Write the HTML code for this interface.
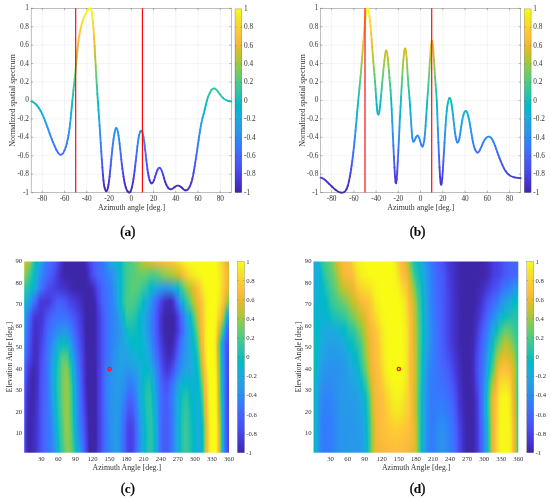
<!DOCTYPE html>
<html><head><meta charset="utf-8"><title>Figure</title>
<style>html,body{margin:0;padding:0;background:#fff}svg{display:block}text{font-family:'Liberation Serif', serif}.cap{font-weight:bold;font-size:13.5px;fill:#000;letter-spacing:-0.5px}.par{font-weight:normal;font-size:13.9px;stroke:#000;stroke-width:0.3px}</style></head><body>
<svg width="550" height="499" viewBox="0 0 550 499">
<rect width="550" height="499" fill="#fff"/>
<path d="M42.32 8.3V192.6M64.57 8.3V192.6M86.81 8.3V192.6M109.06 8.3V192.6M131.3 8.3V192.6M153.54 8.3V192.6M175.79 8.3V192.6M198.03 8.3V192.6M220.28 8.3V192.6M31.2 174.17H231.4M31.2 155.74H231.4M31.2 137.31H231.4M31.2 118.88H231.4M31.2 100.45H231.4M31.2 82.02H231.4M31.2 63.59H231.4M31.2 45.16H231.4M31.2 26.73H231.4" stroke="#262626" stroke-opacity="0.085" stroke-width="0.6" fill="none"/>
<rect x="31.2" y="8.3" width="200.2" height="184.3" fill="none" stroke="#262626" stroke-width="0.6" stroke-opacity="0.5"/>
<path d="M42.32 192.6v-2.0 M42.32 8.3v2.0M64.57 192.6v-2.0 M64.57 8.3v2.0M86.81 192.6v-2.0 M86.81 8.3v2.0M109.06 192.6v-2.0 M109.06 8.3v2.0M131.3 192.6v-2.0 M131.3 8.3v2.0M153.54 192.6v-2.0 M153.54 8.3v2.0M175.79 192.6v-2.0 M175.79 8.3v2.0M198.03 192.6v-2.0 M198.03 8.3v2.0M220.28 192.6v-2.0 M220.28 8.3v2.0M31.2 192.6h2.0 M231.4 192.6h-2.0M31.2 174.17h2.0 M231.4 174.17h-2.0M31.2 155.74h2.0 M231.4 155.74h-2.0M31.2 137.31h2.0 M231.4 137.31h-2.0M31.2 118.88h2.0 M231.4 118.88h-2.0M31.2 100.45h2.0 M231.4 100.45h-2.0M31.2 82.02h2.0 M231.4 82.02h-2.0M31.2 63.59h2.0 M231.4 63.59h-2.0M31.2 45.16h2.0 M231.4 45.16h-2.0M31.2 26.73h2.0 M231.4 26.73h-2.0M31.2 8.3h2.0 M231.4 8.3h-2.0" stroke="#262626" stroke-width="0.6" stroke-opacity="0.5" fill="none"/>
<g fill="none" stroke-width="1.85" stroke-linecap="round" stroke-linejoin="round">
<polyline points="31.2,101.37 31.76,101.55 32.31,101.76 32.87,102.03 33.42,102.34 33.98,102.7 34.54,103.1 35.09,103.56 35.65,104.06 36.2,104.62" stroke="#09bcbe"/>
<polyline points="36.2,104.62 36.76,105.22 37.32,105.88 37.87,106.59 38.43,107.35 38.99,108.17" stroke="#01b9c7"/>
<polyline points="38.99,108.17 39.54,109.05 40.1,109.98 40.65,110.96" stroke="#05b6ce"/>
<polyline points="40.65,110.96 41.21,112.01 41.77,113.11 42.32,114.27" stroke="#0eb2d4"/>
<polyline points="42.32,114.27 42.88,115.49 43.43,116.77 43.99,118.1" stroke="#17aedb"/>
<polyline points="43.99,118.1 44.55,119.47 45.1,120.89" stroke="#1ca9df"/>
<polyline points="45.1,120.89 45.66,122.34 46.22,123.82" stroke="#20a5e2"/>
<polyline points="46.22,123.82 46.77,125.33 47.33,126.87" stroke="#23a0e5"/>
<polyline points="47.33,126.87 47.88,128.42 48.44,129.98" stroke="#259be8"/>
<polyline points="48.44,129.98 49,131.55 49.55,133.12" stroke="#2896ec"/>
<polyline points="49.55,133.12 50.11,134.67 50.66,136.21" stroke="#2b90ef"/>
<polyline points="50.66,136.21 51.22,137.72 51.78,139.2" stroke="#2d8bf4"/>
<polyline points="51.78,139.2 52.33,140.65 52.89,142.05" stroke="#2e86f8"/>
<polyline points="52.89,142.05 53.44,143.41 54,144.73 54.56,145.99" stroke="#307ffb"/>
<polyline points="54.56,145.99 55.11,147.22 55.67,148.39 56.23,149.51" stroke="#3677fe"/>
<polyline points="56.23,149.51 56.78,150.58 57.34,151.57 57.89,152.46" stroke="#3d70ff"/>
<polyline points="57.89,152.46 58.45,153.24 59.01,153.89 59.56,154.38 60.12,154.7 60.67,154.82 61.23,154.73 61.79,154.43 62.34,153.94 62.9,153.25 63.45,152.39 64.01,151.36 64.57,150.17" stroke="#416cfe"/>
<polyline points="64.57,150.17 65.12,148.8 65.68,147.24" stroke="#3875fe"/>
<polyline points="65.68,147.24 66.23,145.45 66.79,143.41" stroke="#327cfc"/>
<polyline points="66.79,143.41 67.35,141.09 67.9,138.46" stroke="#2e85f8"/>
<polyline points="67.9,138.46 68.46,135.47" stroke="#2d8cf3"/>
<polyline points="68.46,135.47 69.02,132.04" stroke="#2b92ee"/>
<polyline points="69.02,132.04 69.57,128.07" stroke="#2698ea"/>
<polyline points="69.57,128.07 70.13,123.49" stroke="#249fe5"/>
<polyline points="70.13,123.49 70.68,118.26" stroke="#1ea7e1"/>
<polyline points="70.68,118.26 71.24,112.59" stroke="#16afd9"/>
<polyline points="71.24,112.59 71.8,106.72" stroke="#05b6ce"/>
<polyline points="71.8,106.72 72.35,100.91" stroke="#05bbc1"/>
<polyline points="72.35,100.91 72.91,95.3" stroke="#1cc0b3"/>
<polyline points="72.91,95.3 73.46,89.92" stroke="#2dc4a6"/>
<polyline points="73.46,89.92 74.02,84.78" stroke="#37c897"/>
<polyline points="74.02,84.78 74.58,79.84" stroke="#47cb87"/>
<polyline points="74.58,79.84 75.13,74.82" stroke="#5ccc76"/>
<polyline points="75.13,74.82 75.69,69.37" stroke="#75cc62"/>
<polyline points="75.69,69.37 76.25,63.24" stroke="#92ca4c"/>
<polyline points="76.25,63.24 76.8,56.75" stroke="#b0c636"/>
<polyline points="76.8,56.75 77.36,50.5" stroke="#cbc029"/>
<polyline points="77.36,50.5 77.91,45.05" stroke="#e1bc2b"/>
<polyline points="77.91,45.05 78.47,40.54" stroke="#f1ba37"/>
<polyline points="78.47,40.54 79.03,36.81" stroke="#fcbc3d"/>
<polyline points="79.03,36.81 79.58,33.67" stroke="#fec239"/>
<polyline points="79.58,33.67 80.14,30.93 80.69,28.44" stroke="#fdcb33"/>
<polyline points="80.69,28.44 81.25,26.13 81.81,24.01" stroke="#fad52d"/>
<polyline points="81.81,24.01 82.36,22.08 82.92,20.32" stroke="#f6de29"/>
<polyline points="82.92,20.32 83.47,18.75 84.03,17.34" stroke="#f5e526"/>
<polyline points="84.03,17.34 84.59,16.07 85.14,14.93 85.7,13.88" stroke="#f5ec22"/>
<polyline points="85.7,13.88 86.26,12.9 86.81,11.97 87.37,11.07" stroke="#f6f21d"/>
<polyline points="87.37,11.07 87.92,10.19 88.48,9.39 89.04,8.74 89.59,8.3" stroke="#f8f817"/>
<polyline points="89.59,8.3 90.15,8.3 90.7,8.59 91.26,9.86 91.82,12.27" stroke="#f8f917"/>
<polyline points="91.82,12.27 92.37,16.1" stroke="#f6ef20"/>
<polyline points="92.37,16.1 92.93,21.52" stroke="#f5e526"/>
<polyline points="92.93,21.52 93.48,28.4" stroke="#f9d82c"/>
<polyline points="93.48,28.4 94.04,36.58" stroke="#fec835"/>
<polyline points="94.04,36.58 94.6,45.89" stroke="#f6ba3b"/>
<polyline points="94.6,45.89 95.15,55.96" stroke="#d6be28"/>
<polyline points="95.15,55.96 95.71,66.24" stroke="#abc739"/>
<polyline points="95.71,66.24 96.27,76.21" stroke="#79cc5e"/>
<polyline points="96.27,76.21 96.82,85.45" stroke="#4dcb82"/>
<polyline points="96.82,85.45 97.38,94" stroke="#32c69e"/>
<polyline points="97.38,94 97.93,102.02" stroke="#1cc0b3"/>
<polyline points="97.93,102.02 98.49,109.74" stroke="#01b9c6"/>
<polyline points="98.49,109.74 99.05,117.51" stroke="#12b1d6"/>
<polyline points="99.05,117.51 99.6,125.7" stroke="#1fa6e2"/>
<polyline points="99.6,125.7 100.16,134.27" stroke="#2698ea"/>
<polyline points="100.16,134.27 100.71,142.96" stroke="#2d89f5"/>
<polyline points="100.71,142.96 101.27,151.47" stroke="#3579fd"/>
<polyline points="101.27,151.47 101.83,159.64" stroke="#4367fd"/>
<polyline points="101.83,159.64 102.38,167.39" stroke="#4758f8"/>
<polyline points="102.38,167.39 102.94,174.49" stroke="#4849ed"/>
<polyline points="102.94,174.49 103.49,180.5" stroke="#463ddf"/>
<polyline points="103.49,180.5 104.05,184.95" stroke="#4434cf"/>
<polyline points="104.05,184.95 104.61,187.81" stroke="#422fc1"/>
<polyline points="104.61,187.81 105.16,189.57 105.72,190.72" stroke="#402bb6"/>
<polyline points="105.72,190.72 106.28,191.22 106.83,190.86 107.39,189.64 107.94,187.59" stroke="#402ab3"/>
<polyline points="107.94,187.59 108.5,184.72" stroke="#422fc2"/>
<polyline points="108.5,184.72 109.06,180.98" stroke="#4434ce"/>
<polyline points="109.06,180.98 109.61,176.36" stroke="#463bdc"/>
<polyline points="109.61,176.36 110.17,171.02" stroke="#4744e8"/>
<polyline points="110.17,171.02 110.72,165.27" stroke="#484ff2"/>
<polyline points="110.72,165.27 111.28,159.43" stroke="#475af9"/>
<polyline points="111.28,159.43 111.84,153.78" stroke="#4465fd"/>
<polyline points="111.84,153.78 112.39,148.48" stroke="#3d70ff"/>
<polyline points="112.39,148.48 112.95,143.63" stroke="#337bfc"/>
<polyline points="112.95,143.63 113.5,139.36" stroke="#2e84f8"/>
<polyline points="113.5,139.36 114.06,135.73" stroke="#2d8bf4"/>
<polyline points="114.06,135.73 114.62,132.73" stroke="#2b91ef"/>
<polyline points="114.62,132.73 115.17,130.34 115.73,128.6" stroke="#2798ea"/>
<polyline points="115.73,128.6 116.29,127.82 116.84,128.34 117.4,129.97 117.95,132.39" stroke="#2699e9"/>
<polyline points="117.95,132.39 118.51,135.48" stroke="#2b92ee"/>
<polyline points="118.51,135.48 119.07,139.27" stroke="#2d8cf3"/>
<polyline points="119.07,139.27 119.62,143.8" stroke="#2e84f9"/>
<polyline points="119.62,143.8 120.18,148.88" stroke="#337afd"/>
<polyline points="120.18,148.88 120.73,154.2" stroke="#3e6fff"/>
<polyline points="120.73,154.2 121.29,159.43" stroke="#4465fd"/>
<polyline points="121.29,159.43 121.85,164.28" stroke="#475bf9"/>
<polyline points="121.85,164.28 122.4,168.73" stroke="#4852f4"/>
<polyline points="122.4,168.73 122.96,172.81" stroke="#484aed"/>
<polyline points="122.96,172.81 123.51,176.54" stroke="#4742e6"/>
<polyline points="123.51,176.54 124.07,179.91" stroke="#463bdd"/>
<polyline points="124.07,179.91 124.63,182.87" stroke="#4536d4"/>
<polyline points="124.63,182.87 125.18,185.35 125.74,187.3" stroke="#4331c6"/>
<polyline points="125.74,187.3 126.3,188.81 126.85,189.98 127.41,190.94" stroke="#402bb6"/>
<polyline points="127.41,190.94 127.96,191.74 128.52,192.33 129.08,192.6 129.63,192.48 130.19,191.94 130.74,190.96 131.3,189.5 131.86,187.56" stroke="#3f28ae"/>
<polyline points="131.86,187.56 132.41,185.12 132.97,182.2" stroke="#4331c6"/>
<polyline points="132.97,182.2 133.52,178.79" stroke="#4537d7"/>
<polyline points="133.52,178.79 134.08,174.92" stroke="#463ee1"/>
<polyline points="134.08,174.92 134.64,170.61" stroke="#4746ea"/>
<polyline points="134.64,170.61 135.19,165.94" stroke="#484ef1"/>
<polyline points="135.19,165.94 135.75,161.04" stroke="#4758f8"/>
<polyline points="135.75,161.04 136.31,156.06" stroke="#4561fc"/>
<polyline points="136.31,156.06 136.86,151.13" stroke="#416bfe"/>
<polyline points="136.86,151.13 137.42,146.4" stroke="#3875fe"/>
<polyline points="137.42,146.4 137.97,142.06" stroke="#307ffb"/>
<polyline points="137.97,142.06 138.53,138.29" stroke="#2e86f7"/>
<polyline points="138.53,138.29 139.09,135.29" stroke="#2d8df2"/>
<polyline points="139.09,135.29 139.64,133.14 140.2,131.72" stroke="#2a93ee"/>
<polyline points="140.2,131.72 140.75,130.95 141.31,130.72 141.87,131.11 142.42,132.25 142.98,134.27 143.53,137.24" stroke="#2994ed"/>
<polyline points="143.53,137.24 144.09,141.02" stroke="#2d88f6"/>
<polyline points="144.09,141.02 144.65,145.39" stroke="#2f81fa"/>
<polyline points="144.65,145.39 145.2,150.15" stroke="#3677fe"/>
<polyline points="145.2,150.15 145.76,155.1" stroke="#406dfe"/>
<polyline points="145.76,155.1 146.31,160.03" stroke="#4563fd"/>
<polyline points="146.31,160.03 146.87,164.75" stroke="#475af9"/>
<polyline points="146.87,164.75 147.43,169.08" stroke="#4851f3"/>
<polyline points="147.43,169.08 147.98,172.82" stroke="#4849ed"/>
<polyline points="147.98,172.82 148.54,175.9" stroke="#4743e7"/>
<polyline points="148.54,175.9 149.1,178.37 149.65,180.29" stroke="#463bdd"/>
<polyline points="149.65,180.29 150.21,181.74 150.76,182.74 151.32,183.28" stroke="#4435d1"/>
<polyline points="151.32,183.28 151.88,183.37 152.43,183.02 152.99,182.28 153.54,181.21 154.1,179.85" stroke="#4435d1"/>
<polyline points="154.1,179.85 154.66,178.26 155.21,176.53" stroke="#463bdd"/>
<polyline points="155.21,176.53 155.77,174.74 156.33,173" stroke="#4742e6"/>
<polyline points="156.33,173 156.88,171.41 157.44,170.05" stroke="#4848ec"/>
<polyline points="157.44,170.05 157.99,168.96 158.55,168.19 159.11,167.75 159.66,167.69 160.22,168.02 160.77,168.72 161.33,169.76 161.89,171.08 162.44,172.66 163,174.43" stroke="#484cef"/>
<polyline points="163,174.43 163.55,176.32 164.11,178.24" stroke="#473fe2"/>
<polyline points="164.11,178.24 164.67,180.11 165.22,181.86" stroke="#4538d8"/>
<polyline points="165.22,181.86 165.78,183.41 166.34,184.74" stroke="#4433cd"/>
<polyline points="166.34,184.74 166.89,185.88 167.45,186.83 168,187.6" stroke="#422fc1"/>
<polyline points="168,187.6 168.56,188.22 169.12,188.69 169.67,189.02 170.23,189.21 170.78,189.26 171.34,189.19 171.9,189 172.45,188.7 173.01,188.33 173.56,187.92 174.12,187.48 174.68,187.04" stroke="#412cb9"/>
<polyline points="174.68,187.04 175.23,186.64 175.79,186.28 176.34,185.98 176.9,185.76 177.46,185.62 178.01,185.57 178.57,185.64 179.13,185.81 179.68,186.07 180.24,186.42 180.79,186.83 181.35,187.28" stroke="#422fc2"/>
<polyline points="181.35,187.28 181.91,187.77 182.46,188.28 183.02,188.78 183.57,189.26 184.13,189.69 184.69,190.05 185.24,190.3" stroke="#402bb7"/>
<polyline points="185.24,190.3 185.8,190.42 186.36,190.39 186.91,190.18 187.47,189.8 188.02,189.26 188.58,188.54 189.14,187.67 189.69,186.64" stroke="#402bb6"/>
<polyline points="189.69,186.64 190.25,185.44 190.8,184.04 191.36,182.4" stroke="#4331c8"/>
<polyline points="191.36,182.4 191.92,180.47 192.47,178.22" stroke="#4538d7"/>
<polyline points="192.47,178.22 193.03,175.64 193.58,172.74" stroke="#4740e4"/>
<polyline points="193.58,172.74 194.14,169.59" stroke="#4849ed"/>
<polyline points="194.14,169.59 194.7,166.23" stroke="#484ff2"/>
<polyline points="194.7,166.23 195.25,162.71" stroke="#4756f6"/>
<polyline points="195.25,162.71 195.81,159.08" stroke="#475dfa"/>
<polyline points="195.81,159.08 196.36,155.38" stroke="#4564fd"/>
<polyline points="196.36,155.38 196.92,151.62" stroke="#416bfe"/>
<polyline points="196.92,151.62 197.48,147.83" stroke="#3a73fe"/>
<polyline points="197.48,147.83 198.03,144.03" stroke="#327bfc"/>
<polyline points="198.03,144.03 198.59,140.24" stroke="#2e83f9"/>
<polyline points="198.59,140.24 199.15,136.5" stroke="#2d8af5"/>
<polyline points="199.15,136.5 199.7,132.86" stroke="#2b90ef"/>
<polyline points="199.7,132.86 200.26,129.39" stroke="#2797eb"/>
<polyline points="200.26,129.39 200.81,126.15" stroke="#259ce7"/>
<polyline points="200.81,126.15 201.37,123.21" stroke="#22a1e4"/>
<polyline points="201.37,123.21 201.93,120.6 202.48,118.25" stroke="#1ea7e1"/>
<polyline points="202.48,118.25 203.04,116.08 203.59,113.99" stroke="#17aeda"/>
<polyline points="203.59,113.99 204.15,111.89 204.71,109.69" stroke="#0cb3d3"/>
<polyline points="204.71,109.69 205.26,107.37 205.82,105.02" stroke="#01b8c9"/>
<polyline points="205.82,105.02 206.38,102.72 206.93,100.55" stroke="#08bcbf"/>
<polyline points="206.93,100.55 207.49,98.61 208.04,96.94" stroke="#1abfb5"/>
<polyline points="208.04,96.94 208.6,95.52 209.16,94.25 209.71,93.08" stroke="#27c2ac"/>
<polyline points="209.71,93.08 210.27,91.97 210.82,90.96 211.38,90.09" stroke="#2fc5a3"/>
<polyline points="211.38,90.09 211.94,89.39 212.49,88.9 213.05,88.59 213.6,88.46 214.16,88.47 214.72,88.62 215.27,88.88 215.83,89.26 216.39,89.74 216.94,90.31 217.5,90.97 218.05,91.69" stroke="#33c69d"/>
<polyline points="218.05,91.69 218.61,92.45 219.17,93.23 219.72,94 220.28,94.75" stroke="#2cc4a7"/>
<polyline points="220.28,94.75 220.83,95.47 221.39,96.15 221.95,96.79 222.5,97.39 223.06,97.94" stroke="#23c1af"/>
<polyline points="223.06,97.94 223.61,98.44 224.17,98.88 224.73,99.28 225.28,99.63 225.84,99.94 226.4,100.21 226.95,100.45 227.51,100.66 228.06,100.84" stroke="#16bfb7"/>
<polyline points="228.06,100.84 228.62,100.99 229.18,101.13 229.73,101.25 230.29,101.36 230.84,101.46 231.4,101.56" stroke="#0ebebb"/>
</g>
<path d="M75.69 8.3V192.6" stroke="#ff0000" stroke-width="1.15"/>
<path d="M142.42 8.3V192.6" stroke="#ff0000" stroke-width="1.15"/>
<text x="42.32" y="200.8" font-size="7.3" text-anchor="middle" fill="#333333">-80</text>
<text x="64.57" y="200.8" font-size="7.3" text-anchor="middle" fill="#333333">-60</text>
<text x="86.81" y="200.8" font-size="7.3" text-anchor="middle" fill="#333333">-40</text>
<text x="109.06" y="200.8" font-size="7.3" text-anchor="middle" fill="#333333">-20</text>
<text x="131.3" y="200.8" font-size="7.3" text-anchor="middle" fill="#333333">0</text>
<text x="153.54" y="200.8" font-size="7.3" text-anchor="middle" fill="#333333">20</text>
<text x="175.79" y="200.8" font-size="7.3" text-anchor="middle" fill="#333333">40</text>
<text x="198.03" y="200.8" font-size="7.3" text-anchor="middle" fill="#333333">60</text>
<text x="220.28" y="200.8" font-size="7.3" text-anchor="middle" fill="#333333">80</text>
<text x="29" y="194.61" font-size="7.3" text-anchor="end" fill="#333333">-1</text>
<text x="29" y="176.18" font-size="7.3" text-anchor="end" fill="#333333">-0.8</text>
<text x="29" y="157.75" font-size="7.3" text-anchor="end" fill="#333333">-0.6</text>
<text x="29" y="139.32" font-size="7.3" text-anchor="end" fill="#333333">-0.4</text>
<text x="29" y="120.89" font-size="7.3" text-anchor="end" fill="#333333">-0.2</text>
<text x="29" y="102.46" font-size="7.3" text-anchor="end" fill="#333333">0</text>
<text x="29" y="84.03" font-size="7.3" text-anchor="end" fill="#333333">0.2</text>
<text x="29" y="65.6" font-size="7.3" text-anchor="end" fill="#333333">0.4</text>
<text x="29" y="47.17" font-size="7.3" text-anchor="end" fill="#333333">0.6</text>
<text x="29" y="28.74" font-size="7.3" text-anchor="end" fill="#333333">0.8</text>
<text x="29" y="10.31" font-size="7.3" text-anchor="end" fill="#333333">1</text>
<text x="98" y="209.7" font-size="7.8" textLength="67" lengthAdjust="spacingAndGlyphs" fill="#333333">Azimuth angle [deg.]</text>
<text transform="translate(15.3 146.8) rotate(-90)" font-size="7.8" textLength="92.5" lengthAdjust="spacingAndGlyphs" fill="#333333">Normalized spatial spectrum</text>
<linearGradient id="cb0" x1="0" y1="0" x2="0" y2="1"><stop offset="0" stop-color="#f9fb15"/><stop offset="0.03" stop-color="#f6ef20"/><stop offset="0.06" stop-color="#f5e327"/><stop offset="0.09" stop-color="#f9d62d"/><stop offset="0.12" stop-color="#feca33"/><stop offset="0.16" stop-color="#febe3c"/><stop offset="0.19" stop-color="#f1ba37"/><stop offset="0.22" stop-color="#debc2a"/><stop offset="0.25" stop-color="#c8c129"/><stop offset="0.28" stop-color="#afc637"/><stop offset="0.31" stop-color="#94ca4a"/><stop offset="0.34" stop-color="#77cc60"/><stop offset="0.38" stop-color="#5ccc76"/><stop offset="0.41" stop-color="#44ca8a"/><stop offset="0.44" stop-color="#34c79c"/><stop offset="0.47" stop-color="#28c2ab"/><stop offset="0.5" stop-color="#12beb9"/><stop offset="0.53" stop-color="#01b9c6"/><stop offset="0.56" stop-color="#0cb3d3"/><stop offset="0.59" stop-color="#1aacdd"/><stop offset="0.62" stop-color="#21a3e3"/><stop offset="0.66" stop-color="#269ae9"/><stop offset="0.69" stop-color="#2c90f0"/><stop offset="0.72" stop-color="#2e85f8"/><stop offset="0.75" stop-color="#347afd"/><stop offset="0.78" stop-color="#3f6efe"/><stop offset="0.81" stop-color="#4562fc"/><stop offset="0.84" stop-color="#4757f7"/><stop offset="0.88" stop-color="#484cef"/><stop offset="0.91" stop-color="#4741e5"/><stop offset="0.94" stop-color="#4536d5"/><stop offset="0.97" stop-color="#422ebf"/><stop offset="1" stop-color="#3e26a8"/></linearGradient>
<rect x="235" y="8.9" width="6.8" height="183.7" fill="url(#cb0)"/>
<rect x="235" y="8.9" width="6.8" height="183.7" fill="none" stroke="#262626" stroke-width="0.4" stroke-opacity="0.55"/>
<text x="244" y="11.01" font-size="7.3" fill="#333333">1</text>
<path d="M241.8 27.27h-1.2M235 27.27h1.2" stroke="#262626" stroke-width="0.4" stroke-opacity="0.7"/>
<text x="244" y="29.38" font-size="7.3" fill="#333333">0.8</text>
<path d="M241.8 45.64h-1.2M235 45.64h1.2" stroke="#262626" stroke-width="0.4" stroke-opacity="0.7"/>
<text x="244" y="47.75" font-size="7.3" fill="#333333">0.6</text>
<path d="M241.8 64.01h-1.2M235 64.01h1.2" stroke="#262626" stroke-width="0.4" stroke-opacity="0.7"/>
<text x="244" y="66.12" font-size="7.3" fill="#333333">0.4</text>
<path d="M241.8 82.38h-1.2M235 82.38h1.2" stroke="#262626" stroke-width="0.4" stroke-opacity="0.7"/>
<text x="244" y="84.49" font-size="7.3" fill="#333333">0.2</text>
<path d="M241.8 100.75h-1.2M235 100.75h1.2" stroke="#262626" stroke-width="0.4" stroke-opacity="0.7"/>
<text x="244" y="102.86" font-size="7.3" fill="#333333">0</text>
<path d="M241.8 119.12h-1.2M235 119.12h1.2" stroke="#262626" stroke-width="0.4" stroke-opacity="0.7"/>
<text x="244" y="121.23" font-size="7.3" fill="#333333">-0.2</text>
<path d="M241.8 137.49h-1.2M235 137.49h1.2" stroke="#262626" stroke-width="0.4" stroke-opacity="0.7"/>
<text x="244" y="139.6" font-size="7.3" fill="#333333">-0.4</text>
<path d="M241.8 155.86h-1.2M235 155.86h1.2" stroke="#262626" stroke-width="0.4" stroke-opacity="0.7"/>
<text x="244" y="157.97" font-size="7.3" fill="#333333">-0.6</text>
<path d="M241.8 174.23h-1.2M235 174.23h1.2" stroke="#262626" stroke-width="0.4" stroke-opacity="0.7"/>
<text x="244" y="176.34" font-size="7.3" fill="#333333">-0.8</text>
<text x="244" y="194.71" font-size="7.3" fill="#333333">-1</text>
<path d="M331.62 8.3V192.6M353.87 8.3V192.6M376.11 8.3V192.6M398.36 8.3V192.6M420.6 8.3V192.6M442.84 8.3V192.6M465.09 8.3V192.6M487.33 8.3V192.6M509.58 8.3V192.6M320.5 174.17H520.7M320.5 155.74H520.7M320.5 137.31H520.7M320.5 118.88H520.7M320.5 100.45H520.7M320.5 82.02H520.7M320.5 63.59H520.7M320.5 45.16H520.7M320.5 26.73H520.7" stroke="#262626" stroke-opacity="0.085" stroke-width="0.6" fill="none"/>
<rect x="320.5" y="8.3" width="200.2" height="184.3" fill="none" stroke="#262626" stroke-width="0.6" stroke-opacity="0.5"/>
<path d="M331.62 192.6v-2.0 M331.62 8.3v2.0M353.87 192.6v-2.0 M353.87 8.3v2.0M376.11 192.6v-2.0 M376.11 8.3v2.0M398.36 192.6v-2.0 M398.36 8.3v2.0M420.6 192.6v-2.0 M420.6 8.3v2.0M442.84 192.6v-2.0 M442.84 8.3v2.0M465.09 192.6v-2.0 M465.09 8.3v2.0M487.33 192.6v-2.0 M487.33 8.3v2.0M509.58 192.6v-2.0 M509.58 8.3v2.0M320.5 192.6h2.0 M520.7 192.6h-2.0M320.5 174.17h2.0 M520.7 174.17h-2.0M320.5 155.74h2.0 M520.7 155.74h-2.0M320.5 137.31h2.0 M520.7 137.31h-2.0M320.5 118.88h2.0 M520.7 118.88h-2.0M320.5 100.45h2.0 M520.7 100.45h-2.0M320.5 82.02h2.0 M520.7 82.02h-2.0M320.5 63.59h2.0 M520.7 63.59h-2.0M320.5 45.16h2.0 M520.7 45.16h-2.0M320.5 26.73h2.0 M520.7 26.73h-2.0M320.5 8.3h2.0 M520.7 8.3h-2.0" stroke="#262626" stroke-width="0.6" stroke-opacity="0.5" fill="none"/>
<g fill="none" stroke-width="1.85" stroke-linecap="round" stroke-linejoin="round">
<polyline points="320.5,177.58 321.06,177.68 321.61,177.85 322.17,178.08 322.72,178.37 323.28,178.7 323.84,179.08 324.39,179.49 324.95,179.94 325.5,180.42" stroke="#463adc"/>
<polyline points="325.5,180.42 326.06,180.92 326.62,181.44 327.17,181.97 327.73,182.51 328.29,183.05 328.84,183.59" stroke="#4435d1"/>
<polyline points="328.84,183.59 329.4,184.13 329.95,184.67 330.51,185.2 331.07,185.74 331.62,186.27 332.18,186.79" stroke="#4331c5"/>
<polyline points="332.18,186.79 332.73,187.32 333.29,187.84 333.85,188.34 334.4,188.84 334.96,189.31 335.51,189.77" stroke="#412cba"/>
<polyline points="335.51,189.77 336.07,190.2 336.63,190.61 337.18,190.99 337.74,191.33 338.3,191.64 338.85,191.92 339.41,192.15 339.96,192.35 340.52,192.5 341.08,192.6" stroke="#3f28ad"/>
<polyline points="341.08,192.6 341.63,192.6 342.19,192.6 342.74,192.6 343.3,192.47 343.86,192.24 344.41,191.9 344.97,191.41 345.52,190.76 346.08,189.9 346.64,188.82" stroke="#3e28ac"/>
<polyline points="346.64,188.82 347.19,187.48 347.75,185.84" stroke="#412dbd"/>
<polyline points="347.75,185.84 348.31,183.89 348.86,181.59" stroke="#4433cb"/>
<polyline points="348.86,181.59 349.42,178.97 349.97,176.03" stroke="#463adb"/>
<polyline points="349.97,176.03 350.53,172.78" stroke="#4743e7"/>
<polyline points="350.53,172.78 351.09,169.25" stroke="#4849ed"/>
<polyline points="351.09,169.25 351.64,165.43" stroke="#4850f3"/>
<polyline points="351.64,165.43 352.2,161.34" stroke="#4758f8"/>
<polyline points="352.2,161.34 352.75,156.96" stroke="#4660fb"/>
<polyline points="352.75,156.96 353.31,152.3" stroke="#4269fe"/>
<polyline points="353.31,152.3 353.87,147.36" stroke="#3b73fe"/>
<polyline points="353.87,147.36 354.42,142.12" stroke="#317efb"/>
<polyline points="354.42,142.12 354.98,136.58" stroke="#2d88f6"/>
<polyline points="354.98,136.58 355.54,130.71" stroke="#2a92ee"/>
<polyline points="355.54,130.71 356.09,124.58" stroke="#259ce7"/>
<polyline points="356.09,124.58 356.65,118.3" stroke="#1fa6e2"/>
<polyline points="356.65,118.3 357.2,111.98" stroke="#15afd9"/>
<polyline points="357.2,111.98 357.76,105.74" stroke="#03b7cc"/>
<polyline points="357.76,105.74 358.32,99.73" stroke="#08bcbe"/>
<polyline points="358.32,99.73 358.87,93.98" stroke="#21c1b0"/>
<polyline points="358.87,93.98 359.43,88.32" stroke="#30c5a2"/>
<polyline points="359.43,88.32 359.98,82.56" stroke="#3cc991"/>
<polyline points="359.98,82.56 360.54,76.49" stroke="#52cc7e"/>
<polyline points="360.54,76.49 361.1,70.06" stroke="#6fcd66"/>
<polyline points="361.1,70.06 361.65,63.3" stroke="#90ca4d"/>
<polyline points="361.65,63.3 362.21,56.22" stroke="#b1c635"/>
<polyline points="362.21,56.22 362.76,48.9" stroke="#d0c028"/>
<polyline points="362.76,48.9 363.32,41.56" stroke="#eabb30"/>
<polyline points="363.32,41.56 363.88,34.46" stroke="#fdbd3d"/>
<polyline points="363.88,34.46 364.43,27.85" stroke="#fdca33"/>
<polyline points="364.43,27.85 364.99,21.95" stroke="#f9d82c"/>
<polyline points="364.99,21.95 365.55,16.93" stroke="#f5e427"/>
<polyline points="365.55,16.93 366.1,12.93" stroke="#f5ed21"/>
<polyline points="366.1,12.93 366.66,10.1" stroke="#f7f41c"/>
<polyline points="366.66,10.1 367.21,8.56 367.77,8.41 368.33,9.67 368.88,12.2 369.44,15.9" stroke="#f7f61a"/>
<polyline points="369.44,15.9 369.99,20.64" stroke="#f5e625"/>
<polyline points="369.99,20.64 370.55,26.29" stroke="#f7db2a"/>
<polyline points="370.55,26.29 371.11,32.73" stroke="#fdce31"/>
<polyline points="371.11,32.73 371.66,39.81" stroke="#fec03b"/>
<polyline points="371.66,39.81 372.22,47.23" stroke="#efba35"/>
<polyline points="372.22,47.23 372.77,54.62" stroke="#d6be28"/>
<polyline points="372.77,54.62 373.33,61.63" stroke="#b8c431"/>
<polyline points="373.33,61.63 373.89,68.12" stroke="#99c946"/>
<polyline points="373.89,68.12 374.44,74.52" stroke="#78cc5f"/>
<polyline points="374.44,74.52 375,81.3" stroke="#59cc78"/>
<polyline points="375,81.3 375.56,88.91" stroke="#3dc990"/>
<polyline points="375.56,88.91 376.11,97.01" stroke="#2cc4a7"/>
<polyline points="376.11,97.01 376.67,104.65" stroke="#10beba"/>
<polyline points="376.67,104.65 377.22,110.59" stroke="#01b8ca"/>
<polyline points="377.22,110.59 377.78,113.8" stroke="#0db3d3"/>
<polyline points="377.78,113.8 378.34,114.66 378.89,113.69 379.45,110.92" stroke="#10b2d5"/>
<polyline points="379.45,110.92 380,106.55" stroke="#03b7cc"/>
<polyline points="380,106.55 380.56,101.16" stroke="#05bbc1"/>
<polyline points="380.56,101.16 381.12,95.23" stroke="#1cc0b4"/>
<polyline points="381.12,95.23 381.67,89" stroke="#2ec4a4"/>
<polyline points="381.67,89 382.23,82.68" stroke="#3bc993"/>
<polyline points="382.23,82.68 382.78,76.49" stroke="#52cc7e"/>
<polyline points="382.78,76.49 383.34,70.62" stroke="#6dcd67"/>
<polyline points="383.34,70.62 383.9,65.14" stroke="#8acb52"/>
<polyline points="383.9,65.14 384.45,60.12" stroke="#a3c83e"/>
<polyline points="384.45,60.12 385.01,55.62" stroke="#b9c430"/>
<polyline points="385.01,55.62 385.56,52.11" stroke="#cac129"/>
<polyline points="385.56,52.11 386.12,50.32 386.68,50.87 387.23,53.67 387.79,58.25" stroke="#cec028"/>
<polyline points="387.79,58.25 388.35,64.13" stroke="#aac73a"/>
<polyline points="388.35,64.13 388.9,70.76" stroke="#8ccb50"/>
<polyline points="388.9,70.76 389.46,77.55" stroke="#6acd69"/>
<polyline points="389.46,77.55 390.01,83.97" stroke="#4dcc82"/>
<polyline points="390.01,83.97 390.57,90.54" stroke="#37c897"/>
<polyline points="390.57,90.54 391.13,98.56" stroke="#28c3ab"/>
<polyline points="391.13,98.56 391.68,109.09" stroke="#05bbc1"/>
<polyline points="391.68,109.09 392.24,121.28" stroke="#15afd9"/>
<polyline points="392.24,121.28 392.79,133.63" stroke="#259de7"/>
<polyline points="392.79,133.63 393.35,145.53" stroke="#2d88f6"/>
<polyline points="393.35,145.53 393.91,156.72" stroke="#3d70ff"/>
<polyline points="393.91,156.72 394.46,167.24" stroke="#475bf9"/>
<polyline points="394.46,167.24 395.02,176.37" stroke="#4848ec"/>
<polyline points="395.02,176.37 395.57,182.31" stroke="#4639da"/>
<polyline points="395.57,182.31 396.13,183.33 396.69,179.24" stroke="#4536d3"/>
<polyline points="396.69,179.24 397.24,171.16" stroke="#4741e5"/>
<polyline points="397.24,171.16 397.8,161.01" stroke="#4853f4"/>
<polyline points="397.8,161.01 398.36,150.28" stroke="#4367fd"/>
<polyline points="398.36,150.28 398.91,139.15" stroke="#317efb"/>
<polyline points="398.91,139.15 399.47,127.75" stroke="#2a93ee"/>
<polyline points="399.47,127.75 400.02,116.75" stroke="#20a5e2"/>
<polyline points="400.02,116.75 400.58,106.49" stroke="#0bb4d2"/>
<polyline points="400.58,106.49 401.14,96.39" stroke="#0dbdbb"/>
<polyline points="401.14,96.39 401.69,86.24" stroke="#2fc5a2"/>
<polyline points="401.69,86.24 402.25,76.49" stroke="#4acb84"/>
<polyline points="402.25,76.49 402.8,67.63" stroke="#75cc61"/>
<polyline points="402.8,67.63 403.36,60.02" stroke="#9ec942"/>
<polyline points="403.36,60.02 403.92,54.04" stroke="#bdc32e"/>
<polyline points="403.92,54.04 404.47,50.03" stroke="#d2bf27"/>
<polyline points="404.47,50.03 405.03,48.29 405.59,49.13 406.14,52.7 406.7,59.13" stroke="#d2bf27"/>
<polyline points="406.7,59.13 407.25,67.74" stroke="#a0c941"/>
<polyline points="407.25,67.74 407.81,76.81" stroke="#74cd62"/>
<polyline points="407.81,76.81 408.37,84.68" stroke="#4dcc82"/>
<polyline points="408.37,84.68 408.92,91.26" stroke="#36c799"/>
<polyline points="408.92,91.26 409.48,97.67" stroke="#28c3aa"/>
<polyline points="409.48,97.67 410.03,105.02" stroke="#0ebdbb"/>
<polyline points="410.03,105.02 410.59,113.48" stroke="#04b6cd"/>
<polyline points="410.59,113.48 411.15,122.53" stroke="#1aabdd"/>
<polyline points="411.15,122.53 411.7,131.06" stroke="#249ee6"/>
<polyline points="411.7,131.06 412.26,137.31" stroke="#2b91ef"/>
<polyline points="412.26,137.31 412.81,140.6" stroke="#2d89f5"/>
<polyline points="412.81,140.6 413.37,141.74 413.93,141.53 414.48,140.56 415.04,139.34 415.6,138.15 416.15,137.05" stroke="#2e87f7"/>
<polyline points="416.15,137.05 416.71,136.13 417.26,135.54 417.82,135.52 418.38,136.15 418.93,137.33 419.49,138.9 420.04,140.7" stroke="#2d8cf3"/>
<polyline points="420.04,140.7 420.6,142.62 421.16,144.5" stroke="#2f82fa"/>
<polyline points="421.16,144.5 421.71,146.06 422.27,146.82 422.82,146.35 423.38,144.65 423.94,142.1 424.49,138.51" stroke="#307ffb"/>
<polyline points="424.49,138.51 425.05,132.96" stroke="#2c8ff1"/>
<polyline points="425.05,132.96 425.61,125.4" stroke="#269ae9"/>
<polyline points="425.61,125.4 426.16,116.9" stroke="#1ea7e1"/>
<polyline points="426.16,116.9 426.72,108.51" stroke="#0eb2d4"/>
<polyline points="426.72,108.51 427.27,100.45" stroke="#03bbc3"/>
<polyline points="427.27,100.45 427.83,92.56" stroke="#22c1b0"/>
<polyline points="427.83,92.56 428.39,84.64" stroke="#35c79b"/>
<polyline points="428.39,84.64 428.94,76.49" stroke="#4ecc81"/>
<polyline points="428.94,76.49 429.5,68.02" stroke="#74cd62"/>
<polyline points="429.5,68.02 430.05,59.53" stroke="#9ec942"/>
<polyline points="430.05,59.53 430.61,51.47" stroke="#c4c22b"/>
<polyline points="430.61,51.47 431.17,44.78" stroke="#e0bc2a"/>
<polyline points="431.17,44.78 431.72,40.81" stroke="#f1ba37"/>
<polyline points="431.72,40.81 432.28,40.8 432.83,44.67" stroke="#f3ba39"/>
<polyline points="432.83,44.67 433.39,51.34" stroke="#e1bc2b"/>
<polyline points="433.39,51.34 433.95,59.68" stroke="#c4c22b"/>
<polyline points="433.95,59.68 434.5,68.62" stroke="#9cc944"/>
<polyline points="434.5,68.62 435.06,77.12" stroke="#71cd65"/>
<polyline points="435.06,77.12 435.62,84.31" stroke="#4dcc82"/>
<polyline points="435.62,84.31 436.17,91.24" stroke="#36c898"/>
<polyline points="436.17,91.24 436.73,100.45" stroke="#24c2ae"/>
<polyline points="436.73,100.45 437.28,113.56" stroke="#01b8c8"/>
<polyline points="437.28,113.56 437.84,128.24" stroke="#1ea7e1"/>
<polyline points="437.84,128.24 438.4,142.17" stroke="#2c8ff0"/>
<polyline points="438.4,142.17 438.95,155.19" stroke="#3875fe"/>
<polyline points="438.95,155.19 439.51,167.14" stroke="#475cfa"/>
<polyline points="439.51,167.14 440.06,176.75" stroke="#4747eb"/>
<polyline points="440.06,176.75 440.62,182.83" stroke="#4539d9"/>
<polyline points="440.62,182.83 441.18,184.93 441.73,183.11 442.29,177.98" stroke="#4435d1"/>
<polyline points="442.29,177.98 442.84,170.31" stroke="#4743e7"/>
<polyline points="442.84,170.31 443.4,161.27" stroke="#4853f5"/>
<polyline points="443.4,161.27 443.96,151.88" stroke="#4465fd"/>
<polyline points="443.96,151.88 444.51,142.52" stroke="#3579fd"/>
<polyline points="444.51,142.52 445.07,133.4" stroke="#2d8bf4"/>
<polyline points="445.07,133.4 445.62,124.8" stroke="#269ae9"/>
<polyline points="445.62,124.8 446.18,117.17" stroke="#1ea7e1"/>
<polyline points="446.18,117.17 446.74,110.98" stroke="#13b1d7"/>
<polyline points="446.74,110.98 447.29,106.33" stroke="#03b7cc"/>
<polyline points="447.29,106.33 447.85,102.93" stroke="#02bbc3"/>
<polyline points="447.85,102.93 448.41,100.45 448.96,98.65" stroke="#11beba"/>
<polyline points="448.96,98.65 449.52,97.74 450.07,97.99 450.63,99.45 451.19,101.95" stroke="#18bfb6"/>
<polyline points="451.19,101.95 451.74,105.35" stroke="#05bbc1"/>
<polyline points="451.74,105.35 452.3,109.44" stroke="#01b8c9"/>
<polyline points="452.3,109.44 452.85,114.02" stroke="#0bb3d2"/>
<polyline points="452.85,114.02 453.41,118.88" stroke="#18addb"/>
<polyline points="453.41,118.88 453.97,123.81" stroke="#1fa6e1"/>
<polyline points="453.97,123.81 454.52,128.57" stroke="#249fe6"/>
<polyline points="454.52,128.57 455.08,132.9" stroke="#2797eb"/>
<polyline points="455.08,132.9 455.63,136.55" stroke="#2b90f0"/>
<polyline points="455.63,136.55 456.19,139.37" stroke="#2d8af4"/>
<polyline points="456.19,139.37 456.75,141.32 457.3,142.38" stroke="#2e85f8"/>
<polyline points="457.3,142.38 457.86,142.53 458.42,141.78 458.97,140.15 459.53,137.67" stroke="#2e85f8"/>
<polyline points="459.53,137.67 460.08,134.42" stroke="#2c8ef1"/>
<polyline points="460.08,134.42 460.64,130.71" stroke="#2994ed"/>
<polyline points="460.64,130.71 461.2,126.87" stroke="#269ae8"/>
<polyline points="461.2,126.87 461.75,123.21" stroke="#23a0e5"/>
<polyline points="461.75,123.21 462.31,120.01" stroke="#1fa6e2"/>
<polyline points="462.31,120.01 462.86,117.3 463.42,115.08" stroke="#1aacdd"/>
<polyline points="463.42,115.08 463.98,113.32 464.53,112.02" stroke="#11b1d6"/>
<polyline points="464.53,112.02 465.09,111.18 465.64,110.82 466.2,111 466.76,111.72 467.31,112.95 467.87,114.65 468.43,116.78" stroke="#0eb2d4"/>
<polyline points="468.43,116.78 468.98,119.3 469.54,122.13" stroke="#1ca9df"/>
<polyline points="469.54,122.13 470.09,125.22" stroke="#21a3e4"/>
<polyline points="470.09,125.22 470.65,128.51" stroke="#249ee6"/>
<polyline points="470.65,128.51 471.21,131.92" stroke="#2798ea"/>
<polyline points="471.21,131.92 471.76,135.32" stroke="#2a92ee"/>
<polyline points="471.76,135.32 472.32,138.58" stroke="#2d8cf3"/>
<polyline points="472.32,138.58 472.87,141.59" stroke="#2e87f7"/>
<polyline points="472.87,141.59 473.43,144.22 473.99,146.38" stroke="#307ffb"/>
<polyline points="473.99,146.38 474.54,148.1 475.1,149.47" stroke="#3777fe"/>
<polyline points="475.1,149.47 475.66,150.57 476.21,151.47 476.77,152.17 477.32,152.57" stroke="#3d70ff"/>
<polyline points="477.32,152.57 477.88,152.58 478.44,152.23 478.99,151.56 479.55,150.66 480.1,149.58" stroke="#3e6fff"/>
<polyline points="480.1,149.58 480.66,148.37 481.22,147.09 481.77,145.77" stroke="#3678fe"/>
<polyline points="481.77,145.77 482.33,144.47 482.88,143.24 483.44,142.09" stroke="#307ffb"/>
<polyline points="483.44,142.09 484,141.04 484.55,140.08 485.11,139.24" stroke="#2e86f8"/>
<polyline points="485.11,139.24 485.66,138.51 486.22,137.9 486.78,137.42 487.33,137.05 487.89,136.8 488.45,136.66 489,136.65 489.56,136.75 490.11,137 490.67,137.4 491.23,137.96 491.78,138.7" stroke="#2d8bf3"/>
<polyline points="491.78,138.7 492.34,139.6 492.89,140.66 493.45,141.84" stroke="#2e86f7"/>
<polyline points="493.45,141.84 494.01,143.13 494.56,144.5 495.12,145.94" stroke="#307ffb"/>
<polyline points="495.12,145.94 495.68,147.43 496.23,148.96" stroke="#3678fd"/>
<polyline points="496.23,148.96 496.79,150.51 497.34,152.07" stroke="#3c72ff"/>
<polyline points="497.34,152.07 497.9,153.64 498.46,155.19" stroke="#416bfe"/>
<polyline points="498.46,155.19 499.01,156.71 499.57,158.2" stroke="#4465fd"/>
<polyline points="499.57,158.2 500.12,159.65 500.68,161.06" stroke="#465ffb"/>
<polyline points="500.68,161.06 501.24,162.42 501.79,163.73 502.35,164.99" stroke="#4758f8"/>
<polyline points="502.35,164.99 502.9,166.18 503.46,167.31 504.02,168.37" stroke="#4851f4"/>
<polyline points="504.02,168.37 504.57,169.37 505.13,170.3 505.69,171.15" stroke="#484bef"/>
<polyline points="505.69,171.15 506.24,171.94 506.8,172.65 507.35,173.3 507.91,173.87 508.47,174.39" stroke="#4745ea"/>
<polyline points="508.47,174.39 509.02,174.85 509.58,175.26 510.13,175.63 510.69,175.96 511.25,176.25 511.8,176.51 512.36,176.74 512.91,176.94 513.47,177.12 514.03,177.27" stroke="#473fe3"/>
<polyline points="514.03,177.27 514.58,177.4 515.14,177.52 515.7,177.62 516.25,177.7 516.81,177.78 517.36,177.85 517.92,177.91 518.48,177.97 519.03,178.03 519.59,178.09 520.14,178.15 520.7,178.22" stroke="#463cdf"/>
</g>
<path d="M364.99 8.3V192.6" stroke="#ff0000" stroke-width="1.15"/>
<path d="M431.72 8.3V192.6" stroke="#ff0000" stroke-width="1.15"/>
<text x="331.62" y="200.8" font-size="7.3" text-anchor="middle" fill="#333333">-80</text>
<text x="353.87" y="200.8" font-size="7.3" text-anchor="middle" fill="#333333">-60</text>
<text x="376.11" y="200.8" font-size="7.3" text-anchor="middle" fill="#333333">-40</text>
<text x="398.36" y="200.8" font-size="7.3" text-anchor="middle" fill="#333333">-20</text>
<text x="420.6" y="200.8" font-size="7.3" text-anchor="middle" fill="#333333">0</text>
<text x="442.84" y="200.8" font-size="7.3" text-anchor="middle" fill="#333333">20</text>
<text x="465.09" y="200.8" font-size="7.3" text-anchor="middle" fill="#333333">40</text>
<text x="487.33" y="200.8" font-size="7.3" text-anchor="middle" fill="#333333">60</text>
<text x="509.58" y="200.8" font-size="7.3" text-anchor="middle" fill="#333333">80</text>
<text x="318.3" y="194.61" font-size="7.3" text-anchor="end" fill="#333333">-1</text>
<text x="318.3" y="176.18" font-size="7.3" text-anchor="end" fill="#333333">-0.8</text>
<text x="318.3" y="157.75" font-size="7.3" text-anchor="end" fill="#333333">-0.6</text>
<text x="318.3" y="139.32" font-size="7.3" text-anchor="end" fill="#333333">-0.4</text>
<text x="318.3" y="120.89" font-size="7.3" text-anchor="end" fill="#333333">-0.2</text>
<text x="318.3" y="102.46" font-size="7.3" text-anchor="end" fill="#333333">0</text>
<text x="318.3" y="84.03" font-size="7.3" text-anchor="end" fill="#333333">0.2</text>
<text x="318.3" y="65.6" font-size="7.3" text-anchor="end" fill="#333333">0.4</text>
<text x="318.3" y="47.17" font-size="7.3" text-anchor="end" fill="#333333">0.6</text>
<text x="318.3" y="28.74" font-size="7.3" text-anchor="end" fill="#333333">0.8</text>
<text x="318.3" y="10.31" font-size="7.3" text-anchor="end" fill="#333333">1</text>
<text x="387.3" y="209.7" font-size="7.8" textLength="67" lengthAdjust="spacingAndGlyphs" fill="#333333">Azimuth angle [deg.]</text>
<text transform="translate(304.6 146.8) rotate(-90)" font-size="7.8" textLength="92.5" lengthAdjust="spacingAndGlyphs" fill="#333333">Normalized spatial spectrum</text>
<linearGradient id="cb1" x1="0" y1="0" x2="0" y2="1"><stop offset="0" stop-color="#f9fb15"/><stop offset="0.03" stop-color="#f6ef20"/><stop offset="0.06" stop-color="#f5e327"/><stop offset="0.09" stop-color="#f9d62d"/><stop offset="0.12" stop-color="#feca33"/><stop offset="0.16" stop-color="#febe3c"/><stop offset="0.19" stop-color="#f1ba37"/><stop offset="0.22" stop-color="#debc2a"/><stop offset="0.25" stop-color="#c8c129"/><stop offset="0.28" stop-color="#afc637"/><stop offset="0.31" stop-color="#94ca4a"/><stop offset="0.34" stop-color="#77cc60"/><stop offset="0.38" stop-color="#5ccc76"/><stop offset="0.41" stop-color="#44ca8a"/><stop offset="0.44" stop-color="#34c79c"/><stop offset="0.47" stop-color="#28c2ab"/><stop offset="0.5" stop-color="#12beb9"/><stop offset="0.53" stop-color="#01b9c6"/><stop offset="0.56" stop-color="#0cb3d3"/><stop offset="0.59" stop-color="#1aacdd"/><stop offset="0.62" stop-color="#21a3e3"/><stop offset="0.66" stop-color="#269ae9"/><stop offset="0.69" stop-color="#2c90f0"/><stop offset="0.72" stop-color="#2e85f8"/><stop offset="0.75" stop-color="#347afd"/><stop offset="0.78" stop-color="#3f6efe"/><stop offset="0.81" stop-color="#4562fc"/><stop offset="0.84" stop-color="#4757f7"/><stop offset="0.88" stop-color="#484cef"/><stop offset="0.91" stop-color="#4741e5"/><stop offset="0.94" stop-color="#4536d5"/><stop offset="0.97" stop-color="#422ebf"/><stop offset="1" stop-color="#3e26a8"/></linearGradient>
<rect x="524.3" y="8.9" width="6.8" height="183.7" fill="url(#cb1)"/>
<rect x="524.3" y="8.9" width="6.8" height="183.7" fill="none" stroke="#262626" stroke-width="0.4" stroke-opacity="0.55"/>
<text x="533.3" y="11.01" font-size="7.3" fill="#333333">1</text>
<path d="M531.1 27.27h-1.2M524.3 27.27h1.2" stroke="#262626" stroke-width="0.4" stroke-opacity="0.7"/>
<text x="533.3" y="29.38" font-size="7.3" fill="#333333">0.8</text>
<path d="M531.1 45.64h-1.2M524.3 45.64h1.2" stroke="#262626" stroke-width="0.4" stroke-opacity="0.7"/>
<text x="533.3" y="47.75" font-size="7.3" fill="#333333">0.6</text>
<path d="M531.1 64.01h-1.2M524.3 64.01h1.2" stroke="#262626" stroke-width="0.4" stroke-opacity="0.7"/>
<text x="533.3" y="66.12" font-size="7.3" fill="#333333">0.4</text>
<path d="M531.1 82.38h-1.2M524.3 82.38h1.2" stroke="#262626" stroke-width="0.4" stroke-opacity="0.7"/>
<text x="533.3" y="84.49" font-size="7.3" fill="#333333">0.2</text>
<path d="M531.1 100.75h-1.2M524.3 100.75h1.2" stroke="#262626" stroke-width="0.4" stroke-opacity="0.7"/>
<text x="533.3" y="102.86" font-size="7.3" fill="#333333">0</text>
<path d="M531.1 119.12h-1.2M524.3 119.12h1.2" stroke="#262626" stroke-width="0.4" stroke-opacity="0.7"/>
<text x="533.3" y="121.23" font-size="7.3" fill="#333333">-0.2</text>
<path d="M531.1 137.49h-1.2M524.3 137.49h1.2" stroke="#262626" stroke-width="0.4" stroke-opacity="0.7"/>
<text x="533.3" y="139.6" font-size="7.3" fill="#333333">-0.4</text>
<path d="M531.1 155.86h-1.2M524.3 155.86h1.2" stroke="#262626" stroke-width="0.4" stroke-opacity="0.7"/>
<text x="533.3" y="157.97" font-size="7.3" fill="#333333">-0.6</text>
<path d="M531.1 174.23h-1.2M524.3 174.23h1.2" stroke="#262626" stroke-width="0.4" stroke-opacity="0.7"/>
<text x="533.3" y="176.34" font-size="7.3" fill="#333333">-0.8</text>
<text x="533.3" y="194.71" font-size="7.3" fill="#333333">-1</text>
<defs>
<linearGradient id="h2_0" x1="0" y1="0" x2="0" y2="1"><stop offset="0" stop-color="#d5be28"/><stop offset="0.07" stop-color="#93ca4a"/><stop offset="0.14" stop-color="#2fc5a3"/><stop offset="0.21" stop-color="#05b6cd"/><stop offset="0.29" stop-color="#22a2e4"/><stop offset="0.36" stop-color="#2994ed"/><stop offset="0.43" stop-color="#2e87f7"/><stop offset="0.5" stop-color="#3579fd"/><stop offset="0.57" stop-color="#4466fd"/><stop offset="0.64" stop-color="#475bf9"/><stop offset="0.71" stop-color="#4853f5"/><stop offset="0.79" stop-color="#484ef1"/><stop offset="0.86" stop-color="#484aee"/><stop offset="0.93" stop-color="#484aee"/><stop offset="1" stop-color="#484aee"/></linearGradient>
<linearGradient id="h2_1" x1="0" y1="0" x2="0" y2="1"><stop offset="0" stop-color="#cfc028"/><stop offset="0.07" stop-color="#8acb52"/><stop offset="0.14" stop-color="#2ec4a4"/><stop offset="0.21" stop-color="#09b4d1"/><stop offset="0.29" stop-color="#259be7"/><stop offset="0.36" stop-color="#2d8df2"/><stop offset="0.43" stop-color="#3080fa"/><stop offset="0.5" stop-color="#3c72ff"/><stop offset="0.57" stop-color="#465efb"/><stop offset="0.64" stop-color="#4852f4"/><stop offset="0.71" stop-color="#484bee"/><stop offset="0.79" stop-color="#4745e9"/><stop offset="0.86" stop-color="#4741e5"/><stop offset="0.93" stop-color="#4741e5"/><stop offset="1" stop-color="#4741e5"/></linearGradient>
<linearGradient id="h2_2" x1="0" y1="0" x2="0" y2="1"><stop offset="0" stop-color="#c2c22c"/><stop offset="0.07" stop-color="#75cc62"/><stop offset="0.14" stop-color="#2ac3a8"/><stop offset="0.21" stop-color="#15afd9"/><stop offset="0.29" stop-color="#2c8ef2"/><stop offset="0.36" stop-color="#307ffb"/><stop offset="0.43" stop-color="#3c72ff"/><stop offset="0.5" stop-color="#4465fd"/><stop offset="0.57" stop-color="#4850f2"/><stop offset="0.64" stop-color="#4743e7"/><stop offset="0.71" stop-color="#463bdd"/><stop offset="0.79" stop-color="#4536d4"/><stop offset="0.86" stop-color="#4434ce"/><stop offset="0.93" stop-color="#4433cc"/><stop offset="1" stop-color="#4433cc"/></linearGradient>
<linearGradient id="h2_3" x1="0" y1="0" x2="0" y2="1"><stop offset="0" stop-color="#b4c533"/><stop offset="0.07" stop-color="#60cd72"/><stop offset="0.14" stop-color="#25c2ad"/><stop offset="0.21" stop-color="#1ca9df"/><stop offset="0.29" stop-color="#3080fa"/><stop offset="0.36" stop-color="#3d70ff"/><stop offset="0.43" stop-color="#4465fd"/><stop offset="0.5" stop-color="#4759f8"/><stop offset="0.57" stop-color="#4744e8"/><stop offset="0.64" stop-color="#4538d7"/><stop offset="0.71" stop-color="#4332c9"/><stop offset="0.79" stop-color="#422ebe"/><stop offset="0.86" stop-color="#402bb8"/><stop offset="0.93" stop-color="#402bb7"/><stop offset="1" stop-color="#402bb7"/></linearGradient>
<linearGradient id="h2_4" x1="0" y1="0" x2="0" y2="1"><stop offset="0" stop-color="#a7c73c"/><stop offset="0.07" stop-color="#4bcb83"/><stop offset="0.14" stop-color="#1dc0b3"/><stop offset="0.21" stop-color="#22a2e4"/><stop offset="0.29" stop-color="#3c72ff"/><stop offset="0.36" stop-color="#4563fd"/><stop offset="0.43" stop-color="#4759f8"/><stop offset="0.5" stop-color="#484ff2"/><stop offset="0.57" stop-color="#463bdd"/><stop offset="0.64" stop-color="#4332c9"/><stop offset="0.71" stop-color="#412dbd"/><stop offset="0.79" stop-color="#402ab4"/><stop offset="0.86" stop-color="#3f28af"/><stop offset="0.93" stop-color="#3f28ae"/><stop offset="1" stop-color="#3f28ae"/></linearGradient>
<linearGradient id="h2_5" x1="0" y1="0" x2="0" y2="1"><stop offset="0" stop-color="#a0c841"/><stop offset="0.07" stop-color="#42ca8b"/><stop offset="0.14" stop-color="#18bfb6"/><stop offset="0.21" stop-color="#249fe6"/><stop offset="0.29" stop-color="#416bfe"/><stop offset="0.36" stop-color="#465dfa"/><stop offset="0.43" stop-color="#4854f5"/><stop offset="0.5" stop-color="#484aee"/><stop offset="0.57" stop-color="#4538d7"/><stop offset="0.64" stop-color="#4230c3"/><stop offset="0.71" stop-color="#412cba"/><stop offset="0.79" stop-color="#402ab3"/><stop offset="0.86" stop-color="#3f28af"/><stop offset="0.93" stop-color="#3f28ae"/><stop offset="1" stop-color="#3f28ae"/></linearGradient>
<linearGradient id="h2_6" x1="0" y1="0" x2="0" y2="1"><stop offset="0" stop-color="#86cb55"/><stop offset="0.07" stop-color="#35c79a"/><stop offset="0.14" stop-color="#0bbdbc"/><stop offset="0.21" stop-color="#2797eb"/><stop offset="0.29" stop-color="#465ffb"/><stop offset="0.36" stop-color="#4852f4"/><stop offset="0.43" stop-color="#484aee"/><stop offset="0.5" stop-color="#4742e6"/><stop offset="0.57" stop-color="#4332c9"/><stop offset="0.64" stop-color="#412cb9"/><stop offset="0.71" stop-color="#402ab5"/><stop offset="0.79" stop-color="#3f29b2"/><stop offset="0.86" stop-color="#3f29b1"/><stop offset="0.93" stop-color="#3f29b1"/><stop offset="1" stop-color="#3f29b1"/></linearGradient>
<linearGradient id="h2_7" x1="0" y1="0" x2="0" y2="1"><stop offset="0" stop-color="#5acc77"/><stop offset="0.07" stop-color="#2bc3a8"/><stop offset="0.14" stop-color="#02bbc3"/><stop offset="0.21" stop-color="#2d8df2"/><stop offset="0.29" stop-color="#4852f4"/><stop offset="0.36" stop-color="#4747eb"/><stop offset="0.43" stop-color="#4741e5"/><stop offset="0.5" stop-color="#463bdd"/><stop offset="0.57" stop-color="#412ebe"/><stop offset="0.64" stop-color="#3f29b2"/><stop offset="0.71" stop-color="#4029b2"/><stop offset="0.79" stop-color="#402ab3"/><stop offset="0.86" stop-color="#402ab4"/><stop offset="0.93" stop-color="#402ab4"/><stop offset="1" stop-color="#402ab4"/></linearGradient>
<linearGradient id="h2_8" x1="0" y1="0" x2="0" y2="1"><stop offset="0" stop-color="#3bc992"/><stop offset="0.07" stop-color="#1ac0b4"/><stop offset="0.14" stop-color="#01b8ca"/><stop offset="0.21" stop-color="#2f83f9"/><stop offset="0.29" stop-color="#4745ea"/><stop offset="0.36" stop-color="#463cde"/><stop offset="0.43" stop-color="#4538d8"/><stop offset="0.5" stop-color="#4435d2"/><stop offset="0.57" stop-color="#402bb8"/><stop offset="0.64" stop-color="#3f28ae"/><stop offset="0.71" stop-color="#3f29b1"/><stop offset="0.79" stop-color="#402ab5"/><stop offset="0.86" stop-color="#412cb9"/><stop offset="0.93" stop-color="#412cb9"/><stop offset="1" stop-color="#412cb9"/></linearGradient>
<linearGradient id="h2_9" x1="0" y1="0" x2="0" y2="1"><stop offset="0" stop-color="#33c79d"/><stop offset="0.07" stop-color="#0fbebb"/><stop offset="0.14" stop-color="#05b6cd"/><stop offset="0.21" stop-color="#317dfc"/><stop offset="0.29" stop-color="#4740e4"/><stop offset="0.36" stop-color="#4538d7"/><stop offset="0.43" stop-color="#4435d1"/><stop offset="0.5" stop-color="#4433cc"/><stop offset="0.57" stop-color="#402bb7"/><stop offset="0.64" stop-color="#3f28af"/><stop offset="0.71" stop-color="#4029b2"/><stop offset="0.79" stop-color="#402bb7"/><stop offset="0.86" stop-color="#412dbb"/><stop offset="0.93" stop-color="#412dbc"/><stop offset="1" stop-color="#412dbc"/></linearGradient>
<linearGradient id="h2_10" x1="0" y1="0" x2="0" y2="1"><stop offset="0" stop-color="#24c1ae"/><stop offset="0.07" stop-color="#01b9c7"/><stop offset="0.14" stop-color="#13b0d7"/><stop offset="0.21" stop-color="#3d71ff"/><stop offset="0.29" stop-color="#4538d8"/><stop offset="0.36" stop-color="#4332c9"/><stop offset="0.43" stop-color="#4331c6"/><stop offset="0.5" stop-color="#4230c4"/><stop offset="0.57" stop-color="#402bb8"/><stop offset="0.64" stop-color="#402ab3"/><stop offset="0.71" stop-color="#402bb7"/><stop offset="0.79" stop-color="#412dbd"/><stop offset="0.86" stop-color="#422fc1"/><stop offset="0.93" stop-color="#422fc2"/><stop offset="1" stop-color="#422fc2"/></linearGradient>
<linearGradient id="h2_11" x1="0" y1="0" x2="0" y2="1"><stop offset="0" stop-color="#0abdbd"/><stop offset="0.07" stop-color="#0db3d3"/><stop offset="0.14" stop-color="#1ea8e0"/><stop offset="0.21" stop-color="#4466fd"/><stop offset="0.29" stop-color="#4536d3"/><stop offset="0.36" stop-color="#4230c4"/><stop offset="0.43" stop-color="#422fc2"/><stop offset="0.5" stop-color="#422fc1"/><stop offset="0.57" stop-color="#412dbc"/><stop offset="0.64" stop-color="#412cba"/><stop offset="0.71" stop-color="#422ebe"/><stop offset="0.79" stop-color="#4330c4"/><stop offset="0.86" stop-color="#4332c9"/><stop offset="0.93" stop-color="#4332ca"/><stop offset="1" stop-color="#4332ca"/></linearGradient>
<linearGradient id="h2_12" x1="0" y1="0" x2="0" y2="1"><stop offset="0" stop-color="#02b7cb"/><stop offset="0.07" stop-color="#1aabdd"/><stop offset="0.14" stop-color="#249de7"/><stop offset="0.21" stop-color="#475af9"/><stop offset="0.29" stop-color="#4536d3"/><stop offset="0.36" stop-color="#4331c6"/><stop offset="0.43" stop-color="#4330c5"/><stop offset="0.5" stop-color="#4331c6"/><stop offset="0.57" stop-color="#4230c3"/><stop offset="0.64" stop-color="#422fc2"/><stop offset="0.71" stop-color="#4331c8"/><stop offset="0.79" stop-color="#4434cf"/><stop offset="0.86" stop-color="#4537d5"/><stop offset="0.93" stop-color="#4537d6"/><stop offset="1" stop-color="#4537d6"/></linearGradient>
<linearGradient id="h2_13" x1="0" y1="0" x2="0" y2="1"><stop offset="0" stop-color="#08b4d1"/><stop offset="0.07" stop-color="#1ea8e1"/><stop offset="0.14" stop-color="#2798ea"/><stop offset="0.21" stop-color="#4854f6"/><stop offset="0.29" stop-color="#4536d4"/><stop offset="0.36" stop-color="#4332c9"/><stop offset="0.43" stop-color="#4331c8"/><stop offset="0.5" stop-color="#4332ca"/><stop offset="0.57" stop-color="#4332c8"/><stop offset="0.64" stop-color="#4331c8"/><stop offset="0.71" stop-color="#4434ce"/><stop offset="0.79" stop-color="#4537d5"/><stop offset="0.86" stop-color="#463adb"/><stop offset="0.93" stop-color="#463adc"/><stop offset="1" stop-color="#463adc"/></linearGradient>
<linearGradient id="h2_14" x1="0" y1="0" x2="0" y2="1"><stop offset="0" stop-color="#18aedb"/><stop offset="0.07" stop-color="#249fe5"/><stop offset="0.14" stop-color="#2d8df2"/><stop offset="0.21" stop-color="#4849ec"/><stop offset="0.29" stop-color="#4536d4"/><stop offset="0.36" stop-color="#4434cf"/><stop offset="0.43" stop-color="#4435d1"/><stop offset="0.5" stop-color="#4537d6"/><stop offset="0.57" stop-color="#4538d8"/><stop offset="0.64" stop-color="#4639da"/><stop offset="0.71" stop-color="#463cde"/><stop offset="0.79" stop-color="#473fe2"/><stop offset="0.86" stop-color="#4741e5"/><stop offset="0.93" stop-color="#4742e6"/><stop offset="1" stop-color="#4742e6"/></linearGradient>
<linearGradient id="h2_15" x1="0" y1="0" x2="0" y2="1"><stop offset="0" stop-color="#1fa6e2"/><stop offset="0.07" stop-color="#2797eb"/><stop offset="0.14" stop-color="#2e83f9"/><stop offset="0.21" stop-color="#473fe2"/><stop offset="0.29" stop-color="#4536d5"/><stop offset="0.36" stop-color="#4537d6"/><stop offset="0.43" stop-color="#463adb"/><stop offset="0.5" stop-color="#473fe2"/><stop offset="0.57" stop-color="#4742e6"/><stop offset="0.64" stop-color="#4744e9"/><stop offset="0.71" stop-color="#4746eb"/><stop offset="0.79" stop-color="#4848ec"/><stop offset="0.86" stop-color="#4849ed"/><stop offset="0.93" stop-color="#4849ed"/><stop offset="1" stop-color="#4849ed"/></linearGradient>
<linearGradient id="h2_16" x1="0" y1="0" x2="0" y2="1"><stop offset="0" stop-color="#249ee6"/><stop offset="0.07" stop-color="#2c8ef1"/><stop offset="0.14" stop-color="#347afd"/><stop offset="0.21" stop-color="#4539d9"/><stop offset="0.29" stop-color="#4536d5"/><stop offset="0.36" stop-color="#463adb"/><stop offset="0.43" stop-color="#4740e4"/><stop offset="0.5" stop-color="#4747eb"/><stop offset="0.57" stop-color="#484df0"/><stop offset="0.64" stop-color="#484ff2"/><stop offset="0.71" stop-color="#4850f2"/><stop offset="0.79" stop-color="#4850f3"/><stop offset="0.86" stop-color="#4851f3"/><stop offset="0.93" stop-color="#4851f3"/><stop offset="1" stop-color="#4851f3"/></linearGradient>
<linearGradient id="h2_17" x1="0" y1="0" x2="0" y2="1"><stop offset="0" stop-color="#269ae9"/><stop offset="0.07" stop-color="#2d8af4"/><stop offset="0.14" stop-color="#3975fe"/><stop offset="0.21" stop-color="#4538d8"/><stop offset="0.29" stop-color="#4537d5"/><stop offset="0.36" stop-color="#463cde"/><stop offset="0.43" stop-color="#4743e7"/><stop offset="0.5" stop-color="#484bee"/><stop offset="0.57" stop-color="#4851f3"/><stop offset="0.64" stop-color="#4853f5"/><stop offset="0.71" stop-color="#4854f5"/><stop offset="0.79" stop-color="#4855f6"/><stop offset="0.86" stop-color="#4755f6"/><stop offset="0.93" stop-color="#4755f6"/><stop offset="1" stop-color="#4755f6"/></linearGradient>
<linearGradient id="h2_18" x1="0" y1="0" x2="0" y2="1"><stop offset="0" stop-color="#2b92ef"/><stop offset="0.07" stop-color="#2e83f9"/><stop offset="0.14" stop-color="#406dfe"/><stop offset="0.21" stop-color="#4538d7"/><stop offset="0.29" stop-color="#4539d9"/><stop offset="0.36" stop-color="#4741e5"/><stop offset="0.43" stop-color="#484aee"/><stop offset="0.5" stop-color="#4852f4"/><stop offset="0.57" stop-color="#4757f8"/><stop offset="0.64" stop-color="#475af9"/><stop offset="0.71" stop-color="#475bf9"/><stop offset="0.79" stop-color="#475cfa"/><stop offset="0.86" stop-color="#475dfa"/><stop offset="0.93" stop-color="#475dfa"/><stop offset="1" stop-color="#475dfa"/></linearGradient>
<linearGradient id="h2_19" x1="0" y1="0" x2="0" y2="1"><stop offset="0" stop-color="#2d8af5"/><stop offset="0.07" stop-color="#327cfc"/><stop offset="0.14" stop-color="#4465fd"/><stop offset="0.21" stop-color="#4538d7"/><stop offset="0.29" stop-color="#473ee2"/><stop offset="0.36" stop-color="#4849ed"/><stop offset="0.43" stop-color="#4852f4"/><stop offset="0.5" stop-color="#4759f8"/><stop offset="0.57" stop-color="#465dfa"/><stop offset="0.64" stop-color="#465ffb"/><stop offset="0.71" stop-color="#4561fc"/><stop offset="0.79" stop-color="#4563fc"/><stop offset="0.86" stop-color="#4564fd"/><stop offset="0.93" stop-color="#4564fd"/><stop offset="1" stop-color="#4564fd"/></linearGradient>
<linearGradient id="h2_20" x1="0" y1="0" x2="0" y2="1"><stop offset="0" stop-color="#2e83f9"/><stop offset="0.07" stop-color="#3876fe"/><stop offset="0.14" stop-color="#465efb"/><stop offset="0.21" stop-color="#4537d6"/><stop offset="0.29" stop-color="#4746ea"/><stop offset="0.36" stop-color="#4852f4"/><stop offset="0.43" stop-color="#475bf9"/><stop offset="0.5" stop-color="#4660fc"/><stop offset="0.57" stop-color="#4563fc"/><stop offset="0.64" stop-color="#4465fd"/><stop offset="0.71" stop-color="#4466fd"/><stop offset="0.79" stop-color="#4368fe"/><stop offset="0.86" stop-color="#4269fe"/><stop offset="0.93" stop-color="#4269fe"/><stop offset="1" stop-color="#4269fe"/></linearGradient>
<linearGradient id="h2_21" x1="0" y1="0" x2="0" y2="1"><stop offset="0" stop-color="#2f80fa"/><stop offset="0.07" stop-color="#3a73fe"/><stop offset="0.14" stop-color="#475af9"/><stop offset="0.21" stop-color="#4537d6"/><stop offset="0.29" stop-color="#484aee"/><stop offset="0.36" stop-color="#4756f7"/><stop offset="0.43" stop-color="#465ffb"/><stop offset="0.5" stop-color="#4464fd"/><stop offset="0.57" stop-color="#4466fd"/><stop offset="0.64" stop-color="#4367fd"/><stop offset="0.71" stop-color="#4369fe"/><stop offset="0.79" stop-color="#426afe"/><stop offset="0.86" stop-color="#416bfe"/><stop offset="0.93" stop-color="#416bfe"/><stop offset="1" stop-color="#416bfe"/></linearGradient>
<linearGradient id="h2_22" x1="0" y1="0" x2="0" y2="1"><stop offset="0" stop-color="#337bfc"/><stop offset="0.07" stop-color="#3f6efe"/><stop offset="0.14" stop-color="#4854f6"/><stop offset="0.21" stop-color="#4537d6"/><stop offset="0.29" stop-color="#4852f4"/><stop offset="0.36" stop-color="#465efb"/><stop offset="0.43" stop-color="#4368fe"/><stop offset="0.5" stop-color="#406cfe"/><stop offset="0.57" stop-color="#406cfe"/><stop offset="0.64" stop-color="#406dfe"/><stop offset="0.71" stop-color="#406dfe"/><stop offset="0.79" stop-color="#3f6efe"/><stop offset="0.86" stop-color="#3f6eff"/><stop offset="0.93" stop-color="#3f6eff"/><stop offset="1" stop-color="#3f6fff"/></linearGradient>
<linearGradient id="h2_23" x1="0" y1="0" x2="0" y2="1"><stop offset="0" stop-color="#3876fe"/><stop offset="0.07" stop-color="#4269fe"/><stop offset="0.14" stop-color="#484ff2"/><stop offset="0.21" stop-color="#4537d6"/><stop offset="0.29" stop-color="#4757f7"/><stop offset="0.36" stop-color="#4465fd"/><stop offset="0.43" stop-color="#3e6fff"/><stop offset="0.5" stop-color="#3975fe"/><stop offset="0.57" stop-color="#3975fe"/><stop offset="0.64" stop-color="#3975fe"/><stop offset="0.71" stop-color="#3a74fe"/><stop offset="0.79" stop-color="#3b73fe"/><stop offset="0.86" stop-color="#3c72ff"/><stop offset="0.93" stop-color="#3c72ff"/><stop offset="1" stop-color="#3c72ff"/></linearGradient>
<linearGradient id="h2_24" x1="0" y1="0" x2="0" y2="1"><stop offset="0" stop-color="#3c71ff"/><stop offset="0.07" stop-color="#4564fd"/><stop offset="0.14" stop-color="#484bee"/><stop offset="0.21" stop-color="#4639da"/><stop offset="0.29" stop-color="#475bfa"/><stop offset="0.36" stop-color="#426afe"/><stop offset="0.43" stop-color="#3777fe"/><stop offset="0.5" stop-color="#317efb"/><stop offset="0.57" stop-color="#307ffb"/><stop offset="0.64" stop-color="#307ffb"/><stop offset="0.71" stop-color="#317dfc"/><stop offset="0.79" stop-color="#3579fd"/><stop offset="0.86" stop-color="#3876fe"/><stop offset="0.93" stop-color="#3875fe"/><stop offset="1" stop-color="#3875fe"/></linearGradient>
<linearGradient id="h2_25" x1="0" y1="0" x2="0" y2="1"><stop offset="0" stop-color="#3e6fff"/><stop offset="0.07" stop-color="#4562fc"/><stop offset="0.14" stop-color="#4849ed"/><stop offset="0.21" stop-color="#463bdd"/><stop offset="0.29" stop-color="#465dfb"/><stop offset="0.36" stop-color="#406dfe"/><stop offset="0.43" stop-color="#337afd"/><stop offset="0.5" stop-color="#2e83f9"/><stop offset="0.57" stop-color="#2e85f8"/><stop offset="0.64" stop-color="#2e85f8"/><stop offset="0.71" stop-color="#2f82fa"/><stop offset="0.79" stop-color="#317dfc"/><stop offset="0.86" stop-color="#3578fd"/><stop offset="0.93" stop-color="#3677fe"/><stop offset="1" stop-color="#3678fe"/></linearGradient>
<linearGradient id="h2_26" x1="0" y1="0" x2="0" y2="1"><stop offset="0" stop-color="#416bfe"/><stop offset="0.07" stop-color="#465efb"/><stop offset="0.14" stop-color="#4747eb"/><stop offset="0.21" stop-color="#473fe3"/><stop offset="0.29" stop-color="#4562fc"/><stop offset="0.36" stop-color="#3c71ff"/><stop offset="0.43" stop-color="#2f81fa"/><stop offset="0.5" stop-color="#2d8cf3"/><stop offset="0.57" stop-color="#2c90f0"/><stop offset="0.64" stop-color="#2b90ef"/><stop offset="0.71" stop-color="#2d8cf3"/><stop offset="0.79" stop-color="#2e85f8"/><stop offset="0.86" stop-color="#307ffb"/><stop offset="0.93" stop-color="#317dfc"/><stop offset="1" stop-color="#317dfc"/></linearGradient>
<linearGradient id="h2_27" x1="0" y1="0" x2="0" y2="1"><stop offset="0" stop-color="#4367fd"/><stop offset="0.07" stop-color="#475af9"/><stop offset="0.14" stop-color="#4746ea"/><stop offset="0.21" stop-color="#4744e8"/><stop offset="0.29" stop-color="#4465fd"/><stop offset="0.36" stop-color="#3876fe"/><stop offset="0.43" stop-color="#2d87f6"/><stop offset="0.5" stop-color="#2895ec"/><stop offset="0.57" stop-color="#269ae8"/><stop offset="0.64" stop-color="#259be8"/><stop offset="0.71" stop-color="#2796eb"/><stop offset="0.79" stop-color="#2c8ef1"/><stop offset="0.86" stop-color="#2e87f7"/><stop offset="0.93" stop-color="#2e84f9"/><stop offset="1" stop-color="#2f82f9"/></linearGradient>
<linearGradient id="h2_28" x1="0" y1="0" x2="0" y2="1"><stop offset="0" stop-color="#4563fc"/><stop offset="0.07" stop-color="#4756f6"/><stop offset="0.14" stop-color="#4744e8"/><stop offset="0.21" stop-color="#4848ec"/><stop offset="0.29" stop-color="#4368fe"/><stop offset="0.36" stop-color="#337bfd"/><stop offset="0.43" stop-color="#2c8ef1"/><stop offset="0.5" stop-color="#249ee6"/><stop offset="0.57" stop-color="#20a4e3"/><stop offset="0.64" stop-color="#1fa6e2"/><stop offset="0.71" stop-color="#23a1e4"/><stop offset="0.79" stop-color="#2699e9"/><stop offset="0.86" stop-color="#2b91ef"/><stop offset="0.93" stop-color="#2d8cf3"/><stop offset="1" stop-color="#2d89f6"/></linearGradient>
<linearGradient id="h2_29" x1="0" y1="0" x2="0" y2="1"><stop offset="0" stop-color="#465ffb"/><stop offset="0.07" stop-color="#4851f3"/><stop offset="0.14" stop-color="#4740e4"/><stop offset="0.21" stop-color="#484cf0"/><stop offset="0.29" stop-color="#416bfe"/><stop offset="0.36" stop-color="#307ffb"/><stop offset="0.43" stop-color="#2995ec"/><stop offset="0.5" stop-color="#1ea6e1"/><stop offset="0.57" stop-color="#17aeda"/><stop offset="0.64" stop-color="#15afd9"/><stop offset="0.71" stop-color="#1babde"/><stop offset="0.79" stop-color="#21a3e3"/><stop offset="0.86" stop-color="#259be8"/><stop offset="0.93" stop-color="#2995ec"/><stop offset="1" stop-color="#2c90f0"/></linearGradient>
<linearGradient id="h2_30" x1="0" y1="0" x2="0" y2="1"><stop offset="0" stop-color="#465dfa"/><stop offset="0.07" stop-color="#484ef1"/><stop offset="0.14" stop-color="#473fe3"/><stop offset="0.21" stop-color="#484ff2"/><stop offset="0.29" stop-color="#406cfe"/><stop offset="0.36" stop-color="#2f81fa"/><stop offset="0.43" stop-color="#2798ea"/><stop offset="0.5" stop-color="#1babde"/><stop offset="0.57" stop-color="#0eb2d4"/><stop offset="0.64" stop-color="#0bb4d2"/><stop offset="0.71" stop-color="#14b0d8"/><stop offset="0.79" stop-color="#1da8e0"/><stop offset="0.86" stop-color="#23a0e5"/><stop offset="0.93" stop-color="#2699e9"/><stop offset="1" stop-color="#2993ed"/></linearGradient>
<linearGradient id="h2_31" x1="0" y1="0" x2="0" y2="1"><stop offset="0" stop-color="#4759f8"/><stop offset="0.07" stop-color="#4747eb"/><stop offset="0.14" stop-color="#463de0"/><stop offset="0.21" stop-color="#4755f6"/><stop offset="0.29" stop-color="#3f6fff"/><stop offset="0.36" stop-color="#2e85f8"/><stop offset="0.43" stop-color="#249fe6"/><stop offset="0.5" stop-color="#0eb3d4"/><stop offset="0.57" stop-color="#01b9c7"/><stop offset="0.64" stop-color="#02bac4"/><stop offset="0.71" stop-color="#01b7ca"/><stop offset="0.79" stop-color="#0eb2d4"/><stop offset="0.86" stop-color="#1aabdd"/><stop offset="0.93" stop-color="#20a4e3"/><stop offset="1" stop-color="#259ce7"/></linearGradient>
<linearGradient id="h2_32" x1="0" y1="0" x2="0" y2="1"><stop offset="0" stop-color="#4852f4"/><stop offset="0.07" stop-color="#473fe2"/><stop offset="0.14" stop-color="#463cde"/><stop offset="0.21" stop-color="#475bf9"/><stop offset="0.29" stop-color="#3d71ff"/><stop offset="0.36" stop-color="#2d89f6"/><stop offset="0.43" stop-color="#1fa5e2"/><stop offset="0.5" stop-color="#01b9c7"/><stop offset="0.57" stop-color="#10beba"/><stop offset="0.64" stop-color="#16bfb7"/><stop offset="0.71" stop-color="#0dbdbc"/><stop offset="0.79" stop-color="#02bac4"/><stop offset="0.86" stop-color="#05b6ce"/><stop offset="0.93" stop-color="#14b0d8"/><stop offset="1" stop-color="#1fa6e1"/></linearGradient>
<linearGradient id="h2_33" x1="0" y1="0" x2="0" y2="1"><stop offset="0" stop-color="#4849ed"/><stop offset="0.07" stop-color="#4639d9"/><stop offset="0.14" stop-color="#463adc"/><stop offset="0.21" stop-color="#465efb"/><stop offset="0.29" stop-color="#3c72ff"/><stop offset="0.36" stop-color="#2d8cf3"/><stop offset="0.43" stop-color="#1babde"/><stop offset="0.5" stop-color="#0ebebb"/><stop offset="0.57" stop-color="#26c2ad"/><stop offset="0.64" stop-color="#29c3aa"/><stop offset="0.71" stop-color="#25c2ad"/><stop offset="0.79" stop-color="#1bc0b4"/><stop offset="0.86" stop-color="#0cbdbc"/><stop offset="0.93" stop-color="#01b9c6"/><stop offset="1" stop-color="#0eb2d4"/></linearGradient>
<linearGradient id="h2_34" x1="0" y1="0" x2="0" y2="1"><stop offset="0" stop-color="#4744e8"/><stop offset="0.07" stop-color="#4537d5"/><stop offset="0.14" stop-color="#4639da"/><stop offset="0.21" stop-color="#465ffb"/><stop offset="0.29" stop-color="#3c72ff"/><stop offset="0.36" stop-color="#2d8df2"/><stop offset="0.43" stop-color="#18aedb"/><stop offset="0.5" stop-color="#1ac0b5"/><stop offset="0.57" stop-color="#2cc4a6"/><stop offset="0.64" stop-color="#2fc5a3"/><stop offset="0.71" stop-color="#2cc4a7"/><stop offset="0.79" stop-color="#26c2ad"/><stop offset="0.86" stop-color="#1bc0b4"/><stop offset="0.93" stop-color="#0abdbd"/><stop offset="1" stop-color="#02b7cb"/></linearGradient>
<linearGradient id="h2_35" x1="0" y1="0" x2="0" y2="1"><stop offset="0" stop-color="#463cde"/><stop offset="0.07" stop-color="#4433cc"/><stop offset="0.14" stop-color="#4537d6"/><stop offset="0.21" stop-color="#465efb"/><stop offset="0.29" stop-color="#3c72ff"/><stop offset="0.36" stop-color="#2c8ff0"/><stop offset="0.43" stop-color="#0eb3d4"/><stop offset="0.5" stop-color="#2cc4a7"/><stop offset="0.57" stop-color="#36c898"/><stop offset="0.64" stop-color="#39c895"/><stop offset="0.71" stop-color="#36c899"/><stop offset="0.79" stop-color="#32c69f"/><stop offset="0.86" stop-color="#2cc4a6"/><stop offset="0.93" stop-color="#24c1ae"/><stop offset="1" stop-color="#12beb9"/></linearGradient>
<linearGradient id="h2_36" x1="0" y1="0" x2="0" y2="1"><stop offset="0" stop-color="#4536d3"/><stop offset="0.07" stop-color="#422fc2"/><stop offset="0.14" stop-color="#4536d4"/><stop offset="0.21" stop-color="#465dfb"/><stop offset="0.29" stop-color="#3c72ff"/><stop offset="0.36" stop-color="#2b92ee"/><stop offset="0.43" stop-color="#02b7cb"/><stop offset="0.5" stop-color="#38c896"/><stop offset="0.57" stop-color="#47cb87"/><stop offset="0.64" stop-color="#4acb84"/><stop offset="0.71" stop-color="#46cb88"/><stop offset="0.79" stop-color="#3eca90"/><stop offset="0.86" stop-color="#36c898"/><stop offset="0.93" stop-color="#31c6a0"/><stop offset="1" stop-color="#28c3aa"/></linearGradient>
<linearGradient id="h2_37" x1="0" y1="0" x2="0" y2="1"><stop offset="0" stop-color="#4331c7"/><stop offset="0.07" stop-color="#402bb8"/><stop offset="0.14" stop-color="#4535d2"/><stop offset="0.21" stop-color="#475cfa"/><stop offset="0.29" stop-color="#3b72ff"/><stop offset="0.36" stop-color="#2994ed"/><stop offset="0.43" stop-color="#02bac4"/><stop offset="0.5" stop-color="#47cb87"/><stop offset="0.57" stop-color="#5ecd74"/><stop offset="0.64" stop-color="#62cd70"/><stop offset="0.71" stop-color="#5ccc76"/><stop offset="0.79" stop-color="#51cc7f"/><stop offset="0.86" stop-color="#45cb89"/><stop offset="0.93" stop-color="#3cc992"/><stop offset="1" stop-color="#34c79c"/></linearGradient>
<linearGradient id="h2_38" x1="0" y1="0" x2="0" y2="1"><stop offset="0" stop-color="#422fc2"/><stop offset="0.07" stop-color="#402ab3"/><stop offset="0.14" stop-color="#4435d1"/><stop offset="0.21" stop-color="#475bf9"/><stop offset="0.29" stop-color="#3b72ff"/><stop offset="0.36" stop-color="#2895ec"/><stop offset="0.43" stop-color="#04bbc1"/><stop offset="0.5" stop-color="#4ecc81"/><stop offset="0.57" stop-color="#69cd6b"/><stop offset="0.64" stop-color="#6ecd67"/><stop offset="0.71" stop-color="#67cd6c"/><stop offset="0.79" stop-color="#5ccc76"/><stop offset="0.86" stop-color="#4fcc81"/><stop offset="0.93" stop-color="#43ca8a"/><stop offset="1" stop-color="#39c994"/></linearGradient>
<linearGradient id="h2_39" x1="0" y1="0" x2="0" y2="1"><stop offset="0" stop-color="#402bb7"/><stop offset="0.07" stop-color="#3e27ab"/><stop offset="0.14" stop-color="#4434ce"/><stop offset="0.21" stop-color="#4759f8"/><stop offset="0.29" stop-color="#3b72ff"/><stop offset="0.36" stop-color="#2797eb"/><stop offset="0.43" stop-color="#06bcc0"/><stop offset="0.5" stop-color="#52cc7e"/><stop offset="0.57" stop-color="#79cc5e"/><stop offset="0.64" stop-color="#82cc58"/><stop offset="0.71" stop-color="#7ccc5c"/><stop offset="0.79" stop-color="#72cd64"/><stop offset="0.86" stop-color="#65cd6e"/><stop offset="0.93" stop-color="#59cc79"/><stop offset="1" stop-color="#48cb86"/></linearGradient>
<linearGradient id="h2_40" x1="0" y1="0" x2="0" y2="1"><stop offset="0" stop-color="#3f28ae"/><stop offset="0.07" stop-color="#3e26a8"/><stop offset="0.14" stop-color="#4433cb"/><stop offset="0.21" stop-color="#4757f7"/><stop offset="0.29" stop-color="#3b72ff"/><stop offset="0.36" stop-color="#2797eb"/><stop offset="0.43" stop-color="#05bbc1"/><stop offset="0.5" stop-color="#51cc7f"/><stop offset="0.57" stop-color="#81cc59"/><stop offset="0.64" stop-color="#8ccb50"/><stop offset="0.71" stop-color="#8acb52"/><stop offset="0.79" stop-color="#85cb56"/><stop offset="0.86" stop-color="#7dcc5b"/><stop offset="0.93" stop-color="#72cd64"/><stop offset="1" stop-color="#5acc77"/></linearGradient>
<linearGradient id="h2_41" x1="0" y1="0" x2="0" y2="1"><stop offset="0" stop-color="#3e26a8"/><stop offset="0.07" stop-color="#3e26a8"/><stop offset="0.14" stop-color="#4331c7"/><stop offset="0.21" stop-color="#4854f5"/><stop offset="0.29" stop-color="#3d71ff"/><stop offset="0.36" stop-color="#2995ec"/><stop offset="0.43" stop-color="#01b9c6"/><stop offset="0.5" stop-color="#4ccb83"/><stop offset="0.57" stop-color="#85cb55"/><stop offset="0.64" stop-color="#93ca4b"/><stop offset="0.71" stop-color="#93ca4b"/><stop offset="0.79" stop-color="#91ca4c"/><stop offset="0.86" stop-color="#8fcb4e"/><stop offset="0.93" stop-color="#89cb53"/><stop offset="1" stop-color="#6ecd66"/></linearGradient>
<linearGradient id="h2_42" x1="0" y1="0" x2="0" y2="1"><stop offset="0" stop-color="#3e26a8"/><stop offset="0.07" stop-color="#3e26a8"/><stop offset="0.14" stop-color="#4330c5"/><stop offset="0.21" stop-color="#4852f4"/><stop offset="0.29" stop-color="#3e6fff"/><stop offset="0.36" stop-color="#2a93ee"/><stop offset="0.43" stop-color="#01b8c9"/><stop offset="0.5" stop-color="#49cb85"/><stop offset="0.57" stop-color="#86cb55"/><stop offset="0.64" stop-color="#95ca49"/><stop offset="0.71" stop-color="#95ca49"/><stop offset="0.79" stop-color="#95ca49"/><stop offset="0.86" stop-color="#94ca4a"/><stop offset="0.93" stop-color="#90ca4d"/><stop offset="1" stop-color="#78cc5f"/></linearGradient>
<linearGradient id="h2_43" x1="0" y1="0" x2="0" y2="1"><stop offset="0" stop-color="#3e26a8"/><stop offset="0.07" stop-color="#3e26a8"/><stop offset="0.14" stop-color="#422fc0"/><stop offset="0.21" stop-color="#484df0"/><stop offset="0.29" stop-color="#406cfe"/><stop offset="0.36" stop-color="#2c8ef1"/><stop offset="0.43" stop-color="#08b5d0"/><stop offset="0.5" stop-color="#3eca8f"/><stop offset="0.57" stop-color="#80cc59"/><stop offset="0.64" stop-color="#93ca4b"/><stop offset="0.71" stop-color="#93ca4a"/><stop offset="0.79" stop-color="#94ca4a"/><stop offset="0.86" stop-color="#94ca4a"/><stop offset="0.93" stop-color="#92ca4b"/><stop offset="1" stop-color="#87cb54"/></linearGradient>
<linearGradient id="h2_44" x1="0" y1="0" x2="0" y2="1"><stop offset="0" stop-color="#3e26a8"/><stop offset="0.07" stop-color="#3e26a8"/><stop offset="0.14" stop-color="#412dbc"/><stop offset="0.21" stop-color="#4848ec"/><stop offset="0.29" stop-color="#4369fe"/><stop offset="0.36" stop-color="#2d89f5"/><stop offset="0.43" stop-color="#18aedb"/><stop offset="0.5" stop-color="#2ec4a4"/><stop offset="0.57" stop-color="#63cd6f"/><stop offset="0.64" stop-color="#7dcc5c"/><stop offset="0.71" stop-color="#81cc58"/><stop offset="0.79" stop-color="#83cc57"/><stop offset="0.86" stop-color="#86cb55"/><stop offset="0.93" stop-color="#89cb52"/><stop offset="1" stop-color="#8dcb4f"/></linearGradient>
<linearGradient id="h2_45" x1="0" y1="0" x2="0" y2="1"><stop offset="0" stop-color="#3e26a8"/><stop offset="0.07" stop-color="#3e26a8"/><stop offset="0.14" stop-color="#402bb8"/><stop offset="0.21" stop-color="#4745e9"/><stop offset="0.29" stop-color="#4465fd"/><stop offset="0.36" stop-color="#2e84f8"/><stop offset="0.43" stop-color="#1fa5e2"/><stop offset="0.5" stop-color="#10beba"/><stop offset="0.57" stop-color="#40ca8d"/><stop offset="0.64" stop-color="#5bcc76"/><stop offset="0.71" stop-color="#63cd70"/><stop offset="0.79" stop-color="#68cd6b"/><stop offset="0.86" stop-color="#6dcd67"/><stop offset="0.93" stop-color="#77cc60"/><stop offset="1" stop-color="#85cb55"/></linearGradient>
<linearGradient id="h2_46" x1="0" y1="0" x2="0" y2="1"><stop offset="0" stop-color="#3e26a8"/><stop offset="0.07" stop-color="#3e26a8"/><stop offset="0.14" stop-color="#402bb6"/><stop offset="0.21" stop-color="#4743e7"/><stop offset="0.29" stop-color="#4563fd"/><stop offset="0.36" stop-color="#2f82fa"/><stop offset="0.43" stop-color="#22a1e4"/><stop offset="0.5" stop-color="#02bbc3"/><stop offset="0.57" stop-color="#35c79a"/><stop offset="0.64" stop-color="#4acb84"/><stop offset="0.71" stop-color="#54cc7c"/><stop offset="0.79" stop-color="#5bcc77"/><stop offset="0.86" stop-color="#61cd71"/><stop offset="0.93" stop-color="#6ccd68"/><stop offset="1" stop-color="#7ccc5c"/></linearGradient>
<linearGradient id="h2_47" x1="0" y1="0" x2="0" y2="1"><stop offset="0" stop-color="#3e26a8"/><stop offset="0.07" stop-color="#3e26a8"/><stop offset="0.14" stop-color="#3f29b2"/><stop offset="0.21" stop-color="#4741e4"/><stop offset="0.29" stop-color="#465ffb"/><stop offset="0.36" stop-color="#337bfc"/><stop offset="0.43" stop-color="#2798ea"/><stop offset="0.5" stop-color="#0fb2d4"/><stop offset="0.57" stop-color="#1fc1b1"/><stop offset="0.64" stop-color="#33c69d"/><stop offset="0.71" stop-color="#3ac994"/><stop offset="0.79" stop-color="#41ca8d"/><stop offset="0.86" stop-color="#49cb85"/><stop offset="0.93" stop-color="#56cc7b"/><stop offset="1" stop-color="#66cd6d"/></linearGradient>
<linearGradient id="h2_48" x1="0" y1="0" x2="0" y2="1"><stop offset="0" stop-color="#3e26a8"/><stop offset="0.07" stop-color="#3e26a8"/><stop offset="0.14" stop-color="#3f28af"/><stop offset="0.21" stop-color="#473ee1"/><stop offset="0.29" stop-color="#475bfa"/><stop offset="0.36" stop-color="#3b73fe"/><stop offset="0.43" stop-color="#2d8df2"/><stop offset="0.5" stop-color="#1ea7e1"/><stop offset="0.57" stop-color="#02b7cb"/><stop offset="0.64" stop-color="#12beb9"/><stop offset="0.71" stop-color="#24c1ae"/><stop offset="0.79" stop-color="#2cc4a6"/><stop offset="0.86" stop-color="#33c69e"/><stop offset="0.93" stop-color="#3cc991"/><stop offset="1" stop-color="#4fcc80"/></linearGradient>
<linearGradient id="h2_49" x1="0" y1="0" x2="0" y2="1"><stop offset="0" stop-color="#3e26a8"/><stop offset="0.07" stop-color="#3e26a8"/><stop offset="0.14" stop-color="#3e27ac"/><stop offset="0.21" stop-color="#463cde"/><stop offset="0.29" stop-color="#4757f7"/><stop offset="0.36" stop-color="#416bfe"/><stop offset="0.43" stop-color="#2f82f9"/><stop offset="0.5" stop-color="#269ae9"/><stop offset="0.57" stop-color="#1caadf"/><stop offset="0.64" stop-color="#0bb3d2"/><stop offset="0.71" stop-color="#01b9c8"/><stop offset="0.79" stop-color="#08bcbf"/><stop offset="0.86" stop-color="#1abfb5"/><stop offset="0.93" stop-color="#2ac3a9"/><stop offset="1" stop-color="#36c799"/></linearGradient>
<linearGradient id="h2_50" x1="0" y1="0" x2="0" y2="1"><stop offset="0" stop-color="#3e26a8"/><stop offset="0.07" stop-color="#3e26a8"/><stop offset="0.14" stop-color="#3e27aa"/><stop offset="0.21" stop-color="#463bdc"/><stop offset="0.29" stop-color="#4755f6"/><stop offset="0.36" stop-color="#4367fd"/><stop offset="0.43" stop-color="#317dfc"/><stop offset="0.5" stop-color="#2a93ed"/><stop offset="0.57" stop-color="#21a3e4"/><stop offset="0.64" stop-color="#19addc"/><stop offset="0.71" stop-color="#0bb3d2"/><stop offset="0.79" stop-color="#01b8c9"/><stop offset="0.86" stop-color="#07bcc0"/><stop offset="0.93" stop-color="#1cc0b4"/><stop offset="1" stop-color="#2dc4a5"/></linearGradient>
<linearGradient id="h2_51" x1="0" y1="0" x2="0" y2="1"><stop offset="0" stop-color="#3e26a8"/><stop offset="0.07" stop-color="#3e26a8"/><stop offset="0.14" stop-color="#3e26a8"/><stop offset="0.21" stop-color="#4538d8"/><stop offset="0.29" stop-color="#4850f3"/><stop offset="0.36" stop-color="#465ffb"/><stop offset="0.43" stop-color="#3c72ff"/><stop offset="0.5" stop-color="#2e87f7"/><stop offset="0.57" stop-color="#2896ec"/><stop offset="0.64" stop-color="#23a0e5"/><stop offset="0.71" stop-color="#1fa6e2"/><stop offset="0.79" stop-color="#1babde"/><stop offset="0.86" stop-color="#14b0d8"/><stop offset="0.93" stop-color="#04b6cc"/><stop offset="1" stop-color="#12beb9"/></linearGradient>
<linearGradient id="h2_52" x1="0" y1="0" x2="0" y2="1"><stop offset="0" stop-color="#3e26a8"/><stop offset="0.07" stop-color="#3e26a8"/><stop offset="0.14" stop-color="#3e26a8"/><stop offset="0.21" stop-color="#4536d4"/><stop offset="0.29" stop-color="#484cef"/><stop offset="0.36" stop-color="#4758f8"/><stop offset="0.43" stop-color="#4368fe"/><stop offset="0.5" stop-color="#327bfc"/><stop offset="0.57" stop-color="#2d89f5"/><stop offset="0.64" stop-color="#2b92ee"/><stop offset="0.71" stop-color="#2797eb"/><stop offset="0.79" stop-color="#269ae8"/><stop offset="0.86" stop-color="#249fe6"/><stop offset="0.93" stop-color="#1da8e0"/><stop offset="1" stop-color="#01b8c9"/></linearGradient>
<linearGradient id="h2_53" x1="0" y1="0" x2="0" y2="1"><stop offset="0" stop-color="#3e26a8"/><stop offset="0.07" stop-color="#3e26a8"/><stop offset="0.14" stop-color="#3e26a8"/><stop offset="0.21" stop-color="#4434cf"/><stop offset="0.29" stop-color="#4746ea"/><stop offset="0.36" stop-color="#4851f3"/><stop offset="0.43" stop-color="#465efb"/><stop offset="0.5" stop-color="#3e6fff"/><stop offset="0.57" stop-color="#327cfc"/><stop offset="0.64" stop-color="#2e85f8"/><stop offset="0.71" stop-color="#2d89f5"/><stop offset="0.79" stop-color="#2d8df3"/><stop offset="0.86" stop-color="#2b91ef"/><stop offset="0.93" stop-color="#259be8"/><stop offset="1" stop-color="#13b0d7"/></linearGradient>
<linearGradient id="h2_54" x1="0" y1="0" x2="0" y2="1"><stop offset="0" stop-color="#3e26a8"/><stop offset="0.07" stop-color="#3e26a8"/><stop offset="0.14" stop-color="#3e26a8"/><stop offset="0.21" stop-color="#4433cc"/><stop offset="0.29" stop-color="#4744e8"/><stop offset="0.36" stop-color="#484df0"/><stop offset="0.43" stop-color="#475af9"/><stop offset="0.5" stop-color="#4269fe"/><stop offset="0.57" stop-color="#3875fe"/><stop offset="0.64" stop-color="#317efb"/><stop offset="0.71" stop-color="#2e83f9"/><stop offset="0.79" stop-color="#2e86f7"/><stop offset="0.86" stop-color="#2d8bf3"/><stop offset="0.93" stop-color="#2896ec"/><stop offset="1" stop-color="#1aacdd"/></linearGradient>
<linearGradient id="h2_55" x1="0" y1="0" x2="0" y2="1"><stop offset="0" stop-color="#3e26a8"/><stop offset="0.07" stop-color="#3e26a8"/><stop offset="0.14" stop-color="#3e26a8"/><stop offset="0.21" stop-color="#4331c6"/><stop offset="0.29" stop-color="#473ee1"/><stop offset="0.36" stop-color="#4746ea"/><stop offset="0.43" stop-color="#4851f3"/><stop offset="0.5" stop-color="#465efb"/><stop offset="0.57" stop-color="#4368fe"/><stop offset="0.64" stop-color="#3e70ff"/><stop offset="0.71" stop-color="#3875fe"/><stop offset="0.79" stop-color="#337afd"/><stop offset="0.86" stop-color="#2f81fa"/><stop offset="0.93" stop-color="#2d8cf3"/><stop offset="1" stop-color="#22a1e4"/></linearGradient>
<linearGradient id="h2_56" x1="0" y1="0" x2="0" y2="1"><stop offset="0" stop-color="#3e26a8"/><stop offset="0.07" stop-color="#3e26a8"/><stop offset="0.14" stop-color="#3e26a8"/><stop offset="0.21" stop-color="#422fc1"/><stop offset="0.29" stop-color="#4639da"/><stop offset="0.36" stop-color="#4740e3"/><stop offset="0.43" stop-color="#4849ed"/><stop offset="0.5" stop-color="#4854f5"/><stop offset="0.57" stop-color="#475bf9"/><stop offset="0.64" stop-color="#4562fc"/><stop offset="0.71" stop-color="#4368fe"/><stop offset="0.79" stop-color="#3f6eff"/><stop offset="0.86" stop-color="#3876fe"/><stop offset="0.93" stop-color="#2f82fa"/><stop offset="1" stop-color="#2895ec"/></linearGradient>
<linearGradient id="h2_57" x1="0" y1="0" x2="0" y2="1"><stop offset="0" stop-color="#3e26a8"/><stop offset="0.07" stop-color="#3e26a8"/><stop offset="0.14" stop-color="#3e26a8"/><stop offset="0.21" stop-color="#412dbb"/><stop offset="0.29" stop-color="#4435d1"/><stop offset="0.36" stop-color="#463ada"/><stop offset="0.43" stop-color="#4741e5"/><stop offset="0.5" stop-color="#484aed"/><stop offset="0.57" stop-color="#484ff2"/><stop offset="0.64" stop-color="#4854f6"/><stop offset="0.71" stop-color="#475bf9"/><stop offset="0.79" stop-color="#4563fc"/><stop offset="0.86" stop-color="#416cfe"/><stop offset="0.93" stop-color="#3777fe"/><stop offset="1" stop-color="#2e87f7"/></linearGradient>
<linearGradient id="h2_58" x1="0" y1="0" x2="0" y2="1"><stop offset="0" stop-color="#3e26a8"/><stop offset="0.07" stop-color="#3e26a8"/><stop offset="0.14" stop-color="#3e26a8"/><stop offset="0.21" stop-color="#402bb8"/><stop offset="0.29" stop-color="#4433cc"/><stop offset="0.36" stop-color="#4537d5"/><stop offset="0.43" stop-color="#463de0"/><stop offset="0.5" stop-color="#4745e9"/><stop offset="0.57" stop-color="#4849ed"/><stop offset="0.64" stop-color="#484ef1"/><stop offset="0.71" stop-color="#4854f6"/><stop offset="0.79" stop-color="#475dfa"/><stop offset="0.86" stop-color="#4366fd"/><stop offset="0.93" stop-color="#3c71ff"/><stop offset="1" stop-color="#307ffb"/></linearGradient>
<linearGradient id="h2_59" x1="0" y1="0" x2="0" y2="1"><stop offset="0" stop-color="#3e26a8"/><stop offset="0.07" stop-color="#3e26a8"/><stop offset="0.14" stop-color="#3e26a8"/><stop offset="0.21" stop-color="#3f29b1"/><stop offset="0.29" stop-color="#422fc0"/><stop offset="0.36" stop-color="#4332c9"/><stop offset="0.43" stop-color="#4537d5"/><stop offset="0.5" stop-color="#463cde"/><stop offset="0.57" stop-color="#463ee1"/><stop offset="0.64" stop-color="#4741e5"/><stop offset="0.71" stop-color="#4848ec"/><stop offset="0.79" stop-color="#4851f3"/><stop offset="0.86" stop-color="#475bf9"/><stop offset="0.93" stop-color="#4465fd"/><stop offset="1" stop-color="#3f6eff"/></linearGradient>
<linearGradient id="h2_60" x1="0" y1="0" x2="0" y2="1"><stop offset="0" stop-color="#3f28ae"/><stop offset="0.07" stop-color="#3e26a8"/><stop offset="0.14" stop-color="#3e26a8"/><stop offset="0.21" stop-color="#3e27aa"/><stop offset="0.29" stop-color="#402bb6"/><stop offset="0.36" stop-color="#412dbc"/><stop offset="0.43" stop-color="#4330c5"/><stop offset="0.5" stop-color="#4434cf"/><stop offset="0.57" stop-color="#4536d2"/><stop offset="0.64" stop-color="#4538d7"/><stop offset="0.71" stop-color="#463de0"/><stop offset="0.79" stop-color="#4746ea"/><stop offset="0.86" stop-color="#4850f2"/><stop offset="0.93" stop-color="#4758f8"/><stop offset="1" stop-color="#465ffb"/></linearGradient>
<linearGradient id="h2_61" x1="0" y1="0" x2="0" y2="1"><stop offset="0" stop-color="#412dbb"/><stop offset="0.07" stop-color="#3e26a8"/><stop offset="0.14" stop-color="#3e26a8"/><stop offset="0.21" stop-color="#3e26a8"/><stop offset="0.29" stop-color="#3e27ac"/><stop offset="0.36" stop-color="#3f28ae"/><stop offset="0.43" stop-color="#402ab5"/><stop offset="0.5" stop-color="#422ebf"/><stop offset="0.57" stop-color="#422fc1"/><stop offset="0.64" stop-color="#4331c6"/><stop offset="0.71" stop-color="#4435d1"/><stop offset="0.79" stop-color="#463cde"/><stop offset="0.86" stop-color="#4744e8"/><stop offset="0.93" stop-color="#484bef"/><stop offset="1" stop-color="#4851f3"/></linearGradient>
<linearGradient id="h2_62" x1="0" y1="0" x2="0" y2="1"><stop offset="0" stop-color="#4332c9"/><stop offset="0.07" stop-color="#3f29b0"/><stop offset="0.14" stop-color="#3e26a8"/><stop offset="0.21" stop-color="#3e26a8"/><stop offset="0.29" stop-color="#3e26a8"/><stop offset="0.36" stop-color="#3e26a8"/><stop offset="0.43" stop-color="#3e26a8"/><stop offset="0.5" stop-color="#3f29b0"/><stop offset="0.57" stop-color="#3f29b1"/><stop offset="0.64" stop-color="#402ab4"/><stop offset="0.71" stop-color="#412ebe"/><stop offset="0.79" stop-color="#4433cc"/><stop offset="0.86" stop-color="#4539d9"/><stop offset="0.93" stop-color="#473ee1"/><stop offset="1" stop-color="#4743e7"/></linearGradient>
<linearGradient id="h2_63" x1="0" y1="0" x2="0" y2="1"><stop offset="0" stop-color="#4435d1"/><stop offset="0.07" stop-color="#402bb6"/><stop offset="0.14" stop-color="#3e26a8"/><stop offset="0.21" stop-color="#3e26a8"/><stop offset="0.29" stop-color="#3e26a8"/><stop offset="0.36" stop-color="#3e26a8"/><stop offset="0.43" stop-color="#3e26a8"/><stop offset="0.5" stop-color="#3e27a9"/><stop offset="0.57" stop-color="#3e27aa"/><stop offset="0.64" stop-color="#3e27ab"/><stop offset="0.71" stop-color="#402ab4"/><stop offset="0.79" stop-color="#422fc1"/><stop offset="0.86" stop-color="#4434ce"/><stop offset="0.93" stop-color="#4538d8"/><stop offset="1" stop-color="#463cdf"/></linearGradient>
<linearGradient id="h2_64" x1="0" y1="0" x2="0" y2="1"><stop offset="0" stop-color="#463cde"/><stop offset="0.07" stop-color="#4330c5"/><stop offset="0.14" stop-color="#3e26a8"/><stop offset="0.21" stop-color="#3e26a8"/><stop offset="0.29" stop-color="#3e26a8"/><stop offset="0.36" stop-color="#3e26a8"/><stop offset="0.43" stop-color="#3e26a8"/><stop offset="0.5" stop-color="#3e26a8"/><stop offset="0.57" stop-color="#3e26a8"/><stop offset="0.64" stop-color="#3e26a8"/><stop offset="0.71" stop-color="#3e26a8"/><stop offset="0.79" stop-color="#3e27a9"/><stop offset="0.86" stop-color="#3f29b2"/><stop offset="0.93" stop-color="#412cbb"/><stop offset="1" stop-color="#4331c6"/></linearGradient>
<linearGradient id="h2_65" x1="0" y1="0" x2="0" y2="1"><stop offset="0" stop-color="#4743e7"/><stop offset="0.07" stop-color="#4537d5"/><stop offset="0.14" stop-color="#3e26a8"/><stop offset="0.21" stop-color="#3e26a8"/><stop offset="0.29" stop-color="#3e26a8"/><stop offset="0.36" stop-color="#3e26a8"/><stop offset="0.43" stop-color="#3e26a8"/><stop offset="0.5" stop-color="#3e26a8"/><stop offset="0.57" stop-color="#3e26a8"/><stop offset="0.64" stop-color="#3e26a8"/><stop offset="0.71" stop-color="#3e26a8"/><stop offset="0.79" stop-color="#3e26a8"/><stop offset="0.86" stop-color="#3e26a8"/><stop offset="0.93" stop-color="#3e26a8"/><stop offset="1" stop-color="#3e26a9"/></linearGradient>
<linearGradient id="h2_66" x1="0" y1="0" x2="0" y2="1"><stop offset="0" stop-color="#484aed"/><stop offset="0.07" stop-color="#473fe2"/><stop offset="0.14" stop-color="#3f28ad"/><stop offset="0.21" stop-color="#3e26a8"/><stop offset="0.29" stop-color="#3e26a8"/><stop offset="0.36" stop-color="#3e26a8"/><stop offset="0.43" stop-color="#3e26a8"/><stop offset="0.5" stop-color="#3e26a8"/><stop offset="0.57" stop-color="#3e26a8"/><stop offset="0.64" stop-color="#3e26a8"/><stop offset="0.71" stop-color="#3e26a8"/><stop offset="0.79" stop-color="#3e26a8"/><stop offset="0.86" stop-color="#3e26a8"/><stop offset="0.93" stop-color="#3e26a8"/><stop offset="1" stop-color="#3e26a8"/></linearGradient>
<linearGradient id="h2_67" x1="0" y1="0" x2="0" y2="1"><stop offset="0" stop-color="#484df0"/><stop offset="0.07" stop-color="#4744e8"/><stop offset="0.14" stop-color="#3f29b0"/><stop offset="0.21" stop-color="#3e26a8"/><stop offset="0.29" stop-color="#3e26a8"/><stop offset="0.36" stop-color="#3e26a8"/><stop offset="0.43" stop-color="#3e26a8"/><stop offset="0.5" stop-color="#3e26a8"/><stop offset="0.57" stop-color="#3e26a8"/><stop offset="0.64" stop-color="#3e26a8"/><stop offset="0.71" stop-color="#3e26a8"/><stop offset="0.79" stop-color="#3e26a8"/><stop offset="0.86" stop-color="#3e26a8"/><stop offset="0.93" stop-color="#3e26a8"/><stop offset="1" stop-color="#3e26a8"/></linearGradient>
<linearGradient id="h2_68" x1="0" y1="0" x2="0" y2="1"><stop offset="0" stop-color="#4853f5"/><stop offset="0.07" stop-color="#484cf0"/><stop offset="0.14" stop-color="#402bb7"/><stop offset="0.21" stop-color="#3e26a8"/><stop offset="0.29" stop-color="#3e26a8"/><stop offset="0.36" stop-color="#3e26a8"/><stop offset="0.43" stop-color="#3e26a8"/><stop offset="0.5" stop-color="#3e26a8"/><stop offset="0.57" stop-color="#3e26a8"/><stop offset="0.64" stop-color="#3e26a8"/><stop offset="0.71" stop-color="#3e26a8"/><stop offset="0.79" stop-color="#3e26a8"/><stop offset="0.86" stop-color="#3e26a8"/><stop offset="0.93" stop-color="#3e26a8"/><stop offset="1" stop-color="#3e26a8"/></linearGradient>
<linearGradient id="h2_69" x1="0" y1="0" x2="0" y2="1"><stop offset="0" stop-color="#4758f8"/><stop offset="0.07" stop-color="#4853f5"/><stop offset="0.14" stop-color="#422fc1"/><stop offset="0.21" stop-color="#3e26a8"/><stop offset="0.29" stop-color="#3e26a8"/><stop offset="0.36" stop-color="#3e26a8"/><stop offset="0.43" stop-color="#3e26a8"/><stop offset="0.5" stop-color="#3e26a8"/><stop offset="0.57" stop-color="#3e26a8"/><stop offset="0.64" stop-color="#3e26a8"/><stop offset="0.71" stop-color="#3e26a8"/><stop offset="0.79" stop-color="#3e26a8"/><stop offset="0.86" stop-color="#3e26a8"/><stop offset="0.93" stop-color="#3e26a8"/><stop offset="1" stop-color="#3e26a8"/></linearGradient>
<linearGradient id="h2_70" x1="0" y1="0" x2="0" y2="1"><stop offset="0" stop-color="#475dfa"/><stop offset="0.07" stop-color="#4758f8"/><stop offset="0.14" stop-color="#4434d0"/><stop offset="0.21" stop-color="#3f29b1"/><stop offset="0.29" stop-color="#3e26a8"/><stop offset="0.36" stop-color="#3e26a8"/><stop offset="0.43" stop-color="#3e26a8"/><stop offset="0.5" stop-color="#3e26a8"/><stop offset="0.57" stop-color="#3e26a8"/><stop offset="0.64" stop-color="#3e26a8"/><stop offset="0.71" stop-color="#3e26a8"/><stop offset="0.79" stop-color="#3e26a8"/><stop offset="0.86" stop-color="#3e26a8"/><stop offset="0.93" stop-color="#3e26a8"/><stop offset="1" stop-color="#3e26a8"/></linearGradient>
<linearGradient id="h2_71" x1="0" y1="0" x2="0" y2="1"><stop offset="0" stop-color="#465ffb"/><stop offset="0.07" stop-color="#475bf9"/><stop offset="0.14" stop-color="#4538d8"/><stop offset="0.21" stop-color="#412cbb"/><stop offset="0.29" stop-color="#3f29b0"/><stop offset="0.36" stop-color="#3f29b0"/><stop offset="0.43" stop-color="#3f29b0"/><stop offset="0.5" stop-color="#3f28af"/><stop offset="0.57" stop-color="#3e27aa"/><stop offset="0.64" stop-color="#3e26a8"/><stop offset="0.71" stop-color="#3e26a8"/><stop offset="0.79" stop-color="#3e26a8"/><stop offset="0.86" stop-color="#3e26a8"/><stop offset="0.93" stop-color="#3e26a8"/><stop offset="1" stop-color="#3e26a8"/></linearGradient>
<linearGradient id="h2_72" x1="0" y1="0" x2="0" y2="1"><stop offset="0" stop-color="#4563fc"/><stop offset="0.07" stop-color="#465ffb"/><stop offset="0.14" stop-color="#4741e4"/><stop offset="0.21" stop-color="#4434cf"/><stop offset="0.29" stop-color="#422ebf"/><stop offset="0.36" stop-color="#422ebf"/><stop offset="0.43" stop-color="#422ebf"/><stop offset="0.5" stop-color="#422ebf"/><stop offset="0.57" stop-color="#412dbc"/><stop offset="0.64" stop-color="#412cb9"/><stop offset="0.71" stop-color="#402bb8"/><stop offset="0.79" stop-color="#402bb7"/><stop offset="0.86" stop-color="#402bb6"/><stop offset="0.93" stop-color="#402bb6"/><stop offset="1" stop-color="#402bb6"/></linearGradient>
<linearGradient id="h2_73" x1="0" y1="0" x2="0" y2="1"><stop offset="0" stop-color="#4367fd"/><stop offset="0.07" stop-color="#4564fd"/><stop offset="0.14" stop-color="#4849ed"/><stop offset="0.21" stop-color="#463de0"/><stop offset="0.29" stop-color="#4434ce"/><stop offset="0.36" stop-color="#4434ce"/><stop offset="0.43" stop-color="#4434ce"/><stop offset="0.5" stop-color="#4434ce"/><stop offset="0.57" stop-color="#4433cd"/><stop offset="0.64" stop-color="#4433cd"/><stop offset="0.71" stop-color="#4433cc"/><stop offset="0.79" stop-color="#4433cc"/><stop offset="0.86" stop-color="#4433cc"/><stop offset="0.93" stop-color="#4433cc"/><stop offset="1" stop-color="#4433cc"/></linearGradient>
<linearGradient id="h2_74" x1="0" y1="0" x2="0" y2="1"><stop offset="0" stop-color="#416bfe"/><stop offset="0.07" stop-color="#4368fd"/><stop offset="0.14" stop-color="#4850f2"/><stop offset="0.21" stop-color="#4745e9"/><stop offset="0.29" stop-color="#463ada"/><stop offset="0.36" stop-color="#463ada"/><stop offset="0.43" stop-color="#463ada"/><stop offset="0.5" stop-color="#463ada"/><stop offset="0.57" stop-color="#463adb"/><stop offset="0.64" stop-color="#463adb"/><stop offset="0.71" stop-color="#463adb"/><stop offset="0.79" stop-color="#463adb"/><stop offset="0.86" stop-color="#463adb"/><stop offset="0.93" stop-color="#463adb"/><stop offset="1" stop-color="#463adb"/></linearGradient>
<linearGradient id="h2_75" x1="0" y1="0" x2="0" y2="1"><stop offset="0" stop-color="#406cfe"/><stop offset="0.07" stop-color="#4269fe"/><stop offset="0.14" stop-color="#4853f5"/><stop offset="0.21" stop-color="#4849ed"/><stop offset="0.29" stop-color="#463de0"/><stop offset="0.36" stop-color="#463de0"/><stop offset="0.43" stop-color="#463de0"/><stop offset="0.5" stop-color="#463de0"/><stop offset="0.57" stop-color="#463de0"/><stop offset="0.64" stop-color="#463ee0"/><stop offset="0.71" stop-color="#463ee1"/><stop offset="0.79" stop-color="#463ee1"/><stop offset="0.86" stop-color="#463ee1"/><stop offset="0.93" stop-color="#463ee1"/><stop offset="1" stop-color="#463ee1"/></linearGradient>
<linearGradient id="h2_76" x1="0" y1="0" x2="0" y2="1"><stop offset="0" stop-color="#3e70ff"/><stop offset="0.07" stop-color="#406cfe"/><stop offset="0.14" stop-color="#4759f8"/><stop offset="0.21" stop-color="#4852f4"/><stop offset="0.29" stop-color="#4745e9"/><stop offset="0.36" stop-color="#4745e9"/><stop offset="0.43" stop-color="#4745e9"/><stop offset="0.5" stop-color="#4745e9"/><stop offset="0.57" stop-color="#4745e9"/><stop offset="0.64" stop-color="#4746ea"/><stop offset="0.71" stop-color="#4746ea"/><stop offset="0.79" stop-color="#4746ea"/><stop offset="0.86" stop-color="#4746ea"/><stop offset="0.93" stop-color="#4746ea"/><stop offset="1" stop-color="#4746ea"/></linearGradient>
<linearGradient id="h2_77" x1="0" y1="0" x2="0" y2="1"><stop offset="0" stop-color="#3a73fe"/><stop offset="0.07" stop-color="#3e6fff"/><stop offset="0.14" stop-color="#465ffb"/><stop offset="0.21" stop-color="#475af9"/><stop offset="0.29" stop-color="#484df1"/><stop offset="0.36" stop-color="#484df1"/><stop offset="0.43" stop-color="#484df1"/><stop offset="0.5" stop-color="#484df1"/><stop offset="0.57" stop-color="#484ef1"/><stop offset="0.64" stop-color="#484ef1"/><stop offset="0.71" stop-color="#484ef1"/><stop offset="0.79" stop-color="#484ff1"/><stop offset="0.86" stop-color="#484ff2"/><stop offset="0.93" stop-color="#484ff2"/><stop offset="1" stop-color="#484ff2"/></linearGradient>
<linearGradient id="h2_78" x1="0" y1="0" x2="0" y2="1"><stop offset="0" stop-color="#3777fe"/><stop offset="0.07" stop-color="#3c72ff"/><stop offset="0.14" stop-color="#4465fd"/><stop offset="0.21" stop-color="#4561fc"/><stop offset="0.29" stop-color="#4756f6"/><stop offset="0.36" stop-color="#4756f6"/><stop offset="0.43" stop-color="#4756f6"/><stop offset="0.5" stop-color="#4756f6"/><stop offset="0.57" stop-color="#4758f8"/><stop offset="0.64" stop-color="#4759f8"/><stop offset="0.71" stop-color="#4758f8"/><stop offset="0.79" stop-color="#4758f8"/><stop offset="0.86" stop-color="#4758f8"/><stop offset="0.93" stop-color="#4758f8"/><stop offset="1" stop-color="#4758f8"/></linearGradient>
<linearGradient id="h2_79" x1="0" y1="0" x2="0" y2="1"><stop offset="0" stop-color="#3479fd"/><stop offset="0.07" stop-color="#3a73fe"/><stop offset="0.14" stop-color="#4367fd"/><stop offset="0.21" stop-color="#4465fd"/><stop offset="0.29" stop-color="#4759f8"/><stop offset="0.36" stop-color="#4759f8"/><stop offset="0.43" stop-color="#4759f8"/><stop offset="0.5" stop-color="#475af9"/><stop offset="0.57" stop-color="#465dfb"/><stop offset="0.64" stop-color="#465ffb"/><stop offset="0.71" stop-color="#465efb"/><stop offset="0.79" stop-color="#465efb"/><stop offset="0.86" stop-color="#465dfa"/><stop offset="0.93" stop-color="#465dfa"/><stop offset="1" stop-color="#465dfa"/></linearGradient>
<linearGradient id="h2_80" x1="0" y1="0" x2="0" y2="1"><stop offset="0" stop-color="#317efb"/><stop offset="0.07" stop-color="#3777fe"/><stop offset="0.14" stop-color="#416bfe"/><stop offset="0.21" stop-color="#426afe"/><stop offset="0.29" stop-color="#4660fc"/><stop offset="0.36" stop-color="#4660fc"/><stop offset="0.43" stop-color="#4660fc"/><stop offset="0.5" stop-color="#4661fc"/><stop offset="0.57" stop-color="#426afe"/><stop offset="0.64" stop-color="#406dfe"/><stop offset="0.71" stop-color="#416cfe"/><stop offset="0.79" stop-color="#426afe"/><stop offset="0.86" stop-color="#4368fe"/><stop offset="0.93" stop-color="#4368fd"/><stop offset="1" stop-color="#4368fe"/></linearGradient>
<linearGradient id="h2_81" x1="0" y1="0" x2="0" y2="1"><stop offset="0" stop-color="#2e84f9"/><stop offset="0.07" stop-color="#337bfc"/><stop offset="0.14" stop-color="#3f6eff"/><stop offset="0.21" stop-color="#3f6dfe"/><stop offset="0.29" stop-color="#4367fd"/><stop offset="0.36" stop-color="#4367fd"/><stop offset="0.43" stop-color="#4367fd"/><stop offset="0.5" stop-color="#4367fd"/><stop offset="0.57" stop-color="#3975fe"/><stop offset="0.64" stop-color="#337afd"/><stop offset="0.71" stop-color="#3678fd"/><stop offset="0.79" stop-color="#3975fe"/><stop offset="0.86" stop-color="#3c72ff"/><stop offset="0.93" stop-color="#3c71ff"/><stop offset="1" stop-color="#3b72fe"/></linearGradient>
<linearGradient id="h2_82" x1="0" y1="0" x2="0" y2="1"><stop offset="0" stop-color="#2d8cf3"/><stop offset="0.07" stop-color="#3080fb"/><stop offset="0.14" stop-color="#3c71ff"/><stop offset="0.21" stop-color="#3d71ff"/><stop offset="0.29" stop-color="#406dfe"/><stop offset="0.36" stop-color="#406dfe"/><stop offset="0.43" stop-color="#406cfe"/><stop offset="0.5" stop-color="#406dfe"/><stop offset="0.57" stop-color="#317dfc"/><stop offset="0.64" stop-color="#2e83f9"/><stop offset="0.71" stop-color="#2f81fa"/><stop offset="0.79" stop-color="#317dfc"/><stop offset="0.86" stop-color="#337bfd"/><stop offset="0.93" stop-color="#347afd"/><stop offset="1" stop-color="#347afd"/></linearGradient>
<linearGradient id="h2_83" x1="0" y1="0" x2="0" y2="1"><stop offset="0" stop-color="#2c90f0"/><stop offset="0.07" stop-color="#2f82fa"/><stop offset="0.14" stop-color="#3b73fe"/><stop offset="0.21" stop-color="#3b72fe"/><stop offset="0.29" stop-color="#3e70ff"/><stop offset="0.36" stop-color="#3e70ff"/><stop offset="0.43" stop-color="#3e6fff"/><stop offset="0.5" stop-color="#3e70ff"/><stop offset="0.57" stop-color="#3080fb"/><stop offset="0.64" stop-color="#2e86f8"/><stop offset="0.71" stop-color="#2e84f9"/><stop offset="0.79" stop-color="#2f81fa"/><stop offset="0.86" stop-color="#307efb"/><stop offset="0.93" stop-color="#317dfc"/><stop offset="1" stop-color="#317dfc"/></linearGradient>
<linearGradient id="h2_84" x1="0" y1="0" x2="0" y2="1"><stop offset="0" stop-color="#2798ea"/><stop offset="0.07" stop-color="#2e86f7"/><stop offset="0.14" stop-color="#3876fe"/><stop offset="0.21" stop-color="#3876fe"/><stop offset="0.29" stop-color="#3975fe"/><stop offset="0.36" stop-color="#3975fe"/><stop offset="0.43" stop-color="#3975fe"/><stop offset="0.5" stop-color="#3875fe"/><stop offset="0.57" stop-color="#2e84f8"/><stop offset="0.64" stop-color="#2d8af5"/><stop offset="0.71" stop-color="#2d89f5"/><stop offset="0.79" stop-color="#2e87f7"/><stop offset="0.86" stop-color="#2e85f8"/><stop offset="0.93" stop-color="#2e83f9"/><stop offset="1" stop-color="#2f81fa"/></linearGradient>
<linearGradient id="h2_85" x1="0" y1="0" x2="0" y2="1"><stop offset="0" stop-color="#239fe5"/><stop offset="0.07" stop-color="#2d89f5"/><stop offset="0.14" stop-color="#347afd"/><stop offset="0.21" stop-color="#347afd"/><stop offset="0.29" stop-color="#347afd"/><stop offset="0.36" stop-color="#347afd"/><stop offset="0.43" stop-color="#347afd"/><stop offset="0.5" stop-color="#337bfc"/><stop offset="0.57" stop-color="#2d88f6"/><stop offset="0.64" stop-color="#2d8df2"/><stop offset="0.71" stop-color="#2d8df2"/><stop offset="0.79" stop-color="#2d8cf3"/><stop offset="0.86" stop-color="#2d8bf4"/><stop offset="0.93" stop-color="#2d88f6"/><stop offset="1" stop-color="#2e84f8"/></linearGradient>
<linearGradient id="h2_86" x1="0" y1="0" x2="0" y2="1"><stop offset="0" stop-color="#1fa6e2"/><stop offset="0.07" stop-color="#2d8cf3"/><stop offset="0.14" stop-color="#307ffb"/><stop offset="0.21" stop-color="#307ffb"/><stop offset="0.29" stop-color="#317efb"/><stop offset="0.36" stop-color="#317efb"/><stop offset="0.43" stop-color="#307ffb"/><stop offset="0.5" stop-color="#2f81fa"/><stop offset="0.57" stop-color="#2d8cf3"/><stop offset="0.64" stop-color="#2b90f0"/><stop offset="0.71" stop-color="#2c90f0"/><stop offset="0.79" stop-color="#2c90f0"/><stop offset="0.86" stop-color="#2c8ff1"/><stop offset="0.93" stop-color="#2d8df2"/><stop offset="1" stop-color="#2e87f7"/></linearGradient>
<linearGradient id="h2_87" x1="0" y1="0" x2="0" y2="1"><stop offset="0" stop-color="#1da8e0"/><stop offset="0.07" stop-color="#2c8ef1"/><stop offset="0.14" stop-color="#2f82fa"/><stop offset="0.21" stop-color="#2f81fa"/><stop offset="0.29" stop-color="#3080fb"/><stop offset="0.36" stop-color="#3080fa"/><stop offset="0.43" stop-color="#2f81fa"/><stop offset="0.5" stop-color="#2e84f9"/><stop offset="0.57" stop-color="#2c8ef1"/><stop offset="0.64" stop-color="#2b92ef"/><stop offset="0.71" stop-color="#2b91ef"/><stop offset="0.79" stop-color="#2b91ef"/><stop offset="0.86" stop-color="#2b91ef"/><stop offset="0.93" stop-color="#2c8ff0"/><stop offset="1" stop-color="#2d88f6"/></linearGradient>
<linearGradient id="h2_88" x1="0" y1="0" x2="0" y2="1"><stop offset="0" stop-color="#1aabdd"/><stop offset="0.07" stop-color="#2a93ee"/><stop offset="0.14" stop-color="#2d88f6"/><stop offset="0.21" stop-color="#2e86f7"/><stop offset="0.29" stop-color="#2e83f9"/><stop offset="0.36" stop-color="#2e83f9"/><stop offset="0.43" stop-color="#2e85f8"/><stop offset="0.5" stop-color="#2d89f5"/><stop offset="0.57" stop-color="#2b91ef"/><stop offset="0.64" stop-color="#2994ed"/><stop offset="0.71" stop-color="#2994ed"/><stop offset="0.79" stop-color="#2994ed"/><stop offset="0.86" stop-color="#2994ed"/><stop offset="0.93" stop-color="#2a93ee"/><stop offset="1" stop-color="#2d8cf3"/></linearGradient>
<linearGradient id="h2_89" x1="0" y1="0" x2="0" y2="1"><stop offset="0" stop-color="#18aedb"/><stop offset="0.07" stop-color="#2797ea"/><stop offset="0.14" stop-color="#2c8ff1"/><stop offset="0.21" stop-color="#2d8cf3"/><stop offset="0.29" stop-color="#2e86f7"/><stop offset="0.36" stop-color="#2e86f7"/><stop offset="0.43" stop-color="#2d89f6"/><stop offset="0.5" stop-color="#2c8ef1"/><stop offset="0.57" stop-color="#2994ed"/><stop offset="0.64" stop-color="#2896eb"/><stop offset="0.71" stop-color="#2796eb"/><stop offset="0.79" stop-color="#2797eb"/><stop offset="0.86" stop-color="#2797eb"/><stop offset="0.93" stop-color="#2896ec"/><stop offset="1" stop-color="#2b90f0"/></linearGradient>
<linearGradient id="h2_90" x1="0" y1="0" x2="0" y2="1"><stop offset="0" stop-color="#15afd9"/><stop offset="0.07" stop-color="#259ce7"/><stop offset="0.14" stop-color="#2896eb"/><stop offset="0.21" stop-color="#2b92ef"/><stop offset="0.29" stop-color="#2d8af5"/><stop offset="0.36" stop-color="#2d8af5"/><stop offset="0.43" stop-color="#2d8cf3"/><stop offset="0.5" stop-color="#2a93ee"/><stop offset="0.57" stop-color="#2797eb"/><stop offset="0.64" stop-color="#2798ea"/><stop offset="0.71" stop-color="#2699e9"/><stop offset="0.79" stop-color="#2699e9"/><stop offset="0.86" stop-color="#2699e9"/><stop offset="0.93" stop-color="#2699e9"/><stop offset="1" stop-color="#2896ec"/></linearGradient>
<linearGradient id="h2_91" x1="0" y1="0" x2="0" y2="1"><stop offset="0" stop-color="#14b0d8"/><stop offset="0.07" stop-color="#249fe6"/><stop offset="0.14" stop-color="#2699e9"/><stop offset="0.21" stop-color="#2995ec"/><stop offset="0.29" stop-color="#2d8cf3"/><stop offset="0.36" stop-color="#2d8cf3"/><stop offset="0.43" stop-color="#2c8ef1"/><stop offset="0.5" stop-color="#2995ec"/><stop offset="0.57" stop-color="#2798ea"/><stop offset="0.64" stop-color="#2699e9"/><stop offset="0.71" stop-color="#269ae9"/><stop offset="0.79" stop-color="#269ae9"/><stop offset="0.86" stop-color="#269ae8"/><stop offset="0.93" stop-color="#269ae9"/><stop offset="1" stop-color="#2798ea"/></linearGradient>
<linearGradient id="h2_92" x1="0" y1="0" x2="0" y2="1"><stop offset="0" stop-color="#10b2d5"/><stop offset="0.07" stop-color="#20a4e3"/><stop offset="0.14" stop-color="#22a1e4"/><stop offset="0.21" stop-color="#259ce7"/><stop offset="0.29" stop-color="#2b90ef"/><stop offset="0.36" stop-color="#2c8ff1"/><stop offset="0.43" stop-color="#2b92ee"/><stop offset="0.5" stop-color="#2698ea"/><stop offset="0.57" stop-color="#269ae8"/><stop offset="0.64" stop-color="#259be8"/><stop offset="0.71" stop-color="#259be8"/><stop offset="0.79" stop-color="#259be8"/><stop offset="0.86" stop-color="#259be7"/><stop offset="0.93" stop-color="#259be7"/><stop offset="1" stop-color="#259be8"/></linearGradient>
<linearGradient id="h2_93" x1="0" y1="0" x2="0" y2="1"><stop offset="0" stop-color="#0ab4d2"/><stop offset="0.07" stop-color="#1caadf"/><stop offset="0.14" stop-color="#1ca9df"/><stop offset="0.21" stop-color="#20a5e2"/><stop offset="0.29" stop-color="#2896eb"/><stop offset="0.36" stop-color="#2a92ee"/><stop offset="0.43" stop-color="#2895ec"/><stop offset="0.5" stop-color="#259ce7"/><stop offset="0.57" stop-color="#259ce7"/><stop offset="0.64" stop-color="#259be7"/><stop offset="0.71" stop-color="#259be8"/><stop offset="0.79" stop-color="#259be8"/><stop offset="0.86" stop-color="#259be8"/><stop offset="0.93" stop-color="#259be8"/><stop offset="1" stop-color="#259be8"/></linearGradient>
<linearGradient id="h2_94" x1="0" y1="0" x2="0" y2="1"><stop offset="0" stop-color="#04b6cd"/><stop offset="0.07" stop-color="#14b0d8"/><stop offset="0.14" stop-color="#13b0d7"/><stop offset="0.21" stop-color="#18aedb"/><stop offset="0.29" stop-color="#259ce7"/><stop offset="0.36" stop-color="#2896eb"/><stop offset="0.43" stop-color="#2699e9"/><stop offset="0.5" stop-color="#239fe5"/><stop offset="0.57" stop-color="#249de7"/><stop offset="0.64" stop-color="#259be8"/><stop offset="0.71" stop-color="#2699e9"/><stop offset="0.79" stop-color="#2797ea"/><stop offset="0.86" stop-color="#2796eb"/><stop offset="0.93" stop-color="#2896eb"/><stop offset="1" stop-color="#2896eb"/></linearGradient>
<linearGradient id="h2_95" x1="0" y1="0" x2="0" y2="1"><stop offset="0" stop-color="#01b9c7"/><stop offset="0.07" stop-color="#06b5cf"/><stop offset="0.14" stop-color="#05b6ce"/><stop offset="0.21" stop-color="#07b5cf"/><stop offset="0.29" stop-color="#22a2e4"/><stop offset="0.36" stop-color="#269ae9"/><stop offset="0.43" stop-color="#259ce7"/><stop offset="0.5" stop-color="#22a2e4"/><stop offset="0.57" stop-color="#249ee6"/><stop offset="0.64" stop-color="#269ae9"/><stop offset="0.71" stop-color="#2896ec"/><stop offset="0.79" stop-color="#2b91ef"/><stop offset="0.86" stop-color="#2c8ef1"/><stop offset="0.93" stop-color="#2c8ef1"/><stop offset="1" stop-color="#2c8ef1"/></linearGradient>
<linearGradient id="h2_96" x1="0" y1="0" x2="0" y2="1"><stop offset="0" stop-color="#02bac4"/><stop offset="0.07" stop-color="#01b8c9"/><stop offset="0.14" stop-color="#01b8c9"/><stop offset="0.21" stop-color="#01b8ca"/><stop offset="0.29" stop-color="#1fa6e2"/><stop offset="0.36" stop-color="#259be7"/><stop offset="0.43" stop-color="#259de7"/><stop offset="0.5" stop-color="#21a2e4"/><stop offset="0.57" stop-color="#249ee6"/><stop offset="0.64" stop-color="#2699e9"/><stop offset="0.71" stop-color="#2a93ed"/><stop offset="0.79" stop-color="#2c8ef2"/><stop offset="0.86" stop-color="#2d8af5"/><stop offset="0.93" stop-color="#2d89f5"/><stop offset="1" stop-color="#2d89f5"/></linearGradient>
<linearGradient id="h2_97" x1="0" y1="0" x2="0" y2="1"><stop offset="0" stop-color="#0abdbd"/><stop offset="0.07" stop-color="#08bcbf"/><stop offset="0.14" stop-color="#08bcbf"/><stop offset="0.21" stop-color="#09bcbe"/><stop offset="0.29" stop-color="#19acdc"/><stop offset="0.36" stop-color="#23a0e5"/><stop offset="0.43" stop-color="#249fe5"/><stop offset="0.5" stop-color="#21a3e4"/><stop offset="0.57" stop-color="#249ee6"/><stop offset="0.64" stop-color="#2797eb"/><stop offset="0.71" stop-color="#2c8ff0"/><stop offset="0.79" stop-color="#2e86f7"/><stop offset="0.86" stop-color="#2f80fa"/><stop offset="0.93" stop-color="#307ffb"/><stop offset="1" stop-color="#307ffb"/></linearGradient>
<linearGradient id="h2_98" x1="0" y1="0" x2="0" y2="1"><stop offset="0" stop-color="#1abfb5"/><stop offset="0.07" stop-color="#1bc0b4"/><stop offset="0.14" stop-color="#19bfb5"/><stop offset="0.21" stop-color="#1dc0b3"/><stop offset="0.29" stop-color="#0cb3d2"/><stop offset="0.36" stop-color="#20a4e3"/><stop offset="0.43" stop-color="#22a2e4"/><stop offset="0.5" stop-color="#21a3e4"/><stop offset="0.57" stop-color="#259de7"/><stop offset="0.64" stop-color="#2895ec"/><stop offset="0.71" stop-color="#2d8bf4"/><stop offset="0.79" stop-color="#307ffb"/><stop offset="0.86" stop-color="#3777fe"/><stop offset="0.93" stop-color="#3875fe"/><stop offset="1" stop-color="#3875fe"/></linearGradient>
<linearGradient id="h2_99" x1="0" y1="0" x2="0" y2="1"><stop offset="0" stop-color="#27c2ac"/><stop offset="0.07" stop-color="#28c3aa"/><stop offset="0.14" stop-color="#27c2ac"/><stop offset="0.21" stop-color="#2cc4a7"/><stop offset="0.29" stop-color="#01bac6"/><stop offset="0.36" stop-color="#1baade"/><stop offset="0.43" stop-color="#20a4e3"/><stop offset="0.5" stop-color="#22a2e4"/><stop offset="0.57" stop-color="#259be8"/><stop offset="0.64" stop-color="#2b92ee"/><stop offset="0.71" stop-color="#2e86f8"/><stop offset="0.79" stop-color="#3677fe"/><stop offset="0.86" stop-color="#406dfe"/><stop offset="0.93" stop-color="#416bfe"/><stop offset="1" stop-color="#416bfe"/></linearGradient>
<linearGradient id="h2_100" x1="0" y1="0" x2="0" y2="1"><stop offset="0" stop-color="#2cc4a7"/><stop offset="0.07" stop-color="#2dc4a5"/><stop offset="0.14" stop-color="#2cc4a7"/><stop offset="0.21" stop-color="#30c5a1"/><stop offset="0.29" stop-color="#09bcbe"/><stop offset="0.36" stop-color="#18aedb"/><stop offset="0.43" stop-color="#1fa6e2"/><stop offset="0.5" stop-color="#22a2e4"/><stop offset="0.57" stop-color="#269ae9"/><stop offset="0.64" stop-color="#2b90f0"/><stop offset="0.71" stop-color="#2e83f9"/><stop offset="0.79" stop-color="#3a73fe"/><stop offset="0.86" stop-color="#4368fe"/><stop offset="0.93" stop-color="#4466fd"/><stop offset="1" stop-color="#4466fd"/></linearGradient>
<linearGradient id="h2_101" x1="0" y1="0" x2="0" y2="1"><stop offset="0" stop-color="#35c79b"/><stop offset="0.07" stop-color="#34c79b"/><stop offset="0.14" stop-color="#33c79d"/><stop offset="0.21" stop-color="#3ac994"/><stop offset="0.29" stop-color="#25c2ad"/><stop offset="0.36" stop-color="#0bb4d2"/><stop offset="0.43" stop-color="#1da8e0"/><stop offset="0.5" stop-color="#23a1e4"/><stop offset="0.57" stop-color="#2798ea"/><stop offset="0.64" stop-color="#2d8cf3"/><stop offset="0.71" stop-color="#327cfc"/><stop offset="0.79" stop-color="#426afe"/><stop offset="0.86" stop-color="#465dfa"/><stop offset="0.93" stop-color="#475bf9"/><stop offset="1" stop-color="#475bf9"/></linearGradient>
<linearGradient id="h2_102" x1="0" y1="0" x2="0" y2="1"><stop offset="0" stop-color="#41ca8c"/><stop offset="0.07" stop-color="#3cc991"/><stop offset="0.14" stop-color="#3bc992"/><stop offset="0.21" stop-color="#47cb87"/><stop offset="0.29" stop-color="#36c799"/><stop offset="0.36" stop-color="#01b9c7"/><stop offset="0.43" stop-color="#1babde"/><stop offset="0.5" stop-color="#23a0e5"/><stop offset="0.57" stop-color="#2995ec"/><stop offset="0.64" stop-color="#2d88f6"/><stop offset="0.71" stop-color="#3974fe"/><stop offset="0.79" stop-color="#4660fb"/><stop offset="0.86" stop-color="#4852f4"/><stop offset="0.93" stop-color="#484ff2"/><stop offset="1" stop-color="#484ff2"/></linearGradient>
<linearGradient id="h2_103" x1="0" y1="0" x2="0" y2="1"><stop offset="0" stop-color="#43ca8b"/><stop offset="0.07" stop-color="#41ca8c"/><stop offset="0.14" stop-color="#42ca8b"/><stop offset="0.21" stop-color="#48cb86"/><stop offset="0.29" stop-color="#35c79b"/><stop offset="0.36" stop-color="#10beba"/><stop offset="0.43" stop-color="#15afd9"/><stop offset="0.5" stop-color="#20a5e3"/><stop offset="0.57" stop-color="#2798ea"/><stop offset="0.64" stop-color="#2f80fa"/><stop offset="0.71" stop-color="#426afe"/><stop offset="0.79" stop-color="#4757f7"/><stop offset="0.86" stop-color="#484aee"/><stop offset="0.93" stop-color="#4747eb"/><stop offset="1" stop-color="#4747eb"/></linearGradient>
<linearGradient id="h2_104" x1="0" y1="0" x2="0" y2="1"><stop offset="0" stop-color="#44cb89"/><stop offset="0.07" stop-color="#44cb8a"/><stop offset="0.14" stop-color="#46cb87"/><stop offset="0.21" stop-color="#48cb86"/><stop offset="0.29" stop-color="#34c79b"/><stop offset="0.36" stop-color="#11beb9"/><stop offset="0.43" stop-color="#12b1d6"/><stop offset="0.5" stop-color="#1fa6e2"/><stop offset="0.57" stop-color="#2797ea"/><stop offset="0.64" stop-color="#307ffb"/><stop offset="0.71" stop-color="#4368fe"/><stop offset="0.79" stop-color="#4755f6"/><stop offset="0.86" stop-color="#4747eb"/><stop offset="0.93" stop-color="#4744e8"/><stop offset="1" stop-color="#4744e8"/></linearGradient>
<linearGradient id="h2_105" x1="0" y1="0" x2="0" y2="1"><stop offset="0" stop-color="#48cb86"/><stop offset="0.07" stop-color="#49cb85"/><stop offset="0.14" stop-color="#4ecc81"/><stop offset="0.21" stop-color="#49cb85"/><stop offset="0.29" stop-color="#33c69d"/><stop offset="0.36" stop-color="#13beb9"/><stop offset="0.43" stop-color="#0ab4d1"/><stop offset="0.5" stop-color="#1da8e0"/><stop offset="0.57" stop-color="#2798ea"/><stop offset="0.64" stop-color="#317efb"/><stop offset="0.71" stop-color="#4466fd"/><stop offset="0.79" stop-color="#4852f4"/><stop offset="0.86" stop-color="#4743e7"/><stop offset="0.93" stop-color="#4741e4"/><stop offset="1" stop-color="#4741e4"/></linearGradient>
<linearGradient id="h2_106" x1="0" y1="0" x2="0" y2="1"><stop offset="0" stop-color="#4dcb82"/><stop offset="0.07" stop-color="#4ecc81"/><stop offset="0.14" stop-color="#55cc7b"/><stop offset="0.21" stop-color="#4acb84"/><stop offset="0.29" stop-color="#32c69f"/><stop offset="0.36" stop-color="#13beb8"/><stop offset="0.43" stop-color="#05b6cd"/><stop offset="0.5" stop-color="#1caadf"/><stop offset="0.57" stop-color="#2798ea"/><stop offset="0.64" stop-color="#317efb"/><stop offset="0.71" stop-color="#4466fd"/><stop offset="0.79" stop-color="#4851f3"/><stop offset="0.86" stop-color="#4742e6"/><stop offset="0.93" stop-color="#473fe3"/><stop offset="1" stop-color="#473fe3"/></linearGradient>
<linearGradient id="h2_107" x1="0" y1="0" x2="0" y2="1"><stop offset="0" stop-color="#52cc7e"/><stop offset="0.07" stop-color="#52cc7e"/><stop offset="0.14" stop-color="#59cc78"/><stop offset="0.21" stop-color="#4acb84"/><stop offset="0.29" stop-color="#30c5a1"/><stop offset="0.36" stop-color="#12beb9"/><stop offset="0.43" stop-color="#01b8ca"/><stop offset="0.5" stop-color="#1aacdd"/><stop offset="0.57" stop-color="#2699e9"/><stop offset="0.64" stop-color="#3080fb"/><stop offset="0.71" stop-color="#4368fe"/><stop offset="0.79" stop-color="#4854f5"/><stop offset="0.86" stop-color="#4745e9"/><stop offset="0.93" stop-color="#4742e6"/><stop offset="1" stop-color="#4742e6"/></linearGradient>
<linearGradient id="h2_108" x1="0" y1="0" x2="0" y2="1"><stop offset="0" stop-color="#56cc7b"/><stop offset="0.07" stop-color="#54cc7c"/><stop offset="0.14" stop-color="#5acc78"/><stop offset="0.21" stop-color="#4bcb84"/><stop offset="0.29" stop-color="#2fc5a2"/><stop offset="0.36" stop-color="#12beb9"/><stop offset="0.43" stop-color="#01b8c9"/><stop offset="0.5" stop-color="#19addc"/><stop offset="0.57" stop-color="#269ae9"/><stop offset="0.64" stop-color="#2f82fa"/><stop offset="0.71" stop-color="#416bfe"/><stop offset="0.79" stop-color="#4756f7"/><stop offset="0.86" stop-color="#4747eb"/><stop offset="0.93" stop-color="#4744e8"/><stop offset="1" stop-color="#4744e8"/></linearGradient>
<linearGradient id="h2_109" x1="0" y1="0" x2="0" y2="1"><stop offset="0" stop-color="#5dcc75"/><stop offset="0.07" stop-color="#57cc7a"/><stop offset="0.14" stop-color="#59cc78"/><stop offset="0.21" stop-color="#49cb86"/><stop offset="0.29" stop-color="#2dc4a5"/><stop offset="0.36" stop-color="#10beba"/><stop offset="0.43" stop-color="#01b9c6"/><stop offset="0.5" stop-color="#17aeda"/><stop offset="0.57" stop-color="#259ce7"/><stop offset="0.64" stop-color="#2e86f7"/><stop offset="0.71" stop-color="#3c72ff"/><stop offset="0.79" stop-color="#465dfb"/><stop offset="0.86" stop-color="#484ef1"/><stop offset="0.93" stop-color="#484bef"/><stop offset="1" stop-color="#484bef"/></linearGradient>
<linearGradient id="h2_110" x1="0" y1="0" x2="0" y2="1"><stop offset="0" stop-color="#64cd6f"/><stop offset="0.07" stop-color="#5acc77"/><stop offset="0.14" stop-color="#59cc79"/><stop offset="0.21" stop-color="#44ca8a"/><stop offset="0.29" stop-color="#28c3aa"/><stop offset="0.36" stop-color="#0cbdbc"/><stop offset="0.43" stop-color="#02bac5"/><stop offset="0.5" stop-color="#14b0d8"/><stop offset="0.57" stop-color="#249de6"/><stop offset="0.64" stop-color="#2d8bf4"/><stop offset="0.71" stop-color="#3479fd"/><stop offset="0.79" stop-color="#4466fd"/><stop offset="0.86" stop-color="#4757f7"/><stop offset="0.93" stop-color="#4854f5"/><stop offset="1" stop-color="#4854f5"/></linearGradient>
<linearGradient id="h2_111" x1="0" y1="0" x2="0" y2="1"><stop offset="0" stop-color="#6dcd68"/><stop offset="0.07" stop-color="#5dcc75"/><stop offset="0.14" stop-color="#57cc7a"/><stop offset="0.21" stop-color="#3dc990"/><stop offset="0.29" stop-color="#21c1b1"/><stop offset="0.36" stop-color="#09bcbe"/><stop offset="0.43" stop-color="#02bac3"/><stop offset="0.5" stop-color="#12b1d6"/><stop offset="0.57" stop-color="#23a0e5"/><stop offset="0.64" stop-color="#2b91ef"/><stop offset="0.71" stop-color="#2e83f9"/><stop offset="0.79" stop-color="#3b72ff"/><stop offset="0.86" stop-color="#4465fd"/><stop offset="0.93" stop-color="#4562fc"/><stop offset="1" stop-color="#4562fc"/></linearGradient>
<linearGradient id="h2_112" x1="0" y1="0" x2="0" y2="1"><stop offset="0" stop-color="#71cd64"/><stop offset="0.07" stop-color="#5ecd74"/><stop offset="0.14" stop-color="#55cc7b"/><stop offset="0.21" stop-color="#3ac994"/><stop offset="0.29" stop-color="#1bc0b4"/><stop offset="0.36" stop-color="#07bcc0"/><stop offset="0.43" stop-color="#02bbc3"/><stop offset="0.5" stop-color="#11b2d5"/><stop offset="0.57" stop-color="#22a1e4"/><stop offset="0.64" stop-color="#2994ed"/><stop offset="0.71" stop-color="#2d88f6"/><stop offset="0.79" stop-color="#3579fd"/><stop offset="0.86" stop-color="#406dfe"/><stop offset="0.93" stop-color="#416bfe"/><stop offset="1" stop-color="#416bfe"/></linearGradient>
<linearGradient id="h2_113" x1="0" y1="0" x2="0" y2="1"><stop offset="0" stop-color="#7dcc5c"/><stop offset="0.07" stop-color="#60cd72"/><stop offset="0.14" stop-color="#52cc7e"/><stop offset="0.21" stop-color="#35c79b"/><stop offset="0.29" stop-color="#0fbebb"/><stop offset="0.36" stop-color="#03bbc2"/><stop offset="0.43" stop-color="#02bac3"/><stop offset="0.5" stop-color="#0db3d4"/><stop offset="0.57" stop-color="#20a4e3"/><stop offset="0.64" stop-color="#269be8"/><stop offset="0.71" stop-color="#2b91ef"/><stop offset="0.79" stop-color="#2e86f7"/><stop offset="0.86" stop-color="#327cfc"/><stop offset="0.93" stop-color="#347afd"/><stop offset="1" stop-color="#347afd"/></linearGradient>
<linearGradient id="h2_114" x1="0" y1="0" x2="0" y2="1"><stop offset="0" stop-color="#8ccb50"/><stop offset="0.07" stop-color="#63cd70"/><stop offset="0.14" stop-color="#4fcc81"/><stop offset="0.21" stop-color="#30c5a2"/><stop offset="0.29" stop-color="#05bbc1"/><stop offset="0.36" stop-color="#01b9c6"/><stop offset="0.43" stop-color="#02bac4"/><stop offset="0.5" stop-color="#0bb3d2"/><stop offset="0.57" stop-color="#1ea7e1"/><stop offset="0.64" stop-color="#22a1e4"/><stop offset="0.71" stop-color="#269ae8"/><stop offset="0.79" stop-color="#2b91ef"/><stop offset="0.86" stop-color="#2d88f6"/><stop offset="0.93" stop-color="#2e86f7"/><stop offset="1" stop-color="#2e86f7"/></linearGradient>
<linearGradient id="h2_115" x1="0" y1="0" x2="0" y2="1"><stop offset="0" stop-color="#9bc944"/><stop offset="0.07" stop-color="#64cd6e"/><stop offset="0.14" stop-color="#49cb86"/><stop offset="0.21" stop-color="#29c3aa"/><stop offset="0.29" stop-color="#01b9c7"/><stop offset="0.36" stop-color="#02b7ca"/><stop offset="0.43" stop-color="#01b9c6"/><stop offset="0.5" stop-color="#09b4d1"/><stop offset="0.57" stop-color="#1aacdd"/><stop offset="0.64" stop-color="#1da8e0"/><stop offset="0.71" stop-color="#21a3e3"/><stop offset="0.79" stop-color="#259be8"/><stop offset="0.86" stop-color="#2a93ee"/><stop offset="0.93" stop-color="#2b91ef"/><stop offset="1" stop-color="#2b91ef"/></linearGradient>
<linearGradient id="h2_116" x1="0" y1="0" x2="0" y2="1"><stop offset="0" stop-color="#a3c83f"/><stop offset="0.07" stop-color="#65cd6e"/><stop offset="0.14" stop-color="#45cb89"/><stop offset="0.21" stop-color="#24c1ae"/><stop offset="0.29" stop-color="#01b7ca"/><stop offset="0.36" stop-color="#04b6cd"/><stop offset="0.43" stop-color="#01b9c8"/><stop offset="0.5" stop-color="#08b4d0"/><stop offset="0.57" stop-color="#17aeda"/><stop offset="0.64" stop-color="#1aabdd"/><stop offset="0.71" stop-color="#1ea8e1"/><stop offset="0.79" stop-color="#23a0e5"/><stop offset="0.86" stop-color="#2798ea"/><stop offset="0.93" stop-color="#2797eb"/><stop offset="1" stop-color="#2797eb"/></linearGradient>
<linearGradient id="h2_117" x1="0" y1="0" x2="0" y2="1"><stop offset="0" stop-color="#afc636"/><stop offset="0.07" stop-color="#65cd6e"/><stop offset="0.14" stop-color="#3eca8f"/><stop offset="0.21" stop-color="#14beb8"/><stop offset="0.29" stop-color="#09b4d1"/><stop offset="0.36" stop-color="#0bb3d2"/><stop offset="0.43" stop-color="#02b7cb"/><stop offset="0.5" stop-color="#07b5cf"/><stop offset="0.57" stop-color="#0fb2d4"/><stop offset="0.64" stop-color="#11b1d6"/><stop offset="0.71" stop-color="#14b0d8"/><stop offset="0.79" stop-color="#1caadf"/><stop offset="0.86" stop-color="#22a2e4"/><stop offset="0.93" stop-color="#23a1e5"/><stop offset="1" stop-color="#23a1e5"/></linearGradient>
<linearGradient id="h2_118" x1="0" y1="0" x2="0" y2="1"><stop offset="0" stop-color="#b9c431"/><stop offset="0.07" stop-color="#65cd6e"/><stop offset="0.14" stop-color="#38c896"/><stop offset="0.21" stop-color="#04bbc2"/><stop offset="0.29" stop-color="#13b0d7"/><stop offset="0.36" stop-color="#13b0d7"/><stop offset="0.43" stop-color="#06b5cf"/><stop offset="0.5" stop-color="#06b5cf"/><stop offset="0.57" stop-color="#06b5cf"/><stop offset="0.64" stop-color="#03b7cc"/><stop offset="0.71" stop-color="#02b7cb"/><stop offset="0.79" stop-color="#0db3d3"/><stop offset="0.86" stop-color="#19acdc"/><stop offset="0.93" stop-color="#1babde"/><stop offset="1" stop-color="#1babde"/></linearGradient>
<linearGradient id="h2_119" x1="0" y1="0" x2="0" y2="1"><stop offset="0" stop-color="#c0c32d"/><stop offset="0.07" stop-color="#64cd6f"/><stop offset="0.14" stop-color="#33c79d"/><stop offset="0.21" stop-color="#01b7ca"/><stop offset="0.29" stop-color="#1aacdd"/><stop offset="0.36" stop-color="#1aacdd"/><stop offset="0.43" stop-color="#0eb2d4"/><stop offset="0.5" stop-color="#07b5d0"/><stop offset="0.57" stop-color="#02b7cb"/><stop offset="0.64" stop-color="#05bbc1"/><stop offset="0.71" stop-color="#09bcbe"/><stop offset="0.79" stop-color="#01b9c7"/><stop offset="0.86" stop-color="#09b4d1"/><stop offset="0.93" stop-color="#0db3d3"/><stop offset="1" stop-color="#0db3d3"/></linearGradient>
<linearGradient id="h2_120" x1="0" y1="0" x2="0" y2="1"><stop offset="0" stop-color="#c3c22b"/><stop offset="0.07" stop-color="#63cd70"/><stop offset="0.14" stop-color="#31c6a0"/><stop offset="0.21" stop-color="#05b6ce"/><stop offset="0.29" stop-color="#1caadf"/><stop offset="0.36" stop-color="#1caadf"/><stop offset="0.43" stop-color="#13b1d7"/><stop offset="0.5" stop-color="#09b4d1"/><stop offset="0.57" stop-color="#01b8ca"/><stop offset="0.64" stop-color="#0abdbd"/><stop offset="0.71" stop-color="#12beb9"/><stop offset="0.79" stop-color="#04bbc1"/><stop offset="0.86" stop-color="#03b7cc"/><stop offset="0.93" stop-color="#05b6ce"/><stop offset="1" stop-color="#05b6ce"/></linearGradient>
<linearGradient id="h2_121" x1="0" y1="0" x2="0" y2="1"><stop offset="0" stop-color="#c9c129"/><stop offset="0.07" stop-color="#60cd72"/><stop offset="0.14" stop-color="#2dc4a6"/><stop offset="0.21" stop-color="#10b2d5"/><stop offset="0.29" stop-color="#20a4e3"/><stop offset="0.36" stop-color="#20a4e3"/><stop offset="0.43" stop-color="#19acdc"/><stop offset="0.5" stop-color="#0fb2d5"/><stop offset="0.57" stop-color="#01b8ca"/><stop offset="0.64" stop-color="#13beb8"/><stop offset="0.71" stop-color="#1ec0b2"/><stop offset="0.79" stop-color="#11beb9"/><stop offset="0.86" stop-color="#04bbc2"/><stop offset="0.93" stop-color="#02bac3"/><stop offset="1" stop-color="#02bac3"/></linearGradient>
<linearGradient id="h2_122" x1="0" y1="0" x2="0" y2="1"><stop offset="0" stop-color="#cec028"/><stop offset="0.07" stop-color="#5dcc75"/><stop offset="0.14" stop-color="#26c2ad"/><stop offset="0.21" stop-color="#19addc"/><stop offset="0.29" stop-color="#249ee6"/><stop offset="0.36" stop-color="#249fe6"/><stop offset="0.43" stop-color="#1ea8e1"/><stop offset="0.5" stop-color="#15afd9"/><stop offset="0.57" stop-color="#02b7cb"/><stop offset="0.64" stop-color="#19bfb5"/><stop offset="0.71" stop-color="#25c2ad"/><stop offset="0.79" stop-color="#1ec0b2"/><stop offset="0.86" stop-color="#13beb8"/><stop offset="0.93" stop-color="#11beba"/><stop offset="1" stop-color="#11beba"/></linearGradient>
<linearGradient id="h2_123" x1="0" y1="0" x2="0" y2="1"><stop offset="0" stop-color="#d3bf27"/><stop offset="0.07" stop-color="#59cc78"/><stop offset="0.14" stop-color="#1cc0b3"/><stop offset="0.21" stop-color="#1da8e0"/><stop offset="0.29" stop-color="#2798ea"/><stop offset="0.36" stop-color="#2798ea"/><stop offset="0.43" stop-color="#22a2e4"/><stop offset="0.5" stop-color="#1aacdd"/><stop offset="0.57" stop-color="#04b6cd"/><stop offset="0.64" stop-color="#1dc0b3"/><stop offset="0.71" stop-color="#29c3aa"/><stop offset="0.79" stop-color="#25c2ad"/><stop offset="0.86" stop-color="#1fc0b1"/><stop offset="0.93" stop-color="#1ec0b2"/><stop offset="1" stop-color="#1ec0b2"/></linearGradient>
<linearGradient id="h2_124" x1="0" y1="0" x2="0" y2="1"><stop offset="0" stop-color="#d5be28"/><stop offset="0.07" stop-color="#58cc79"/><stop offset="0.14" stop-color="#17bfb7"/><stop offset="0.21" stop-color="#20a5e2"/><stop offset="0.29" stop-color="#2895ec"/><stop offset="0.36" stop-color="#2895ec"/><stop offset="0.43" stop-color="#249fe6"/><stop offset="0.5" stop-color="#1caadf"/><stop offset="0.57" stop-color="#05b6ce"/><stop offset="0.64" stop-color="#1ec0b2"/><stop offset="0.71" stop-color="#2bc3a8"/><stop offset="0.79" stop-color="#27c2ab"/><stop offset="0.86" stop-color="#23c1af"/><stop offset="0.93" stop-color="#22c1b0"/><stop offset="1" stop-color="#22c1b0"/></linearGradient>
<linearGradient id="h2_125" x1="0" y1="0" x2="0" y2="1"><stop offset="0" stop-color="#dabd28"/><stop offset="0.07" stop-color="#54cc7c"/><stop offset="0.14" stop-color="#0abdbd"/><stop offset="0.21" stop-color="#249fe6"/><stop offset="0.29" stop-color="#2c8ef1"/><stop offset="0.36" stop-color="#2c8ef1"/><stop offset="0.43" stop-color="#2798ea"/><stop offset="0.5" stop-color="#20a4e3"/><stop offset="0.57" stop-color="#0bb3d2"/><stop offset="0.64" stop-color="#1dc0b3"/><stop offset="0.71" stop-color="#2cc4a7"/><stop offset="0.79" stop-color="#2ac3a8"/><stop offset="0.86" stop-color="#28c3aa"/><stop offset="0.93" stop-color="#28c3ab"/><stop offset="1" stop-color="#28c3ab"/></linearGradient>
<linearGradient id="h2_126" x1="0" y1="0" x2="0" y2="1"><stop offset="0" stop-color="#dfbc2a"/><stop offset="0.07" stop-color="#51cc7f"/><stop offset="0.14" stop-color="#02bac3"/><stop offset="0.21" stop-color="#2798ea"/><stop offset="0.29" stop-color="#2e87f7"/><stop offset="0.36" stop-color="#2e87f7"/><stop offset="0.43" stop-color="#2b91ef"/><stop offset="0.5" stop-color="#249ee6"/><stop offset="0.57" stop-color="#16afda"/><stop offset="0.64" stop-color="#11beba"/><stop offset="0.71" stop-color="#28c2ab"/><stop offset="0.79" stop-color="#2ac3a9"/><stop offset="0.86" stop-color="#2bc3a8"/><stop offset="0.93" stop-color="#2bc3a7"/><stop offset="1" stop-color="#2bc3a7"/></linearGradient>
<linearGradient id="h2_127" x1="0" y1="0" x2="0" y2="1"><stop offset="0" stop-color="#e4bb2c"/><stop offset="0.07" stop-color="#4ecc81"/><stop offset="0.14" stop-color="#01b8ca"/><stop offset="0.21" stop-color="#2c90f0"/><stop offset="0.29" stop-color="#307ffb"/><stop offset="0.36" stop-color="#307ffb"/><stop offset="0.43" stop-color="#2d89f5"/><stop offset="0.5" stop-color="#2896eb"/><stop offset="0.57" stop-color="#1da8e0"/><stop offset="0.64" stop-color="#01b9c6"/><stop offset="0.71" stop-color="#1ac0b5"/><stop offset="0.79" stop-color="#25c2ad"/><stop offset="0.86" stop-color="#2ac3a9"/><stop offset="0.93" stop-color="#2ac3a8"/><stop offset="1" stop-color="#2ac3a8"/></linearGradient>
<linearGradient id="h2_128" x1="0" y1="0" x2="0" y2="1"><stop offset="0" stop-color="#e9bb30"/><stop offset="0.07" stop-color="#4bcb83"/><stop offset="0.14" stop-color="#08b4d1"/><stop offset="0.21" stop-color="#2e87f7"/><stop offset="0.29" stop-color="#3776fe"/><stop offset="0.36" stop-color="#3776fe"/><stop offset="0.43" stop-color="#2f80fa"/><stop offset="0.5" stop-color="#2c8ef1"/><stop offset="0.57" stop-color="#23a0e5"/><stop offset="0.64" stop-color="#0cb3d3"/><stop offset="0.71" stop-color="#03bbc2"/><stop offset="0.79" stop-color="#13beb9"/><stop offset="0.86" stop-color="#1dc0b3"/><stop offset="0.93" stop-color="#1fc0b1"/><stop offset="1" stop-color="#1fc0b1"/></linearGradient>
<linearGradient id="h2_129" x1="0" y1="0" x2="0" y2="1"><stop offset="0" stop-color="#ebba31"/><stop offset="0.07" stop-color="#4bcb84"/><stop offset="0.14" stop-color="#0eb3d4"/><stop offset="0.21" stop-color="#2f82f9"/><stop offset="0.29" stop-color="#3c72ff"/><stop offset="0.36" stop-color="#3c72ff"/><stop offset="0.43" stop-color="#327cfc"/><stop offset="0.5" stop-color="#2d8af4"/><stop offset="0.57" stop-color="#259de7"/><stop offset="0.64" stop-color="#14b0d8"/><stop offset="0.71" stop-color="#01b8c9"/><stop offset="0.79" stop-color="#07bcbf"/><stop offset="0.86" stop-color="#11beb9"/><stop offset="0.93" stop-color="#14beb8"/><stop offset="1" stop-color="#14beb8"/></linearGradient>
<linearGradient id="h2_130" x1="0" y1="0" x2="0" y2="1"><stop offset="0" stop-color="#eeba35"/><stop offset="0.07" stop-color="#4ccb82"/><stop offset="0.14" stop-color="#15afd9"/><stop offset="0.21" stop-color="#3579fd"/><stop offset="0.29" stop-color="#4269fe"/><stop offset="0.36" stop-color="#4269fe"/><stop offset="0.43" stop-color="#3c72ff"/><stop offset="0.5" stop-color="#2f81fa"/><stop offset="0.57" stop-color="#2995ec"/><stop offset="0.64" stop-color="#1ea7e1"/><stop offset="0.71" stop-color="#11b1d6"/><stop offset="0.79" stop-color="#05b6ce"/><stop offset="0.86" stop-color="#01b8c8"/><stop offset="0.93" stop-color="#01b9c7"/><stop offset="1" stop-color="#01b9c7"/></linearGradient>
<linearGradient id="h2_131" x1="0" y1="0" x2="0" y2="1"><stop offset="0" stop-color="#f1ba37"/><stop offset="0.07" stop-color="#51cc7f"/><stop offset="0.14" stop-color="#1aacdd"/><stop offset="0.21" stop-color="#3e6fff"/><stop offset="0.29" stop-color="#4660fb"/><stop offset="0.36" stop-color="#4660fb"/><stop offset="0.43" stop-color="#4369fe"/><stop offset="0.5" stop-color="#3578fd"/><stop offset="0.57" stop-color="#2d8bf3"/><stop offset="0.64" stop-color="#259ce7"/><stop offset="0.71" stop-color="#1ea7e1"/><stop offset="0.79" stop-color="#19addc"/><stop offset="0.86" stop-color="#12b1d7"/><stop offset="0.93" stop-color="#11b1d6"/><stop offset="1" stop-color="#11b1d6"/></linearGradient>
<linearGradient id="h2_132" x1="0" y1="0" x2="0" y2="1"><stop offset="0" stop-color="#f3ba39"/><stop offset="0.07" stop-color="#57cc7a"/><stop offset="0.14" stop-color="#1da8e0"/><stop offset="0.21" stop-color="#4466fd"/><stop offset="0.29" stop-color="#4756f6"/><stop offset="0.36" stop-color="#4756f7"/><stop offset="0.43" stop-color="#465ffb"/><stop offset="0.5" stop-color="#3e6fff"/><stop offset="0.57" stop-color="#2f82fa"/><stop offset="0.64" stop-color="#2b90ef"/><stop offset="0.71" stop-color="#2699e9"/><stop offset="0.79" stop-color="#249fe5"/><stop offset="0.86" stop-color="#21a3e3"/><stop offset="0.93" stop-color="#21a3e3"/><stop offset="1" stop-color="#21a3e3"/></linearGradient>
<linearGradient id="h2_133" x1="0" y1="0" x2="0" y2="1"><stop offset="0" stop-color="#f4ba39"/><stop offset="0.07" stop-color="#5acc78"/><stop offset="0.14" stop-color="#1fa6e2"/><stop offset="0.21" stop-color="#4561fc"/><stop offset="0.29" stop-color="#4851f3"/><stop offset="0.36" stop-color="#4851f3"/><stop offset="0.43" stop-color="#475af9"/><stop offset="0.5" stop-color="#426afe"/><stop offset="0.57" stop-color="#317dfc"/><stop offset="0.64" stop-color="#2d8bf4"/><stop offset="0.71" stop-color="#2a93ee"/><stop offset="0.79" stop-color="#2797ea"/><stop offset="0.86" stop-color="#269ae8"/><stop offset="0.93" stop-color="#259be8"/><stop offset="1" stop-color="#259be8"/></linearGradient>
<linearGradient id="h2_134" x1="0" y1="0" x2="0" y2="1"><stop offset="0" stop-color="#f5ba3b"/><stop offset="0.07" stop-color="#5fcd73"/><stop offset="0.14" stop-color="#21a2e4"/><stop offset="0.21" stop-color="#4758f8"/><stop offset="0.29" stop-color="#4747eb"/><stop offset="0.36" stop-color="#4747eb"/><stop offset="0.43" stop-color="#4851f3"/><stop offset="0.5" stop-color="#4661fc"/><stop offset="0.57" stop-color="#3b72fe"/><stop offset="0.64" stop-color="#2f81fa"/><stop offset="0.71" stop-color="#2e87f7"/><stop offset="0.79" stop-color="#2d89f5"/><stop offset="0.86" stop-color="#2d8af5"/><stop offset="0.93" stop-color="#2d8af4"/><stop offset="1" stop-color="#2d8af4"/></linearGradient>
<linearGradient id="h2_135" x1="0" y1="0" x2="0" y2="1"><stop offset="0" stop-color="#f7ba3c"/><stop offset="0.07" stop-color="#67cd6d"/><stop offset="0.14" stop-color="#249fe5"/><stop offset="0.21" stop-color="#4850f2"/><stop offset="0.29" stop-color="#463de0"/><stop offset="0.36" stop-color="#463ee1"/><stop offset="0.43" stop-color="#4848ec"/><stop offset="0.5" stop-color="#4757f7"/><stop offset="0.57" stop-color="#4368fd"/><stop offset="0.64" stop-color="#3776fe"/><stop offset="0.71" stop-color="#327cfc"/><stop offset="0.79" stop-color="#317dfc"/><stop offset="0.86" stop-color="#317dfc"/><stop offset="0.93" stop-color="#317dfc"/><stop offset="1" stop-color="#317dfc"/></linearGradient>
<linearGradient id="h2_136" x1="0" y1="0" x2="0" y2="1"><stop offset="0" stop-color="#f8ba3d"/><stop offset="0.07" stop-color="#6fcd66"/><stop offset="0.14" stop-color="#259de7"/><stop offset="0.21" stop-color="#4848ec"/><stop offset="0.29" stop-color="#4536d5"/><stop offset="0.36" stop-color="#4537d5"/><stop offset="0.43" stop-color="#4740e4"/><stop offset="0.5" stop-color="#484df1"/><stop offset="0.57" stop-color="#475cfa"/><stop offset="0.64" stop-color="#406cfe"/><stop offset="0.71" stop-color="#3c71ff"/><stop offset="0.79" stop-color="#3d71ff"/><stop offset="0.86" stop-color="#3e70ff"/><stop offset="0.93" stop-color="#3e70ff"/><stop offset="1" stop-color="#3e70ff"/></linearGradient>
<linearGradient id="h2_137" x1="0" y1="0" x2="0" y2="1"><stop offset="0" stop-color="#f9ba3d"/><stop offset="0.07" stop-color="#74cc62"/><stop offset="0.14" stop-color="#259ce7"/><stop offset="0.21" stop-color="#4745e9"/><stop offset="0.29" stop-color="#4434ce"/><stop offset="0.36" stop-color="#4434cf"/><stop offset="0.43" stop-color="#463ddf"/><stop offset="0.5" stop-color="#4849ed"/><stop offset="0.57" stop-color="#4757f7"/><stop offset="0.64" stop-color="#4367fd"/><stop offset="0.71" stop-color="#406dfe"/><stop offset="0.79" stop-color="#416cfe"/><stop offset="0.86" stop-color="#426afe"/><stop offset="0.93" stop-color="#426afe"/><stop offset="1" stop-color="#426afe"/></linearGradient>
<linearGradient id="h2_138" x1="0" y1="0" x2="0" y2="1"><stop offset="0" stop-color="#fabb3d"/><stop offset="0.07" stop-color="#7dcc5b"/><stop offset="0.14" stop-color="#269ae8"/><stop offset="0.21" stop-color="#463de0"/><stop offset="0.29" stop-color="#422fc1"/><stop offset="0.36" stop-color="#422fc2"/><stop offset="0.43" stop-color="#4536d5"/><stop offset="0.5" stop-color="#4740e4"/><stop offset="0.57" stop-color="#484ef1"/><stop offset="0.64" stop-color="#4660fc"/><stop offset="0.71" stop-color="#4367fd"/><stop offset="0.79" stop-color="#4464fd"/><stop offset="0.86" stop-color="#4561fc"/><stop offset="0.93" stop-color="#4660fc"/><stop offset="1" stop-color="#4660fc"/></linearGradient>
<linearGradient id="h2_139" x1="0" y1="0" x2="0" y2="1"><stop offset="0" stop-color="#fbbc3d"/><stop offset="0.07" stop-color="#84cc56"/><stop offset="0.14" stop-color="#2798ea"/><stop offset="0.21" stop-color="#4537d5"/><stop offset="0.29" stop-color="#402bb6"/><stop offset="0.36" stop-color="#402bb7"/><stop offset="0.43" stop-color="#4332c8"/><stop offset="0.5" stop-color="#4639da"/><stop offset="0.57" stop-color="#4747eb"/><stop offset="0.64" stop-color="#475bf9"/><stop offset="0.71" stop-color="#4562fc"/><stop offset="0.79" stop-color="#4660fc"/><stop offset="0.86" stop-color="#465dfb"/><stop offset="0.93" stop-color="#465dfa"/><stop offset="1" stop-color="#465dfa"/></linearGradient>
<linearGradient id="h2_140" x1="0" y1="0" x2="0" y2="1"><stop offset="0" stop-color="#fcbc3d"/><stop offset="0.07" stop-color="#89cb52"/><stop offset="0.14" stop-color="#2797eb"/><stop offset="0.21" stop-color="#4332ca"/><stop offset="0.29" stop-color="#3e27ac"/><stop offset="0.36" stop-color="#3f28ad"/><stop offset="0.43" stop-color="#412dbd"/><stop offset="0.5" stop-color="#4434cf"/><stop offset="0.57" stop-color="#4741e5"/><stop offset="0.64" stop-color="#4757f7"/><stop offset="0.71" stop-color="#465ffb"/><stop offset="0.79" stop-color="#465efb"/><stop offset="0.86" stop-color="#465dfa"/><stop offset="0.93" stop-color="#465dfa"/><stop offset="1" stop-color="#465dfa"/></linearGradient>
<linearGradient id="h2_141" x1="0" y1="0" x2="0" y2="1"><stop offset="0" stop-color="#fcbd3d"/><stop offset="0.07" stop-color="#8bcb51"/><stop offset="0.14" stop-color="#2896eb"/><stop offset="0.21" stop-color="#4330c5"/><stop offset="0.29" stop-color="#3e26a8"/><stop offset="0.36" stop-color="#3e27a9"/><stop offset="0.43" stop-color="#412cb9"/><stop offset="0.5" stop-color="#4332ca"/><stop offset="0.57" stop-color="#473ee1"/><stop offset="0.64" stop-color="#4755f6"/><stop offset="0.71" stop-color="#465efb"/><stop offset="0.79" stop-color="#465dfb"/><stop offset="0.86" stop-color="#465dfa"/><stop offset="0.93" stop-color="#465dfa"/><stop offset="1" stop-color="#465dfa"/></linearGradient>
<linearGradient id="h2_142" x1="0" y1="0" x2="0" y2="1"><stop offset="0" stop-color="#fdbd3d"/><stop offset="0.07" stop-color="#8fcb4e"/><stop offset="0.14" stop-color="#2895ec"/><stop offset="0.21" stop-color="#422ebf"/><stop offset="0.29" stop-color="#3e26a8"/><stop offset="0.36" stop-color="#3e26a8"/><stop offset="0.43" stop-color="#3f29b2"/><stop offset="0.5" stop-color="#422fc2"/><stop offset="0.57" stop-color="#463adb"/><stop offset="0.64" stop-color="#4853f5"/><stop offset="0.71" stop-color="#465dfa"/><stop offset="0.79" stop-color="#465dfa"/><stop offset="0.86" stop-color="#465dfa"/><stop offset="0.93" stop-color="#465dfa"/><stop offset="1" stop-color="#465dfa"/></linearGradient>
<linearGradient id="h2_143" x1="0" y1="0" x2="0" y2="1"><stop offset="0" stop-color="#febe3c"/><stop offset="0.07" stop-color="#93ca4b"/><stop offset="0.14" stop-color="#2896ec"/><stop offset="0.21" stop-color="#412dbc"/><stop offset="0.29" stop-color="#3e26a8"/><stop offset="0.36" stop-color="#3e26a8"/><stop offset="0.43" stop-color="#3f28ad"/><stop offset="0.5" stop-color="#412dbd"/><stop offset="0.57" stop-color="#4639d9"/><stop offset="0.64" stop-color="#4755f6"/><stop offset="0.71" stop-color="#465ffb"/><stop offset="0.79" stop-color="#465efb"/><stop offset="0.86" stop-color="#465dfa"/><stop offset="0.93" stop-color="#465dfa"/><stop offset="1" stop-color="#465dfa"/></linearGradient>
<linearGradient id="h2_144" x1="0" y1="0" x2="0" y2="1"><stop offset="0" stop-color="#fec03b"/><stop offset="0.07" stop-color="#98c947"/><stop offset="0.14" stop-color="#2798ea"/><stop offset="0.21" stop-color="#412cba"/><stop offset="0.29" stop-color="#3e26a8"/><stop offset="0.36" stop-color="#3e26a8"/><stop offset="0.43" stop-color="#3e26a8"/><stop offset="0.5" stop-color="#412dbc"/><stop offset="0.57" stop-color="#463bde"/><stop offset="0.64" stop-color="#475af9"/><stop offset="0.71" stop-color="#4465fd"/><stop offset="0.79" stop-color="#4563fd"/><stop offset="0.86" stop-color="#4661fc"/><stop offset="0.93" stop-color="#4660fc"/><stop offset="1" stop-color="#4660fc"/></linearGradient>
<linearGradient id="h2_145" x1="0" y1="0" x2="0" y2="1"><stop offset="0" stop-color="#fec03a"/><stop offset="0.07" stop-color="#9bc944"/><stop offset="0.14" stop-color="#2699e9"/><stop offset="0.21" stop-color="#412cb9"/><stop offset="0.29" stop-color="#3e26a8"/><stop offset="0.36" stop-color="#3e26a8"/><stop offset="0.43" stop-color="#3e26a8"/><stop offset="0.5" stop-color="#412dbd"/><stop offset="0.57" stop-color="#463ee1"/><stop offset="0.64" stop-color="#465dfa"/><stop offset="0.71" stop-color="#4269fe"/><stop offset="0.79" stop-color="#4367fd"/><stop offset="0.86" stop-color="#4464fd"/><stop offset="0.93" stop-color="#4564fd"/><stop offset="1" stop-color="#4564fd"/></linearGradient>
<linearGradient id="h2_146" x1="0" y1="0" x2="0" y2="1"><stop offset="0" stop-color="#fec239"/><stop offset="0.07" stop-color="#a2c83f"/><stop offset="0.14" stop-color="#259ce7"/><stop offset="0.21" stop-color="#402bb8"/><stop offset="0.29" stop-color="#3e26a8"/><stop offset="0.36" stop-color="#3e26a8"/><stop offset="0.43" stop-color="#3e26a8"/><stop offset="0.5" stop-color="#422fc0"/><stop offset="0.57" stop-color="#4743e7"/><stop offset="0.64" stop-color="#4465fd"/><stop offset="0.71" stop-color="#3d70ff"/><stop offset="0.79" stop-color="#3f6eff"/><stop offset="0.86" stop-color="#406cfe"/><stop offset="0.93" stop-color="#406cfe"/><stop offset="1" stop-color="#406cfe"/></linearGradient>
<linearGradient id="h2_147" x1="0" y1="0" x2="0" y2="1"><stop offset="0" stop-color="#fec438"/><stop offset="0.07" stop-color="#a8c73b"/><stop offset="0.14" stop-color="#23a0e5"/><stop offset="0.21" stop-color="#422ebe"/><stop offset="0.29" stop-color="#3e26a8"/><stop offset="0.36" stop-color="#3e26a8"/><stop offset="0.43" stop-color="#3e27aa"/><stop offset="0.5" stop-color="#4331c8"/><stop offset="0.57" stop-color="#484aee"/><stop offset="0.64" stop-color="#406cfe"/><stop offset="0.71" stop-color="#3578fd"/><stop offset="0.79" stop-color="#3777fe"/><stop offset="0.86" stop-color="#3975fe"/><stop offset="0.93" stop-color="#3975fe"/><stop offset="1" stop-color="#3975fe"/></linearGradient>
<linearGradient id="h2_148" x1="0" y1="0" x2="0" y2="1"><stop offset="0" stop-color="#fec636"/><stop offset="0.07" stop-color="#aec637"/><stop offset="0.14" stop-color="#20a4e3"/><stop offset="0.21" stop-color="#4434cf"/><stop offset="0.29" stop-color="#3e26a8"/><stop offset="0.36" stop-color="#3e26a8"/><stop offset="0.43" stop-color="#402ab5"/><stop offset="0.5" stop-color="#4536d3"/><stop offset="0.57" stop-color="#4851f3"/><stop offset="0.64" stop-color="#3975fe"/><stop offset="0.71" stop-color="#2f82fa"/><stop offset="0.79" stop-color="#2f81fa"/><stop offset="0.86" stop-color="#307ffb"/><stop offset="0.93" stop-color="#307ffb"/><stop offset="1" stop-color="#307ffb"/></linearGradient>
<linearGradient id="h2_149" x1="0" y1="0" x2="0" y2="1"><stop offset="0" stop-color="#fec735"/><stop offset="0.07" stop-color="#b1c635"/><stop offset="0.14" stop-color="#1ea7e1"/><stop offset="0.21" stop-color="#4539d9"/><stop offset="0.29" stop-color="#3e27ab"/><stop offset="0.36" stop-color="#3e27a9"/><stop offset="0.43" stop-color="#412dbb"/><stop offset="0.5" stop-color="#4639da"/><stop offset="0.57" stop-color="#4755f6"/><stop offset="0.64" stop-color="#347afd"/><stop offset="0.71" stop-color="#2e86f7"/><stop offset="0.79" stop-color="#2e85f8"/><stop offset="0.86" stop-color="#2e84f8"/><stop offset="0.93" stop-color="#2e84f8"/><stop offset="1" stop-color="#2e84f8"/></linearGradient>
<linearGradient id="h2_150" x1="0" y1="0" x2="0" y2="1"><stop offset="0" stop-color="#feca33"/><stop offset="0.07" stop-color="#b8c431"/><stop offset="0.14" stop-color="#1babde"/><stop offset="0.21" stop-color="#4745e9"/><stop offset="0.29" stop-color="#402ab5"/><stop offset="0.36" stop-color="#402ab3"/><stop offset="0.43" stop-color="#4332c9"/><stop offset="0.5" stop-color="#4742e7"/><stop offset="0.57" stop-color="#4660fb"/><stop offset="0.64" stop-color="#2e84f8"/><stop offset="0.71" stop-color="#2c8ff0"/><stop offset="0.79" stop-color="#2c8ff0"/><stop offset="0.86" stop-color="#2c8ff1"/><stop offset="0.93" stop-color="#2c8ff1"/><stop offset="1" stop-color="#2c8ff1"/></linearGradient>
<linearGradient id="h2_151" x1="0" y1="0" x2="0" y2="1"><stop offset="0" stop-color="#fdce31"/><stop offset="0.07" stop-color="#bfc32d"/><stop offset="0.14" stop-color="#15afd9"/><stop offset="0.21" stop-color="#4852f4"/><stop offset="0.29" stop-color="#422fc2"/><stop offset="0.36" stop-color="#422ebf"/><stop offset="0.43" stop-color="#4538d8"/><stop offset="0.5" stop-color="#484df0"/><stop offset="0.57" stop-color="#416bfe"/><stop offset="0.64" stop-color="#2d8df2"/><stop offset="0.71" stop-color="#2798ea"/><stop offset="0.79" stop-color="#2699e9"/><stop offset="0.86" stop-color="#2699e9"/><stop offset="0.93" stop-color="#2699e9"/><stop offset="1" stop-color="#2699e9"/></linearGradient>
<linearGradient id="h2_152" x1="0" y1="0" x2="0" y2="1"><stop offset="0" stop-color="#fbd32e"/><stop offset="0.07" stop-color="#c7c12a"/><stop offset="0.14" stop-color="#0ab4d1"/><stop offset="0.21" stop-color="#4465fd"/><stop offset="0.29" stop-color="#4536d3"/><stop offset="0.36" stop-color="#4434ce"/><stop offset="0.43" stop-color="#4743e7"/><stop offset="0.5" stop-color="#4758f8"/><stop offset="0.57" stop-color="#3975fe"/><stop offset="0.64" stop-color="#2896ec"/><stop offset="0.71" stop-color="#22a1e4"/><stop offset="0.79" stop-color="#21a3e3"/><stop offset="0.86" stop-color="#20a4e3"/><stop offset="0.93" stop-color="#20a4e3"/><stop offset="1" stop-color="#20a4e3"/></linearGradient>
<linearGradient id="h2_153" x1="0" y1="0" x2="0" y2="1"><stop offset="0" stop-color="#fad52d"/><stop offset="0.07" stop-color="#cbc129"/><stop offset="0.14" stop-color="#04b6cd"/><stop offset="0.21" stop-color="#3e6fff"/><stop offset="0.29" stop-color="#463adb"/><stop offset="0.36" stop-color="#4537d6"/><stop offset="0.43" stop-color="#4849ed"/><stop offset="0.5" stop-color="#465efb"/><stop offset="0.57" stop-color="#3579fd"/><stop offset="0.64" stop-color="#269ae9"/><stop offset="0.71" stop-color="#1fa6e2"/><stop offset="0.79" stop-color="#1da8e0"/><stop offset="0.86" stop-color="#1ca9df"/><stop offset="0.93" stop-color="#1caadf"/><stop offset="1" stop-color="#1caadf"/></linearGradient>
<linearGradient id="h2_154" x1="0" y1="0" x2="0" y2="1"><stop offset="0" stop-color="#f7db2b"/><stop offset="0.07" stop-color="#d2bf27"/><stop offset="0.14" stop-color="#04bbc2"/><stop offset="0.21" stop-color="#2e83f9"/><stop offset="0.29" stop-color="#4744e8"/><stop offset="0.36" stop-color="#4740e3"/><stop offset="0.43" stop-color="#4756f7"/><stop offset="0.5" stop-color="#4269fe"/><stop offset="0.57" stop-color="#2f81fa"/><stop offset="0.64" stop-color="#23a1e4"/><stop offset="0.71" stop-color="#17aedb"/><stop offset="0.79" stop-color="#12b1d7"/><stop offset="0.86" stop-color="#0fb2d4"/><stop offset="0.93" stop-color="#0eb2d4"/><stop offset="1" stop-color="#0eb2d4"/></linearGradient>
<linearGradient id="h2_155" x1="0" y1="0" x2="0" y2="1"><stop offset="0" stop-color="#f6e028"/><stop offset="0.07" stop-color="#dbbd28"/><stop offset="0.14" stop-color="#1bc0b4"/><stop offset="0.21" stop-color="#2a93ee"/><stop offset="0.29" stop-color="#4850f2"/><stop offset="0.36" stop-color="#484aee"/><stop offset="0.43" stop-color="#4563fc"/><stop offset="0.5" stop-color="#3b73fe"/><stop offset="0.57" stop-color="#2d88f6"/><stop offset="0.64" stop-color="#1da8e0"/><stop offset="0.71" stop-color="#08b4d1"/><stop offset="0.79" stop-color="#03b7cc"/><stop offset="0.86" stop-color="#01b8c9"/><stop offset="0.93" stop-color="#01b8c8"/><stop offset="1" stop-color="#01b8c8"/></linearGradient>
<linearGradient id="h2_156" x1="0" y1="0" x2="0" y2="1"><stop offset="0" stop-color="#f5e626"/><stop offset="0.07" stop-color="#e4bb2c"/><stop offset="0.14" stop-color="#2ec4a4"/><stop offset="0.21" stop-color="#23a0e5"/><stop offset="0.29" stop-color="#475dfa"/><stop offset="0.36" stop-color="#4756f7"/><stop offset="0.43" stop-color="#3e6fff"/><stop offset="0.5" stop-color="#327cfc"/><stop offset="0.57" stop-color="#2c8ef1"/><stop offset="0.64" stop-color="#16afd9"/><stop offset="0.71" stop-color="#01bac5"/><stop offset="0.79" stop-color="#06bcc0"/><stop offset="0.86" stop-color="#0abdbd"/><stop offset="0.93" stop-color="#0abdbd"/><stop offset="1" stop-color="#0abdbd"/></linearGradient>
<linearGradient id="h2_157" x1="0" y1="0" x2="0" y2="1"><stop offset="0" stop-color="#f5ea24"/><stop offset="0.07" stop-color="#edba33"/><stop offset="0.14" stop-color="#3bc992"/><stop offset="0.21" stop-color="#1aacdd"/><stop offset="0.29" stop-color="#426afe"/><stop offset="0.36" stop-color="#4563fd"/><stop offset="0.43" stop-color="#337bfd"/><stop offset="0.5" stop-color="#2e85f8"/><stop offset="0.57" stop-color="#2994ed"/><stop offset="0.64" stop-color="#0ab4d2"/><stop offset="0.71" stop-color="#0ebebb"/><stop offset="0.79" stop-color="#18bfb6"/><stop offset="0.86" stop-color="#1dc0b3"/><stop offset="0.93" stop-color="#1dc0b3"/><stop offset="1" stop-color="#1dc0b3"/></linearGradient>
<linearGradient id="h2_158" x1="0" y1="0" x2="0" y2="1"><stop offset="0" stop-color="#f5ec22"/><stop offset="0.07" stop-color="#f2ba38"/><stop offset="0.14" stop-color="#45cb89"/><stop offset="0.21" stop-color="#12b1d6"/><stop offset="0.29" stop-color="#3d71ff"/><stop offset="0.36" stop-color="#4269fe"/><stop offset="0.43" stop-color="#3080fb"/><stop offset="0.5" stop-color="#2d89f5"/><stop offset="0.57" stop-color="#2797ea"/><stop offset="0.64" stop-color="#06b5cf"/><stop offset="0.71" stop-color="#15bfb7"/><stop offset="0.79" stop-color="#1fc0b2"/><stop offset="0.86" stop-color="#24c1ae"/><stop offset="0.93" stop-color="#24c2ae"/><stop offset="1" stop-color="#24c2ae"/></linearGradient>
<linearGradient id="h2_159" x1="0" y1="0" x2="0" y2="1"><stop offset="0" stop-color="#f6ef20"/><stop offset="0.07" stop-color="#fbbc3d"/><stop offset="0.14" stop-color="#5acc77"/><stop offset="0.21" stop-color="#01b8c8"/><stop offset="0.29" stop-color="#307ffb"/><stop offset="0.36" stop-color="#3776fe"/><stop offset="0.43" stop-color="#2d88f6"/><stop offset="0.5" stop-color="#2b90ef"/><stop offset="0.57" stop-color="#259de7"/><stop offset="0.64" stop-color="#01b7ca"/><stop offset="0.71" stop-color="#1ec0b2"/><stop offset="0.79" stop-color="#29c3aa"/><stop offset="0.86" stop-color="#2ec4a5"/><stop offset="0.93" stop-color="#2ec5a4"/><stop offset="1" stop-color="#2ec5a4"/></linearGradient>
<linearGradient id="h2_160" x1="0" y1="0" x2="0" y2="1"><stop offset="0" stop-color="#f6f21e"/><stop offset="0.07" stop-color="#fec13a"/><stop offset="0.14" stop-color="#6ecd67"/><stop offset="0.21" stop-color="#0fbebb"/><stop offset="0.29" stop-color="#2d8df2"/><stop offset="0.36" stop-color="#2e84f9"/><stop offset="0.43" stop-color="#2c8ff1"/><stop offset="0.5" stop-color="#2896ec"/><stop offset="0.57" stop-color="#22a1e4"/><stop offset="0.64" stop-color="#01b9c7"/><stop offset="0.71" stop-color="#25c2ad"/><stop offset="0.79" stop-color="#2fc5a2"/><stop offset="0.86" stop-color="#34c79b"/><stop offset="0.93" stop-color="#35c79a"/><stop offset="1" stop-color="#35c79a"/></linearGradient>
<linearGradient id="h2_161" x1="0" y1="0" x2="0" y2="1"><stop offset="0" stop-color="#f7f41c"/><stop offset="0.07" stop-color="#fec834"/><stop offset="0.14" stop-color="#81cc59"/><stop offset="0.21" stop-color="#25c2ae"/><stop offset="0.29" stop-color="#2699e9"/><stop offset="0.36" stop-color="#2c8ff0"/><stop offset="0.43" stop-color="#2994ed"/><stop offset="0.5" stop-color="#2699e9"/><stop offset="0.57" stop-color="#20a4e3"/><stop offset="0.64" stop-color="#02bac4"/><stop offset="0.71" stop-color="#28c2ab"/><stop offset="0.79" stop-color="#32c69f"/><stop offset="0.86" stop-color="#38c897"/><stop offset="0.93" stop-color="#39c895"/><stop offset="1" stop-color="#39c895"/></linearGradient>
<linearGradient id="h2_162" x1="0" y1="0" x2="0" y2="1"><stop offset="0" stop-color="#f7f51b"/><stop offset="0.07" stop-color="#fdcc32"/><stop offset="0.14" stop-color="#8acb52"/><stop offset="0.21" stop-color="#2cc4a7"/><stop offset="0.29" stop-color="#249ee6"/><stop offset="0.36" stop-color="#2994ed"/><stop offset="0.43" stop-color="#2797eb"/><stop offset="0.5" stop-color="#269ae8"/><stop offset="0.57" stop-color="#20a5e2"/><stop offset="0.64" stop-color="#02bac4"/><stop offset="0.71" stop-color="#28c2ab"/><stop offset="0.79" stop-color="#31c69f"/><stop offset="0.86" stop-color="#37c898"/><stop offset="0.93" stop-color="#38c896"/><stop offset="1" stop-color="#38c896"/></linearGradient>
<linearGradient id="h2_163" x1="0" y1="0" x2="0" y2="1"><stop offset="0" stop-color="#f8f719"/><stop offset="0.07" stop-color="#fad42e"/><stop offset="0.14" stop-color="#9bc945"/><stop offset="0.21" stop-color="#37c898"/><stop offset="0.29" stop-color="#1ea7e1"/><stop offset="0.36" stop-color="#259ce7"/><stop offset="0.43" stop-color="#259ce7"/><stop offset="0.5" stop-color="#249de6"/><stop offset="0.57" stop-color="#1fa6e2"/><stop offset="0.64" stop-color="#01bac5"/><stop offset="0.71" stop-color="#23c1af"/><stop offset="0.79" stop-color="#2dc4a6"/><stop offset="0.86" stop-color="#31c6a0"/><stop offset="0.93" stop-color="#32c69f"/><stop offset="1" stop-color="#32c69f"/></linearGradient>
<linearGradient id="h2_164" x1="0" y1="0" x2="0" y2="1"><stop offset="0" stop-color="#f8f817"/><stop offset="0.07" stop-color="#f8da2b"/><stop offset="0.14" stop-color="#aac739"/><stop offset="0.21" stop-color="#4acb85"/><stop offset="0.29" stop-color="#15afd9"/><stop offset="0.36" stop-color="#21a3e3"/><stop offset="0.43" stop-color="#22a2e4"/><stop offset="0.5" stop-color="#22a2e4"/><stop offset="0.57" stop-color="#1fa5e2"/><stop offset="0.64" stop-color="#02b7cb"/><stop offset="0.71" stop-color="#16bfb7"/><stop offset="0.79" stop-color="#23c1af"/><stop offset="0.86" stop-color="#28c3ab"/><stop offset="0.93" stop-color="#29c3aa"/><stop offset="1" stop-color="#29c3aa"/></linearGradient>
<linearGradient id="h2_165" x1="0" y1="0" x2="0" y2="1"><stop offset="0" stop-color="#f9fa16"/><stop offset="0.07" stop-color="#f6df29"/><stop offset="0.14" stop-color="#b9c431"/><stop offset="0.21" stop-color="#64cd6f"/><stop offset="0.29" stop-color="#05b6ce"/><stop offset="0.36" stop-color="#1aabdd"/><stop offset="0.43" stop-color="#1caadf"/><stop offset="0.5" stop-color="#1fa6e1"/><stop offset="0.57" stop-color="#1ea7e1"/><stop offset="0.64" stop-color="#06b5cf"/><stop offset="0.71" stop-color="#08bcbf"/><stop offset="0.79" stop-color="#16bfb7"/><stop offset="0.86" stop-color="#1ec0b2"/><stop offset="0.93" stop-color="#1fc1b1"/><stop offset="1" stop-color="#1fc1b1"/></linearGradient>
<linearGradient id="h2_166" x1="0" y1="0" x2="0" y2="1"><stop offset="0" stop-color="#f9fa15"/><stop offset="0.07" stop-color="#f6e128"/><stop offset="0.14" stop-color="#c0c32d"/><stop offset="0.21" stop-color="#72cd64"/><stop offset="0.29" stop-color="#01b9c7"/><stop offset="0.36" stop-color="#15afd9"/><stop offset="0.43" stop-color="#17aeda"/><stop offset="0.5" stop-color="#1da9e0"/><stop offset="0.57" stop-color="#1da9e0"/><stop offset="0.64" stop-color="#07b5d0"/><stop offset="0.71" stop-color="#04bbc2"/><stop offset="0.79" stop-color="#0fbeba"/><stop offset="0.86" stop-color="#19bfb5"/><stop offset="0.93" stop-color="#1ac0b5"/><stop offset="1" stop-color="#1ac0b5"/></linearGradient>
<linearGradient id="h2_167" x1="0" y1="0" x2="0" y2="1"><stop offset="0" stop-color="#f9fb15"/><stop offset="0.07" stop-color="#f5e526"/><stop offset="0.14" stop-color="#cdc028"/><stop offset="0.21" stop-color="#8ecb4f"/><stop offset="0.29" stop-color="#17bfb6"/><stop offset="0.36" stop-color="#04b6cd"/><stop offset="0.43" stop-color="#08b4d0"/><stop offset="0.5" stop-color="#17aedb"/><stop offset="0.57" stop-color="#1aacdd"/><stop offset="0.64" stop-color="#0ab4d2"/><stop offset="0.71" stop-color="#01b9c7"/><stop offset="0.79" stop-color="#06bcc0"/><stop offset="0.86" stop-color="#0dbdbc"/><stop offset="0.93" stop-color="#0fbebb"/><stop offset="1" stop-color="#0fbebb"/></linearGradient>
<linearGradient id="h2_168" x1="0" y1="0" x2="0" y2="1"><stop offset="0" stop-color="#f9fb15"/><stop offset="0.07" stop-color="#f5e924"/><stop offset="0.14" stop-color="#d9be28"/><stop offset="0.21" stop-color="#a8c73b"/><stop offset="0.29" stop-color="#30c5a1"/><stop offset="0.36" stop-color="#07bcc0"/><stop offset="0.43" stop-color="#01b8c8"/><stop offset="0.5" stop-color="#11b2d5"/><stop offset="0.57" stop-color="#15afd9"/><stop offset="0.64" stop-color="#0db3d3"/><stop offset="0.71" stop-color="#04b6cd"/><stop offset="0.79" stop-color="#01b9c7"/><stop offset="0.86" stop-color="#04bbc2"/><stop offset="0.93" stop-color="#06bcc0"/><stop offset="1" stop-color="#06bcc0"/></linearGradient>
<linearGradient id="h2_169" x1="0" y1="0" x2="0" y2="1"><stop offset="0" stop-color="#f9fb15"/><stop offset="0.07" stop-color="#f5eb23"/><stop offset="0.14" stop-color="#e3bc2c"/><stop offset="0.21" stop-color="#bec32e"/><stop offset="0.29" stop-color="#46cb88"/><stop offset="0.36" stop-color="#1fc0b2"/><stop offset="0.43" stop-color="#04bbc2"/><stop offset="0.5" stop-color="#09b4d1"/><stop offset="0.57" stop-color="#0fb2d5"/><stop offset="0.64" stop-color="#0cb3d3"/><stop offset="0.71" stop-color="#08b4d1"/><stop offset="0.79" stop-color="#03b7cc"/><stop offset="0.86" stop-color="#01b9c7"/><stop offset="0.93" stop-color="#01b9c6"/><stop offset="1" stop-color="#01b9c6"/></linearGradient>
<linearGradient id="h2_170" x1="0" y1="0" x2="0" y2="1"><stop offset="0" stop-color="#f9fb15"/><stop offset="0.07" stop-color="#f5ed22"/><stop offset="0.14" stop-color="#e8bb2f"/><stop offset="0.21" stop-color="#c7c12a"/><stop offset="0.29" stop-color="#58cc79"/><stop offset="0.36" stop-color="#29c3aa"/><stop offset="0.43" stop-color="#08bcbe"/><stop offset="0.5" stop-color="#06b5cf"/><stop offset="0.57" stop-color="#0cb3d3"/><stop offset="0.64" stop-color="#0bb3d2"/><stop offset="0.71" stop-color="#0ab4d1"/><stop offset="0.79" stop-color="#05b6ce"/><stop offset="0.86" stop-color="#01b8ca"/><stop offset="0.93" stop-color="#01b8c9"/><stop offset="1" stop-color="#01b8c9"/></linearGradient>
<linearGradient id="h2_171" x1="0" y1="0" x2="0" y2="1"><stop offset="0" stop-color="#f9fb15"/><stop offset="0.07" stop-color="#f6f020"/><stop offset="0.14" stop-color="#f2ba38"/><stop offset="0.21" stop-color="#d6be28"/><stop offset="0.29" stop-color="#81cc58"/><stop offset="0.36" stop-color="#3ac994"/><stop offset="0.43" stop-color="#1bc0b4"/><stop offset="0.5" stop-color="#01b8c8"/><stop offset="0.57" stop-color="#06b5cf"/><stop offset="0.64" stop-color="#08b4d1"/><stop offset="0.71" stop-color="#09b4d1"/><stop offset="0.79" stop-color="#08b4d1"/><stop offset="0.86" stop-color="#07b5d0"/><stop offset="0.93" stop-color="#07b5d0"/><stop offset="1" stop-color="#07b5d0"/></linearGradient>
<linearGradient id="h2_172" x1="0" y1="0" x2="0" y2="1"><stop offset="0" stop-color="#f9fb15"/><stop offset="0.07" stop-color="#f6f21e"/><stop offset="0.14" stop-color="#fabc3d"/><stop offset="0.21" stop-color="#e3bc2c"/><stop offset="0.29" stop-color="#a8c73b"/><stop offset="0.36" stop-color="#5ccc76"/><stop offset="0.43" stop-color="#2ec5a3"/><stop offset="0.5" stop-color="#0abdbd"/><stop offset="0.57" stop-color="#01b8c8"/><stop offset="0.64" stop-color="#04b6cd"/><stop offset="0.71" stop-color="#08b5d0"/><stop offset="0.79" stop-color="#0fb2d4"/><stop offset="0.86" stop-color="#13b0d8"/><stop offset="0.93" stop-color="#14b0d8"/><stop offset="1" stop-color="#14b0d8"/></linearGradient>
<linearGradient id="h2_173" x1="0" y1="0" x2="0" y2="1"><stop offset="0" stop-color="#f9fb15"/><stop offset="0.07" stop-color="#f7f41c"/><stop offset="0.14" stop-color="#fec13a"/><stop offset="0.21" stop-color="#ecba33"/><stop offset="0.29" stop-color="#c8c129"/><stop offset="0.36" stop-color="#8ecb4f"/><stop offset="0.43" stop-color="#47cb87"/><stop offset="0.5" stop-color="#28c2ab"/><stop offset="0.57" stop-color="#0abdbd"/><stop offset="0.64" stop-color="#01b9c6"/><stop offset="0.71" stop-color="#05b6ce"/><stop offset="0.79" stop-color="#13b0d7"/><stop offset="0.86" stop-color="#1aacdd"/><stop offset="0.93" stop-color="#1babde"/><stop offset="1" stop-color="#1babde"/></linearGradient>
<linearGradient id="h2_174" x1="0" y1="0" x2="0" y2="1"><stop offset="0" stop-color="#f9fb15"/><stop offset="0.07" stop-color="#f7f51b"/><stop offset="0.14" stop-color="#fec437"/><stop offset="0.21" stop-color="#f0ba36"/><stop offset="0.29" stop-color="#d6be28"/><stop offset="0.36" stop-color="#a9c73a"/><stop offset="0.43" stop-color="#64cd6f"/><stop offset="0.5" stop-color="#33c69e"/><stop offset="0.57" stop-color="#19bfb6"/><stop offset="0.64" stop-color="#04bbc2"/><stop offset="0.71" stop-color="#03b7cc"/><stop offset="0.79" stop-color="#12b1d7"/><stop offset="0.86" stop-color="#1aabdd"/><stop offset="0.93" stop-color="#1caadf"/><stop offset="1" stop-color="#1caadf"/></linearGradient>
<linearGradient id="h2_175" x1="0" y1="0" x2="0" y2="1"><stop offset="0" stop-color="#f9fb15"/><stop offset="0.07" stop-color="#f8f61a"/><stop offset="0.14" stop-color="#fdcd32"/><stop offset="0.21" stop-color="#f8ba3d"/><stop offset="0.29" stop-color="#eaba31"/><stop offset="0.36" stop-color="#d3bf27"/><stop offset="0.43" stop-color="#a4c83e"/><stop offset="0.5" stop-color="#5fcd73"/><stop offset="0.57" stop-color="#34c79c"/><stop offset="0.64" stop-color="#1cc0b3"/><stop offset="0.71" stop-color="#02bac4"/><stop offset="0.79" stop-color="#0ab4d2"/><stop offset="0.86" stop-color="#17aeda"/><stop offset="0.93" stop-color="#19addc"/><stop offset="1" stop-color="#19addc"/></linearGradient>
<linearGradient id="h2_176" x1="0" y1="0" x2="0" y2="1"><stop offset="0" stop-color="#f9fb15"/><stop offset="0.07" stop-color="#f8f818"/><stop offset="0.14" stop-color="#f9d72d"/><stop offset="0.21" stop-color="#febe3c"/><stop offset="0.29" stop-color="#f7ba3c"/><stop offset="0.36" stop-color="#ebba31"/><stop offset="0.43" stop-color="#d6be28"/><stop offset="0.5" stop-color="#a6c83d"/><stop offset="0.57" stop-color="#61cd72"/><stop offset="0.64" stop-color="#32c69f"/><stop offset="0.71" stop-color="#15bfb7"/><stop offset="0.79" stop-color="#01b9c7"/><stop offset="0.86" stop-color="#0ab4d2"/><stop offset="0.93" stop-color="#0db3d3"/><stop offset="1" stop-color="#0db3d3"/></linearGradient>
<linearGradient id="h2_177" x1="0" y1="0" x2="0" y2="1"><stop offset="0" stop-color="#f9fb15"/><stop offset="0.07" stop-color="#f8f917"/><stop offset="0.14" stop-color="#f6e128"/><stop offset="0.21" stop-color="#fec636"/><stop offset="0.29" stop-color="#febe3c"/><stop offset="0.36" stop-color="#fabb3d"/><stop offset="0.43" stop-color="#f3ba39"/><stop offset="0.5" stop-color="#ddbd29"/><stop offset="0.57" stop-color="#a9c73b"/><stop offset="0.64" stop-color="#59cc78"/><stop offset="0.71" stop-color="#32c69f"/><stop offset="0.79" stop-color="#18bfb6"/><stop offset="0.86" stop-color="#02bac4"/><stop offset="0.93" stop-color="#01b9c7"/><stop offset="1" stop-color="#01b9c7"/></linearGradient>
<linearGradient id="h2_178" x1="0" y1="0" x2="0" y2="1"><stop offset="0" stop-color="#f9fb15"/><stop offset="0.07" stop-color="#f9f916"/><stop offset="0.14" stop-color="#f5e526"/><stop offset="0.21" stop-color="#feca33"/><stop offset="0.29" stop-color="#fec339"/><stop offset="0.36" stop-color="#febe3c"/><stop offset="0.43" stop-color="#fabb3d"/><stop offset="0.5" stop-color="#edba33"/><stop offset="0.57" stop-color="#ccc028"/><stop offset="0.64" stop-color="#80cc59"/><stop offset="0.71" stop-color="#44cb89"/><stop offset="0.79" stop-color="#2bc3a8"/><stop offset="0.86" stop-color="#10beba"/><stop offset="0.93" stop-color="#0abdbd"/><stop offset="1" stop-color="#0abdbd"/></linearGradient>
<linearGradient id="h2_179" x1="0" y1="0" x2="0" y2="1"><stop offset="0" stop-color="#f9fb15"/><stop offset="0.07" stop-color="#f9fa15"/><stop offset="0.14" stop-color="#f5ed22"/><stop offset="0.21" stop-color="#f9d62d"/><stop offset="0.29" stop-color="#fccf30"/><stop offset="0.36" stop-color="#fec934"/><stop offset="0.43" stop-color="#fec339"/><stop offset="0.5" stop-color="#fcbd3d"/><stop offset="0.57" stop-color="#efba35"/><stop offset="0.64" stop-color="#cec028"/><stop offset="0.71" stop-color="#a0c841"/><stop offset="0.79" stop-color="#5dcc75"/><stop offset="0.86" stop-color="#34c79b"/><stop offset="0.93" stop-color="#2fc5a2"/><stop offset="1" stop-color="#2fc5a2"/></linearGradient>
<linearGradient id="h2_180" x1="0" y1="0" x2="0" y2="1"><stop offset="0" stop-color="#f9fb15"/><stop offset="0.07" stop-color="#f9fb15"/><stop offset="0.14" stop-color="#f7f41c"/><stop offset="0.21" stop-color="#f5e427"/><stop offset="0.29" stop-color="#f6de29"/><stop offset="0.36" stop-color="#f7db2a"/><stop offset="0.43" stop-color="#f8d92b"/><stop offset="0.5" stop-color="#fdcb32"/><stop offset="0.57" stop-color="#fdbd3d"/><stop offset="0.64" stop-color="#f6ba3c"/><stop offset="0.71" stop-color="#e8bb2f"/><stop offset="0.79" stop-color="#b8c431"/><stop offset="0.86" stop-color="#7ccc5c"/><stop offset="0.93" stop-color="#6fcd66"/><stop offset="1" stop-color="#6fcd66"/></linearGradient>
<linearGradient id="h2_181" x1="0" y1="0" x2="0" y2="1"><stop offset="0" stop-color="#f9fb15"/><stop offset="0.07" stop-color="#f9fb15"/><stop offset="0.14" stop-color="#f8f719"/><stop offset="0.21" stop-color="#f5ec22"/><stop offset="0.29" stop-color="#f5ec22"/><stop offset="0.36" stop-color="#f5ec22"/><stop offset="0.43" stop-color="#f5ec23"/><stop offset="0.5" stop-color="#f5e327"/><stop offset="0.57" stop-color="#fbd12f"/><stop offset="0.64" stop-color="#fec239"/><stop offset="0.71" stop-color="#f7ba3c"/><stop offset="0.79" stop-color="#e6bb2d"/><stop offset="0.86" stop-color="#d9be28"/><stop offset="0.93" stop-color="#d6be28"/><stop offset="1" stop-color="#d6be28"/></linearGradient>
<linearGradient id="h2_182" x1="0" y1="0" x2="0" y2="1"><stop offset="0" stop-color="#f9fb15"/><stop offset="0.07" stop-color="#f9fb15"/><stop offset="0.14" stop-color="#f8f818"/><stop offset="0.21" stop-color="#f6f01f"/><stop offset="0.29" stop-color="#f6f01f"/><stop offset="0.36" stop-color="#f6f11f"/><stop offset="0.43" stop-color="#f6f11e"/><stop offset="0.5" stop-color="#f5eb23"/><stop offset="0.57" stop-color="#f7dc2a"/><stop offset="0.64" stop-color="#fec934"/><stop offset="0.71" stop-color="#febd3c"/><stop offset="0.79" stop-color="#f5ba3a"/><stop offset="0.86" stop-color="#edba33"/><stop offset="0.93" stop-color="#ecba32"/><stop offset="1" stop-color="#ecba32"/></linearGradient>
<linearGradient id="h2_183" x1="0" y1="0" x2="0" y2="1"><stop offset="0" stop-color="#f9fb15"/><stop offset="0.07" stop-color="#f9fb15"/><stop offset="0.14" stop-color="#f9fa16"/><stop offset="0.21" stop-color="#f7f61a"/><stop offset="0.29" stop-color="#f8f719"/><stop offset="0.36" stop-color="#f8f817"/><stop offset="0.43" stop-color="#f9f916"/><stop offset="0.5" stop-color="#f8f61a"/><stop offset="0.57" stop-color="#f5ed22"/><stop offset="0.64" stop-color="#f6e029"/><stop offset="0.71" stop-color="#fbd32e"/><stop offset="0.79" stop-color="#fec735"/><stop offset="0.86" stop-color="#febf3c"/><stop offset="0.93" stop-color="#fdbd3d"/><stop offset="1" stop-color="#fdbd3d"/></linearGradient>
<linearGradient id="h2_184" x1="0" y1="0" x2="0" y2="1"><stop offset="0" stop-color="#f9fb15"/><stop offset="0.07" stop-color="#f9fb15"/><stop offset="0.14" stop-color="#f9fa15"/><stop offset="0.21" stop-color="#f8f817"/><stop offset="0.29" stop-color="#f9f916"/><stop offset="0.36" stop-color="#f9fa15"/><stop offset="0.43" stop-color="#f9fb15"/><stop offset="0.5" stop-color="#f9fa15"/><stop offset="0.57" stop-color="#f8f818"/><stop offset="0.64" stop-color="#f6f11f"/><stop offset="0.71" stop-color="#f5e924"/><stop offset="0.79" stop-color="#f6de29"/><stop offset="0.86" stop-color="#fad42e"/><stop offset="0.93" stop-color="#fbd22f"/><stop offset="1" stop-color="#fbd22f"/></linearGradient>
<linearGradient id="h2_185" x1="0" y1="0" x2="0" y2="1"><stop offset="0" stop-color="#f9fb15"/><stop offset="0.07" stop-color="#f9fb15"/><stop offset="0.14" stop-color="#f9fb15"/><stop offset="0.21" stop-color="#f9fa15"/><stop offset="0.29" stop-color="#f9fb15"/><stop offset="0.36" stop-color="#f9fb15"/><stop offset="0.43" stop-color="#f9fb15"/><stop offset="0.5" stop-color="#f9fb15"/><stop offset="0.57" stop-color="#f9fb15"/><stop offset="0.64" stop-color="#f8f817"/><stop offset="0.71" stop-color="#f7f61a"/><stop offset="0.79" stop-color="#f6f11f"/><stop offset="0.86" stop-color="#f5ec22"/><stop offset="0.93" stop-color="#f5eb23"/><stop offset="1" stop-color="#f5eb23"/></linearGradient>
<linearGradient id="h2_186" x1="0" y1="0" x2="0" y2="1"><stop offset="0" stop-color="#f9fb15"/><stop offset="0.07" stop-color="#f9fb15"/><stop offset="0.14" stop-color="#f9fb15"/><stop offset="0.21" stop-color="#f9fb15"/><stop offset="0.29" stop-color="#f9fb15"/><stop offset="0.36" stop-color="#f9fb15"/><stop offset="0.43" stop-color="#f9fb15"/><stop offset="0.5" stop-color="#f9fb15"/><stop offset="0.57" stop-color="#f9fb15"/><stop offset="0.64" stop-color="#f9fa15"/><stop offset="0.71" stop-color="#f9fa16"/><stop offset="0.79" stop-color="#f8f719"/><stop offset="0.86" stop-color="#f7f41c"/><stop offset="0.93" stop-color="#f7f31d"/><stop offset="1" stop-color="#f7f31d"/></linearGradient>
<linearGradient id="h2_187" x1="0" y1="0" x2="0" y2="1"><stop offset="0" stop-color="#f9fb15"/><stop offset="0.07" stop-color="#f9fb15"/><stop offset="0.14" stop-color="#f9fb15"/><stop offset="0.21" stop-color="#f9fb15"/><stop offset="0.29" stop-color="#f9fb15"/><stop offset="0.36" stop-color="#f9fb15"/><stop offset="0.43" stop-color="#f9fb15"/><stop offset="0.5" stop-color="#f9fb15"/><stop offset="0.57" stop-color="#f9fb15"/><stop offset="0.64" stop-color="#f9fb15"/><stop offset="0.71" stop-color="#f9fb15"/><stop offset="0.79" stop-color="#f9fb15"/><stop offset="0.86" stop-color="#f9fb15"/><stop offset="0.93" stop-color="#f9fb15"/><stop offset="1" stop-color="#f9fb15"/></linearGradient>
<linearGradient id="h2_188" x1="0" y1="0" x2="0" y2="1"><stop offset="0" stop-color="#f9fb15"/><stop offset="0.07" stop-color="#f9fb15"/><stop offset="0.14" stop-color="#f9fb15"/><stop offset="0.21" stop-color="#f9fb15"/><stop offset="0.29" stop-color="#f9fb15"/><stop offset="0.36" stop-color="#f9fb15"/><stop offset="0.43" stop-color="#f9fb15"/><stop offset="0.5" stop-color="#f9fb15"/><stop offset="0.57" stop-color="#f9fb15"/><stop offset="0.64" stop-color="#f9fb15"/><stop offset="0.71" stop-color="#f9fb15"/><stop offset="0.79" stop-color="#f9fb15"/><stop offset="0.86" stop-color="#f9fb15"/><stop offset="0.93" stop-color="#f9fb15"/><stop offset="1" stop-color="#f9fb15"/></linearGradient>
<linearGradient id="h2_189" x1="0" y1="0" x2="0" y2="1"><stop offset="0" stop-color="#f9fb15"/><stop offset="0.07" stop-color="#f9fb15"/><stop offset="0.14" stop-color="#f9fb15"/><stop offset="0.21" stop-color="#f9fb15"/><stop offset="0.29" stop-color="#f9fb15"/><stop offset="0.36" stop-color="#f9fb15"/><stop offset="0.43" stop-color="#f9fa15"/><stop offset="0.5" stop-color="#f9fb15"/><stop offset="0.57" stop-color="#f9fb15"/><stop offset="0.64" stop-color="#f9fb15"/><stop offset="0.71" stop-color="#f9fb15"/><stop offset="0.79" stop-color="#f9fb15"/><stop offset="0.86" stop-color="#f9fb15"/><stop offset="0.93" stop-color="#f9fb15"/><stop offset="1" stop-color="#f9fb15"/></linearGradient>
<linearGradient id="h2_190" x1="0" y1="0" x2="0" y2="1"><stop offset="0" stop-color="#f9fb15"/><stop offset="0.07" stop-color="#f9fb15"/><stop offset="0.14" stop-color="#f9fb15"/><stop offset="0.21" stop-color="#f9fb15"/><stop offset="0.29" stop-color="#f9f916"/><stop offset="0.36" stop-color="#f7f61a"/><stop offset="0.43" stop-color="#f6f21e"/><stop offset="0.5" stop-color="#f7f41c"/><stop offset="0.57" stop-color="#f8f818"/><stop offset="0.64" stop-color="#f9fa16"/><stop offset="0.71" stop-color="#f9fa15"/><stop offset="0.79" stop-color="#f9fb15"/><stop offset="0.86" stop-color="#f9fb15"/><stop offset="0.93" stop-color="#f9fb15"/><stop offset="1" stop-color="#f9fb15"/></linearGradient>
<linearGradient id="h2_191" x1="0" y1="0" x2="0" y2="1"><stop offset="0" stop-color="#f9fa15"/><stop offset="0.07" stop-color="#f9fb15"/><stop offset="0.14" stop-color="#f9fb15"/><stop offset="0.21" stop-color="#f9fa15"/><stop offset="0.29" stop-color="#f8f718"/><stop offset="0.36" stop-color="#f6f11f"/><stop offset="0.43" stop-color="#f5e924"/><stop offset="0.5" stop-color="#f5ed22"/><stop offset="0.57" stop-color="#f7f31d"/><stop offset="0.64" stop-color="#f7f51b"/><stop offset="0.71" stop-color="#f8f718"/><stop offset="0.79" stop-color="#f9f916"/><stop offset="0.86" stop-color="#f9fb15"/><stop offset="0.93" stop-color="#f9fb15"/><stop offset="1" stop-color="#f9fb15"/></linearGradient>
<linearGradient id="h2_192" x1="0" y1="0" x2="0" y2="1"><stop offset="0" stop-color="#f7f61a"/><stop offset="0.07" stop-color="#f9f916"/><stop offset="0.14" stop-color="#f9fa15"/><stop offset="0.21" stop-color="#f8f719"/><stop offset="0.29" stop-color="#f6f01f"/><stop offset="0.36" stop-color="#f6df29"/><stop offset="0.43" stop-color="#fec636"/><stop offset="0.5" stop-color="#fdcd31"/><stop offset="0.57" stop-color="#f7dc2a"/><stop offset="0.64" stop-color="#f5e526"/><stop offset="0.71" stop-color="#f5ea24"/><stop offset="0.79" stop-color="#f5ed21"/><stop offset="0.86" stop-color="#f6f020"/><stop offset="0.93" stop-color="#f6f01f"/><stop offset="1" stop-color="#f6f01f"/></linearGradient>
<linearGradient id="h2_193" x1="0" y1="0" x2="0" y2="1"><stop offset="0" stop-color="#f6ef20"/><stop offset="0.07" stop-color="#f7f61a"/><stop offset="0.14" stop-color="#f8f818"/><stop offset="0.21" stop-color="#f6f31d"/><stop offset="0.29" stop-color="#f5e427"/><stop offset="0.36" stop-color="#fec736"/><stop offset="0.43" stop-color="#debd29"/><stop offset="0.5" stop-color="#e7bb2e"/><stop offset="0.57" stop-color="#f9bb3d"/><stop offset="0.64" stop-color="#fec03b"/><stop offset="0.71" stop-color="#fec636"/><stop offset="0.79" stop-color="#fdcd32"/><stop offset="0.86" stop-color="#fbd22f"/><stop offset="0.93" stop-color="#fbd32e"/><stop offset="1" stop-color="#fbd32e"/></linearGradient>
<linearGradient id="h2_194" x1="0" y1="0" x2="0" y2="1"><stop offset="0" stop-color="#f5e825"/><stop offset="0.07" stop-color="#f6f11e"/><stop offset="0.14" stop-color="#f6f21e"/><stop offset="0.21" stop-color="#f5ec22"/><stop offset="0.29" stop-color="#fbd32e"/><stop offset="0.36" stop-color="#e6bb2d"/><stop offset="0.43" stop-color="#91ca4c"/><stop offset="0.5" stop-color="#a1c840"/><stop offset="0.57" stop-color="#bbc430"/><stop offset="0.64" stop-color="#c2c22c"/><stop offset="0.71" stop-color="#ccc028"/><stop offset="0.79" stop-color="#e1bc2b"/><stop offset="0.86" stop-color="#f2ba38"/><stop offset="0.93" stop-color="#f5ba3b"/><stop offset="1" stop-color="#f5ba3b"/></linearGradient>
<linearGradient id="h2_195" x1="0" y1="0" x2="0" y2="1"><stop offset="0" stop-color="#f5e526"/><stop offset="0.07" stop-color="#f5ee21"/><stop offset="0.14" stop-color="#f6ef20"/><stop offset="0.21" stop-color="#f5e825"/><stop offset="0.29" stop-color="#fdcc32"/><stop offset="0.36" stop-color="#d1bf27"/><stop offset="0.43" stop-color="#64cd6f"/><stop offset="0.5" stop-color="#73cd63"/><stop offset="0.57" stop-color="#8fcb4e"/><stop offset="0.64" stop-color="#97ca48"/><stop offset="0.71" stop-color="#a2c83f"/><stop offset="0.79" stop-color="#bec32e"/><stop offset="0.86" stop-color="#d7be28"/><stop offset="0.93" stop-color="#dcbd29"/><stop offset="1" stop-color="#dcbd29"/></linearGradient>
<linearGradient id="h2_196" x1="0" y1="0" x2="0" y2="1"><stop offset="0" stop-color="#f7dd2a"/><stop offset="0.07" stop-color="#f5e825"/><stop offset="0.14" stop-color="#f5e725"/><stop offset="0.21" stop-color="#f6df29"/><stop offset="0.29" stop-color="#fec03b"/><stop offset="0.36" stop-color="#a2c840"/><stop offset="0.43" stop-color="#2bc3a8"/><stop offset="0.5" stop-color="#30c5a1"/><stop offset="0.57" stop-color="#3cc991"/><stop offset="0.64" stop-color="#42ca8b"/><stop offset="0.71" stop-color="#4bcb83"/><stop offset="0.79" stop-color="#64cd6f"/><stop offset="0.86" stop-color="#7fcc5a"/><stop offset="0.93" stop-color="#85cb55"/><stop offset="1" stop-color="#85cb55"/></linearGradient>
<linearGradient id="h2_197" x1="0" y1="0" x2="0" y2="1"><stop offset="0" stop-color="#fad42e"/><stop offset="0.07" stop-color="#f6e128"/><stop offset="0.14" stop-color="#f7dc2a"/><stop offset="0.21" stop-color="#fbd22f"/><stop offset="0.29" stop-color="#efba35"/><stop offset="0.36" stop-color="#66cd6d"/><stop offset="0.43" stop-color="#0cb3d3"/><stop offset="0.5" stop-color="#06b6ce"/><stop offset="0.57" stop-color="#05bbc1"/><stop offset="0.64" stop-color="#0bbdbd"/><stop offset="0.71" stop-color="#15bfb7"/><stop offset="0.79" stop-color="#25c2ad"/><stop offset="0.86" stop-color="#2ec4a4"/><stop offset="0.93" stop-color="#2fc5a2"/><stop offset="1" stop-color="#2fc5a2"/></linearGradient>
<linearGradient id="h2_198" x1="0" y1="0" x2="0" y2="1"><stop offset="0" stop-color="#fdcb33"/><stop offset="0.07" stop-color="#f9d72c"/><stop offset="0.14" stop-color="#fcd030"/><stop offset="0.21" stop-color="#fec636"/><stop offset="0.29" stop-color="#cdc028"/><stop offset="0.36" stop-color="#33c79c"/><stop offset="0.43" stop-color="#259be8"/><stop offset="0.5" stop-color="#259ce7"/><stop offset="0.57" stop-color="#20a4e3"/><stop offset="0.64" stop-color="#1ea7e1"/><stop offset="0.71" stop-color="#1caadf"/><stop offset="0.79" stop-color="#18aedb"/><stop offset="0.86" stop-color="#13b1d7"/><stop offset="0.93" stop-color="#12b1d6"/><stop offset="1" stop-color="#12b1d6"/></linearGradient>
<linearGradient id="h2_199" x1="0" y1="0" x2="0" y2="1"><stop offset="0" stop-color="#fec636"/><stop offset="0.07" stop-color="#fcd12f"/><stop offset="0.14" stop-color="#fdcb33"/><stop offset="0.21" stop-color="#fec13a"/><stop offset="0.29" stop-color="#b2c535"/><stop offset="0.36" stop-color="#1fc0b1"/><stop offset="0.43" stop-color="#2c90f0"/><stop offset="0.5" stop-color="#2b90f0"/><stop offset="0.57" stop-color="#2797ea"/><stop offset="0.64" stop-color="#269ae9"/><stop offset="0.71" stop-color="#259ce7"/><stop offset="0.79" stop-color="#249fe5"/><stop offset="0.86" stop-color="#22a2e4"/><stop offset="0.93" stop-color="#22a2e4"/><stop offset="1" stop-color="#22a2e4"/></linearGradient>
<linearGradient id="h2_200" x1="0" y1="0" x2="0" y2="1"><stop offset="0" stop-color="#fdbd3d"/><stop offset="0.07" stop-color="#fec437"/><stop offset="0.14" stop-color="#fec338"/><stop offset="0.21" stop-color="#f4ba3a"/><stop offset="0.29" stop-color="#67cd6c"/><stop offset="0.36" stop-color="#15afd9"/><stop offset="0.43" stop-color="#3479fd"/><stop offset="0.5" stop-color="#337bfc"/><stop offset="0.57" stop-color="#2f81fa"/><stop offset="0.64" stop-color="#2f82f9"/><stop offset="0.71" stop-color="#2e83f9"/><stop offset="0.79" stop-color="#2f82f9"/><stop offset="0.86" stop-color="#2f81fa"/><stop offset="0.93" stop-color="#2f81fa"/><stop offset="1" stop-color="#2f81fa"/></linearGradient>
<linearGradient id="h2_201" x1="0" y1="0" x2="0" y2="1"><stop offset="0" stop-color="#f2ba38"/><stop offset="0.07" stop-color="#febe3c"/><stop offset="0.14" stop-color="#fbbc3d"/><stop offset="0.21" stop-color="#dfbc2a"/><stop offset="0.29" stop-color="#2ac3a9"/><stop offset="0.36" stop-color="#2b92ef"/><stop offset="0.43" stop-color="#4564fd"/><stop offset="0.5" stop-color="#4564fd"/><stop offset="0.57" stop-color="#4367fd"/><stop offset="0.64" stop-color="#4369fe"/><stop offset="0.71" stop-color="#4269fe"/><stop offset="0.79" stop-color="#4269fe"/><stop offset="0.86" stop-color="#4369fe"/><stop offset="0.93" stop-color="#4369fe"/><stop offset="1" stop-color="#4369fe"/></linearGradient>
<linearGradient id="h2_202" x1="0" y1="0" x2="0" y2="1"><stop offset="0" stop-color="#e2bc2b"/><stop offset="0.07" stop-color="#f9bb3d"/><stop offset="0.14" stop-color="#efba35"/><stop offset="0.21" stop-color="#c0c32d"/><stop offset="0.29" stop-color="#11b1d6"/><stop offset="0.36" stop-color="#3875fe"/><stop offset="0.43" stop-color="#4757f7"/><stop offset="0.5" stop-color="#4854f5"/><stop offset="0.57" stop-color="#4854f5"/><stop offset="0.64" stop-color="#4853f5"/><stop offset="0.71" stop-color="#4853f5"/><stop offset="0.79" stop-color="#4755f6"/><stop offset="0.86" stop-color="#4757f7"/><stop offset="0.93" stop-color="#4757f7"/><stop offset="1" stop-color="#4757f7"/></linearGradient>
<linearGradient id="h2_203" x1="0" y1="0" x2="0" y2="1"><stop offset="0" stop-color="#d8be28"/><stop offset="0.07" stop-color="#f4ba3a"/><stop offset="0.14" stop-color="#e8bb2e"/><stop offset="0.21" stop-color="#acc738"/><stop offset="0.29" stop-color="#1ea7e1"/><stop offset="0.36" stop-color="#416bfe"/><stop offset="0.43" stop-color="#4853f4"/><stop offset="0.5" stop-color="#484ef1"/><stop offset="0.57" stop-color="#484df0"/><stop offset="0.64" stop-color="#484cf0"/><stop offset="0.71" stop-color="#484cf0"/><stop offset="0.79" stop-color="#484ef1"/><stop offset="0.86" stop-color="#484ff2"/><stop offset="0.93" stop-color="#4850f2"/><stop offset="1" stop-color="#4850f2"/></linearGradient>
<linearGradient id="h2_204" x1="0" y1="0" x2="0" y2="1"><stop offset="0" stop-color="#c2c22c"/><stop offset="0.07" stop-color="#e2bc2b"/><stop offset="0.14" stop-color="#d8be28"/><stop offset="0.21" stop-color="#78cc5f"/><stop offset="0.29" stop-color="#2797eb"/><stop offset="0.36" stop-color="#4660fb"/><stop offset="0.43" stop-color="#484df0"/><stop offset="0.5" stop-color="#4746eb"/><stop offset="0.57" stop-color="#4744e8"/><stop offset="0.64" stop-color="#4742e6"/><stop offset="0.71" stop-color="#4742e6"/><stop offset="0.79" stop-color="#4743e7"/><stop offset="0.86" stop-color="#4743e8"/><stop offset="0.93" stop-color="#4744e8"/><stop offset="1" stop-color="#4744e8"/></linearGradient>
</defs>
<g>
<rect x="24" y="261.5" width="1" height="191.2" fill="url(#h2_0)" fill-opacity="0.8"/>
<rect x="25" y="261.5" width="1" height="191.2" fill="url(#h2_1)"/>
<rect x="26" y="261.5" width="1" height="191.2" fill="url(#h2_2)"/>
<rect x="27" y="261.5" width="1" height="191.2" fill="url(#h2_3)"/>
<rect x="28" y="261.5" width="1" height="191.2" fill="url(#h2_4)"/>
<rect x="29" y="261.5" width="1" height="191.2" fill="url(#h2_5)"/>
<rect x="30" y="261.5" width="1" height="191.2" fill="url(#h2_6)"/>
<rect x="31" y="261.5" width="1" height="191.2" fill="url(#h2_7)"/>
<rect x="32" y="261.5" width="1" height="191.2" fill="url(#h2_8)"/>
<rect x="33" y="261.5" width="1" height="191.2" fill="url(#h2_9)"/>
<rect x="34" y="261.5" width="1" height="191.2" fill="url(#h2_10)"/>
<rect x="35" y="261.5" width="1" height="191.2" fill="url(#h2_11)"/>
<rect x="36" y="261.5" width="1" height="191.2" fill="url(#h2_12)"/>
<rect x="37" y="261.5" width="1" height="191.2" fill="url(#h2_13)"/>
<rect x="38" y="261.5" width="1" height="191.2" fill="url(#h2_14)"/>
<rect x="39" y="261.5" width="1" height="191.2" fill="url(#h2_15)"/>
<rect x="40" y="261.5" width="1" height="191.2" fill="url(#h2_16)"/>
<rect x="41" y="261.5" width="1" height="191.2" fill="url(#h2_17)"/>
<rect x="42" y="261.5" width="1" height="191.2" fill="url(#h2_18)"/>
<rect x="43" y="261.5" width="1" height="191.2" fill="url(#h2_19)"/>
<rect x="44" y="261.5" width="1" height="191.2" fill="url(#h2_20)"/>
<rect x="45" y="261.5" width="1" height="191.2" fill="url(#h2_21)"/>
<rect x="46" y="261.5" width="1" height="191.2" fill="url(#h2_22)"/>
<rect x="47" y="261.5" width="1" height="191.2" fill="url(#h2_23)"/>
<rect x="48" y="261.5" width="1" height="191.2" fill="url(#h2_24)"/>
<rect x="49" y="261.5" width="1" height="191.2" fill="url(#h2_25)"/>
<rect x="50" y="261.5" width="1" height="191.2" fill="url(#h2_26)"/>
<rect x="51" y="261.5" width="1" height="191.2" fill="url(#h2_27)"/>
<rect x="52" y="261.5" width="1" height="191.2" fill="url(#h2_28)"/>
<rect x="53" y="261.5" width="1" height="191.2" fill="url(#h2_29)"/>
<rect x="54" y="261.5" width="1" height="191.2" fill="url(#h2_30)"/>
<rect x="55" y="261.5" width="1" height="191.2" fill="url(#h2_31)"/>
<rect x="56" y="261.5" width="1" height="191.2" fill="url(#h2_32)"/>
<rect x="57" y="261.5" width="1" height="191.2" fill="url(#h2_33)"/>
<rect x="58" y="261.5" width="1" height="191.2" fill="url(#h2_34)"/>
<rect x="59" y="261.5" width="1" height="191.2" fill="url(#h2_35)"/>
<rect x="60" y="261.5" width="1" height="191.2" fill="url(#h2_36)"/>
<rect x="61" y="261.5" width="1" height="191.2" fill="url(#h2_37)"/>
<rect x="62" y="261.5" width="1" height="191.2" fill="url(#h2_38)"/>
<rect x="63" y="261.5" width="1" height="191.2" fill="url(#h2_39)"/>
<rect x="64" y="261.5" width="1" height="191.2" fill="url(#h2_40)"/>
<rect x="65" y="261.5" width="1" height="191.2" fill="url(#h2_41)"/>
<rect x="66" y="261.5" width="1" height="191.2" fill="url(#h2_42)"/>
<rect x="67" y="261.5" width="1" height="191.2" fill="url(#h2_43)"/>
<rect x="68" y="261.5" width="1" height="191.2" fill="url(#h2_44)"/>
<rect x="69" y="261.5" width="1" height="191.2" fill="url(#h2_45)"/>
<rect x="70" y="261.5" width="1" height="191.2" fill="url(#h2_46)"/>
<rect x="71" y="261.5" width="1" height="191.2" fill="url(#h2_47)"/>
<rect x="72" y="261.5" width="1" height="191.2" fill="url(#h2_48)"/>
<rect x="73" y="261.5" width="1" height="191.2" fill="url(#h2_49)"/>
<rect x="74" y="261.5" width="1" height="191.2" fill="url(#h2_50)"/>
<rect x="75" y="261.5" width="1" height="191.2" fill="url(#h2_51)"/>
<rect x="76" y="261.5" width="1" height="191.2" fill="url(#h2_52)"/>
<rect x="77" y="261.5" width="1" height="191.2" fill="url(#h2_53)"/>
<rect x="78" y="261.5" width="1" height="191.2" fill="url(#h2_54)"/>
<rect x="79" y="261.5" width="1" height="191.2" fill="url(#h2_55)"/>
<rect x="80" y="261.5" width="1" height="191.2" fill="url(#h2_56)"/>
<rect x="81" y="261.5" width="1" height="191.2" fill="url(#h2_57)"/>
<rect x="82" y="261.5" width="1" height="191.2" fill="url(#h2_58)"/>
<rect x="83" y="261.5" width="1" height="191.2" fill="url(#h2_59)"/>
<rect x="84" y="261.5" width="1" height="191.2" fill="url(#h2_60)"/>
<rect x="85" y="261.5" width="1" height="191.2" fill="url(#h2_61)"/>
<rect x="86" y="261.5" width="1" height="191.2" fill="url(#h2_62)"/>
<rect x="87" y="261.5" width="1" height="191.2" fill="url(#h2_63)"/>
<rect x="88" y="261.5" width="1" height="191.2" fill="url(#h2_64)"/>
<rect x="89" y="261.5" width="1" height="191.2" fill="url(#h2_65)"/>
<rect x="90" y="261.5" width="1" height="191.2" fill="url(#h2_66)"/>
<rect x="91" y="261.5" width="1" height="191.2" fill="url(#h2_67)"/>
<rect x="92" y="261.5" width="1" height="191.2" fill="url(#h2_68)"/>
<rect x="93" y="261.5" width="1" height="191.2" fill="url(#h2_69)"/>
<rect x="94" y="261.5" width="1" height="191.2" fill="url(#h2_70)"/>
<rect x="95" y="261.5" width="1" height="191.2" fill="url(#h2_71)"/>
<rect x="96" y="261.5" width="1" height="191.2" fill="url(#h2_72)"/>
<rect x="97" y="261.5" width="1" height="191.2" fill="url(#h2_73)"/>
<rect x="98" y="261.5" width="1" height="191.2" fill="url(#h2_74)"/>
<rect x="99" y="261.5" width="1" height="191.2" fill="url(#h2_75)"/>
<rect x="100" y="261.5" width="1" height="191.2" fill="url(#h2_76)"/>
<rect x="101" y="261.5" width="1" height="191.2" fill="url(#h2_77)"/>
<rect x="102" y="261.5" width="1" height="191.2" fill="url(#h2_78)"/>
<rect x="103" y="261.5" width="1" height="191.2" fill="url(#h2_79)"/>
<rect x="104" y="261.5" width="1" height="191.2" fill="url(#h2_80)"/>
<rect x="105" y="261.5" width="1" height="191.2" fill="url(#h2_81)"/>
<rect x="106" y="261.5" width="1" height="191.2" fill="url(#h2_82)"/>
<rect x="107" y="261.5" width="1" height="191.2" fill="url(#h2_83)"/>
<rect x="108" y="261.5" width="1" height="191.2" fill="url(#h2_84)"/>
<rect x="109" y="261.5" width="1" height="191.2" fill="url(#h2_85)"/>
<rect x="110" y="261.5" width="1" height="191.2" fill="url(#h2_86)"/>
<rect x="111" y="261.5" width="1" height="191.2" fill="url(#h2_87)"/>
<rect x="112" y="261.5" width="1" height="191.2" fill="url(#h2_88)"/>
<rect x="113" y="261.5" width="1" height="191.2" fill="url(#h2_89)"/>
<rect x="114" y="261.5" width="1" height="191.2" fill="url(#h2_90)"/>
<rect x="115" y="261.5" width="1" height="191.2" fill="url(#h2_91)"/>
<rect x="116" y="261.5" width="1" height="191.2" fill="url(#h2_92)"/>
<rect x="117" y="261.5" width="1" height="191.2" fill="url(#h2_93)"/>
<rect x="118" y="261.5" width="1" height="191.2" fill="url(#h2_94)"/>
<rect x="119" y="261.5" width="1" height="191.2" fill="url(#h2_95)"/>
<rect x="120" y="261.5" width="1" height="191.2" fill="url(#h2_96)"/>
<rect x="121" y="261.5" width="1" height="191.2" fill="url(#h2_97)"/>
<rect x="122" y="261.5" width="1" height="191.2" fill="url(#h2_98)"/>
<rect x="123" y="261.5" width="1" height="191.2" fill="url(#h2_99)"/>
<rect x="124" y="261.5" width="1" height="191.2" fill="url(#h2_100)"/>
<rect x="125" y="261.5" width="1" height="191.2" fill="url(#h2_101)"/>
<rect x="126" y="261.5" width="1" height="191.2" fill="url(#h2_102)"/>
<rect x="127" y="261.5" width="1" height="191.2" fill="url(#h2_103)"/>
<rect x="128" y="261.5" width="1" height="191.2" fill="url(#h2_104)"/>
<rect x="129" y="261.5" width="1" height="191.2" fill="url(#h2_105)"/>
<rect x="130" y="261.5" width="1" height="191.2" fill="url(#h2_106)"/>
<rect x="131" y="261.5" width="1" height="191.2" fill="url(#h2_107)"/>
<rect x="132" y="261.5" width="1" height="191.2" fill="url(#h2_108)"/>
<rect x="133" y="261.5" width="1" height="191.2" fill="url(#h2_109)"/>
<rect x="134" y="261.5" width="1" height="191.2" fill="url(#h2_110)"/>
<rect x="135" y="261.5" width="1" height="191.2" fill="url(#h2_111)"/>
<rect x="136" y="261.5" width="1" height="191.2" fill="url(#h2_112)"/>
<rect x="137" y="261.5" width="1" height="191.2" fill="url(#h2_113)"/>
<rect x="138" y="261.5" width="1" height="191.2" fill="url(#h2_114)"/>
<rect x="139" y="261.5" width="1" height="191.2" fill="url(#h2_115)"/>
<rect x="140" y="261.5" width="1" height="191.2" fill="url(#h2_116)"/>
<rect x="141" y="261.5" width="1" height="191.2" fill="url(#h2_117)"/>
<rect x="142" y="261.5" width="1" height="191.2" fill="url(#h2_118)"/>
<rect x="143" y="261.5" width="1" height="191.2" fill="url(#h2_119)"/>
<rect x="144" y="261.5" width="1" height="191.2" fill="url(#h2_120)"/>
<rect x="145" y="261.5" width="1" height="191.2" fill="url(#h2_121)"/>
<rect x="146" y="261.5" width="1" height="191.2" fill="url(#h2_122)"/>
<rect x="147" y="261.5" width="1" height="191.2" fill="url(#h2_123)"/>
<rect x="148" y="261.5" width="1" height="191.2" fill="url(#h2_124)"/>
<rect x="149" y="261.5" width="1" height="191.2" fill="url(#h2_125)"/>
<rect x="150" y="261.5" width="1" height="191.2" fill="url(#h2_126)"/>
<rect x="151" y="261.5" width="1" height="191.2" fill="url(#h2_127)"/>
<rect x="152" y="261.5" width="1" height="191.2" fill="url(#h2_128)"/>
<rect x="153" y="261.5" width="1" height="191.2" fill="url(#h2_129)"/>
<rect x="154" y="261.5" width="1" height="191.2" fill="url(#h2_130)"/>
<rect x="155" y="261.5" width="1" height="191.2" fill="url(#h2_131)"/>
<rect x="156" y="261.5" width="1" height="191.2" fill="url(#h2_132)"/>
<rect x="157" y="261.5" width="1" height="191.2" fill="url(#h2_133)"/>
<rect x="158" y="261.5" width="1" height="191.2" fill="url(#h2_134)"/>
<rect x="159" y="261.5" width="1" height="191.2" fill="url(#h2_135)"/>
<rect x="160" y="261.5" width="1" height="191.2" fill="url(#h2_136)"/>
<rect x="161" y="261.5" width="1" height="191.2" fill="url(#h2_137)"/>
<rect x="162" y="261.5" width="1" height="191.2" fill="url(#h2_138)"/>
<rect x="163" y="261.5" width="1" height="191.2" fill="url(#h2_139)"/>
<rect x="164" y="261.5" width="1" height="191.2" fill="url(#h2_140)"/>
<rect x="165" y="261.5" width="1" height="191.2" fill="url(#h2_141)"/>
<rect x="166" y="261.5" width="1" height="191.2" fill="url(#h2_142)"/>
<rect x="167" y="261.5" width="1" height="191.2" fill="url(#h2_143)"/>
<rect x="168" y="261.5" width="1" height="191.2" fill="url(#h2_144)"/>
<rect x="169" y="261.5" width="1" height="191.2" fill="url(#h2_145)"/>
<rect x="170" y="261.5" width="1" height="191.2" fill="url(#h2_146)"/>
<rect x="171" y="261.5" width="1" height="191.2" fill="url(#h2_147)"/>
<rect x="172" y="261.5" width="1" height="191.2" fill="url(#h2_148)"/>
<rect x="173" y="261.5" width="1" height="191.2" fill="url(#h2_149)"/>
<rect x="174" y="261.5" width="1" height="191.2" fill="url(#h2_150)"/>
<rect x="175" y="261.5" width="1" height="191.2" fill="url(#h2_151)"/>
<rect x="176" y="261.5" width="1" height="191.2" fill="url(#h2_152)"/>
<rect x="177" y="261.5" width="1" height="191.2" fill="url(#h2_153)"/>
<rect x="178" y="261.5" width="1" height="191.2" fill="url(#h2_154)"/>
<rect x="179" y="261.5" width="1" height="191.2" fill="url(#h2_155)"/>
<rect x="180" y="261.5" width="1" height="191.2" fill="url(#h2_156)"/>
<rect x="181" y="261.5" width="1" height="191.2" fill="url(#h2_157)"/>
<rect x="182" y="261.5" width="1" height="191.2" fill="url(#h2_158)"/>
<rect x="183" y="261.5" width="1" height="191.2" fill="url(#h2_159)"/>
<rect x="184" y="261.5" width="1" height="191.2" fill="url(#h2_160)"/>
<rect x="185" y="261.5" width="1" height="191.2" fill="url(#h2_161)"/>
<rect x="186" y="261.5" width="1" height="191.2" fill="url(#h2_162)"/>
<rect x="187" y="261.5" width="1" height="191.2" fill="url(#h2_163)"/>
<rect x="188" y="261.5" width="1" height="191.2" fill="url(#h2_164)"/>
<rect x="189" y="261.5" width="1" height="191.2" fill="url(#h2_165)"/>
<rect x="190" y="261.5" width="1" height="191.2" fill="url(#h2_166)"/>
<rect x="191" y="261.5" width="1" height="191.2" fill="url(#h2_167)"/>
<rect x="192" y="261.5" width="1" height="191.2" fill="url(#h2_168)"/>
<rect x="193" y="261.5" width="1" height="191.2" fill="url(#h2_169)"/>
<rect x="194" y="261.5" width="1" height="191.2" fill="url(#h2_170)"/>
<rect x="195" y="261.5" width="1" height="191.2" fill="url(#h2_171)"/>
<rect x="196" y="261.5" width="1" height="191.2" fill="url(#h2_172)"/>
<rect x="197" y="261.5" width="1" height="191.2" fill="url(#h2_173)"/>
<rect x="198" y="261.5" width="1" height="191.2" fill="url(#h2_174)"/>
<rect x="199" y="261.5" width="1" height="191.2" fill="url(#h2_175)"/>
<rect x="200" y="261.5" width="1" height="191.2" fill="url(#h2_176)"/>
<rect x="201" y="261.5" width="1" height="191.2" fill="url(#h2_177)"/>
<rect x="202" y="261.5" width="1" height="191.2" fill="url(#h2_178)"/>
<rect x="203" y="261.5" width="1" height="191.2" fill="url(#h2_179)"/>
<rect x="204" y="261.5" width="1" height="191.2" fill="url(#h2_180)"/>
<rect x="205" y="261.5" width="1" height="191.2" fill="url(#h2_181)"/>
<rect x="206" y="261.5" width="1" height="191.2" fill="url(#h2_182)"/>
<rect x="207" y="261.5" width="1" height="191.2" fill="url(#h2_183)"/>
<rect x="208" y="261.5" width="1" height="191.2" fill="url(#h2_184)"/>
<rect x="209" y="261.5" width="1" height="191.2" fill="url(#h2_185)"/>
<rect x="210" y="261.5" width="1" height="191.2" fill="url(#h2_186)"/>
<rect x="211" y="261.5" width="1" height="191.2" fill="url(#h2_187)"/>
<rect x="212" y="261.5" width="1" height="191.2" fill="url(#h2_188)"/>
<rect x="213" y="261.5" width="1" height="191.2" fill="url(#h2_189)"/>
<rect x="214" y="261.5" width="1" height="191.2" fill="url(#h2_190)"/>
<rect x="215" y="261.5" width="1" height="191.2" fill="url(#h2_191)"/>
<rect x="216" y="261.5" width="1" height="191.2" fill="url(#h2_192)"/>
<rect x="217" y="261.5" width="1" height="191.2" fill="url(#h2_193)"/>
<rect x="218" y="261.5" width="1" height="191.2" fill="url(#h2_194)"/>
<rect x="219" y="261.5" width="1" height="191.2" fill="url(#h2_195)"/>
<rect x="220" y="261.5" width="1" height="191.2" fill="url(#h2_196)"/>
<rect x="221" y="261.5" width="1" height="191.2" fill="url(#h2_197)"/>
<rect x="222" y="261.5" width="1" height="191.2" fill="url(#h2_198)"/>
<rect x="223" y="261.5" width="1" height="191.2" fill="url(#h2_199)"/>
<rect x="224" y="261.5" width="1" height="191.2" fill="url(#h2_200)"/>
<rect x="225" y="261.5" width="1" height="191.2" fill="url(#h2_201)"/>
<rect x="226" y="261.5" width="1" height="191.2" fill="url(#h2_202)"/>
<rect x="227" y="261.5" width="1" height="191.2" fill="url(#h2_203)"/>
<rect x="228" y="261.5" width="1" height="191.2" fill="url(#h2_204)"/>
</g>
<circle cx="109.53" cy="368.92" r="1.6" fill="none" stroke="#f01818" stroke-width="1.3"/>
<text x="41.27" y="461.3" font-size="6.7" text-anchor="middle" fill="#333333">30</text>
<text x="58.33" y="461.3" font-size="6.7" text-anchor="middle" fill="#333333">60</text>
<text x="75.4" y="461.3" font-size="6.7" text-anchor="middle" fill="#333333">90</text>
<text x="92.47" y="461.3" font-size="6.7" text-anchor="middle" fill="#333333">120</text>
<text x="109.53" y="461.3" font-size="6.7" text-anchor="middle" fill="#333333">150</text>
<text x="126.6" y="461.3" font-size="6.7" text-anchor="middle" fill="#333333">180</text>
<text x="143.67" y="461.3" font-size="6.7" text-anchor="middle" fill="#333333">210</text>
<text x="160.73" y="461.3" font-size="6.7" text-anchor="middle" fill="#333333">240</text>
<text x="177.8" y="461.3" font-size="6.7" text-anchor="middle" fill="#333333">270</text>
<text x="194.87" y="461.3" font-size="6.7" text-anchor="middle" fill="#333333">300</text>
<text x="211.93" y="461.3" font-size="6.7" text-anchor="middle" fill="#333333">330</text>
<text x="229" y="461.3" font-size="6.7" text-anchor="middle" fill="#333333">360</text>
<text x="22.2" y="435.08" font-size="6.7" text-anchor="end" fill="#333333">10</text>
<text x="22.2" y="413.59" font-size="6.7" text-anchor="end" fill="#333333">20</text>
<text x="22.2" y="392.11" font-size="6.7" text-anchor="end" fill="#333333">30</text>
<text x="22.2" y="370.63" font-size="6.7" text-anchor="end" fill="#333333">40</text>
<text x="22.2" y="349.14" font-size="6.7" text-anchor="end" fill="#333333">50</text>
<text x="22.2" y="327.66" font-size="6.7" text-anchor="end" fill="#333333">60</text>
<text x="22.2" y="306.18" font-size="6.7" text-anchor="end" fill="#333333">70</text>
<text x="22.2" y="284.69" font-size="6.7" text-anchor="end" fill="#333333">80</text>
<text x="22.2" y="263.21" font-size="6.7" text-anchor="end" fill="#333333">90</text>
<text x="92.6" y="470.1" font-size="7.8" textLength="68.5" lengthAdjust="spacingAndGlyphs" fill="#333333">Azimuth Angle [deg.]</text>
<text transform="translate(11.6 392.3) rotate(-90)" font-size="7.8" textLength="70.5" lengthAdjust="spacingAndGlyphs" fill="#333333">Elevation Angle [deg.]</text>
<linearGradient id="cb2" x1="0" y1="0" x2="0" y2="1"><stop offset="0" stop-color="#f9fb15"/><stop offset="0.03" stop-color="#f6ef20"/><stop offset="0.06" stop-color="#f5e327"/><stop offset="0.09" stop-color="#f9d62d"/><stop offset="0.12" stop-color="#feca33"/><stop offset="0.16" stop-color="#febe3c"/><stop offset="0.19" stop-color="#f1ba37"/><stop offset="0.22" stop-color="#debc2a"/><stop offset="0.25" stop-color="#c8c129"/><stop offset="0.28" stop-color="#afc637"/><stop offset="0.31" stop-color="#94ca4a"/><stop offset="0.34" stop-color="#77cc60"/><stop offset="0.38" stop-color="#5ccc76"/><stop offset="0.41" stop-color="#44ca8a"/><stop offset="0.44" stop-color="#34c79c"/><stop offset="0.47" stop-color="#28c2ab"/><stop offset="0.5" stop-color="#12beb9"/><stop offset="0.53" stop-color="#01b9c6"/><stop offset="0.56" stop-color="#0cb3d3"/><stop offset="0.59" stop-color="#1aacdd"/><stop offset="0.62" stop-color="#21a3e3"/><stop offset="0.66" stop-color="#269ae9"/><stop offset="0.69" stop-color="#2c90f0"/><stop offset="0.72" stop-color="#2e85f8"/><stop offset="0.75" stop-color="#347afd"/><stop offset="0.78" stop-color="#3f6efe"/><stop offset="0.81" stop-color="#4562fc"/><stop offset="0.84" stop-color="#4757f7"/><stop offset="0.88" stop-color="#484cef"/><stop offset="0.91" stop-color="#4741e5"/><stop offset="0.94" stop-color="#4536d5"/><stop offset="0.97" stop-color="#422ebf"/><stop offset="1" stop-color="#3e26a8"/></linearGradient>
<rect x="237.5" y="261.5" width="6.9" height="191.2" fill="url(#cb2)"/>
<rect x="237.5" y="261.5" width="6.9" height="191.2" fill="none" stroke="#262626" stroke-width="0.4" stroke-opacity="0.55"/>
<text x="246.2" y="263.61" font-size="6.7" fill="#333333">1</text>
<path d="M244.4 280.62h-1.2M237.5 280.62h1.2" stroke="#262626" stroke-width="0.4" stroke-opacity="0.7"/>
<text x="246.2" y="282.73" font-size="6.7" fill="#333333">0.8</text>
<path d="M244.4 299.74h-1.2M237.5 299.74h1.2" stroke="#262626" stroke-width="0.4" stroke-opacity="0.7"/>
<text x="246.2" y="301.85" font-size="6.7" fill="#333333">0.6</text>
<path d="M244.4 318.86h-1.2M237.5 318.86h1.2" stroke="#262626" stroke-width="0.4" stroke-opacity="0.7"/>
<text x="246.2" y="320.97" font-size="6.7" fill="#333333">0.4</text>
<path d="M244.4 337.98h-1.2M237.5 337.98h1.2" stroke="#262626" stroke-width="0.4" stroke-opacity="0.7"/>
<text x="246.2" y="340.09" font-size="6.7" fill="#333333">0.2</text>
<path d="M244.4 357.1h-1.2M237.5 357.1h1.2" stroke="#262626" stroke-width="0.4" stroke-opacity="0.7"/>
<text x="246.2" y="359.21" font-size="6.7" fill="#333333">0</text>
<path d="M244.4 376.22h-1.2M237.5 376.22h1.2" stroke="#262626" stroke-width="0.4" stroke-opacity="0.7"/>
<text x="246.2" y="378.33" font-size="6.7" fill="#333333">-0.2</text>
<path d="M244.4 395.34h-1.2M237.5 395.34h1.2" stroke="#262626" stroke-width="0.4" stroke-opacity="0.7"/>
<text x="246.2" y="397.45" font-size="6.7" fill="#333333">-0.4</text>
<path d="M244.4 414.46h-1.2M237.5 414.46h1.2" stroke="#262626" stroke-width="0.4" stroke-opacity="0.7"/>
<text x="246.2" y="416.57" font-size="6.7" fill="#333333">-0.6</text>
<path d="M244.4 433.58h-1.2M237.5 433.58h1.2" stroke="#262626" stroke-width="0.4" stroke-opacity="0.7"/>
<text x="246.2" y="435.69" font-size="6.7" fill="#333333">-0.8</text>
<text x="246.2" y="454.81" font-size="6.7" fill="#333333">-1</text>
<defs>
<linearGradient id="h3_0" x1="0" y1="0" x2="0" y2="1"><stop offset="0" stop-color="#1caadf"/><stop offset="0.07" stop-color="#1baadf"/><stop offset="0.14" stop-color="#19acdc"/><stop offset="0.21" stop-color="#14b0d8"/><stop offset="0.29" stop-color="#04b6cd"/><stop offset="0.36" stop-color="#0bbdbc"/><stop offset="0.43" stop-color="#12beb9"/><stop offset="0.5" stop-color="#12beb9"/><stop offset="0.57" stop-color="#12beb9"/><stop offset="0.64" stop-color="#12beb9"/><stop offset="0.71" stop-color="#12beb9"/><stop offset="0.79" stop-color="#12beb9"/><stop offset="0.86" stop-color="#12beb9"/><stop offset="0.93" stop-color="#12beb9"/><stop offset="1" stop-color="#12beb9"/></linearGradient>
<linearGradient id="h3_1" x1="0" y1="0" x2="0" y2="1"><stop offset="0" stop-color="#1baade"/><stop offset="0.07" stop-color="#1babde"/><stop offset="0.14" stop-color="#19addc"/><stop offset="0.21" stop-color="#13b0d7"/><stop offset="0.29" stop-color="#04b6cd"/><stop offset="0.36" stop-color="#08bcbe"/><stop offset="0.43" stop-color="#0dbdbc"/><stop offset="0.5" stop-color="#0cbdbc"/><stop offset="0.57" stop-color="#0abdbd"/><stop offset="0.64" stop-color="#02bbc3"/><stop offset="0.71" stop-color="#01b8c9"/><stop offset="0.79" stop-color="#01b8c9"/><stop offset="0.86" stop-color="#01b8c8"/><stop offset="0.93" stop-color="#01b8c8"/><stop offset="1" stop-color="#01b8c8"/></linearGradient>
<linearGradient id="h3_2" x1="0" y1="0" x2="0" y2="1"><stop offset="0" stop-color="#1aabde"/><stop offset="0.07" stop-color="#1aacdd"/><stop offset="0.14" stop-color="#17aedb"/><stop offset="0.21" stop-color="#12b1d6"/><stop offset="0.29" stop-color="#05b6cd"/><stop offset="0.36" stop-color="#04bbc2"/><stop offset="0.43" stop-color="#07bcc0"/><stop offset="0.5" stop-color="#04bbc1"/><stop offset="0.57" stop-color="#02bac4"/><stop offset="0.64" stop-color="#05b6ce"/><stop offset="0.71" stop-color="#11b1d6"/><stop offset="0.79" stop-color="#12b1d6"/><stop offset="0.86" stop-color="#11b1d6"/><stop offset="0.93" stop-color="#11b1d6"/><stop offset="1" stop-color="#11b1d6"/></linearGradient>
<linearGradient id="h3_3" x1="0" y1="0" x2="0" y2="1"><stop offset="0" stop-color="#1aacdd"/><stop offset="0.07" stop-color="#19addc"/><stop offset="0.14" stop-color="#16afda"/><stop offset="0.21" stop-color="#11b1d6"/><stop offset="0.29" stop-color="#05b6ce"/><stop offset="0.36" stop-color="#02bac3"/><stop offset="0.43" stop-color="#04bbc2"/><stop offset="0.5" stop-color="#02bac5"/><stop offset="0.57" stop-color="#01b8c9"/><stop offset="0.64" stop-color="#0db3d4"/><stop offset="0.71" stop-color="#18addb"/><stop offset="0.79" stop-color="#19addc"/><stop offset="0.86" stop-color="#18addb"/><stop offset="0.93" stop-color="#18addb"/><stop offset="1" stop-color="#18addb"/></linearGradient>
<linearGradient id="h3_4" x1="0" y1="0" x2="0" y2="1"><stop offset="0" stop-color="#18aedb"/><stop offset="0.07" stop-color="#16aeda"/><stop offset="0.14" stop-color="#14b0d8"/><stop offset="0.21" stop-color="#0fb2d4"/><stop offset="0.29" stop-color="#06b5cf"/><stop offset="0.36" stop-color="#01b9c8"/><stop offset="0.43" stop-color="#01b9c8"/><stop offset="0.5" stop-color="#06b5cf"/><stop offset="0.57" stop-color="#12b1d7"/><stop offset="0.64" stop-color="#1baadf"/><stop offset="0.71" stop-color="#20a4e3"/><stop offset="0.79" stop-color="#21a4e3"/><stop offset="0.86" stop-color="#21a3e3"/><stop offset="0.93" stop-color="#21a3e3"/><stop offset="1" stop-color="#21a3e3"/></linearGradient>
<linearGradient id="h3_5" x1="0" y1="0" x2="0" y2="1"><stop offset="0" stop-color="#13b0d7"/><stop offset="0.07" stop-color="#13b0d7"/><stop offset="0.14" stop-color="#10b2d5"/><stop offset="0.21" stop-color="#0cb3d3"/><stop offset="0.29" stop-color="#08b4d1"/><stop offset="0.36" stop-color="#06b5ce"/><stop offset="0.43" stop-color="#07b5d0"/><stop offset="0.5" stop-color="#14b0d8"/><stop offset="0.57" stop-color="#1ca9df"/><stop offset="0.64" stop-color="#22a1e4"/><stop offset="0.71" stop-color="#269be8"/><stop offset="0.79" stop-color="#2699ea"/><stop offset="0.86" stop-color="#2797ea"/><stop offset="0.93" stop-color="#2797eb"/><stop offset="1" stop-color="#2797eb"/></linearGradient>
<linearGradient id="h3_6" x1="0" y1="0" x2="0" y2="1"><stop offset="0" stop-color="#12beb9"/><stop offset="0.07" stop-color="#08b4d1"/><stop offset="0.14" stop-color="#09b4d1"/><stop offset="0.21" stop-color="#09b4d1"/><stop offset="0.29" stop-color="#0bb4d2"/><stop offset="0.36" stop-color="#0eb3d4"/><stop offset="0.43" stop-color="#13b0d7"/><stop offset="0.5" stop-color="#1babde"/><stop offset="0.57" stop-color="#21a4e3"/><stop offset="0.64" stop-color="#269be8"/><stop offset="0.71" stop-color="#2a93ee"/><stop offset="0.79" stop-color="#2c8ff0"/><stop offset="0.86" stop-color="#2d8df2"/><stop offset="0.93" stop-color="#2d8cf3"/><stop offset="1" stop-color="#2d8cf3"/></linearGradient>
<linearGradient id="h3_7" x1="0" y1="0" x2="0" y2="1"><stop offset="0" stop-color="#1fc0b2"/><stop offset="0.07" stop-color="#03b7cc"/><stop offset="0.14" stop-color="#06b5ce"/><stop offset="0.21" stop-color="#08b5d0"/><stop offset="0.29" stop-color="#0cb3d3"/><stop offset="0.36" stop-color="#11b2d5"/><stop offset="0.43" stop-color="#16aeda"/><stop offset="0.5" stop-color="#1da8e0"/><stop offset="0.57" stop-color="#23a1e4"/><stop offset="0.64" stop-color="#2798ea"/><stop offset="0.71" stop-color="#2c90f0"/><stop offset="0.79" stop-color="#2d8cf3"/><stop offset="0.86" stop-color="#2d89f5"/><stop offset="0.93" stop-color="#2d88f6"/><stop offset="1" stop-color="#2d88f6"/></linearGradient>
<linearGradient id="h3_8" x1="0" y1="0" x2="0" y2="1"><stop offset="0" stop-color="#2dc4a5"/><stop offset="0.07" stop-color="#05bbc1"/><stop offset="0.14" stop-color="#01b8c9"/><stop offset="0.21" stop-color="#05b6ce"/><stop offset="0.29" stop-color="#0db3d3"/><stop offset="0.36" stop-color="#14b0d8"/><stop offset="0.43" stop-color="#1aabdd"/><stop offset="0.5" stop-color="#20a4e3"/><stop offset="0.57" stop-color="#259de7"/><stop offset="0.64" stop-color="#2994ed"/><stop offset="0.71" stop-color="#2d8cf3"/><stop offset="0.79" stop-color="#2d88f6"/><stop offset="0.86" stop-color="#2e84f8"/><stop offset="0.93" stop-color="#2e83f9"/><stop offset="1" stop-color="#2e83f9"/></linearGradient>
<linearGradient id="h3_9" x1="0" y1="0" x2="0" y2="1"><stop offset="0" stop-color="#35c79b"/><stop offset="0.07" stop-color="#15bfb8"/><stop offset="0.14" stop-color="#02bac4"/><stop offset="0.21" stop-color="#03b7cc"/><stop offset="0.29" stop-color="#0db3d4"/><stop offset="0.36" stop-color="#16aeda"/><stop offset="0.43" stop-color="#1da9e0"/><stop offset="0.5" stop-color="#22a2e4"/><stop offset="0.57" stop-color="#269ae8"/><stop offset="0.64" stop-color="#2b91ef"/><stop offset="0.71" stop-color="#2d89f5"/><stop offset="0.79" stop-color="#2e84f8"/><stop offset="0.86" stop-color="#3080fa"/><stop offset="0.93" stop-color="#307ffb"/><stop offset="1" stop-color="#307ffb"/></linearGradient>
<linearGradient id="h3_10" x1="0" y1="0" x2="0" y2="1"><stop offset="0" stop-color="#3bc992"/><stop offset="0.07" stop-color="#24c2ae"/><stop offset="0.14" stop-color="#0abdbe"/><stop offset="0.21" stop-color="#01b8ca"/><stop offset="0.29" stop-color="#0db3d4"/><stop offset="0.36" stop-color="#18addb"/><stop offset="0.43" stop-color="#1ea7e1"/><stop offset="0.5" stop-color="#23a0e5"/><stop offset="0.57" stop-color="#2798ea"/><stop offset="0.64" stop-color="#2c8ff0"/><stop offset="0.71" stop-color="#2e87f7"/><stop offset="0.79" stop-color="#2f81fa"/><stop offset="0.86" stop-color="#317dfc"/><stop offset="0.93" stop-color="#327bfc"/><stop offset="1" stop-color="#327bfc"/></linearGradient>
<linearGradient id="h3_11" x1="0" y1="0" x2="0" y2="1"><stop offset="0" stop-color="#3fca8e"/><stop offset="0.07" stop-color="#2ac3a9"/><stop offset="0.14" stop-color="#0fbeba"/><stop offset="0.21" stop-color="#01b8c8"/><stop offset="0.29" stop-color="#0db3d3"/><stop offset="0.36" stop-color="#19addc"/><stop offset="0.43" stop-color="#1fa6e2"/><stop offset="0.5" stop-color="#249fe6"/><stop offset="0.57" stop-color="#2797ea"/><stop offset="0.64" stop-color="#2c8ef1"/><stop offset="0.71" stop-color="#2e86f7"/><stop offset="0.79" stop-color="#2f80fa"/><stop offset="0.86" stop-color="#327cfc"/><stop offset="0.93" stop-color="#337afd"/><stop offset="1" stop-color="#337afd"/></linearGradient>
<linearGradient id="h3_12" x1="0" y1="0" x2="0" y2="1"><stop offset="0" stop-color="#48cb86"/><stop offset="0.07" stop-color="#32c69f"/><stop offset="0.14" stop-color="#1dc0b3"/><stop offset="0.21" stop-color="#02bac4"/><stop offset="0.29" stop-color="#0bb3d2"/><stop offset="0.36" stop-color="#1aacdd"/><stop offset="0.43" stop-color="#20a4e3"/><stop offset="0.5" stop-color="#249de7"/><stop offset="0.57" stop-color="#2896ec"/><stop offset="0.64" stop-color="#2d8df2"/><stop offset="0.71" stop-color="#2e85f8"/><stop offset="0.79" stop-color="#3080fb"/><stop offset="0.86" stop-color="#327cfc"/><stop offset="0.93" stop-color="#347afd"/><stop offset="1" stop-color="#347afd"/></linearGradient>
<linearGradient id="h3_13" x1="0" y1="0" x2="0" y2="1"><stop offset="0" stop-color="#51cc7f"/><stop offset="0.07" stop-color="#3ac994"/><stop offset="0.14" stop-color="#28c2ab"/><stop offset="0.21" stop-color="#07bcbf"/><stop offset="0.29" stop-color="#08b4d0"/><stop offset="0.36" stop-color="#1aabdd"/><stop offset="0.43" stop-color="#21a3e4"/><stop offset="0.5" stop-color="#259ce7"/><stop offset="0.57" stop-color="#2994ed"/><stop offset="0.64" stop-color="#2d8cf3"/><stop offset="0.71" stop-color="#2e84f8"/><stop offset="0.79" stop-color="#3080fb"/><stop offset="0.86" stop-color="#327cfc"/><stop offset="0.93" stop-color="#347afd"/><stop offset="1" stop-color="#347afd"/></linearGradient>
<linearGradient id="h3_14" x1="0" y1="0" x2="0" y2="1"><stop offset="0" stop-color="#58cc79"/><stop offset="0.07" stop-color="#43ca8b"/><stop offset="0.14" stop-color="#2fc5a3"/><stop offset="0.21" stop-color="#11beb9"/><stop offset="0.29" stop-color="#05b6ce"/><stop offset="0.36" stop-color="#1babde"/><stop offset="0.43" stop-color="#22a1e4"/><stop offset="0.5" stop-color="#269ae8"/><stop offset="0.57" stop-color="#2a93ed"/><stop offset="0.64" stop-color="#2d8bf3"/><stop offset="0.71" stop-color="#2e85f8"/><stop offset="0.79" stop-color="#3080fb"/><stop offset="0.86" stop-color="#327cfc"/><stop offset="0.93" stop-color="#347afd"/><stop offset="1" stop-color="#347afd"/></linearGradient>
<linearGradient id="h3_15" x1="0" y1="0" x2="0" y2="1"><stop offset="0" stop-color="#5bcc76"/><stop offset="0.07" stop-color="#47cb87"/><stop offset="0.14" stop-color="#32c69f"/><stop offset="0.21" stop-color="#18bfb6"/><stop offset="0.29" stop-color="#03b7cc"/><stop offset="0.36" stop-color="#1baade"/><stop offset="0.43" stop-color="#23a1e5"/><stop offset="0.5" stop-color="#2699e9"/><stop offset="0.57" stop-color="#2a93ee"/><stop offset="0.64" stop-color="#2d8bf3"/><stop offset="0.71" stop-color="#2e85f8"/><stop offset="0.79" stop-color="#3080fa"/><stop offset="0.86" stop-color="#327cfc"/><stop offset="0.93" stop-color="#347afd"/><stop offset="1" stop-color="#347afd"/></linearGradient>
<linearGradient id="h3_16" x1="0" y1="0" x2="0" y2="1"><stop offset="0" stop-color="#62cd70"/><stop offset="0.07" stop-color="#50cc80"/><stop offset="0.14" stop-color="#38c896"/><stop offset="0.21" stop-color="#25c2ad"/><stop offset="0.29" stop-color="#01b9c7"/><stop offset="0.36" stop-color="#1baade"/><stop offset="0.43" stop-color="#239fe5"/><stop offset="0.5" stop-color="#2698ea"/><stop offset="0.57" stop-color="#2b92ee"/><stop offset="0.64" stop-color="#2d8bf3"/><stop offset="0.71" stop-color="#2e86f8"/><stop offset="0.79" stop-color="#2f81fa"/><stop offset="0.86" stop-color="#327cfc"/><stop offset="0.93" stop-color="#337bfd"/><stop offset="1" stop-color="#337bfd"/></linearGradient>
<linearGradient id="h3_17" x1="0" y1="0" x2="0" y2="1"><stop offset="0" stop-color="#6bcd69"/><stop offset="0.07" stop-color="#57cc7a"/><stop offset="0.14" stop-color="#3fca8e"/><stop offset="0.21" stop-color="#2fc5a3"/><stop offset="0.29" stop-color="#06bcc0"/><stop offset="0.36" stop-color="#1babde"/><stop offset="0.43" stop-color="#249fe6"/><stop offset="0.5" stop-color="#2798ea"/><stop offset="0.57" stop-color="#2b92ef"/><stop offset="0.64" stop-color="#2d8cf3"/><stop offset="0.71" stop-color="#2e86f7"/><stop offset="0.79" stop-color="#2f82f9"/><stop offset="0.86" stop-color="#317efb"/><stop offset="0.93" stop-color="#327cfc"/><stop offset="1" stop-color="#327cfc"/></linearGradient>
<linearGradient id="h3_18" x1="0" y1="0" x2="0" y2="1"><stop offset="0" stop-color="#78cc5f"/><stop offset="0.07" stop-color="#5dcc75"/><stop offset="0.14" stop-color="#48cb87"/><stop offset="0.21" stop-color="#35c79a"/><stop offset="0.29" stop-color="#0fbebb"/><stop offset="0.36" stop-color="#1aabdd"/><stop offset="0.43" stop-color="#249ee6"/><stop offset="0.5" stop-color="#2797eb"/><stop offset="0.57" stop-color="#2b91ef"/><stop offset="0.64" stop-color="#2d8cf3"/><stop offset="0.71" stop-color="#2d88f6"/><stop offset="0.79" stop-color="#2e84f9"/><stop offset="0.86" stop-color="#2f80fa"/><stop offset="0.93" stop-color="#307ffb"/><stop offset="1" stop-color="#307ffb"/></linearGradient>
<linearGradient id="h3_19" x1="0" y1="0" x2="0" y2="1"><stop offset="0" stop-color="#81cc58"/><stop offset="0.07" stop-color="#61cd72"/><stop offset="0.14" stop-color="#4bcb84"/><stop offset="0.21" stop-color="#37c897"/><stop offset="0.29" stop-color="#12beb9"/><stop offset="0.36" stop-color="#1aabdd"/><stop offset="0.43" stop-color="#249ee6"/><stop offset="0.5" stop-color="#2797eb"/><stop offset="0.57" stop-color="#2b92ef"/><stop offset="0.64" stop-color="#2d8cf3"/><stop offset="0.71" stop-color="#2d88f6"/><stop offset="0.79" stop-color="#2e85f8"/><stop offset="0.86" stop-color="#2f81fa"/><stop offset="0.93" stop-color="#2f80fa"/><stop offset="1" stop-color="#2f80fa"/></linearGradient>
<linearGradient id="h3_20" x1="0" y1="0" x2="0" y2="1"><stop offset="0" stop-color="#96ca48"/><stop offset="0.07" stop-color="#6acd6a"/><stop offset="0.14" stop-color="#52cc7e"/><stop offset="0.21" stop-color="#3cc991"/><stop offset="0.29" stop-color="#18bfb6"/><stop offset="0.36" stop-color="#19acdc"/><stop offset="0.43" stop-color="#249fe6"/><stop offset="0.5" stop-color="#2797eb"/><stop offset="0.57" stop-color="#2b92ee"/><stop offset="0.64" stop-color="#2d8df2"/><stop offset="0.71" stop-color="#2d89f5"/><stop offset="0.79" stop-color="#2e87f7"/><stop offset="0.86" stop-color="#2e84f8"/><stop offset="0.93" stop-color="#2e83f9"/><stop offset="1" stop-color="#2e83f9"/></linearGradient>
<linearGradient id="h3_21" x1="0" y1="0" x2="0" y2="1"><stop offset="0" stop-color="#abc739"/><stop offset="0.07" stop-color="#79cc5e"/><stop offset="0.14" stop-color="#5ccc76"/><stop offset="0.21" stop-color="#41ca8c"/><stop offset="0.29" stop-color="#1cc0b4"/><stop offset="0.36" stop-color="#19addc"/><stop offset="0.43" stop-color="#249fe5"/><stop offset="0.5" stop-color="#2797ea"/><stop offset="0.57" stop-color="#2b92ee"/><stop offset="0.64" stop-color="#2c8ef1"/><stop offset="0.71" stop-color="#2d8bf4"/><stop offset="0.79" stop-color="#2d89f6"/><stop offset="0.86" stop-color="#2e87f7"/><stop offset="0.93" stop-color="#2e86f7"/><stop offset="1" stop-color="#2e86f7"/></linearGradient>
<linearGradient id="h3_22" x1="0" y1="0" x2="0" y2="1"><stop offset="0" stop-color="#bec32e"/><stop offset="0.07" stop-color="#8dcb50"/><stop offset="0.14" stop-color="#69cd6b"/><stop offset="0.21" stop-color="#46cb87"/><stop offset="0.29" stop-color="#1fc0b2"/><stop offset="0.36" stop-color="#17aeda"/><stop offset="0.43" stop-color="#23a0e5"/><stop offset="0.5" stop-color="#2798ea"/><stop offset="0.57" stop-color="#2a92ee"/><stop offset="0.64" stop-color="#2c8ff1"/><stop offset="0.71" stop-color="#2d8df3"/><stop offset="0.79" stop-color="#2d8bf4"/><stop offset="0.86" stop-color="#2d89f5"/><stop offset="0.93" stop-color="#2d89f5"/><stop offset="1" stop-color="#2d89f5"/></linearGradient>
<linearGradient id="h3_23" x1="0" y1="0" x2="0" y2="1"><stop offset="0" stop-color="#c7c12a"/><stop offset="0.07" stop-color="#97ca48"/><stop offset="0.14" stop-color="#70cd65"/><stop offset="0.21" stop-color="#49cb85"/><stop offset="0.29" stop-color="#20c1b1"/><stop offset="0.36" stop-color="#16afda"/><stop offset="0.43" stop-color="#23a1e5"/><stop offset="0.5" stop-color="#2798ea"/><stop offset="0.57" stop-color="#2a93ee"/><stop offset="0.64" stop-color="#2c90f0"/><stop offset="0.71" stop-color="#2c8ef1"/><stop offset="0.79" stop-color="#2d8cf3"/><stop offset="0.86" stop-color="#2d8bf4"/><stop offset="0.93" stop-color="#2d8bf4"/><stop offset="1" stop-color="#2d8bf4"/></linearGradient>
<linearGradient id="h3_24" x1="0" y1="0" x2="0" y2="1"><stop offset="0" stop-color="#d8be28"/><stop offset="0.07" stop-color="#aac739"/><stop offset="0.14" stop-color="#7ecc5b"/><stop offset="0.21" stop-color="#4fcc81"/><stop offset="0.29" stop-color="#23c1af"/><stop offset="0.36" stop-color="#14b0d8"/><stop offset="0.43" stop-color="#22a1e4"/><stop offset="0.5" stop-color="#2798ea"/><stop offset="0.57" stop-color="#2994ed"/><stop offset="0.64" stop-color="#2a93ee"/><stop offset="0.71" stop-color="#2a92ee"/><stop offset="0.79" stop-color="#2b91ef"/><stop offset="0.86" stop-color="#2c8ff0"/><stop offset="0.93" stop-color="#2c8ef1"/><stop offset="1" stop-color="#2c8ef1"/></linearGradient>
<linearGradient id="h3_25" x1="0" y1="0" x2="0" y2="1"><stop offset="0" stop-color="#e4bb2c"/><stop offset="0.07" stop-color="#bec32e"/><stop offset="0.14" stop-color="#8dcb4f"/><stop offset="0.21" stop-color="#55cc7c"/><stop offset="0.29" stop-color="#25c2ad"/><stop offset="0.36" stop-color="#12b1d6"/><stop offset="0.43" stop-color="#21a3e4"/><stop offset="0.5" stop-color="#2798ea"/><stop offset="0.57" stop-color="#2994ed"/><stop offset="0.64" stop-color="#2895ec"/><stop offset="0.71" stop-color="#2896eb"/><stop offset="0.79" stop-color="#2895ec"/><stop offset="0.86" stop-color="#2a93ee"/><stop offset="0.93" stop-color="#2b91ef"/><stop offset="1" stop-color="#2b91ef"/></linearGradient>
<linearGradient id="h3_26" x1="0" y1="0" x2="0" y2="1"><stop offset="0" stop-color="#ecba32"/><stop offset="0.07" stop-color="#d1bf27"/><stop offset="0.14" stop-color="#9ec942"/><stop offset="0.21" stop-color="#5ccc76"/><stop offset="0.29" stop-color="#28c3aa"/><stop offset="0.36" stop-color="#0eb2d4"/><stop offset="0.43" stop-color="#20a4e3"/><stop offset="0.5" stop-color="#2699e9"/><stop offset="0.57" stop-color="#2895ec"/><stop offset="0.64" stop-color="#2796eb"/><stop offset="0.71" stop-color="#2797ea"/><stop offset="0.79" stop-color="#2797eb"/><stop offset="0.86" stop-color="#2994ed"/><stop offset="0.93" stop-color="#2a93ee"/><stop offset="1" stop-color="#2a93ee"/></linearGradient>
<linearGradient id="h3_27" x1="0" y1="0" x2="0" y2="1"><stop offset="0" stop-color="#efba35"/><stop offset="0.07" stop-color="#d8be28"/><stop offset="0.14" stop-color="#a6c83d"/><stop offset="0.21" stop-color="#5fcd73"/><stop offset="0.29" stop-color="#2ac3a9"/><stop offset="0.36" stop-color="#0cb3d3"/><stop offset="0.43" stop-color="#20a5e2"/><stop offset="0.5" stop-color="#269ae9"/><stop offset="0.57" stop-color="#2895ec"/><stop offset="0.64" stop-color="#2797eb"/><stop offset="0.71" stop-color="#2798ea"/><stop offset="0.79" stop-color="#2797eb"/><stop offset="0.86" stop-color="#2994ed"/><stop offset="0.93" stop-color="#2a93ed"/><stop offset="1" stop-color="#2a93ed"/></linearGradient>
<linearGradient id="h3_28" x1="0" y1="0" x2="0" y2="1"><stop offset="0" stop-color="#f4ba3a"/><stop offset="0.07" stop-color="#e3bc2c"/><stop offset="0.14" stop-color="#b1c635"/><stop offset="0.21" stop-color="#65cd6e"/><stop offset="0.29" stop-color="#2dc4a6"/><stop offset="0.36" stop-color="#07b5d0"/><stop offset="0.43" stop-color="#1ea7e1"/><stop offset="0.5" stop-color="#259be8"/><stop offset="0.57" stop-color="#2796eb"/><stop offset="0.64" stop-color="#2797ea"/><stop offset="0.71" stop-color="#2699ea"/><stop offset="0.79" stop-color="#2798ea"/><stop offset="0.86" stop-color="#2895ec"/><stop offset="0.93" stop-color="#2994ed"/><stop offset="1" stop-color="#2994ed"/></linearGradient>
<linearGradient id="h3_29" x1="0" y1="0" x2="0" y2="1"><stop offset="0" stop-color="#f8ba3d"/><stop offset="0.07" stop-color="#eaba31"/><stop offset="0.14" stop-color="#bac430"/><stop offset="0.21" stop-color="#6bcd69"/><stop offset="0.29" stop-color="#30c5a2"/><stop offset="0.36" stop-color="#03b7cc"/><stop offset="0.43" stop-color="#1da9e0"/><stop offset="0.5" stop-color="#259ce7"/><stop offset="0.57" stop-color="#2797ea"/><stop offset="0.64" stop-color="#2798ea"/><stop offset="0.71" stop-color="#2699e9"/><stop offset="0.79" stop-color="#2798ea"/><stop offset="0.86" stop-color="#2896ec"/><stop offset="0.93" stop-color="#2994ed"/><stop offset="1" stop-color="#2994ed"/></linearGradient>
<linearGradient id="h3_30" x1="0" y1="0" x2="0" y2="1"><stop offset="0" stop-color="#fabb3d"/><stop offset="0.07" stop-color="#f0ba36"/><stop offset="0.14" stop-color="#c3c22b"/><stop offset="0.21" stop-color="#72cd63"/><stop offset="0.29" stop-color="#33c69e"/><stop offset="0.36" stop-color="#01b8c8"/><stop offset="0.43" stop-color="#1babde"/><stop offset="0.5" stop-color="#249de6"/><stop offset="0.57" stop-color="#2698ea"/><stop offset="0.64" stop-color="#2699e9"/><stop offset="0.71" stop-color="#269ae9"/><stop offset="0.79" stop-color="#2699ea"/><stop offset="0.86" stop-color="#2896eb"/><stop offset="0.93" stop-color="#2995ec"/><stop offset="1" stop-color="#2995ec"/></linearGradient>
<linearGradient id="h3_31" x1="0" y1="0" x2="0" y2="1"><stop offset="0" stop-color="#fabb3d"/><stop offset="0.07" stop-color="#f3ba38"/><stop offset="0.14" stop-color="#c6c22a"/><stop offset="0.21" stop-color="#76cc61"/><stop offset="0.29" stop-color="#34c79b"/><stop offset="0.36" stop-color="#01b9c6"/><stop offset="0.43" stop-color="#1aacdd"/><stop offset="0.5" stop-color="#249ee6"/><stop offset="0.57" stop-color="#2699e9"/><stop offset="0.64" stop-color="#2699e9"/><stop offset="0.71" stop-color="#269ae9"/><stop offset="0.79" stop-color="#2699e9"/><stop offset="0.86" stop-color="#2796eb"/><stop offset="0.93" stop-color="#2895ec"/><stop offset="1" stop-color="#2895ec"/></linearGradient>
<linearGradient id="h3_32" x1="0" y1="0" x2="0" y2="1"><stop offset="0" stop-color="#fbbc3d"/><stop offset="0.07" stop-color="#f7ba3c"/><stop offset="0.14" stop-color="#cdc028"/><stop offset="0.21" stop-color="#7dcc5b"/><stop offset="0.29" stop-color="#38c896"/><stop offset="0.36" stop-color="#06bbc1"/><stop offset="0.43" stop-color="#16afd9"/><stop offset="0.5" stop-color="#23a0e5"/><stop offset="0.57" stop-color="#269ae8"/><stop offset="0.64" stop-color="#269ae8"/><stop offset="0.71" stop-color="#269ae8"/><stop offset="0.79" stop-color="#2699e9"/><stop offset="0.86" stop-color="#2797eb"/><stop offset="0.93" stop-color="#2895ec"/><stop offset="1" stop-color="#2895ec"/></linearGradient>
<linearGradient id="h3_33" x1="0" y1="0" x2="0" y2="1"><stop offset="0" stop-color="#fcbd3d"/><stop offset="0.07" stop-color="#f9ba3d"/><stop offset="0.14" stop-color="#d2bf27"/><stop offset="0.21" stop-color="#85cb55"/><stop offset="0.29" stop-color="#3eca8f"/><stop offset="0.36" stop-color="#0fbebb"/><stop offset="0.43" stop-color="#11b1d6"/><stop offset="0.5" stop-color="#22a2e4"/><stop offset="0.57" stop-color="#259be7"/><stop offset="0.64" stop-color="#259be8"/><stop offset="0.71" stop-color="#269ae8"/><stop offset="0.79" stop-color="#2699e9"/><stop offset="0.86" stop-color="#2797eb"/><stop offset="0.93" stop-color="#2896ec"/><stop offset="1" stop-color="#2896ec"/></linearGradient>
<linearGradient id="h3_34" x1="0" y1="0" x2="0" y2="1"><stop offset="0" stop-color="#fdbd3d"/><stop offset="0.07" stop-color="#fabb3d"/><stop offset="0.14" stop-color="#d6be28"/><stop offset="0.21" stop-color="#8fcb4e"/><stop offset="0.29" stop-color="#46cb87"/><stop offset="0.36" stop-color="#1abfb5"/><stop offset="0.43" stop-color="#09b4d1"/><stop offset="0.5" stop-color="#1fa6e1"/><stop offset="0.57" stop-color="#249ee6"/><stop offset="0.64" stop-color="#259ce7"/><stop offset="0.71" stop-color="#259be8"/><stop offset="0.79" stop-color="#2699e9"/><stop offset="0.86" stop-color="#2797eb"/><stop offset="0.93" stop-color="#2896eb"/><stop offset="1" stop-color="#2896eb"/></linearGradient>
<linearGradient id="h3_35" x1="0" y1="0" x2="0" y2="1"><stop offset="0" stop-color="#febf3c"/><stop offset="0.07" stop-color="#fbbc3d"/><stop offset="0.14" stop-color="#dbbd28"/><stop offset="0.21" stop-color="#9bc945"/><stop offset="0.29" stop-color="#51cc7f"/><stop offset="0.36" stop-color="#22c1b0"/><stop offset="0.43" stop-color="#03b7cb"/><stop offset="0.5" stop-color="#1aacdd"/><stop offset="0.57" stop-color="#21a3e3"/><stop offset="0.64" stop-color="#249ee6"/><stop offset="0.71" stop-color="#259be8"/><stop offset="0.79" stop-color="#2699e9"/><stop offset="0.86" stop-color="#2797eb"/><stop offset="0.93" stop-color="#2796eb"/><stop offset="1" stop-color="#2796eb"/></linearGradient>
<linearGradient id="h3_36" x1="0" y1="0" x2="0" y2="1"><stop offset="0" stop-color="#fec03b"/><stop offset="0.07" stop-color="#fbbc3d"/><stop offset="0.14" stop-color="#ddbd29"/><stop offset="0.21" stop-color="#a1c840"/><stop offset="0.29" stop-color="#56cc7b"/><stop offset="0.36" stop-color="#25c2ae"/><stop offset="0.43" stop-color="#01b8c9"/><stop offset="0.5" stop-color="#17aeda"/><stop offset="0.57" stop-color="#1fa6e2"/><stop offset="0.64" stop-color="#23a0e5"/><stop offset="0.71" stop-color="#259be7"/><stop offset="0.79" stop-color="#2699e9"/><stop offset="0.86" stop-color="#2797eb"/><stop offset="0.93" stop-color="#2796eb"/><stop offset="1" stop-color="#2796eb"/></linearGradient>
<linearGradient id="h3_37" x1="0" y1="0" x2="0" y2="1"><stop offset="0" stop-color="#fec338"/><stop offset="0.07" stop-color="#fcbc3d"/><stop offset="0.14" stop-color="#e1bc2b"/><stop offset="0.21" stop-color="#adc638"/><stop offset="0.29" stop-color="#60cd72"/><stop offset="0.36" stop-color="#29c3aa"/><stop offset="0.43" stop-color="#01bac5"/><stop offset="0.5" stop-color="#12b1d6"/><stop offset="0.57" stop-color="#1da9e0"/><stop offset="0.64" stop-color="#22a1e4"/><stop offset="0.71" stop-color="#259ce7"/><stop offset="0.79" stop-color="#2699e9"/><stop offset="0.86" stop-color="#2798ea"/><stop offset="0.93" stop-color="#2797eb"/><stop offset="1" stop-color="#2797eb"/></linearGradient>
<linearGradient id="h3_38" x1="0" y1="0" x2="0" y2="1"><stop offset="0" stop-color="#fdcb33"/><stop offset="0.07" stop-color="#fcbd3d"/><stop offset="0.14" stop-color="#e3bc2c"/><stop offset="0.21" stop-color="#b8c531"/><stop offset="0.29" stop-color="#6bcd69"/><stop offset="0.36" stop-color="#2dc4a5"/><stop offset="0.43" stop-color="#04bbc2"/><stop offset="0.5" stop-color="#0db3d3"/><stop offset="0.57" stop-color="#1babde"/><stop offset="0.64" stop-color="#22a2e4"/><stop offset="0.71" stop-color="#259ce7"/><stop offset="0.79" stop-color="#269ae9"/><stop offset="0.86" stop-color="#2798ea"/><stop offset="0.93" stop-color="#2798ea"/><stop offset="1" stop-color="#2798ea"/></linearGradient>
<linearGradient id="h3_39" x1="0" y1="0" x2="0" y2="1"><stop offset="0" stop-color="#fad42e"/><stop offset="0.07" stop-color="#febf3c"/><stop offset="0.14" stop-color="#e7bb2e"/><stop offset="0.21" stop-color="#c0c32d"/><stop offset="0.29" stop-color="#75cc61"/><stop offset="0.36" stop-color="#30c5a1"/><stop offset="0.43" stop-color="#08bcbf"/><stop offset="0.5" stop-color="#0ab4d1"/><stop offset="0.57" stop-color="#1aacdd"/><stop offset="0.64" stop-color="#21a3e4"/><stop offset="0.71" stop-color="#259ce7"/><stop offset="0.79" stop-color="#269ae9"/><stop offset="0.86" stop-color="#2699ea"/><stop offset="0.93" stop-color="#2798ea"/><stop offset="1" stop-color="#2798ea"/></linearGradient>
<linearGradient id="h3_40" x1="0" y1="0" x2="0" y2="1"><stop offset="0" stop-color="#f8d82c"/><stop offset="0.07" stop-color="#fec239"/><stop offset="0.14" stop-color="#ebba32"/><stop offset="0.21" stop-color="#c5c22a"/><stop offset="0.29" stop-color="#79cc5e"/><stop offset="0.36" stop-color="#32c69e"/><stop offset="0.43" stop-color="#0abdbd"/><stop offset="0.5" stop-color="#08b4d0"/><stop offset="0.57" stop-color="#1aacdd"/><stop offset="0.64" stop-color="#21a3e3"/><stop offset="0.71" stop-color="#259ce7"/><stop offset="0.79" stop-color="#269ae8"/><stop offset="0.86" stop-color="#2699e9"/><stop offset="0.93" stop-color="#2798ea"/><stop offset="1" stop-color="#2798ea"/></linearGradient>
<linearGradient id="h3_41" x1="0" y1="0" x2="0" y2="1"><stop offset="0" stop-color="#f5e128"/><stop offset="0.07" stop-color="#fdcb33"/><stop offset="0.14" stop-color="#f5ba3a"/><stop offset="0.21" stop-color="#ccc028"/><stop offset="0.29" stop-color="#82cc57"/><stop offset="0.36" stop-color="#37c897"/><stop offset="0.43" stop-color="#13beb8"/><stop offset="0.5" stop-color="#05b6ce"/><stop offset="0.57" stop-color="#19addc"/><stop offset="0.64" stop-color="#21a4e3"/><stop offset="0.71" stop-color="#259de7"/><stop offset="0.79" stop-color="#269be8"/><stop offset="0.86" stop-color="#2699e9"/><stop offset="0.93" stop-color="#2699e9"/><stop offset="1" stop-color="#2699e9"/></linearGradient>
<linearGradient id="h3_42" x1="0" y1="0" x2="0" y2="1"><stop offset="0" stop-color="#f5e825"/><stop offset="0.07" stop-color="#fbd32e"/><stop offset="0.14" stop-color="#fcbc3d"/><stop offset="0.21" stop-color="#d4bf27"/><stop offset="0.29" stop-color="#8dcb4f"/><stop offset="0.36" stop-color="#40ca8d"/><stop offset="0.43" stop-color="#20c1b1"/><stop offset="0.5" stop-color="#01b8ca"/><stop offset="0.57" stop-color="#17aeda"/><stop offset="0.64" stop-color="#20a5e3"/><stop offset="0.71" stop-color="#249ee6"/><stop offset="0.79" stop-color="#259be8"/><stop offset="0.86" stop-color="#269ae9"/><stop offset="0.93" stop-color="#2699e9"/><stop offset="1" stop-color="#2699e9"/></linearGradient>
<linearGradient id="h3_43" x1="0" y1="0" x2="0" y2="1"><stop offset="0" stop-color="#f5ec22"/><stop offset="0.07" stop-color="#f6dd29"/><stop offset="0.14" stop-color="#fec338"/><stop offset="0.21" stop-color="#dcbd29"/><stop offset="0.29" stop-color="#9ac945"/><stop offset="0.36" stop-color="#4fcc81"/><stop offset="0.43" stop-color="#2ac3a8"/><stop offset="0.5" stop-color="#02bac4"/><stop offset="0.57" stop-color="#13b0d7"/><stop offset="0.64" stop-color="#1fa6e2"/><stop offset="0.71" stop-color="#249ee6"/><stop offset="0.79" stop-color="#259ce7"/><stop offset="0.86" stop-color="#269ae8"/><stop offset="0.93" stop-color="#269ae9"/><stop offset="1" stop-color="#269ae9"/></linearGradient>
<linearGradient id="h3_44" x1="0" y1="0" x2="0" y2="1"><stop offset="0" stop-color="#f5ee21"/><stop offset="0.07" stop-color="#f5e228"/><stop offset="0.14" stop-color="#fec735"/><stop offset="0.21" stop-color="#e1bc2b"/><stop offset="0.29" stop-color="#a1c840"/><stop offset="0.36" stop-color="#56cc7b"/><stop offset="0.43" stop-color="#2ec5a3"/><stop offset="0.5" stop-color="#07bcc0"/><stop offset="0.57" stop-color="#0eb3d4"/><stop offset="0.64" stop-color="#1ea8e1"/><stop offset="0.71" stop-color="#249fe5"/><stop offset="0.79" stop-color="#259ce7"/><stop offset="0.86" stop-color="#259be8"/><stop offset="0.93" stop-color="#269ae8"/><stop offset="1" stop-color="#269ae8"/></linearGradient>
<linearGradient id="h3_45" x1="0" y1="0" x2="0" y2="1"><stop offset="0" stop-color="#f6f11f"/><stop offset="0.07" stop-color="#f5e725"/><stop offset="0.14" stop-color="#fdcd32"/><stop offset="0.21" stop-color="#eabb30"/><stop offset="0.29" stop-color="#afc637"/><stop offset="0.36" stop-color="#64cd6f"/><stop offset="0.43" stop-color="#36c799"/><stop offset="0.5" stop-color="#1ac0b4"/><stop offset="0.57" stop-color="#01b8ca"/><stop offset="0.64" stop-color="#1aacdd"/><stop offset="0.71" stop-color="#23a1e4"/><stop offset="0.79" stop-color="#249ee6"/><stop offset="0.86" stop-color="#259ce7"/><stop offset="0.93" stop-color="#259be8"/><stop offset="1" stop-color="#259be8"/></linearGradient>
<linearGradient id="h3_46" x1="0" y1="0" x2="0" y2="1"><stop offset="0" stop-color="#f7f31d"/><stop offset="0.07" stop-color="#f5eb23"/><stop offset="0.14" stop-color="#fbd12f"/><stop offset="0.21" stop-color="#f0ba36"/><stop offset="0.29" stop-color="#bac430"/><stop offset="0.36" stop-color="#71cd64"/><stop offset="0.43" stop-color="#3eca8f"/><stop offset="0.5" stop-color="#2ac3a9"/><stop offset="0.57" stop-color="#09bcbe"/><stop offset="0.64" stop-color="#0fb2d5"/><stop offset="0.71" stop-color="#1ea7e1"/><stop offset="0.79" stop-color="#22a1e4"/><stop offset="0.86" stop-color="#249de6"/><stop offset="0.93" stop-color="#259ce7"/><stop offset="1" stop-color="#259ce7"/></linearGradient>
<linearGradient id="h3_47" x1="0" y1="0" x2="0" y2="1"><stop offset="0" stop-color="#f7f51b"/><stop offset="0.07" stop-color="#f5ee21"/><stop offset="0.14" stop-color="#fad52e"/><stop offset="0.21" stop-color="#f5ba3a"/><stop offset="0.29" stop-color="#c2c22c"/><stop offset="0.36" stop-color="#7ecc5b"/><stop offset="0.43" stop-color="#4ccb83"/><stop offset="0.5" stop-color="#34c79c"/><stop offset="0.57" stop-color="#1ec0b2"/><stop offset="0.64" stop-color="#02b7cb"/><stop offset="0.71" stop-color="#1aacdd"/><stop offset="0.79" stop-color="#20a5e3"/><stop offset="0.86" stop-color="#249fe5"/><stop offset="0.93" stop-color="#249de6"/><stop offset="1" stop-color="#249de6"/></linearGradient>
<linearGradient id="h3_48" x1="0" y1="0" x2="0" y2="1"><stop offset="0" stop-color="#f7f51b"/><stop offset="0.07" stop-color="#f6ef20"/><stop offset="0.14" stop-color="#f9d62d"/><stop offset="0.21" stop-color="#f6ba3c"/><stop offset="0.29" stop-color="#c6c22a"/><stop offset="0.36" stop-color="#85cb55"/><stop offset="0.43" stop-color="#54cc7c"/><stop offset="0.5" stop-color="#39c995"/><stop offset="0.57" stop-color="#28c2ab"/><stop offset="0.64" stop-color="#01b9c6"/><stop offset="0.71" stop-color="#18addb"/><stop offset="0.79" stop-color="#1fa6e2"/><stop offset="0.86" stop-color="#23a0e5"/><stop offset="0.93" stop-color="#249ee6"/><stop offset="1" stop-color="#249ee6"/></linearGradient>
<linearGradient id="h3_49" x1="0" y1="0" x2="0" y2="1"><stop offset="0" stop-color="#f8f61a"/><stop offset="0.07" stop-color="#f6f21e"/><stop offset="0.14" stop-color="#f8d92c"/><stop offset="0.21" stop-color="#f9bb3d"/><stop offset="0.29" stop-color="#cdc028"/><stop offset="0.36" stop-color="#95ca49"/><stop offset="0.43" stop-color="#68cd6c"/><stop offset="0.5" stop-color="#4ccb83"/><stop offset="0.57" stop-color="#34c79b"/><stop offset="0.64" stop-color="#0abdbd"/><stop offset="0.71" stop-color="#14b0d8"/><stop offset="0.79" stop-color="#1da8e0"/><stop offset="0.86" stop-color="#22a2e4"/><stop offset="0.93" stop-color="#23a0e5"/><stop offset="1" stop-color="#23a0e5"/></linearGradient>
<linearGradient id="h3_50" x1="0" y1="0" x2="0" y2="1"><stop offset="0" stop-color="#f8f718"/><stop offset="0.07" stop-color="#f7f41c"/><stop offset="0.14" stop-color="#f7db2b"/><stop offset="0.21" stop-color="#fbbc3d"/><stop offset="0.29" stop-color="#d7be28"/><stop offset="0.36" stop-color="#a9c73b"/><stop offset="0.43" stop-color="#81cc59"/><stop offset="0.5" stop-color="#63cd6f"/><stop offset="0.57" stop-color="#43ca8b"/><stop offset="0.64" stop-color="#1ac0b4"/><stop offset="0.71" stop-color="#0eb2d4"/><stop offset="0.79" stop-color="#1aabdd"/><stop offset="0.86" stop-color="#1fa6e2"/><stop offset="0.93" stop-color="#20a4e3"/><stop offset="1" stop-color="#20a4e3"/></linearGradient>
<linearGradient id="h3_51" x1="0" y1="0" x2="0" y2="1"><stop offset="0" stop-color="#f8f817"/><stop offset="0.07" stop-color="#f7f51b"/><stop offset="0.14" stop-color="#f7dc2a"/><stop offset="0.21" stop-color="#fdbd3d"/><stop offset="0.29" stop-color="#e0bc2a"/><stop offset="0.36" stop-color="#bdc32f"/><stop offset="0.43" stop-color="#99c946"/><stop offset="0.5" stop-color="#7acc5e"/><stop offset="0.57" stop-color="#55cc7c"/><stop offset="0.64" stop-color="#2ac3a9"/><stop offset="0.71" stop-color="#01b8ca"/><stop offset="0.79" stop-color="#11b1d6"/><stop offset="0.86" stop-color="#1aacdd"/><stop offset="0.93" stop-color="#1caadf"/><stop offset="1" stop-color="#1caadf"/></linearGradient>
<linearGradient id="h3_52" x1="0" y1="0" x2="0" y2="1"><stop offset="0" stop-color="#f8f917"/><stop offset="0.07" stop-color="#f7f61a"/><stop offset="0.14" stop-color="#f7dd2a"/><stop offset="0.21" stop-color="#febe3c"/><stop offset="0.29" stop-color="#e4bb2c"/><stop offset="0.36" stop-color="#c5c22a"/><stop offset="0.43" stop-color="#a4c83e"/><stop offset="0.5" stop-color="#85cb55"/><stop offset="0.57" stop-color="#5fcd73"/><stop offset="0.64" stop-color="#30c5a1"/><stop offset="0.71" stop-color="#03bbc2"/><stop offset="0.79" stop-color="#07b5d0"/><stop offset="0.86" stop-color="#14b0d8"/><stop offset="0.93" stop-color="#18aedb"/><stop offset="1" stop-color="#18aedb"/></linearGradient>
<linearGradient id="h3_53" x1="0" y1="0" x2="0" y2="1"><stop offset="0" stop-color="#f9fa16"/><stop offset="0.07" stop-color="#f8f719"/><stop offset="0.14" stop-color="#f6df29"/><stop offset="0.21" stop-color="#fec03b"/><stop offset="0.29" stop-color="#ecba32"/><stop offset="0.36" stop-color="#d5be28"/><stop offset="0.43" stop-color="#bac430"/><stop offset="0.5" stop-color="#9ec942"/><stop offset="0.57" stop-color="#79cc5e"/><stop offset="0.64" stop-color="#3eca8f"/><stop offset="0.71" stop-color="#1fc0b2"/><stop offset="0.79" stop-color="#06bcc0"/><stop offset="0.86" stop-color="#01b7ca"/><stop offset="0.93" stop-color="#05b6ce"/><stop offset="1" stop-color="#05b6ce"/></linearGradient>
<linearGradient id="h3_54" x1="0" y1="0" x2="0" y2="1"><stop offset="0" stop-color="#f9fa15"/><stop offset="0.07" stop-color="#f8f817"/><stop offset="0.14" stop-color="#f6e028"/><stop offset="0.21" stop-color="#fec239"/><stop offset="0.29" stop-color="#f3ba39"/><stop offset="0.36" stop-color="#e3bc2c"/><stop offset="0.43" stop-color="#cec028"/><stop offset="0.5" stop-color="#b8c431"/><stop offset="0.57" stop-color="#98ca47"/><stop offset="0.64" stop-color="#59cc78"/><stop offset="0.71" stop-color="#31c6a0"/><stop offset="0.79" stop-color="#24c1af"/><stop offset="0.86" stop-color="#13beb8"/><stop offset="0.93" stop-color="#0cbdbc"/><stop offset="1" stop-color="#0cbdbc"/></linearGradient>
<linearGradient id="h3_55" x1="0" y1="0" x2="0" y2="1"><stop offset="0" stop-color="#f9fb15"/><stop offset="0.07" stop-color="#f9f916"/><stop offset="0.14" stop-color="#f5e228"/><stop offset="0.21" stop-color="#fec537"/><stop offset="0.29" stop-color="#f9bb3d"/><stop offset="0.36" stop-color="#edba33"/><stop offset="0.43" stop-color="#debc2a"/><stop offset="0.5" stop-color="#cec028"/><stop offset="0.57" stop-color="#b5c533"/><stop offset="0.64" stop-color="#7bcc5d"/><stop offset="0.71" stop-color="#45cb89"/><stop offset="0.79" stop-color="#35c79a"/><stop offset="0.86" stop-color="#2ec4a5"/><stop offset="0.93" stop-color="#2bc3a8"/><stop offset="1" stop-color="#2bc3a8"/></linearGradient>
<linearGradient id="h3_56" x1="0" y1="0" x2="0" y2="1"><stop offset="0" stop-color="#f9fb15"/><stop offset="0.07" stop-color="#f9fa16"/><stop offset="0.14" stop-color="#f5e327"/><stop offset="0.21" stop-color="#fec736"/><stop offset="0.29" stop-color="#fbbc3d"/><stop offset="0.36" stop-color="#f0ba36"/><stop offset="0.43" stop-color="#e4bb2c"/><stop offset="0.5" stop-color="#d8be28"/><stop offset="0.57" stop-color="#c5c22a"/><stop offset="0.64" stop-color="#8fcb4e"/><stop offset="0.71" stop-color="#56cc7b"/><stop offset="0.79" stop-color="#40ca8d"/><stop offset="0.86" stop-color="#36c899"/><stop offset="0.93" stop-color="#33c79c"/><stop offset="1" stop-color="#33c79c"/></linearGradient>
<linearGradient id="h3_57" x1="0" y1="0" x2="0" y2="1"><stop offset="0" stop-color="#f9fb15"/><stop offset="0.07" stop-color="#f9fa15"/><stop offset="0.14" stop-color="#f5e626"/><stop offset="0.21" stop-color="#fdcc32"/><stop offset="0.29" stop-color="#febf3b"/><stop offset="0.36" stop-color="#f5ba3a"/><stop offset="0.43" stop-color="#edba33"/><stop offset="0.5" stop-color="#e8bb2f"/><stop offset="0.57" stop-color="#e0bc2a"/><stop offset="0.64" stop-color="#b9c431"/><stop offset="0.71" stop-color="#83cc57"/><stop offset="0.79" stop-color="#68cd6c"/><stop offset="0.86" stop-color="#56cc7b"/><stop offset="0.93" stop-color="#50cc80"/><stop offset="1" stop-color="#50cc80"/></linearGradient>
<linearGradient id="h3_58" x1="0" y1="0" x2="0" y2="1"><stop offset="0" stop-color="#f9fb15"/><stop offset="0.07" stop-color="#f9fa15"/><stop offset="0.14" stop-color="#f5ea24"/><stop offset="0.21" stop-color="#fbd32f"/><stop offset="0.29" stop-color="#fec438"/><stop offset="0.36" stop-color="#f8ba3d"/><stop offset="0.43" stop-color="#f2ba38"/><stop offset="0.5" stop-color="#f0ba36"/><stop offset="0.57" stop-color="#ecba32"/><stop offset="0.64" stop-color="#d4bf28"/><stop offset="0.71" stop-color="#b1c636"/><stop offset="0.79" stop-color="#99c946"/><stop offset="0.86" stop-color="#85cb56"/><stop offset="0.93" stop-color="#7dcc5b"/><stop offset="1" stop-color="#7dcc5b"/></linearGradient>
<linearGradient id="h3_59" x1="0" y1="0" x2="0" y2="1"><stop offset="0" stop-color="#f9fb15"/><stop offset="0.07" stop-color="#f9fa15"/><stop offset="0.14" stop-color="#f5ed21"/><stop offset="0.21" stop-color="#f8da2b"/><stop offset="0.29" stop-color="#fec934"/><stop offset="0.36" stop-color="#fcbc3d"/><stop offset="0.43" stop-color="#f7ba3c"/><stop offset="0.5" stop-color="#f5ba3a"/><stop offset="0.57" stop-color="#f2ba38"/><stop offset="0.64" stop-color="#e5bb2d"/><stop offset="0.71" stop-color="#d2bf27"/><stop offset="0.79" stop-color="#c2c22c"/><stop offset="0.86" stop-color="#b2c635"/><stop offset="0.93" stop-color="#abc739"/><stop offset="1" stop-color="#abc739"/></linearGradient>
<linearGradient id="h3_60" x1="0" y1="0" x2="0" y2="1"><stop offset="0" stop-color="#f9fb15"/><stop offset="0.07" stop-color="#f9fa15"/><stop offset="0.14" stop-color="#f6f020"/><stop offset="0.21" stop-color="#f6df29"/><stop offset="0.29" stop-color="#fdcd31"/><stop offset="0.36" stop-color="#febd3c"/><stop offset="0.43" stop-color="#f9ba3d"/><stop offset="0.5" stop-color="#f7ba3c"/><stop offset="0.57" stop-color="#f4ba39"/><stop offset="0.64" stop-color="#ecba32"/><stop offset="0.71" stop-color="#e0bc2a"/><stop offset="0.79" stop-color="#d3bf27"/><stop offset="0.86" stop-color="#c3c22b"/><stop offset="0.93" stop-color="#bdc32f"/><stop offset="1" stop-color="#bdc32e"/></linearGradient>
<linearGradient id="h3_61" x1="0" y1="0" x2="0" y2="1"><stop offset="0" stop-color="#f9fb15"/><stop offset="0.07" stop-color="#f9fb15"/><stop offset="0.14" stop-color="#f7f31d"/><stop offset="0.21" stop-color="#f5e725"/><stop offset="0.29" stop-color="#fad52d"/><stop offset="0.36" stop-color="#fec13a"/><stop offset="0.43" stop-color="#fcbc3d"/><stop offset="0.5" stop-color="#fabb3d"/><stop offset="0.57" stop-color="#f8ba3d"/><stop offset="0.64" stop-color="#f3ba39"/><stop offset="0.71" stop-color="#edba34"/><stop offset="0.79" stop-color="#e6bb2d"/><stop offset="0.86" stop-color="#debd29"/><stop offset="0.93" stop-color="#dabd28"/><stop offset="1" stop-color="#dcbd29"/></linearGradient>
<linearGradient id="h3_62" x1="0" y1="0" x2="0" y2="1"><stop offset="0" stop-color="#f9fb15"/><stop offset="0.07" stop-color="#f9fb15"/><stop offset="0.14" stop-color="#f7f51b"/><stop offset="0.21" stop-color="#f5ec22"/><stop offset="0.29" stop-color="#f7db2b"/><stop offset="0.36" stop-color="#fec537"/><stop offset="0.43" stop-color="#febf3c"/><stop offset="0.5" stop-color="#fdbd3d"/><stop offset="0.57" stop-color="#fbbc3d"/><stop offset="0.64" stop-color="#f7ba3d"/><stop offset="0.71" stop-color="#f3ba38"/><stop offset="0.79" stop-color="#efba35"/><stop offset="0.86" stop-color="#ebba32"/><stop offset="0.93" stop-color="#eaba31"/><stop offset="1" stop-color="#eaba31"/></linearGradient>
<linearGradient id="h3_63" x1="0" y1="0" x2="0" y2="1"><stop offset="0" stop-color="#f9fb15"/><stop offset="0.07" stop-color="#f9fb15"/><stop offset="0.14" stop-color="#f8f719"/><stop offset="0.21" stop-color="#f6f020"/><stop offset="0.29" stop-color="#f6e028"/><stop offset="0.36" stop-color="#feca33"/><stop offset="0.43" stop-color="#fec239"/><stop offset="0.5" stop-color="#fec03a"/><stop offset="0.57" stop-color="#febe3c"/><stop offset="0.64" stop-color="#fabb3d"/><stop offset="0.71" stop-color="#f6ba3c"/><stop offset="0.79" stop-color="#f4ba39"/><stop offset="0.86" stop-color="#f2ba38"/><stop offset="0.93" stop-color="#f0ba36"/><stop offset="1" stop-color="#edba33"/></linearGradient>
<linearGradient id="h3_64" x1="0" y1="0" x2="0" y2="1"><stop offset="0" stop-color="#f9fb15"/><stop offset="0.07" stop-color="#f9fb15"/><stop offset="0.14" stop-color="#f8f818"/><stop offset="0.21" stop-color="#f6f31d"/><stop offset="0.29" stop-color="#f5e526"/><stop offset="0.36" stop-color="#fcd030"/><stop offset="0.43" stop-color="#fec735"/><stop offset="0.5" stop-color="#fec437"/><stop offset="0.57" stop-color="#fec13a"/><stop offset="0.64" stop-color="#fdbd3d"/><stop offset="0.71" stop-color="#f9bb3d"/><stop offset="0.79" stop-color="#f7ba3c"/><stop offset="0.86" stop-color="#f6ba3b"/><stop offset="0.93" stop-color="#f4ba39"/><stop offset="1" stop-color="#efba35"/></linearGradient>
<linearGradient id="h3_65" x1="0" y1="0" x2="0" y2="1"><stop offset="0" stop-color="#f9fb15"/><stop offset="0.07" stop-color="#f9fb15"/><stop offset="0.14" stop-color="#f8f817"/><stop offset="0.21" stop-color="#f7f41c"/><stop offset="0.29" stop-color="#f5e725"/><stop offset="0.36" stop-color="#fbd32e"/><stop offset="0.43" stop-color="#feca33"/><stop offset="0.5" stop-color="#fec736"/><stop offset="0.57" stop-color="#fec338"/><stop offset="0.64" stop-color="#febe3c"/><stop offset="0.71" stop-color="#fabb3d"/><stop offset="0.79" stop-color="#f9ba3d"/><stop offset="0.86" stop-color="#f7ba3d"/><stop offset="0.93" stop-color="#f5ba3b"/><stop offset="1" stop-color="#efba35"/></linearGradient>
<linearGradient id="h3_66" x1="0" y1="0" x2="0" y2="1"><stop offset="0" stop-color="#f9fb15"/><stop offset="0.07" stop-color="#f9fb15"/><stop offset="0.14" stop-color="#f9f916"/><stop offset="0.21" stop-color="#f7f61a"/><stop offset="0.29" stop-color="#f5ec23"/><stop offset="0.36" stop-color="#f8da2b"/><stop offset="0.43" stop-color="#fcd12f"/><stop offset="0.5" stop-color="#fdcd32"/><stop offset="0.57" stop-color="#fec834"/><stop offset="0.64" stop-color="#fec239"/><stop offset="0.71" stop-color="#fdbd3d"/><stop offset="0.79" stop-color="#fbbc3d"/><stop offset="0.86" stop-color="#fabb3d"/><stop offset="0.93" stop-color="#f8ba3d"/><stop offset="1" stop-color="#f0ba36"/></linearGradient>
<linearGradient id="h3_67" x1="0" y1="0" x2="0" y2="1"><stop offset="0" stop-color="#f9fb15"/><stop offset="0.07" stop-color="#f9fb15"/><stop offset="0.14" stop-color="#f9fa16"/><stop offset="0.21" stop-color="#f8f718"/><stop offset="0.29" stop-color="#f6f020"/><stop offset="0.36" stop-color="#f5e228"/><stop offset="0.43" stop-color="#f8d92b"/><stop offset="0.5" stop-color="#fad52e"/><stop offset="0.57" stop-color="#fccf30"/><stop offset="0.64" stop-color="#fec636"/><stop offset="0.71" stop-color="#febe3c"/><stop offset="0.79" stop-color="#fcbd3d"/><stop offset="0.86" stop-color="#fbbc3d"/><stop offset="0.93" stop-color="#f9bb3d"/><stop offset="1" stop-color="#f2ba37"/></linearGradient>
<linearGradient id="h3_68" x1="0" y1="0" x2="0" y2="1"><stop offset="0" stop-color="#f9fb15"/><stop offset="0.07" stop-color="#f9fb15"/><stop offset="0.14" stop-color="#f9fa15"/><stop offset="0.21" stop-color="#f8f917"/><stop offset="0.29" stop-color="#f7f41c"/><stop offset="0.36" stop-color="#f5e924"/><stop offset="0.43" stop-color="#f5e228"/><stop offset="0.5" stop-color="#f7dd2a"/><stop offset="0.57" stop-color="#f9d72d"/><stop offset="0.64" stop-color="#fdca33"/><stop offset="0.71" stop-color="#fec03a"/><stop offset="0.79" stop-color="#febe3c"/><stop offset="0.86" stop-color="#fdbd3d"/><stop offset="0.93" stop-color="#fbbc3d"/><stop offset="1" stop-color="#f3ba39"/></linearGradient>
<linearGradient id="h3_69" x1="0" y1="0" x2="0" y2="1"><stop offset="0" stop-color="#f9fb15"/><stop offset="0.07" stop-color="#f9fb15"/><stop offset="0.14" stop-color="#f9fa15"/><stop offset="0.21" stop-color="#f9fa16"/><stop offset="0.29" stop-color="#f7f51b"/><stop offset="0.36" stop-color="#f5ec22"/><stop offset="0.43" stop-color="#f5e526"/><stop offset="0.5" stop-color="#f6e128"/><stop offset="0.57" stop-color="#f7db2b"/><stop offset="0.64" stop-color="#fdcd31"/><stop offset="0.71" stop-color="#fec13a"/><stop offset="0.79" stop-color="#febf3c"/><stop offset="0.86" stop-color="#febd3c"/><stop offset="0.93" stop-color="#fcbc3d"/><stop offset="1" stop-color="#f4ba3a"/></linearGradient>
<linearGradient id="h3_70" x1="0" y1="0" x2="0" y2="1"><stop offset="0" stop-color="#f9fb15"/><stop offset="0.07" stop-color="#f9fb15"/><stop offset="0.14" stop-color="#f9fb15"/><stop offset="0.21" stop-color="#f9fb15"/><stop offset="0.29" stop-color="#f8f719"/><stop offset="0.36" stop-color="#f6f01f"/><stop offset="0.43" stop-color="#f5eb23"/><stop offset="0.5" stop-color="#f5e825"/><stop offset="0.57" stop-color="#f5e327"/><stop offset="0.64" stop-color="#fbd32e"/><stop offset="0.71" stop-color="#fec437"/><stop offset="0.79" stop-color="#fec13a"/><stop offset="0.86" stop-color="#febf3b"/><stop offset="0.93" stop-color="#fdbd3d"/><stop offset="1" stop-color="#f6ba3b"/></linearGradient>
<linearGradient id="h3_71" x1="0" y1="0" x2="0" y2="1"><stop offset="0" stop-color="#f9fb15"/><stop offset="0.07" stop-color="#f9fb15"/><stop offset="0.14" stop-color="#f9fb15"/><stop offset="0.21" stop-color="#f9fb15"/><stop offset="0.29" stop-color="#f8f917"/><stop offset="0.36" stop-color="#f7f31d"/><stop offset="0.43" stop-color="#f6f020"/><stop offset="0.5" stop-color="#f5ed22"/><stop offset="0.57" stop-color="#f5e924"/><stop offset="0.64" stop-color="#f8d92b"/><stop offset="0.71" stop-color="#fec934"/><stop offset="0.79" stop-color="#fec438"/><stop offset="0.86" stop-color="#fec13a"/><stop offset="0.93" stop-color="#febe3c"/><stop offset="1" stop-color="#f8ba3d"/></linearGradient>
<linearGradient id="h3_72" x1="0" y1="0" x2="0" y2="1"><stop offset="0" stop-color="#f9fb15"/><stop offset="0.07" stop-color="#f9fb15"/><stop offset="0.14" stop-color="#f9fb15"/><stop offset="0.21" stop-color="#f9fb15"/><stop offset="0.29" stop-color="#f9f916"/><stop offset="0.36" stop-color="#f7f61a"/><stop offset="0.43" stop-color="#f7f31d"/><stop offset="0.5" stop-color="#f6f11e"/><stop offset="0.57" stop-color="#f5ee21"/><stop offset="0.64" stop-color="#f6e128"/><stop offset="0.71" stop-color="#fcd12f"/><stop offset="0.79" stop-color="#fec934"/><stop offset="0.86" stop-color="#fec438"/><stop offset="0.93" stop-color="#febe3c"/><stop offset="1" stop-color="#f9bb3d"/></linearGradient>
<linearGradient id="h3_73" x1="0" y1="0" x2="0" y2="1"><stop offset="0" stop-color="#f9fb15"/><stop offset="0.07" stop-color="#f9fb15"/><stop offset="0.14" stop-color="#f9fb15"/><stop offset="0.21" stop-color="#f9fb15"/><stop offset="0.29" stop-color="#f9fa16"/><stop offset="0.36" stop-color="#f8f719"/><stop offset="0.43" stop-color="#f7f41c"/><stop offset="0.5" stop-color="#f7f31d"/><stop offset="0.57" stop-color="#f6f01f"/><stop offset="0.64" stop-color="#f5e427"/><stop offset="0.71" stop-color="#fad42e"/><stop offset="0.79" stop-color="#fdcb33"/><stop offset="0.86" stop-color="#fec537"/><stop offset="0.93" stop-color="#febf3b"/><stop offset="1" stop-color="#f9bb3d"/></linearGradient>
<linearGradient id="h3_74" x1="0" y1="0" x2="0" y2="1"><stop offset="0" stop-color="#f9fb15"/><stop offset="0.07" stop-color="#f9fb15"/><stop offset="0.14" stop-color="#f9fb15"/><stop offset="0.21" stop-color="#f9fb15"/><stop offset="0.29" stop-color="#f9fa15"/><stop offset="0.36" stop-color="#f8f818"/><stop offset="0.43" stop-color="#f8f719"/><stop offset="0.5" stop-color="#f7f61a"/><stop offset="0.57" stop-color="#f7f31c"/><stop offset="0.64" stop-color="#f5e825"/><stop offset="0.71" stop-color="#f8d82c"/><stop offset="0.79" stop-color="#fdce31"/><stop offset="0.86" stop-color="#fec636"/><stop offset="0.93" stop-color="#fec03b"/><stop offset="1" stop-color="#fabb3d"/></linearGradient>
<linearGradient id="h3_75" x1="0" y1="0" x2="0" y2="1"><stop offset="0" stop-color="#f9fb15"/><stop offset="0.07" stop-color="#f9fb15"/><stop offset="0.14" stop-color="#f9fb15"/><stop offset="0.21" stop-color="#f9fb15"/><stop offset="0.29" stop-color="#f9fb15"/><stop offset="0.36" stop-color="#f9fa16"/><stop offset="0.43" stop-color="#f8f917"/><stop offset="0.5" stop-color="#f8f818"/><stop offset="0.57" stop-color="#f7f61a"/><stop offset="0.64" stop-color="#f5eb23"/><stop offset="0.71" stop-color="#f7dc2a"/><stop offset="0.79" stop-color="#fbd12f"/><stop offset="0.86" stop-color="#fec835"/><stop offset="0.93" stop-color="#fec03a"/><stop offset="1" stop-color="#fbbc3d"/></linearGradient>
<linearGradient id="h3_76" x1="0" y1="0" x2="0" y2="1"><stop offset="0" stop-color="#f9fb15"/><stop offset="0.07" stop-color="#f9fb15"/><stop offset="0.14" stop-color="#f9fb15"/><stop offset="0.21" stop-color="#f9fb15"/><stop offset="0.29" stop-color="#f9fb15"/><stop offset="0.36" stop-color="#f9fb15"/><stop offset="0.43" stop-color="#f9fa15"/><stop offset="0.5" stop-color="#f9fa16"/><stop offset="0.57" stop-color="#f8f817"/><stop offset="0.64" stop-color="#f6ef20"/><stop offset="0.71" stop-color="#f6e128"/><stop offset="0.79" stop-color="#fad52d"/><stop offset="0.86" stop-color="#feca33"/><stop offset="0.93" stop-color="#fec13a"/><stop offset="1" stop-color="#fcbc3d"/></linearGradient>
<linearGradient id="h3_77" x1="0" y1="0" x2="0" y2="1"><stop offset="0" stop-color="#f9fb15"/><stop offset="0.07" stop-color="#f9fb15"/><stop offset="0.14" stop-color="#f9fb15"/><stop offset="0.21" stop-color="#f9fb15"/><stop offset="0.29" stop-color="#f9fb15"/><stop offset="0.36" stop-color="#f9fb15"/><stop offset="0.43" stop-color="#f9fb15"/><stop offset="0.5" stop-color="#f9fa15"/><stop offset="0.57" stop-color="#f9f916"/><stop offset="0.64" stop-color="#f6f11f"/><stop offset="0.71" stop-color="#f5e427"/><stop offset="0.79" stop-color="#f9d72c"/><stop offset="0.86" stop-color="#fdcb33"/><stop offset="0.93" stop-color="#fec139"/><stop offset="1" stop-color="#fcbc3d"/></linearGradient>
<linearGradient id="h3_78" x1="0" y1="0" x2="0" y2="1"><stop offset="0" stop-color="#f9f916"/><stop offset="0.07" stop-color="#f9fa15"/><stop offset="0.14" stop-color="#f9fb15"/><stop offset="0.21" stop-color="#f9fb15"/><stop offset="0.29" stop-color="#f9fb15"/><stop offset="0.36" stop-color="#f9fb15"/><stop offset="0.43" stop-color="#f9fb15"/><stop offset="0.5" stop-color="#f9fb15"/><stop offset="0.57" stop-color="#f9fb15"/><stop offset="0.64" stop-color="#f7f41c"/><stop offset="0.71" stop-color="#f5ea24"/><stop offset="0.79" stop-color="#f7dd2a"/><stop offset="0.86" stop-color="#fdcd31"/><stop offset="0.93" stop-color="#fec239"/><stop offset="1" stop-color="#fdbd3d"/></linearGradient>
<linearGradient id="h3_79" x1="0" y1="0" x2="0" y2="1"><stop offset="0" stop-color="#f7f51b"/><stop offset="0.07" stop-color="#f8f917"/><stop offset="0.14" stop-color="#f9fa15"/><stop offset="0.21" stop-color="#f9fb15"/><stop offset="0.29" stop-color="#f9fb15"/><stop offset="0.36" stop-color="#f9fb15"/><stop offset="0.43" stop-color="#f9fb15"/><stop offset="0.5" stop-color="#f9fb15"/><stop offset="0.57" stop-color="#f9fb15"/><stop offset="0.64" stop-color="#f7f61a"/><stop offset="0.71" stop-color="#f5ed22"/><stop offset="0.79" stop-color="#f6e028"/><stop offset="0.86" stop-color="#fccf30"/><stop offset="0.93" stop-color="#fec339"/><stop offset="1" stop-color="#fdbd3d"/></linearGradient>
<linearGradient id="h3_80" x1="0" y1="0" x2="0" y2="1"><stop offset="0" stop-color="#f6f11e"/><stop offset="0.07" stop-color="#f8f719"/><stop offset="0.14" stop-color="#f9fa16"/><stop offset="0.21" stop-color="#f9fb15"/><stop offset="0.29" stop-color="#f9fb15"/><stop offset="0.36" stop-color="#f9fb15"/><stop offset="0.43" stop-color="#f9fb15"/><stop offset="0.5" stop-color="#f9fb15"/><stop offset="0.57" stop-color="#f9fb15"/><stop offset="0.64" stop-color="#f8f719"/><stop offset="0.71" stop-color="#f6ef20"/><stop offset="0.79" stop-color="#f5e327"/><stop offset="0.86" stop-color="#fcd030"/><stop offset="0.93" stop-color="#fec338"/><stop offset="1" stop-color="#febd3c"/></linearGradient>
<linearGradient id="h3_81" x1="0" y1="0" x2="0" y2="1"><stop offset="0" stop-color="#f5ef21"/><stop offset="0.07" stop-color="#f7f61a"/><stop offset="0.14" stop-color="#f9f916"/><stop offset="0.21" stop-color="#f9fb15"/><stop offset="0.29" stop-color="#f9fb15"/><stop offset="0.36" stop-color="#f9fb15"/><stop offset="0.43" stop-color="#f9fb15"/><stop offset="0.5" stop-color="#f9fb15"/><stop offset="0.57" stop-color="#f9fb15"/><stop offset="0.64" stop-color="#f8f719"/><stop offset="0.71" stop-color="#f6f01f"/><stop offset="0.79" stop-color="#f5e426"/><stop offset="0.86" stop-color="#fcd12f"/><stop offset="0.93" stop-color="#fec338"/><stop offset="1" stop-color="#febe3c"/></linearGradient>
<linearGradient id="h3_82" x1="0" y1="0" x2="0" y2="1"><stop offset="0" stop-color="#f5e825"/><stop offset="0.07" stop-color="#f7f31d"/><stop offset="0.14" stop-color="#f8f817"/><stop offset="0.21" stop-color="#f9fb15"/><stop offset="0.29" stop-color="#f9fb15"/><stop offset="0.36" stop-color="#f9fb15"/><stop offset="0.43" stop-color="#f9fb15"/><stop offset="0.5" stop-color="#f9fb15"/><stop offset="0.57" stop-color="#f9fb15"/><stop offset="0.64" stop-color="#f8f818"/><stop offset="0.71" stop-color="#f6f21e"/><stop offset="0.79" stop-color="#f5e626"/><stop offset="0.86" stop-color="#fbd22f"/><stop offset="0.93" stop-color="#fec438"/><stop offset="1" stop-color="#febe3c"/></linearGradient>
<linearGradient id="h3_83" x1="0" y1="0" x2="0" y2="1"><stop offset="0" stop-color="#f6df29"/><stop offset="0.07" stop-color="#f5ee21"/><stop offset="0.14" stop-color="#f8f61a"/><stop offset="0.21" stop-color="#f9fb15"/><stop offset="0.29" stop-color="#f9fb15"/><stop offset="0.36" stop-color="#f9fb15"/><stop offset="0.43" stop-color="#f9fb15"/><stop offset="0.5" stop-color="#f9fb15"/><stop offset="0.57" stop-color="#f9fb15"/><stop offset="0.64" stop-color="#f8f818"/><stop offset="0.71" stop-color="#f7f31d"/><stop offset="0.79" stop-color="#f5e725"/><stop offset="0.86" stop-color="#fbd22f"/><stop offset="0.93" stop-color="#fec438"/><stop offset="1" stop-color="#febe3c"/></linearGradient>
<linearGradient id="h3_84" x1="0" y1="0" x2="0" y2="1"><stop offset="0" stop-color="#fad42e"/><stop offset="0.07" stop-color="#f5e725"/><stop offset="0.14" stop-color="#f7f41c"/><stop offset="0.21" stop-color="#f9fb15"/><stop offset="0.29" stop-color="#f9fb15"/><stop offset="0.36" stop-color="#f9fb15"/><stop offset="0.43" stop-color="#f9fb15"/><stop offset="0.5" stop-color="#f9fb15"/><stop offset="0.57" stop-color="#f9fb15"/><stop offset="0.64" stop-color="#f8f817"/><stop offset="0.71" stop-color="#f7f31d"/><stop offset="0.79" stop-color="#f5e725"/><stop offset="0.86" stop-color="#fbd22f"/><stop offset="0.93" stop-color="#fec338"/><stop offset="1" stop-color="#febe3c"/></linearGradient>
<linearGradient id="h3_85" x1="0" y1="0" x2="0" y2="1"><stop offset="0" stop-color="#fccf31"/><stop offset="0.07" stop-color="#f5e227"/><stop offset="0.14" stop-color="#f6f21e"/><stop offset="0.21" stop-color="#f9fa15"/><stop offset="0.29" stop-color="#f9fb15"/><stop offset="0.36" stop-color="#f9fb15"/><stop offset="0.43" stop-color="#f9fb15"/><stop offset="0.5" stop-color="#f9fb15"/><stop offset="0.57" stop-color="#f9fb15"/><stop offset="0.64" stop-color="#f8f818"/><stop offset="0.71" stop-color="#f6f31d"/><stop offset="0.79" stop-color="#f5e725"/><stop offset="0.86" stop-color="#fbd22f"/><stop offset="0.93" stop-color="#fec338"/><stop offset="1" stop-color="#febd3c"/></linearGradient>
<linearGradient id="h3_86" x1="0" y1="0" x2="0" y2="1"><stop offset="0" stop-color="#fec437"/><stop offset="0.07" stop-color="#f9d82c"/><stop offset="0.14" stop-color="#f5ec22"/><stop offset="0.21" stop-color="#f8f917"/><stop offset="0.29" stop-color="#f9fa15"/><stop offset="0.36" stop-color="#f9fb15"/><stop offset="0.43" stop-color="#f9fb15"/><stop offset="0.5" stop-color="#f9fb15"/><stop offset="0.57" stop-color="#f9fb15"/><stop offset="0.64" stop-color="#f8f818"/><stop offset="0.71" stop-color="#f6f11e"/><stop offset="0.79" stop-color="#f5e526"/><stop offset="0.86" stop-color="#fcd030"/><stop offset="0.93" stop-color="#fec239"/><stop offset="1" stop-color="#fdbd3d"/></linearGradient>
<linearGradient id="h3_87" x1="0" y1="0" x2="0" y2="1"><stop offset="0" stop-color="#febe3c"/><stop offset="0.07" stop-color="#fdcd31"/><stop offset="0.14" stop-color="#f5e526"/><stop offset="0.21" stop-color="#f7f61a"/><stop offset="0.29" stop-color="#f8f917"/><stop offset="0.36" stop-color="#f9fb15"/><stop offset="0.43" stop-color="#f9fb15"/><stop offset="0.5" stop-color="#f9fb15"/><stop offset="0.57" stop-color="#f9fb15"/><stop offset="0.64" stop-color="#f8f719"/><stop offset="0.71" stop-color="#f6ef20"/><stop offset="0.79" stop-color="#f5e327"/><stop offset="0.86" stop-color="#fccf30"/><stop offset="0.93" stop-color="#fec239"/><stop offset="1" stop-color="#fcbd3d"/></linearGradient>
<linearGradient id="h3_88" x1="0" y1="0" x2="0" y2="1"><stop offset="0" stop-color="#fabc3d"/><stop offset="0.07" stop-color="#fec438"/><stop offset="0.14" stop-color="#f7dd2a"/><stop offset="0.21" stop-color="#f6f21d"/><stop offset="0.29" stop-color="#f8f719"/><stop offset="0.36" stop-color="#f9f916"/><stop offset="0.43" stop-color="#f9fa16"/><stop offset="0.5" stop-color="#f9fa15"/><stop offset="0.57" stop-color="#f9fa15"/><stop offset="0.64" stop-color="#f7f61a"/><stop offset="0.71" stop-color="#f5ed22"/><stop offset="0.79" stop-color="#f6e028"/><stop offset="0.86" stop-color="#fdcd31"/><stop offset="0.93" stop-color="#fec13a"/><stop offset="1" stop-color="#fbbc3d"/></linearGradient>
<linearGradient id="h3_89" x1="0" y1="0" x2="0" y2="1"><stop offset="0" stop-color="#f9bb3d"/><stop offset="0.07" stop-color="#fec13a"/><stop offset="0.14" stop-color="#f8da2b"/><stop offset="0.21" stop-color="#f6f11f"/><stop offset="0.29" stop-color="#f7f51b"/><stop offset="0.36" stop-color="#f8f818"/><stop offset="0.43" stop-color="#f8f917"/><stop offset="0.5" stop-color="#f8f917"/><stop offset="0.57" stop-color="#f8f917"/><stop offset="0.64" stop-color="#f7f41c"/><stop offset="0.71" stop-color="#f5ec23"/><stop offset="0.79" stop-color="#f6df29"/><stop offset="0.86" stop-color="#fdcd32"/><stop offset="0.93" stop-color="#fec03a"/><stop offset="1" stop-color="#fbbc3d"/></linearGradient>
<linearGradient id="h3_90" x1="0" y1="0" x2="0" y2="1"><stop offset="0" stop-color="#f5ba3a"/><stop offset="0.07" stop-color="#fdbd3d"/><stop offset="0.14" stop-color="#fad52d"/><stop offset="0.21" stop-color="#f5ec22"/><stop offset="0.29" stop-color="#f6f21e"/><stop offset="0.36" stop-color="#f7f51b"/><stop offset="0.43" stop-color="#f7f51b"/><stop offset="0.5" stop-color="#f7f51b"/><stop offset="0.57" stop-color="#f7f51b"/><stop offset="0.64" stop-color="#f6f11f"/><stop offset="0.71" stop-color="#f5e825"/><stop offset="0.79" stop-color="#f7dc2a"/><stop offset="0.86" stop-color="#fdcb33"/><stop offset="0.93" stop-color="#fec03b"/><stop offset="1" stop-color="#fabb3d"/></linearGradient>
<linearGradient id="h3_91" x1="0" y1="0" x2="0" y2="1"><stop offset="0" stop-color="#eeba35"/><stop offset="0.07" stop-color="#fabb3d"/><stop offset="0.14" stop-color="#fcd130"/><stop offset="0.21" stop-color="#f5e725"/><stop offset="0.29" stop-color="#f5ed21"/><stop offset="0.36" stop-color="#f6f11e"/><stop offset="0.43" stop-color="#f6f21e"/><stop offset="0.5" stop-color="#f6f21e"/><stop offset="0.57" stop-color="#f6f11e"/><stop offset="0.64" stop-color="#f5ec22"/><stop offset="0.71" stop-color="#f5e228"/><stop offset="0.79" stop-color="#f9d62d"/><stop offset="0.86" stop-color="#fec834"/><stop offset="0.93" stop-color="#febf3c"/><stop offset="1" stop-color="#f9bb3d"/></linearGradient>
<linearGradient id="h3_92" x1="0" y1="0" x2="0" y2="1"><stop offset="0" stop-color="#e4bb2c"/><stop offset="0.07" stop-color="#f6ba3c"/><stop offset="0.14" stop-color="#fdcb33"/><stop offset="0.21" stop-color="#f6de29"/><stop offset="0.29" stop-color="#f5e725"/><stop offset="0.36" stop-color="#f5ed22"/><stop offset="0.43" stop-color="#f5ee21"/><stop offset="0.5" stop-color="#f5ee21"/><stop offset="0.57" stop-color="#f5ed21"/><stop offset="0.64" stop-color="#f5e725"/><stop offset="0.71" stop-color="#f7dd2a"/><stop offset="0.79" stop-color="#fbd22f"/><stop offset="0.86" stop-color="#fec636"/><stop offset="0.93" stop-color="#febd3c"/><stop offset="1" stop-color="#f8ba3d"/></linearGradient>
<linearGradient id="h3_93" x1="0" y1="0" x2="0" y2="1"><stop offset="0" stop-color="#dbbd28"/><stop offset="0.07" stop-color="#f4ba39"/><stop offset="0.14" stop-color="#fec735"/><stop offset="0.21" stop-color="#f9d82c"/><stop offset="0.29" stop-color="#f5e327"/><stop offset="0.36" stop-color="#f5ea24"/><stop offset="0.43" stop-color="#f5eb23"/><stop offset="0.5" stop-color="#f5eb23"/><stop offset="0.57" stop-color="#f5eb23"/><stop offset="0.64" stop-color="#f5e526"/><stop offset="0.71" stop-color="#f7db2b"/><stop offset="0.79" stop-color="#fcd12f"/><stop offset="0.86" stop-color="#fec537"/><stop offset="0.93" stop-color="#fdbd3d"/><stop offset="1" stop-color="#f7ba3c"/></linearGradient>
<linearGradient id="h3_94" x1="0" y1="0" x2="0" y2="1"><stop offset="0" stop-color="#c2c22c"/><stop offset="0.07" stop-color="#eaba31"/><stop offset="0.14" stop-color="#febe3c"/><stop offset="0.21" stop-color="#fdcc32"/><stop offset="0.29" stop-color="#f9d82c"/><stop offset="0.36" stop-color="#f5e128"/><stop offset="0.43" stop-color="#f5e327"/><stop offset="0.5" stop-color="#f5e228"/><stop offset="0.57" stop-color="#f6e028"/><stop offset="0.64" stop-color="#f7dd2a"/><stop offset="0.71" stop-color="#f9d72d"/><stop offset="0.79" stop-color="#fdce31"/><stop offset="0.86" stop-color="#fec438"/><stop offset="0.93" stop-color="#fcbc3d"/><stop offset="1" stop-color="#f5ba3a"/></linearGradient>
<linearGradient id="h3_95" x1="0" y1="0" x2="0" y2="1"><stop offset="0" stop-color="#a5c83e"/><stop offset="0.07" stop-color="#d7be28"/><stop offset="0.14" stop-color="#f1ba37"/><stop offset="0.21" stop-color="#febf3b"/><stop offset="0.29" stop-color="#feca33"/><stop offset="0.36" stop-color="#fbd22f"/><stop offset="0.43" stop-color="#fbd32e"/><stop offset="0.5" stop-color="#fcd12f"/><stop offset="0.57" stop-color="#fcd030"/><stop offset="0.64" stop-color="#fcd030"/><stop offset="0.71" stop-color="#fcd030"/><stop offset="0.79" stop-color="#fdcc32"/><stop offset="0.86" stop-color="#fec239"/><stop offset="0.93" stop-color="#fabb3d"/><stop offset="1" stop-color="#f3ba38"/></linearGradient>
<linearGradient id="h3_96" x1="0" y1="0" x2="0" y2="1"><stop offset="0" stop-color="#7fcc5a"/><stop offset="0.07" stop-color="#bfc32e"/><stop offset="0.14" stop-color="#e5bb2c"/><stop offset="0.21" stop-color="#f9bb3d"/><stop offset="0.29" stop-color="#fec03a"/><stop offset="0.36" stop-color="#fec537"/><stop offset="0.43" stop-color="#fec636"/><stop offset="0.5" stop-color="#fec239"/><stop offset="0.57" stop-color="#fec13a"/><stop offset="0.64" stop-color="#fec338"/><stop offset="0.71" stop-color="#fec636"/><stop offset="0.79" stop-color="#fec438"/><stop offset="0.86" stop-color="#febe3c"/><stop offset="0.93" stop-color="#f8ba3d"/><stop offset="1" stop-color="#f0ba36"/></linearGradient>
<linearGradient id="h3_97" x1="0" y1="0" x2="0" y2="1"><stop offset="0" stop-color="#5ccc76"/><stop offset="0.07" stop-color="#9fc941"/><stop offset="0.14" stop-color="#d6be28"/><stop offset="0.21" stop-color="#f2ba38"/><stop offset="0.29" stop-color="#f9bb3d"/><stop offset="0.36" stop-color="#fcbd3d"/><stop offset="0.43" stop-color="#fdbd3d"/><stop offset="0.5" stop-color="#fbbc3d"/><stop offset="0.57" stop-color="#fbbc3d"/><stop offset="0.64" stop-color="#fcbc3d"/><stop offset="0.71" stop-color="#fdbd3d"/><stop offset="0.79" stop-color="#fdbd3d"/><stop offset="0.86" stop-color="#fabb3d"/><stop offset="0.93" stop-color="#f6ba3c"/><stop offset="1" stop-color="#eeba34"/></linearGradient>
<linearGradient id="h3_98" x1="0" y1="0" x2="0" y2="1"><stop offset="0" stop-color="#4dcb82"/><stop offset="0.07" stop-color="#8dcb4f"/><stop offset="0.14" stop-color="#cdc028"/><stop offset="0.21" stop-color="#eeba34"/><stop offset="0.29" stop-color="#f5ba3b"/><stop offset="0.36" stop-color="#f9bb3d"/><stop offset="0.43" stop-color="#f9bb3d"/><stop offset="0.5" stop-color="#f9ba3d"/><stop offset="0.57" stop-color="#f8ba3d"/><stop offset="0.64" stop-color="#f9bb3d"/><stop offset="0.71" stop-color="#fabb3d"/><stop offset="0.79" stop-color="#fabb3d"/><stop offset="0.86" stop-color="#f8ba3d"/><stop offset="0.93" stop-color="#f5ba3a"/><stop offset="1" stop-color="#ecba33"/></linearGradient>
<linearGradient id="h3_99" x1="0" y1="0" x2="0" y2="1"><stop offset="0" stop-color="#36c899"/><stop offset="0.07" stop-color="#69cd6b"/><stop offset="0.14" stop-color="#b4c533"/><stop offset="0.21" stop-color="#e1bc2b"/><stop offset="0.29" stop-color="#eaba31"/><stop offset="0.36" stop-color="#efba35"/><stop offset="0.43" stop-color="#f1ba37"/><stop offset="0.5" stop-color="#f1ba37"/><stop offset="0.57" stop-color="#f2ba38"/><stop offset="0.64" stop-color="#f3ba38"/><stop offset="0.71" stop-color="#f3ba39"/><stop offset="0.79" stop-color="#f3ba39"/><stop offset="0.86" stop-color="#f3ba38"/><stop offset="0.93" stop-color="#f2ba38"/><stop offset="1" stop-color="#e9bb30"/></linearGradient>
<linearGradient id="h3_100" x1="0" y1="0" x2="0" y2="1"><stop offset="0" stop-color="#2ac3a9"/><stop offset="0.07" stop-color="#4ccb83"/><stop offset="0.14" stop-color="#97ca48"/><stop offset="0.21" stop-color="#ccc028"/><stop offset="0.29" stop-color="#d9bd28"/><stop offset="0.36" stop-color="#e0bc2a"/><stop offset="0.43" stop-color="#e4bb2c"/><stop offset="0.5" stop-color="#e7bb2d"/><stop offset="0.57" stop-color="#e7bb2e"/><stop offset="0.64" stop-color="#e7bb2e"/><stop offset="0.71" stop-color="#e7bb2e"/><stop offset="0.79" stop-color="#e8bb2f"/><stop offset="0.86" stop-color="#ecba32"/><stop offset="0.93" stop-color="#edba33"/><stop offset="1" stop-color="#e4bb2c"/></linearGradient>
<linearGradient id="h3_101" x1="0" y1="0" x2="0" y2="1"><stop offset="0" stop-color="#1ec0b2"/><stop offset="0.07" stop-color="#36c898"/><stop offset="0.14" stop-color="#74cc62"/><stop offset="0.21" stop-color="#b1c636"/><stop offset="0.29" stop-color="#c2c22c"/><stop offset="0.36" stop-color="#ccc028"/><stop offset="0.43" stop-color="#d0bf27"/><stop offset="0.5" stop-color="#d3bf27"/><stop offset="0.57" stop-color="#d4bf28"/><stop offset="0.64" stop-color="#d3bf27"/><stop offset="0.71" stop-color="#d3bf27"/><stop offset="0.79" stop-color="#d6be28"/><stop offset="0.86" stop-color="#dfbc2a"/><stop offset="0.93" stop-color="#e3bc2c"/><stop offset="1" stop-color="#dbbd29"/></linearGradient>
<linearGradient id="h3_102" x1="0" y1="0" x2="0" y2="1"><stop offset="0" stop-color="#19bfb5"/><stop offset="0.07" stop-color="#30c5a1"/><stop offset="0.14" stop-color="#62cd70"/><stop offset="0.21" stop-color="#a0c841"/><stop offset="0.29" stop-color="#b4c534"/><stop offset="0.36" stop-color="#bfc32d"/><stop offset="0.43" stop-color="#c4c22b"/><stop offset="0.5" stop-color="#c7c12a"/><stop offset="0.57" stop-color="#c7c129"/><stop offset="0.64" stop-color="#c6c22a"/><stop offset="0.71" stop-color="#c5c22a"/><stop offset="0.79" stop-color="#c8c129"/><stop offset="0.86" stop-color="#d2bf27"/><stop offset="0.93" stop-color="#d7be28"/><stop offset="1" stop-color="#d3bf27"/></linearGradient>
<linearGradient id="h3_103" x1="0" y1="0" x2="0" y2="1"><stop offset="0" stop-color="#10beba"/><stop offset="0.07" stop-color="#27c2ac"/><stop offset="0.14" stop-color="#46cb88"/><stop offset="0.21" stop-color="#7acc5e"/><stop offset="0.29" stop-color="#91ca4c"/><stop offset="0.36" stop-color="#a0c841"/><stop offset="0.43" stop-color="#a4c83e"/><stop offset="0.5" stop-color="#a5c83d"/><stop offset="0.57" stop-color="#a6c83d"/><stop offset="0.64" stop-color="#a2c83f"/><stop offset="0.71" stop-color="#9fc942"/><stop offset="0.79" stop-color="#a3c83e"/><stop offset="0.86" stop-color="#b0c636"/><stop offset="0.93" stop-color="#b6c532"/><stop offset="1" stop-color="#b6c532"/></linearGradient>
<linearGradient id="h3_104" x1="0" y1="0" x2="0" y2="1"><stop offset="0" stop-color="#06bcc0"/><stop offset="0.07" stop-color="#1fc0b2"/><stop offset="0.14" stop-color="#37c897"/><stop offset="0.21" stop-color="#58cc79"/><stop offset="0.29" stop-color="#6dcd67"/><stop offset="0.36" stop-color="#7ccc5c"/><stop offset="0.43" stop-color="#7fcc5a"/><stop offset="0.5" stop-color="#7fcc5a"/><stop offset="0.57" stop-color="#7ecc5a"/><stop offset="0.64" stop-color="#78cc5f"/><stop offset="0.71" stop-color="#71cd64"/><stop offset="0.79" stop-color="#75cc61"/><stop offset="0.86" stop-color="#82cc57"/><stop offset="0.93" stop-color="#89cb53"/><stop offset="1" stop-color="#89cb53"/></linearGradient>
<linearGradient id="h3_105" x1="0" y1="0" x2="0" y2="1"><stop offset="0" stop-color="#01b8c8"/><stop offset="0.07" stop-color="#13beb9"/><stop offset="0.14" stop-color="#2fc5a3"/><stop offset="0.21" stop-color="#3fca8e"/><stop offset="0.29" stop-color="#4ecc81"/><stop offset="0.36" stop-color="#5acc78"/><stop offset="0.43" stop-color="#5bcc76"/><stop offset="0.5" stop-color="#5acc77"/><stop offset="0.57" stop-color="#58cc79"/><stop offset="0.64" stop-color="#50cc80"/><stop offset="0.71" stop-color="#49cb86"/><stop offset="0.79" stop-color="#4bcb84"/><stop offset="0.86" stop-color="#53cc7d"/><stop offset="0.93" stop-color="#57cc7a"/><stop offset="1" stop-color="#57cc7a"/></linearGradient>
<linearGradient id="h3_106" x1="0" y1="0" x2="0" y2="1"><stop offset="0" stop-color="#04b6cd"/><stop offset="0.07" stop-color="#0bbdbc"/><stop offset="0.14" stop-color="#2ac3a9"/><stop offset="0.21" stop-color="#37c898"/><stop offset="0.29" stop-color="#41ca8c"/><stop offset="0.36" stop-color="#4acb84"/><stop offset="0.43" stop-color="#4bcb83"/><stop offset="0.5" stop-color="#49cb85"/><stop offset="0.57" stop-color="#47cb87"/><stop offset="0.64" stop-color="#3fca8e"/><stop offset="0.71" stop-color="#3ac994"/><stop offset="0.79" stop-color="#3bc993"/><stop offset="0.86" stop-color="#3eca8f"/><stop offset="0.93" stop-color="#41ca8c"/><stop offset="1" stop-color="#41ca8c"/></linearGradient>
<linearGradient id="h3_107" x1="0" y1="0" x2="0" y2="1"><stop offset="0" stop-color="#13b0d7"/><stop offset="0.07" stop-color="#02bac4"/><stop offset="0.14" stop-color="#1bc0b4"/><stop offset="0.21" stop-color="#2cc4a7"/><stop offset="0.29" stop-color="#31c6a0"/><stop offset="0.36" stop-color="#35c79b"/><stop offset="0.43" stop-color="#35c79a"/><stop offset="0.5" stop-color="#33c79d"/><stop offset="0.57" stop-color="#31c6a0"/><stop offset="0.64" stop-color="#2cc4a7"/><stop offset="0.71" stop-color="#26c2ac"/><stop offset="0.79" stop-color="#26c2ac"/><stop offset="0.86" stop-color="#27c2ab"/><stop offset="0.93" stop-color="#27c2ab"/><stop offset="1" stop-color="#27c2ab"/></linearGradient>
<linearGradient id="h3_108" x1="0" y1="0" x2="0" y2="1"><stop offset="0" stop-color="#1caadf"/><stop offset="0.07" stop-color="#06b5cf"/><stop offset="0.14" stop-color="#06bcc0"/><stop offset="0.21" stop-color="#19bfb6"/><stop offset="0.29" stop-color="#21c1b0"/><stop offset="0.36" stop-color="#25c2ad"/><stop offset="0.43" stop-color="#25c2ad"/><stop offset="0.5" stop-color="#21c1b0"/><stop offset="0.57" stop-color="#1bc0b4"/><stop offset="0.64" stop-color="#0fbebb"/><stop offset="0.71" stop-color="#06bcc0"/><stop offset="0.79" stop-color="#05bbc1"/><stop offset="0.86" stop-color="#05bbc1"/><stop offset="0.93" stop-color="#05bbc1"/><stop offset="1" stop-color="#05bbc1"/></linearGradient>
<linearGradient id="h3_109" x1="0" y1="0" x2="0" y2="1"><stop offset="0" stop-color="#20a4e3"/><stop offset="0.07" stop-color="#15afd9"/><stop offset="0.14" stop-color="#04b6cd"/><stop offset="0.21" stop-color="#02bac4"/><stop offset="0.29" stop-color="#07bcbf"/><stop offset="0.36" stop-color="#0bbdbd"/><stop offset="0.43" stop-color="#0abdbd"/><stop offset="0.5" stop-color="#04bbc2"/><stop offset="0.57" stop-color="#01b9c7"/><stop offset="0.64" stop-color="#04b6cd"/><stop offset="0.71" stop-color="#0ab4d2"/><stop offset="0.79" stop-color="#0bb3d2"/><stop offset="0.86" stop-color="#0bb3d2"/><stop offset="0.93" stop-color="#0bb3d2"/><stop offset="1" stop-color="#0bb3d2"/></linearGradient>
<linearGradient id="h3_110" x1="0" y1="0" x2="0" y2="1"><stop offset="0" stop-color="#23a1e4"/><stop offset="0.07" stop-color="#1aacdd"/><stop offset="0.14" stop-color="#0cb3d2"/><stop offset="0.21" stop-color="#01b7ca"/><stop offset="0.29" stop-color="#01b9c6"/><stop offset="0.36" stop-color="#02bac4"/><stop offset="0.43" stop-color="#02bac4"/><stop offset="0.5" stop-color="#01b8ca"/><stop offset="0.57" stop-color="#07b5d0"/><stop offset="0.64" stop-color="#11b2d5"/><stop offset="0.71" stop-color="#15afd9"/><stop offset="0.79" stop-color="#16afd9"/><stop offset="0.86" stop-color="#16afd9"/><stop offset="0.93" stop-color="#16afd9"/><stop offset="1" stop-color="#16afd9"/></linearGradient>
<linearGradient id="h3_111" x1="0" y1="0" x2="0" y2="1"><stop offset="0" stop-color="#269be8"/><stop offset="0.07" stop-color="#1fa6e2"/><stop offset="0.14" stop-color="#19addc"/><stop offset="0.21" stop-color="#12b1d6"/><stop offset="0.29" stop-color="#0db3d3"/><stop offset="0.36" stop-color="#09b4d1"/><stop offset="0.43" stop-color="#0ab4d2"/><stop offset="0.5" stop-color="#14b0d8"/><stop offset="0.57" stop-color="#1aabdd"/><stop offset="0.64" stop-color="#1ea7e1"/><stop offset="0.71" stop-color="#20a5e2"/><stop offset="0.79" stop-color="#20a5e3"/><stop offset="0.86" stop-color="#20a5e3"/><stop offset="0.93" stop-color="#20a5e3"/><stop offset="1" stop-color="#20a5e3"/></linearGradient>
<linearGradient id="h3_112" x1="0" y1="0" x2="0" y2="1"><stop offset="0" stop-color="#2995ec"/><stop offset="0.07" stop-color="#249fe5"/><stop offset="0.14" stop-color="#1fa6e2"/><stop offset="0.21" stop-color="#1caadf"/><stop offset="0.29" stop-color="#1aacdd"/><stop offset="0.36" stop-color="#18addb"/><stop offset="0.43" stop-color="#19addc"/><stop offset="0.5" stop-color="#1ea7e1"/><stop offset="0.57" stop-color="#22a2e4"/><stop offset="0.64" stop-color="#259de7"/><stop offset="0.71" stop-color="#2699e9"/><stop offset="0.79" stop-color="#2699e9"/><stop offset="0.86" stop-color="#2699e9"/><stop offset="0.93" stop-color="#2699e9"/><stop offset="1" stop-color="#2699e9"/></linearGradient>
<linearGradient id="h3_113" x1="0" y1="0" x2="0" y2="1"><stop offset="0" stop-color="#2c8ff1"/><stop offset="0.07" stop-color="#2699e9"/><stop offset="0.14" stop-color="#249ee6"/><stop offset="0.21" stop-color="#22a2e4"/><stop offset="0.29" stop-color="#20a5e3"/><stop offset="0.36" stop-color="#1fa6e1"/><stop offset="0.43" stop-color="#1fa5e2"/><stop offset="0.5" stop-color="#249fe6"/><stop offset="0.57" stop-color="#2798ea"/><stop offset="0.64" stop-color="#2a93ee"/><stop offset="0.71" stop-color="#2c8ff0"/><stop offset="0.79" stop-color="#2c8ff0"/><stop offset="0.86" stop-color="#2c8ff1"/><stop offset="0.93" stop-color="#2c8ff1"/><stop offset="1" stop-color="#2c8ff1"/></linearGradient>
<linearGradient id="h3_114" x1="0" y1="0" x2="0" y2="1"><stop offset="0" stop-color="#2d8cf3"/><stop offset="0.07" stop-color="#2896eb"/><stop offset="0.14" stop-color="#259be8"/><stop offset="0.21" stop-color="#249ee6"/><stop offset="0.29" stop-color="#23a1e4"/><stop offset="0.36" stop-color="#21a3e4"/><stop offset="0.43" stop-color="#22a2e4"/><stop offset="0.5" stop-color="#269ae8"/><stop offset="0.57" stop-color="#2a93ed"/><stop offset="0.64" stop-color="#2c8ff1"/><stop offset="0.71" stop-color="#2d8cf3"/><stop offset="0.79" stop-color="#2d8cf3"/><stop offset="0.86" stop-color="#2d8cf3"/><stop offset="0.93" stop-color="#2d8cf3"/><stop offset="1" stop-color="#2d8cf3"/></linearGradient>
<linearGradient id="h3_115" x1="0" y1="0" x2="0" y2="1"><stop offset="0" stop-color="#2e86f7"/><stop offset="0.07" stop-color="#2c90f0"/><stop offset="0.14" stop-color="#2a93ed"/><stop offset="0.21" stop-color="#2896eb"/><stop offset="0.29" stop-color="#2699e9"/><stop offset="0.36" stop-color="#259ce7"/><stop offset="0.43" stop-color="#269be8"/><stop offset="0.5" stop-color="#2a92ee"/><stop offset="0.57" stop-color="#2d8cf3"/><stop offset="0.64" stop-color="#2d88f6"/><stop offset="0.71" stop-color="#2e87f7"/><stop offset="0.79" stop-color="#2e86f7"/><stop offset="0.86" stop-color="#2e87f7"/><stop offset="0.93" stop-color="#2e87f7"/><stop offset="1" stop-color="#2e87f7"/></linearGradient>
<linearGradient id="h3_116" x1="0" y1="0" x2="0" y2="1"><stop offset="0" stop-color="#3080fb"/><stop offset="0.07" stop-color="#2d8af5"/><stop offset="0.14" stop-color="#2d8cf3"/><stop offset="0.21" stop-color="#2c8ef1"/><stop offset="0.29" stop-color="#2b91ef"/><stop offset="0.36" stop-color="#2895ec"/><stop offset="0.43" stop-color="#2994ed"/><stop offset="0.5" stop-color="#2d8cf3"/><stop offset="0.57" stop-color="#2e86f7"/><stop offset="0.64" stop-color="#2e83f9"/><stop offset="0.71" stop-color="#2f82fa"/><stop offset="0.79" stop-color="#2f82fa"/><stop offset="0.86" stop-color="#2f82f9"/><stop offset="0.93" stop-color="#2f82f9"/><stop offset="1" stop-color="#2f82f9"/></linearGradient>
<linearGradient id="h3_117" x1="0" y1="0" x2="0" y2="1"><stop offset="0" stop-color="#347afd"/><stop offset="0.07" stop-color="#2e83f9"/><stop offset="0.14" stop-color="#2e85f8"/><stop offset="0.21" stop-color="#2e86f7"/><stop offset="0.29" stop-color="#2d8af4"/><stop offset="0.36" stop-color="#2c8ef1"/><stop offset="0.43" stop-color="#2c8ef1"/><stop offset="0.5" stop-color="#2d88f6"/><stop offset="0.57" stop-color="#2f82f9"/><stop offset="0.64" stop-color="#3080fb"/><stop offset="0.71" stop-color="#317efb"/><stop offset="0.79" stop-color="#317efb"/><stop offset="0.86" stop-color="#307ffb"/><stop offset="0.93" stop-color="#307ffb"/><stop offset="1" stop-color="#307ffb"/></linearGradient>
<linearGradient id="h3_118" x1="0" y1="0" x2="0" y2="1"><stop offset="0" stop-color="#3776fe"/><stop offset="0.07" stop-color="#2f80fa"/><stop offset="0.14" stop-color="#2f82fa"/><stop offset="0.21" stop-color="#2e83f9"/><stop offset="0.29" stop-color="#2e87f7"/><stop offset="0.36" stop-color="#2d8bf4"/><stop offset="0.43" stop-color="#2d8bf4"/><stop offset="0.5" stop-color="#2e86f8"/><stop offset="0.57" stop-color="#2f81fa"/><stop offset="0.64" stop-color="#317efb"/><stop offset="0.71" stop-color="#327cfc"/><stop offset="0.79" stop-color="#317dfc"/><stop offset="0.86" stop-color="#317efb"/><stop offset="0.93" stop-color="#317efb"/><stop offset="1" stop-color="#317efb"/></linearGradient>
<linearGradient id="h3_119" x1="0" y1="0" x2="0" y2="1"><stop offset="0" stop-color="#3d71ff"/><stop offset="0.07" stop-color="#347afd"/><stop offset="0.14" stop-color="#327cfc"/><stop offset="0.21" stop-color="#317dfc"/><stop offset="0.29" stop-color="#2f80fa"/><stop offset="0.36" stop-color="#2e85f8"/><stop offset="0.43" stop-color="#2e85f8"/><stop offset="0.5" stop-color="#2f81fa"/><stop offset="0.57" stop-color="#317efb"/><stop offset="0.64" stop-color="#327cfc"/><stop offset="0.71" stop-color="#337afd"/><stop offset="0.79" stop-color="#337bfc"/><stop offset="0.86" stop-color="#317dfc"/><stop offset="0.93" stop-color="#317efb"/><stop offset="1" stop-color="#317efb"/></linearGradient>
<linearGradient id="h3_120" x1="0" y1="0" x2="0" y2="1"><stop offset="0" stop-color="#416bfe"/><stop offset="0.07" stop-color="#3a74fe"/><stop offset="0.14" stop-color="#3876fe"/><stop offset="0.21" stop-color="#3677fe"/><stop offset="0.29" stop-color="#337bfc"/><stop offset="0.36" stop-color="#3080fb"/><stop offset="0.43" stop-color="#3080fa"/><stop offset="0.5" stop-color="#317dfb"/><stop offset="0.57" stop-color="#327bfc"/><stop offset="0.64" stop-color="#337bfd"/><stop offset="0.71" stop-color="#347afd"/><stop offset="0.79" stop-color="#327bfc"/><stop offset="0.86" stop-color="#307ffb"/><stop offset="0.93" stop-color="#2f80fa"/><stop offset="1" stop-color="#2f80fa"/></linearGradient>
<linearGradient id="h3_121" x1="0" y1="0" x2="0" y2="1"><stop offset="0" stop-color="#4367fd"/><stop offset="0.07" stop-color="#3f6fff"/><stop offset="0.14" stop-color="#3d71ff"/><stop offset="0.21" stop-color="#3b73fe"/><stop offset="0.29" stop-color="#3776fe"/><stop offset="0.36" stop-color="#337bfd"/><stop offset="0.43" stop-color="#337bfc"/><stop offset="0.5" stop-color="#347afd"/><stop offset="0.57" stop-color="#3579fd"/><stop offset="0.64" stop-color="#3479fd"/><stop offset="0.71" stop-color="#347afd"/><stop offset="0.79" stop-color="#327cfc"/><stop offset="0.86" stop-color="#2f81fa"/><stop offset="0.93" stop-color="#2e83f9"/><stop offset="1" stop-color="#2e83f9"/></linearGradient>
<linearGradient id="h3_122" x1="0" y1="0" x2="0" y2="1"><stop offset="0" stop-color="#4465fd"/><stop offset="0.07" stop-color="#406cfe"/><stop offset="0.14" stop-color="#3f6fff"/><stop offset="0.21" stop-color="#3d71ff"/><stop offset="0.29" stop-color="#3974fe"/><stop offset="0.36" stop-color="#3678fd"/><stop offset="0.43" stop-color="#3579fd"/><stop offset="0.5" stop-color="#3678fd"/><stop offset="0.57" stop-color="#3678fe"/><stop offset="0.64" stop-color="#3578fd"/><stop offset="0.71" stop-color="#347afd"/><stop offset="0.79" stop-color="#317dfc"/><stop offset="0.86" stop-color="#2e83f9"/><stop offset="0.93" stop-color="#2e85f8"/><stop offset="1" stop-color="#2e85f8"/></linearGradient>
<linearGradient id="h3_123" x1="0" y1="0" x2="0" y2="1"><stop offset="0" stop-color="#4562fc"/><stop offset="0.07" stop-color="#4368fd"/><stop offset="0.14" stop-color="#416bfe"/><stop offset="0.21" stop-color="#406dfe"/><stop offset="0.29" stop-color="#3d70ff"/><stop offset="0.36" stop-color="#3a73fe"/><stop offset="0.43" stop-color="#3974fe"/><stop offset="0.5" stop-color="#3974fe"/><stop offset="0.57" stop-color="#3975fe"/><stop offset="0.64" stop-color="#3776fe"/><stop offset="0.71" stop-color="#3479fd"/><stop offset="0.79" stop-color="#317efb"/><stop offset="0.86" stop-color="#2e85f8"/><stop offset="0.93" stop-color="#2d88f6"/><stop offset="1" stop-color="#2d88f6"/></linearGradient>
<linearGradient id="h3_124" x1="0" y1="0" x2="0" y2="1"><stop offset="0" stop-color="#465ffb"/><stop offset="0.07" stop-color="#4564fd"/><stop offset="0.14" stop-color="#4367fd"/><stop offset="0.21" stop-color="#426afe"/><stop offset="0.29" stop-color="#406cfe"/><stop offset="0.36" stop-color="#3f6eff"/><stop offset="0.43" stop-color="#3e70ff"/><stop offset="0.5" stop-color="#3d71ff"/><stop offset="0.57" stop-color="#3b72ff"/><stop offset="0.64" stop-color="#3975fe"/><stop offset="0.71" stop-color="#3579fd"/><stop offset="0.79" stop-color="#3080fb"/><stop offset="0.86" stop-color="#2d88f6"/><stop offset="0.93" stop-color="#2d8cf3"/><stop offset="1" stop-color="#2d8cf3"/></linearGradient>
<linearGradient id="h3_125" x1="0" y1="0" x2="0" y2="1"><stop offset="0" stop-color="#475cfa"/><stop offset="0.07" stop-color="#4561fc"/><stop offset="0.14" stop-color="#4464fd"/><stop offset="0.21" stop-color="#4366fd"/><stop offset="0.29" stop-color="#4368fe"/><stop offset="0.36" stop-color="#426afe"/><stop offset="0.43" stop-color="#416bfe"/><stop offset="0.5" stop-color="#3f6dfe"/><stop offset="0.57" stop-color="#3d70ff"/><stop offset="0.64" stop-color="#3a74fe"/><stop offset="0.71" stop-color="#3579fd"/><stop offset="0.79" stop-color="#2f81fa"/><stop offset="0.86" stop-color="#2d8bf4"/><stop offset="0.93" stop-color="#2c8ff0"/><stop offset="1" stop-color="#2c8ff0"/></linearGradient>
<linearGradient id="h3_126" x1="0" y1="0" x2="0" y2="1"><stop offset="0" stop-color="#475bf9"/><stop offset="0.07" stop-color="#465ffb"/><stop offset="0.14" stop-color="#4562fc"/><stop offset="0.21" stop-color="#4465fd"/><stop offset="0.29" stop-color="#4466fd"/><stop offset="0.36" stop-color="#4367fd"/><stop offset="0.43" stop-color="#4269fe"/><stop offset="0.5" stop-color="#416cfe"/><stop offset="0.57" stop-color="#3e6fff"/><stop offset="0.64" stop-color="#3a73fe"/><stop offset="0.71" stop-color="#3579fd"/><stop offset="0.79" stop-color="#2f81fa"/><stop offset="0.86" stop-color="#2d8cf3"/><stop offset="0.93" stop-color="#2b91ef"/><stop offset="1" stop-color="#2b91ef"/></linearGradient>
<linearGradient id="h3_127" x1="0" y1="0" x2="0" y2="1"><stop offset="0" stop-color="#4758f8"/><stop offset="0.07" stop-color="#465dfa"/><stop offset="0.14" stop-color="#465ffb"/><stop offset="0.21" stop-color="#4561fc"/><stop offset="0.29" stop-color="#4562fc"/><stop offset="0.36" stop-color="#4563fd"/><stop offset="0.43" stop-color="#4465fd"/><stop offset="0.5" stop-color="#4368fe"/><stop offset="0.57" stop-color="#406dfe"/><stop offset="0.64" stop-color="#3b72ff"/><stop offset="0.71" stop-color="#3578fd"/><stop offset="0.79" stop-color="#2f82fa"/><stop offset="0.86" stop-color="#2d8df2"/><stop offset="0.93" stop-color="#2a92ee"/><stop offset="1" stop-color="#2a92ee"/></linearGradient>
<linearGradient id="h3_128" x1="0" y1="0" x2="0" y2="1"><stop offset="0" stop-color="#4755f6"/><stop offset="0.07" stop-color="#475af9"/><stop offset="0.14" stop-color="#475cfa"/><stop offset="0.21" stop-color="#465efb"/><stop offset="0.29" stop-color="#465ffb"/><stop offset="0.36" stop-color="#465ffb"/><stop offset="0.43" stop-color="#4661fc"/><stop offset="0.5" stop-color="#4465fd"/><stop offset="0.57" stop-color="#416bfe"/><stop offset="0.64" stop-color="#3d71ff"/><stop offset="0.71" stop-color="#3678fd"/><stop offset="0.79" stop-color="#2f82fa"/><stop offset="0.86" stop-color="#2d8df2"/><stop offset="0.93" stop-color="#2b92ee"/><stop offset="1" stop-color="#2b92ee"/></linearGradient>
<linearGradient id="h3_129" x1="0" y1="0" x2="0" y2="1"><stop offset="0" stop-color="#4851f4"/><stop offset="0.07" stop-color="#4757f7"/><stop offset="0.14" stop-color="#4759f9"/><stop offset="0.21" stop-color="#475af9"/><stop offset="0.29" stop-color="#475bf9"/><stop offset="0.36" stop-color="#475bf9"/><stop offset="0.43" stop-color="#475cfa"/><stop offset="0.5" stop-color="#4562fc"/><stop offset="0.57" stop-color="#4369fe"/><stop offset="0.64" stop-color="#3e6fff"/><stop offset="0.71" stop-color="#3777fe"/><stop offset="0.79" stop-color="#2f81fa"/><stop offset="0.86" stop-color="#2d8cf3"/><stop offset="0.93" stop-color="#2b91ef"/><stop offset="1" stop-color="#2b91ef"/></linearGradient>
<linearGradient id="h3_130" x1="0" y1="0" x2="0" y2="1"><stop offset="0" stop-color="#484cef"/><stop offset="0.07" stop-color="#4854f5"/><stop offset="0.14" stop-color="#4756f7"/><stop offset="0.21" stop-color="#4757f7"/><stop offset="0.29" stop-color="#4757f7"/><stop offset="0.36" stop-color="#4757f7"/><stop offset="0.43" stop-color="#4758f8"/><stop offset="0.5" stop-color="#465ffb"/><stop offset="0.57" stop-color="#4367fd"/><stop offset="0.64" stop-color="#3f6efe"/><stop offset="0.71" stop-color="#3875fe"/><stop offset="0.79" stop-color="#3080fa"/><stop offset="0.86" stop-color="#2d8bf4"/><stop offset="0.93" stop-color="#2c90f0"/><stop offset="1" stop-color="#2c90f0"/></linearGradient>
<linearGradient id="h3_131" x1="0" y1="0" x2="0" y2="1"><stop offset="0" stop-color="#4848ec"/><stop offset="0.07" stop-color="#4852f4"/><stop offset="0.14" stop-color="#4854f5"/><stop offset="0.21" stop-color="#4755f6"/><stop offset="0.29" stop-color="#4755f6"/><stop offset="0.36" stop-color="#4755f6"/><stop offset="0.43" stop-color="#4756f7"/><stop offset="0.5" stop-color="#465dfa"/><stop offset="0.57" stop-color="#4465fd"/><stop offset="0.64" stop-color="#406dfe"/><stop offset="0.71" stop-color="#3975fe"/><stop offset="0.79" stop-color="#307ffb"/><stop offset="0.86" stop-color="#2d8af4"/><stop offset="0.93" stop-color="#2c8ff1"/><stop offset="1" stop-color="#2c8ff1"/></linearGradient>
<linearGradient id="h3_132" x1="0" y1="0" x2="0" y2="1"><stop offset="0" stop-color="#4742e6"/><stop offset="0.07" stop-color="#484df0"/><stop offset="0.14" stop-color="#484ff2"/><stop offset="0.21" stop-color="#4850f3"/><stop offset="0.29" stop-color="#4850f3"/><stop offset="0.36" stop-color="#4850f3"/><stop offset="0.43" stop-color="#4852f4"/><stop offset="0.5" stop-color="#475af9"/><stop offset="0.57" stop-color="#4563fc"/><stop offset="0.64" stop-color="#416afe"/><stop offset="0.71" stop-color="#3b73fe"/><stop offset="0.79" stop-color="#317dfc"/><stop offset="0.86" stop-color="#2d89f6"/><stop offset="0.93" stop-color="#2d8df2"/><stop offset="1" stop-color="#2d8df2"/></linearGradient>
<linearGradient id="h3_133" x1="0" y1="0" x2="0" y2="1"><stop offset="0" stop-color="#463ee1"/><stop offset="0.07" stop-color="#4746ea"/><stop offset="0.14" stop-color="#484aed"/><stop offset="0.21" stop-color="#484bef"/><stop offset="0.29" stop-color="#484bef"/><stop offset="0.36" stop-color="#484bef"/><stop offset="0.43" stop-color="#484df0"/><stop offset="0.5" stop-color="#4756f7"/><stop offset="0.57" stop-color="#4660fc"/><stop offset="0.64" stop-color="#4368fe"/><stop offset="0.71" stop-color="#3d70ff"/><stop offset="0.79" stop-color="#337bfc"/><stop offset="0.86" stop-color="#2e86f7"/><stop offset="0.93" stop-color="#2d8af5"/><stop offset="1" stop-color="#2d8af5"/></linearGradient>
<linearGradient id="h3_134" x1="0" y1="0" x2="0" y2="1"><stop offset="0" stop-color="#463bdc"/><stop offset="0.07" stop-color="#4740e4"/><stop offset="0.14" stop-color="#4744e8"/><stop offset="0.21" stop-color="#4746ea"/><stop offset="0.29" stop-color="#4746ea"/><stop offset="0.36" stop-color="#4746ea"/><stop offset="0.43" stop-color="#4848ec"/><stop offset="0.5" stop-color="#4852f4"/><stop offset="0.57" stop-color="#465dfa"/><stop offset="0.64" stop-color="#4466fd"/><stop offset="0.71" stop-color="#3f6eff"/><stop offset="0.79" stop-color="#3578fd"/><stop offset="0.86" stop-color="#2f82f9"/><stop offset="0.93" stop-color="#2e86f7"/><stop offset="1" stop-color="#2e86f7"/></linearGradient>
<linearGradient id="h3_135" x1="0" y1="0" x2="0" y2="1"><stop offset="0" stop-color="#4639da"/><stop offset="0.07" stop-color="#473ee1"/><stop offset="0.14" stop-color="#4742e6"/><stop offset="0.21" stop-color="#4744e8"/><stop offset="0.29" stop-color="#4744e8"/><stop offset="0.36" stop-color="#4744e8"/><stop offset="0.43" stop-color="#4746ea"/><stop offset="0.5" stop-color="#4850f3"/><stop offset="0.57" stop-color="#475bf9"/><stop offset="0.64" stop-color="#4464fd"/><stop offset="0.71" stop-color="#406dfe"/><stop offset="0.79" stop-color="#3777fe"/><stop offset="0.86" stop-color="#2f81fa"/><stop offset="0.93" stop-color="#2e84f8"/><stop offset="1" stop-color="#2e84f8"/></linearGradient>
<linearGradient id="h3_136" x1="0" y1="0" x2="0" y2="1"><stop offset="0" stop-color="#4537d6"/><stop offset="0.07" stop-color="#463bdc"/><stop offset="0.14" stop-color="#463ee1"/><stop offset="0.21" stop-color="#473fe3"/><stop offset="0.29" stop-color="#473fe3"/><stop offset="0.36" stop-color="#473fe3"/><stop offset="0.43" stop-color="#4741e5"/><stop offset="0.5" stop-color="#484cef"/><stop offset="0.57" stop-color="#4757f7"/><stop offset="0.64" stop-color="#4661fc"/><stop offset="0.71" stop-color="#426afe"/><stop offset="0.79" stop-color="#3a74fe"/><stop offset="0.86" stop-color="#317dfc"/><stop offset="0.93" stop-color="#3080fa"/><stop offset="1" stop-color="#3080fa"/></linearGradient>
<linearGradient id="h3_137" x1="0" y1="0" x2="0" y2="1"><stop offset="0" stop-color="#4435d2"/><stop offset="0.07" stop-color="#4538d7"/><stop offset="0.14" stop-color="#463adb"/><stop offset="0.21" stop-color="#463cde"/><stop offset="0.29" stop-color="#463cde"/><stop offset="0.36" stop-color="#463cde"/><stop offset="0.43" stop-color="#463de0"/><stop offset="0.5" stop-color="#4747eb"/><stop offset="0.57" stop-color="#4852f4"/><stop offset="0.64" stop-color="#475cfa"/><stop offset="0.71" stop-color="#4367fd"/><stop offset="0.79" stop-color="#3e70ff"/><stop offset="0.86" stop-color="#3578fd"/><stop offset="0.93" stop-color="#327cfc"/><stop offset="1" stop-color="#327cfc"/></linearGradient>
<linearGradient id="h3_138" x1="0" y1="0" x2="0" y2="1"><stop offset="0" stop-color="#4434ce"/><stop offset="0.07" stop-color="#4435d1"/><stop offset="0.14" stop-color="#4537d6"/><stop offset="0.21" stop-color="#4538d8"/><stop offset="0.29" stop-color="#4538d8"/><stop offset="0.36" stop-color="#4538d8"/><stop offset="0.43" stop-color="#463ada"/><stop offset="0.5" stop-color="#4742e6"/><stop offset="0.57" stop-color="#484cf0"/><stop offset="0.64" stop-color="#4758f8"/><stop offset="0.71" stop-color="#4563fc"/><stop offset="0.79" stop-color="#416cfe"/><stop offset="0.86" stop-color="#3a74fe"/><stop offset="0.93" stop-color="#3777fe"/><stop offset="1" stop-color="#3777fe"/></linearGradient>
<linearGradient id="h3_139" x1="0" y1="0" x2="0" y2="1"><stop offset="0" stop-color="#4433cc"/><stop offset="0.07" stop-color="#4434cf"/><stop offset="0.14" stop-color="#4536d3"/><stop offset="0.21" stop-color="#4537d5"/><stop offset="0.29" stop-color="#4537d6"/><stop offset="0.36" stop-color="#4537d6"/><stop offset="0.43" stop-color="#4538d8"/><stop offset="0.5" stop-color="#4740e3"/><stop offset="0.57" stop-color="#484aed"/><stop offset="0.64" stop-color="#4755f6"/><stop offset="0.71" stop-color="#4660fc"/><stop offset="0.79" stop-color="#4269fe"/><stop offset="0.86" stop-color="#3c72ff"/><stop offset="0.93" stop-color="#3975fe"/><stop offset="1" stop-color="#3975fe"/></linearGradient>
<linearGradient id="h3_140" x1="0" y1="0" x2="0" y2="1"><stop offset="0" stop-color="#4331c8"/><stop offset="0.07" stop-color="#4332c9"/><stop offset="0.14" stop-color="#4433cd"/><stop offset="0.21" stop-color="#4434cf"/><stop offset="0.29" stop-color="#4434cf"/><stop offset="0.36" stop-color="#4434cf"/><stop offset="0.43" stop-color="#4435d1"/><stop offset="0.5" stop-color="#463bdd"/><stop offset="0.57" stop-color="#4744e8"/><stop offset="0.64" stop-color="#4850f2"/><stop offset="0.71" stop-color="#475cfa"/><stop offset="0.79" stop-color="#4465fd"/><stop offset="0.86" stop-color="#406cfe"/><stop offset="0.93" stop-color="#3e70ff"/><stop offset="1" stop-color="#3e70ff"/></linearGradient>
<linearGradient id="h3_141" x1="0" y1="0" x2="0" y2="1"><stop offset="0" stop-color="#4230c4"/><stop offset="0.07" stop-color="#4230c4"/><stop offset="0.14" stop-color="#4331c7"/><stop offset="0.21" stop-color="#4332c9"/><stop offset="0.29" stop-color="#4332c9"/><stop offset="0.36" stop-color="#4332c9"/><stop offset="0.43" stop-color="#4433cb"/><stop offset="0.5" stop-color="#4537d6"/><stop offset="0.57" stop-color="#473fe2"/><stop offset="0.64" stop-color="#484aee"/><stop offset="0.71" stop-color="#4755f6"/><stop offset="0.79" stop-color="#465efb"/><stop offset="0.86" stop-color="#4367fd"/><stop offset="0.93" stop-color="#426afe"/><stop offset="1" stop-color="#426afe"/></linearGradient>
<linearGradient id="h3_142" x1="0" y1="0" x2="0" y2="1"><stop offset="0" stop-color="#422ec0"/><stop offset="0.07" stop-color="#422ec0"/><stop offset="0.14" stop-color="#422fc1"/><stop offset="0.21" stop-color="#4230c3"/><stop offset="0.29" stop-color="#4230c3"/><stop offset="0.36" stop-color="#4230c3"/><stop offset="0.43" stop-color="#4330c5"/><stop offset="0.5" stop-color="#4434cf"/><stop offset="0.57" stop-color="#463ada"/><stop offset="0.64" stop-color="#4742e6"/><stop offset="0.71" stop-color="#484df0"/><stop offset="0.79" stop-color="#4756f7"/><stop offset="0.86" stop-color="#465ffb"/><stop offset="0.93" stop-color="#4563fd"/><stop offset="1" stop-color="#4563fd"/></linearGradient>
<linearGradient id="h3_143" x1="0" y1="0" x2="0" y2="1"><stop offset="0" stop-color="#412dbd"/><stop offset="0.07" stop-color="#412dbd"/><stop offset="0.14" stop-color="#422ebe"/><stop offset="0.21" stop-color="#422fc0"/><stop offset="0.29" stop-color="#422fc0"/><stop offset="0.36" stop-color="#422fc0"/><stop offset="0.43" stop-color="#422fc2"/><stop offset="0.5" stop-color="#4433cb"/><stop offset="0.57" stop-color="#4537d6"/><stop offset="0.64" stop-color="#473fe2"/><stop offset="0.71" stop-color="#4848ec"/><stop offset="0.79" stop-color="#4852f4"/><stop offset="0.86" stop-color="#475bfa"/><stop offset="0.93" stop-color="#465ffb"/><stop offset="1" stop-color="#465ffb"/></linearGradient>
<linearGradient id="h3_144" x1="0" y1="0" x2="0" y2="1"><stop offset="0" stop-color="#412cb8"/><stop offset="0.07" stop-color="#402bb8"/><stop offset="0.14" stop-color="#412cb9"/><stop offset="0.21" stop-color="#412dbb"/><stop offset="0.29" stop-color="#412dbb"/><stop offset="0.36" stop-color="#412dbb"/><stop offset="0.43" stop-color="#412dbc"/><stop offset="0.5" stop-color="#4230c4"/><stop offset="0.57" stop-color="#4434ce"/><stop offset="0.64" stop-color="#4539d9"/><stop offset="0.71" stop-color="#4740e4"/><stop offset="0.79" stop-color="#4849ed"/><stop offset="0.86" stop-color="#4853f4"/><stop offset="0.93" stop-color="#4756f7"/><stop offset="1" stop-color="#4756f7"/></linearGradient>
<linearGradient id="h3_145" x1="0" y1="0" x2="0" y2="1"><stop offset="0" stop-color="#402ab3"/><stop offset="0.07" stop-color="#402ab3"/><stop offset="0.14" stop-color="#402ab4"/><stop offset="0.21" stop-color="#402bb6"/><stop offset="0.29" stop-color="#402ab5"/><stop offset="0.36" stop-color="#402ab5"/><stop offset="0.43" stop-color="#402bb6"/><stop offset="0.5" stop-color="#412dbd"/><stop offset="0.57" stop-color="#4331c6"/><stop offset="0.64" stop-color="#4434cf"/><stop offset="0.71" stop-color="#4539d8"/><stop offset="0.79" stop-color="#4740e3"/><stop offset="0.86" stop-color="#4849ed"/><stop offset="0.93" stop-color="#484df0"/><stop offset="1" stop-color="#484df0"/></linearGradient>
<linearGradient id="h3_146" x1="0" y1="0" x2="0" y2="1"><stop offset="0" stop-color="#3f28ae"/><stop offset="0.07" stop-color="#3f28ae"/><stop offset="0.14" stop-color="#3f28af"/><stop offset="0.21" stop-color="#3f29b0"/><stop offset="0.29" stop-color="#3f29b0"/><stop offset="0.36" stop-color="#3f28ae"/><stop offset="0.43" stop-color="#3f28af"/><stop offset="0.5" stop-color="#402bb7"/><stop offset="0.57" stop-color="#422ebf"/><stop offset="0.64" stop-color="#4330c5"/><stop offset="0.71" stop-color="#4433cc"/><stop offset="0.79" stop-color="#4538d8"/><stop offset="0.86" stop-color="#4740e4"/><stop offset="0.93" stop-color="#4744e8"/><stop offset="1" stop-color="#4744e8"/></linearGradient>
<linearGradient id="h3_147" x1="0" y1="0" x2="0" y2="1"><stop offset="0" stop-color="#3e28ac"/><stop offset="0.07" stop-color="#3e28ac"/><stop offset="0.14" stop-color="#3f28ad"/><stop offset="0.21" stop-color="#3f28ae"/><stop offset="0.29" stop-color="#3f28ad"/><stop offset="0.36" stop-color="#3e27ab"/><stop offset="0.43" stop-color="#3e28ac"/><stop offset="0.5" stop-color="#402ab4"/><stop offset="0.57" stop-color="#412dbb"/><stop offset="0.64" stop-color="#422fc1"/><stop offset="0.71" stop-color="#4331c7"/><stop offset="0.79" stop-color="#4536d2"/><stop offset="0.86" stop-color="#463ddf"/><stop offset="0.93" stop-color="#4740e4"/><stop offset="1" stop-color="#4740e4"/></linearGradient>
<linearGradient id="h3_148" x1="0" y1="0" x2="0" y2="1"><stop offset="0" stop-color="#3e27a9"/><stop offset="0.07" stop-color="#3e27a9"/><stop offset="0.14" stop-color="#3e27aa"/><stop offset="0.21" stop-color="#3e27aa"/><stop offset="0.29" stop-color="#3e27a9"/><stop offset="0.36" stop-color="#3e26a9"/><stop offset="0.43" stop-color="#3e27a9"/><stop offset="0.5" stop-color="#3f28af"/><stop offset="0.57" stop-color="#402ab5"/><stop offset="0.64" stop-color="#412cb9"/><stop offset="0.71" stop-color="#422ebf"/><stop offset="0.79" stop-color="#4332c8"/><stop offset="0.86" stop-color="#4536d4"/><stop offset="0.93" stop-color="#4539d9"/><stop offset="1" stop-color="#4539d9"/></linearGradient>
<linearGradient id="h3_149" x1="0" y1="0" x2="0" y2="1"><stop offset="0" stop-color="#3e26a8"/><stop offset="0.07" stop-color="#3e26a8"/><stop offset="0.14" stop-color="#3e26a8"/><stop offset="0.21" stop-color="#3e26a8"/><stop offset="0.29" stop-color="#3e26a8"/><stop offset="0.36" stop-color="#3e26a8"/><stop offset="0.43" stop-color="#3e26a9"/><stop offset="0.5" stop-color="#3e27aa"/><stop offset="0.57" stop-color="#3e28ac"/><stop offset="0.64" stop-color="#3f29b1"/><stop offset="0.71" stop-color="#402bb8"/><stop offset="0.79" stop-color="#422ebf"/><stop offset="0.86" stop-color="#4332c9"/><stop offset="0.93" stop-color="#4433cc"/><stop offset="1" stop-color="#4433cc"/></linearGradient>
<linearGradient id="h3_150" x1="0" y1="0" x2="0" y2="1"><stop offset="0" stop-color="#3e26a8"/><stop offset="0.07" stop-color="#3e26a8"/><stop offset="0.14" stop-color="#3e26a8"/><stop offset="0.21" stop-color="#3e26a8"/><stop offset="0.29" stop-color="#3e26a8"/><stop offset="0.36" stop-color="#3e26a8"/><stop offset="0.43" stop-color="#3e26a8"/><stop offset="0.5" stop-color="#3e26a8"/><stop offset="0.57" stop-color="#3e26a8"/><stop offset="0.64" stop-color="#3e27ac"/><stop offset="0.71" stop-color="#3f29b1"/><stop offset="0.79" stop-color="#402bb7"/><stop offset="0.86" stop-color="#412ebe"/><stop offset="0.93" stop-color="#422fc1"/><stop offset="1" stop-color="#422fc1"/></linearGradient>
<linearGradient id="h3_151" x1="0" y1="0" x2="0" y2="1"><stop offset="0" stop-color="#3e26a8"/><stop offset="0.07" stop-color="#3e26a8"/><stop offset="0.14" stop-color="#3e26a8"/><stop offset="0.21" stop-color="#3e26a8"/><stop offset="0.29" stop-color="#3e26a8"/><stop offset="0.36" stop-color="#3e26a8"/><stop offset="0.43" stop-color="#3e26a8"/><stop offset="0.5" stop-color="#3e26a8"/><stop offset="0.57" stop-color="#3e26a8"/><stop offset="0.64" stop-color="#3e27aa"/><stop offset="0.71" stop-color="#3f28ae"/><stop offset="0.79" stop-color="#402ab3"/><stop offset="0.86" stop-color="#412cb9"/><stop offset="0.93" stop-color="#412dbc"/><stop offset="1" stop-color="#412dbc"/></linearGradient>
<linearGradient id="h3_152" x1="0" y1="0" x2="0" y2="1"><stop offset="0" stop-color="#3e26a8"/><stop offset="0.07" stop-color="#3e26a8"/><stop offset="0.14" stop-color="#3e26a8"/><stop offset="0.21" stop-color="#3e26a8"/><stop offset="0.29" stop-color="#3e26a8"/><stop offset="0.36" stop-color="#3e26a8"/><stop offset="0.43" stop-color="#3e26a8"/><stop offset="0.5" stop-color="#3e26a8"/><stop offset="0.57" stop-color="#3e26a8"/><stop offset="0.64" stop-color="#3e26a9"/><stop offset="0.71" stop-color="#3e27a9"/><stop offset="0.79" stop-color="#3e27ac"/><stop offset="0.86" stop-color="#3f29b1"/><stop offset="0.93" stop-color="#402ab3"/><stop offset="1" stop-color="#402ab3"/></linearGradient>
<linearGradient id="h3_153" x1="0" y1="0" x2="0" y2="1"><stop offset="0" stop-color="#3e26a8"/><stop offset="0.07" stop-color="#3e26a8"/><stop offset="0.14" stop-color="#3e26a8"/><stop offset="0.21" stop-color="#3e26a8"/><stop offset="0.29" stop-color="#3e26a8"/><stop offset="0.36" stop-color="#3e26a8"/><stop offset="0.43" stop-color="#3e26a8"/><stop offset="0.5" stop-color="#3e26a8"/><stop offset="0.57" stop-color="#3e26a8"/><stop offset="0.64" stop-color="#3e26a8"/><stop offset="0.71" stop-color="#3e26a8"/><stop offset="0.79" stop-color="#3e27a9"/><stop offset="0.86" stop-color="#3e27ab"/><stop offset="0.93" stop-color="#3e27ac"/><stop offset="1" stop-color="#3e27ac"/></linearGradient>
<linearGradient id="h3_154" x1="0" y1="0" x2="0" y2="1"><stop offset="0" stop-color="#3e26a8"/><stop offset="0.07" stop-color="#3e26a8"/><stop offset="0.14" stop-color="#3e26a8"/><stop offset="0.21" stop-color="#3e26a8"/><stop offset="0.29" stop-color="#3e26a8"/><stop offset="0.36" stop-color="#3e26a8"/><stop offset="0.43" stop-color="#3e26a8"/><stop offset="0.5" stop-color="#3e26a8"/><stop offset="0.57" stop-color="#3e26a8"/><stop offset="0.64" stop-color="#3e26a8"/><stop offset="0.71" stop-color="#3e26a8"/><stop offset="0.79" stop-color="#3e26a8"/><stop offset="0.86" stop-color="#3e26a8"/><stop offset="0.93" stop-color="#3e26a8"/><stop offset="1" stop-color="#3e26a8"/></linearGradient>
<linearGradient id="h3_155" x1="0" y1="0" x2="0" y2="1"><stop offset="0" stop-color="#3e26a8"/><stop offset="0.07" stop-color="#3e26a8"/><stop offset="0.14" stop-color="#3e26a8"/><stop offset="0.21" stop-color="#3e26a8"/><stop offset="0.29" stop-color="#3e26a8"/><stop offset="0.36" stop-color="#3e26a8"/><stop offset="0.43" stop-color="#3e26a8"/><stop offset="0.5" stop-color="#3e26a8"/><stop offset="0.57" stop-color="#3e26a8"/><stop offset="0.64" stop-color="#3e26a8"/><stop offset="0.71" stop-color="#3e26a8"/><stop offset="0.79" stop-color="#3e26a8"/><stop offset="0.86" stop-color="#3e26a8"/><stop offset="0.93" stop-color="#3e26a8"/><stop offset="1" stop-color="#3e26a8"/></linearGradient>
<linearGradient id="h3_156" x1="0" y1="0" x2="0" y2="1"><stop offset="0" stop-color="#3e26a8"/><stop offset="0.07" stop-color="#3e26a8"/><stop offset="0.14" stop-color="#3e26a8"/><stop offset="0.21" stop-color="#3e26a8"/><stop offset="0.29" stop-color="#3e26a8"/><stop offset="0.36" stop-color="#3e26a8"/><stop offset="0.43" stop-color="#3e26a8"/><stop offset="0.5" stop-color="#3e26a8"/><stop offset="0.57" stop-color="#3e26a8"/><stop offset="0.64" stop-color="#3e26a8"/><stop offset="0.71" stop-color="#3e26a8"/><stop offset="0.79" stop-color="#3e26a8"/><stop offset="0.86" stop-color="#3e26a8"/><stop offset="0.93" stop-color="#3e26a8"/><stop offset="1" stop-color="#3e26a8"/></linearGradient>
<linearGradient id="h3_157" x1="0" y1="0" x2="0" y2="1"><stop offset="0" stop-color="#3e26a8"/><stop offset="0.07" stop-color="#3e26a8"/><stop offset="0.14" stop-color="#3e26a8"/><stop offset="0.21" stop-color="#3e26a8"/><stop offset="0.29" stop-color="#3e26a8"/><stop offset="0.36" stop-color="#3e26a9"/><stop offset="0.43" stop-color="#3e27a9"/><stop offset="0.5" stop-color="#3e27ab"/><stop offset="0.57" stop-color="#3e27ac"/><stop offset="0.64" stop-color="#3e27aa"/><stop offset="0.71" stop-color="#3e26a8"/><stop offset="0.79" stop-color="#3e26a8"/><stop offset="0.86" stop-color="#3e26a8"/><stop offset="0.93" stop-color="#3e26a8"/><stop offset="1" stop-color="#3e26a8"/></linearGradient>
<linearGradient id="h3_158" x1="0" y1="0" x2="0" y2="1"><stop offset="0" stop-color="#3e26a8"/><stop offset="0.07" stop-color="#3e26a8"/><stop offset="0.14" stop-color="#3e26a8"/><stop offset="0.21" stop-color="#3e26a8"/><stop offset="0.29" stop-color="#3e27a9"/><stop offset="0.36" stop-color="#3e27ac"/><stop offset="0.43" stop-color="#3f28ae"/><stop offset="0.5" stop-color="#3f29b2"/><stop offset="0.57" stop-color="#402ab3"/><stop offset="0.64" stop-color="#3f28af"/><stop offset="0.71" stop-color="#3e27aa"/><stop offset="0.79" stop-color="#3e26a9"/><stop offset="0.86" stop-color="#3e26a8"/><stop offset="0.93" stop-color="#3e26a8"/><stop offset="1" stop-color="#3e26a8"/></linearGradient>
<linearGradient id="h3_159" x1="0" y1="0" x2="0" y2="1"><stop offset="0" stop-color="#3e26a8"/><stop offset="0.07" stop-color="#3e26a8"/><stop offset="0.14" stop-color="#3e26a8"/><stop offset="0.21" stop-color="#3e26a8"/><stop offset="0.29" stop-color="#3e27aa"/><stop offset="0.36" stop-color="#3f28ae"/><stop offset="0.43" stop-color="#3f29b2"/><stop offset="0.5" stop-color="#402bb6"/><stop offset="0.57" stop-color="#402bb7"/><stop offset="0.64" stop-color="#3f29b2"/><stop offset="0.71" stop-color="#3e27ac"/><stop offset="0.79" stop-color="#3e27aa"/><stop offset="0.86" stop-color="#3e26a9"/><stop offset="0.93" stop-color="#3e26a8"/><stop offset="1" stop-color="#3e26a8"/></linearGradient>
<linearGradient id="h3_160" x1="0" y1="0" x2="0" y2="1"><stop offset="0" stop-color="#3e26a8"/><stop offset="0.07" stop-color="#3e26a8"/><stop offset="0.14" stop-color="#3e26a8"/><stop offset="0.21" stop-color="#3e26a9"/><stop offset="0.29" stop-color="#3e28ac"/><stop offset="0.36" stop-color="#402ab4"/><stop offset="0.43" stop-color="#412cba"/><stop offset="0.5" stop-color="#422ebf"/><stop offset="0.57" stop-color="#422fc2"/><stop offset="0.64" stop-color="#412dbb"/><stop offset="0.71" stop-color="#402ab3"/><stop offset="0.79" stop-color="#3f29b0"/><stop offset="0.86" stop-color="#3f28ad"/><stop offset="0.93" stop-color="#3e27ac"/><stop offset="1" stop-color="#3e27ac"/></linearGradient>
<linearGradient id="h3_161" x1="0" y1="0" x2="0" y2="1"><stop offset="0" stop-color="#3e26a8"/><stop offset="0.07" stop-color="#3e26a8"/><stop offset="0.14" stop-color="#3e27a9"/><stop offset="0.21" stop-color="#3e27ab"/><stop offset="0.29" stop-color="#3f29b1"/><stop offset="0.36" stop-color="#412cbb"/><stop offset="0.43" stop-color="#4230c4"/><stop offset="0.5" stop-color="#4433cd"/><stop offset="0.57" stop-color="#4435d0"/><stop offset="0.64" stop-color="#4331c7"/><stop offset="0.71" stop-color="#412dbc"/><stop offset="0.79" stop-color="#402bb8"/><stop offset="0.86" stop-color="#402ab5"/><stop offset="0.93" stop-color="#402ab4"/><stop offset="1" stop-color="#402ab4"/></linearGradient>
<linearGradient id="h3_162" x1="0" y1="0" x2="0" y2="1"><stop offset="0" stop-color="#3e26a8"/><stop offset="0.07" stop-color="#3e26a8"/><stop offset="0.14" stop-color="#3e27ab"/><stop offset="0.21" stop-color="#3f28af"/><stop offset="0.29" stop-color="#402bb8"/><stop offset="0.36" stop-color="#4330c4"/><stop offset="0.43" stop-color="#4435d2"/><stop offset="0.5" stop-color="#463cdf"/><stop offset="0.57" stop-color="#4740e3"/><stop offset="0.64" stop-color="#4639d9"/><stop offset="0.71" stop-color="#4332ca"/><stop offset="0.79" stop-color="#4230c3"/><stop offset="0.86" stop-color="#422ebf"/><stop offset="0.93" stop-color="#412ebe"/><stop offset="1" stop-color="#412ebe"/></linearGradient>
<linearGradient id="h3_163" x1="0" y1="0" x2="0" y2="1"><stop offset="0" stop-color="#3e26a8"/><stop offset="0.07" stop-color="#3e26a9"/><stop offset="0.14" stop-color="#3f28ad"/><stop offset="0.21" stop-color="#402ab4"/><stop offset="0.29" stop-color="#422ec0"/><stop offset="0.36" stop-color="#4435d1"/><stop offset="0.43" stop-color="#463cdf"/><stop offset="0.5" stop-color="#4746ea"/><stop offset="0.57" stop-color="#4849ed"/><stop offset="0.64" stop-color="#4742e6"/><stop offset="0.71" stop-color="#4639da"/><stop offset="0.79" stop-color="#4536d3"/><stop offset="0.86" stop-color="#4434ce"/><stop offset="0.93" stop-color="#4433cc"/><stop offset="1" stop-color="#4433cc"/></linearGradient>
<linearGradient id="h3_164" x1="0" y1="0" x2="0" y2="1"><stop offset="0" stop-color="#3e26a8"/><stop offset="0.07" stop-color="#3e26a9"/><stop offset="0.14" stop-color="#3f28ae"/><stop offset="0.21" stop-color="#402bb7"/><stop offset="0.29" stop-color="#4230c4"/><stop offset="0.36" stop-color="#4538d7"/><stop offset="0.43" stop-color="#4740e4"/><stop offset="0.5" stop-color="#484aee"/><stop offset="0.57" stop-color="#484ef1"/><stop offset="0.64" stop-color="#4747eb"/><stop offset="0.71" stop-color="#473ee2"/><stop offset="0.79" stop-color="#463adc"/><stop offset="0.86" stop-color="#4538d7"/><stop offset="0.93" stop-color="#4537d5"/><stop offset="1" stop-color="#4537d5"/></linearGradient>
<linearGradient id="h3_165" x1="0" y1="0" x2="0" y2="1"><stop offset="0" stop-color="#3e26a8"/><stop offset="0.07" stop-color="#3e26a9"/><stop offset="0.14" stop-color="#3f29b0"/><stop offset="0.21" stop-color="#412dbc"/><stop offset="0.29" stop-color="#4433cd"/><stop offset="0.36" stop-color="#463ee1"/><stop offset="0.43" stop-color="#4848ec"/><stop offset="0.5" stop-color="#4852f4"/><stop offset="0.57" stop-color="#4756f6"/><stop offset="0.64" stop-color="#4851f3"/><stop offset="0.71" stop-color="#484aee"/><stop offset="0.79" stop-color="#4746ea"/><stop offset="0.86" stop-color="#4743e7"/><stop offset="0.93" stop-color="#4742e6"/><stop offset="1" stop-color="#4742e6"/></linearGradient>
<linearGradient id="h3_166" x1="0" y1="0" x2="0" y2="1"><stop offset="0" stop-color="#3e26a8"/><stop offset="0.07" stop-color="#3e26a9"/><stop offset="0.14" stop-color="#4029b2"/><stop offset="0.21" stop-color="#422fc2"/><stop offset="0.29" stop-color="#4538d7"/><stop offset="0.36" stop-color="#4746ea"/><stop offset="0.43" stop-color="#4851f3"/><stop offset="0.5" stop-color="#475af9"/><stop offset="0.57" stop-color="#465efb"/><stop offset="0.64" stop-color="#475bfa"/><stop offset="0.71" stop-color="#4758f8"/><stop offset="0.79" stop-color="#4854f5"/><stop offset="0.86" stop-color="#4850f3"/><stop offset="0.93" stop-color="#484ff2"/><stop offset="1" stop-color="#484ff2"/></linearGradient>
<linearGradient id="h3_167" x1="0" y1="0" x2="0" y2="1"><stop offset="0" stop-color="#3e26a8"/><stop offset="0.07" stop-color="#3e27a9"/><stop offset="0.14" stop-color="#402bb6"/><stop offset="0.21" stop-color="#4332c9"/><stop offset="0.29" stop-color="#463ee0"/><stop offset="0.36" stop-color="#484ff2"/><stop offset="0.43" stop-color="#475af9"/><stop offset="0.5" stop-color="#4562fc"/><stop offset="0.57" stop-color="#4465fd"/><stop offset="0.64" stop-color="#4465fd"/><stop offset="0.71" stop-color="#4464fd"/><stop offset="0.79" stop-color="#4562fc"/><stop offset="0.86" stop-color="#465efb"/><stop offset="0.93" stop-color="#475cfa"/><stop offset="1" stop-color="#475cfa"/></linearGradient>
<linearGradient id="h3_168" x1="0" y1="0" x2="0" y2="1"><stop offset="0" stop-color="#3e26a8"/><stop offset="0.07" stop-color="#3e27a9"/><stop offset="0.14" stop-color="#402bb7"/><stop offset="0.21" stop-color="#4434ce"/><stop offset="0.29" stop-color="#4741e5"/><stop offset="0.36" stop-color="#4853f5"/><stop offset="0.43" stop-color="#465efb"/><stop offset="0.5" stop-color="#4465fd"/><stop offset="0.57" stop-color="#4269fe"/><stop offset="0.64" stop-color="#426afe"/><stop offset="0.71" stop-color="#416bfe"/><stop offset="0.79" stop-color="#4269fe"/><stop offset="0.86" stop-color="#4465fd"/><stop offset="0.93" stop-color="#4562fc"/><stop offset="1" stop-color="#4562fc"/></linearGradient>
<linearGradient id="h3_169" x1="0" y1="0" x2="0" y2="1"><stop offset="0" stop-color="#3e26a9"/><stop offset="0.07" stop-color="#3e27a9"/><stop offset="0.14" stop-color="#412dbc"/><stop offset="0.21" stop-color="#4538d7"/><stop offset="0.29" stop-color="#4848ec"/><stop offset="0.36" stop-color="#475bfa"/><stop offset="0.43" stop-color="#4466fd"/><stop offset="0.5" stop-color="#406cfe"/><stop offset="0.57" stop-color="#3d71ff"/><stop offset="0.64" stop-color="#3776fe"/><stop offset="0.71" stop-color="#347afd"/><stop offset="0.79" stop-color="#3677fe"/><stop offset="0.86" stop-color="#3d71ff"/><stop offset="0.93" stop-color="#3f6dfe"/><stop offset="1" stop-color="#3f6dfe"/></linearGradient>
<linearGradient id="h3_170" x1="0" y1="0" x2="0" y2="1"><stop offset="0" stop-color="#3e27aa"/><stop offset="0.07" stop-color="#3e27ab"/><stop offset="0.14" stop-color="#422fc2"/><stop offset="0.21" stop-color="#463de0"/><stop offset="0.29" stop-color="#484ff2"/><stop offset="0.36" stop-color="#4563fc"/><stop offset="0.43" stop-color="#3f6eff"/><stop offset="0.5" stop-color="#3974fe"/><stop offset="0.57" stop-color="#337bfc"/><stop offset="0.64" stop-color="#2e85f8"/><stop offset="0.71" stop-color="#2d8cf3"/><stop offset="0.79" stop-color="#2d89f5"/><stop offset="0.86" stop-color="#2f80fa"/><stop offset="0.93" stop-color="#327cfc"/><stop offset="1" stop-color="#327cfc"/></linearGradient>
<linearGradient id="h3_171" x1="0" y1="0" x2="0" y2="1"><stop offset="0" stop-color="#3f28ae"/><stop offset="0.07" stop-color="#3f28af"/><stop offset="0.14" stop-color="#4332c9"/><stop offset="0.21" stop-color="#4743e7"/><stop offset="0.29" stop-color="#4756f6"/><stop offset="0.36" stop-color="#426afe"/><stop offset="0.43" stop-color="#3677fe"/><stop offset="0.5" stop-color="#3080fa"/><stop offset="0.57" stop-color="#2d88f6"/><stop offset="0.64" stop-color="#2895ec"/><stop offset="0.71" stop-color="#249ee6"/><stop offset="0.79" stop-color="#259be7"/><stop offset="0.86" stop-color="#2a93ed"/><stop offset="0.93" stop-color="#2c8ff0"/><stop offset="1" stop-color="#2c8ff0"/></linearGradient>
<linearGradient id="h3_172" x1="0" y1="0" x2="0" y2="1"><stop offset="0" stop-color="#3f29b0"/><stop offset="0.07" stop-color="#3f29b1"/><stop offset="0.14" stop-color="#4433cd"/><stop offset="0.21" stop-color="#4746ea"/><stop offset="0.29" stop-color="#4759f8"/><stop offset="0.36" stop-color="#406dfe"/><stop offset="0.43" stop-color="#327cfc"/><stop offset="0.5" stop-color="#2e86f7"/><stop offset="0.57" stop-color="#2c90f0"/><stop offset="0.64" stop-color="#249ee6"/><stop offset="0.71" stop-color="#1ea7e1"/><stop offset="0.79" stop-color="#20a5e3"/><stop offset="0.86" stop-color="#249de6"/><stop offset="0.93" stop-color="#269ae9"/><stop offset="1" stop-color="#269ae9"/></linearGradient>
<linearGradient id="h3_173" x1="0" y1="0" x2="0" y2="1"><stop offset="0" stop-color="#402ab4"/><stop offset="0.07" stop-color="#402bb6"/><stop offset="0.14" stop-color="#4536d4"/><stop offset="0.21" stop-color="#484cf0"/><stop offset="0.29" stop-color="#4660fb"/><stop offset="0.36" stop-color="#3975fe"/><stop offset="0.43" stop-color="#2e86f7"/><stop offset="0.5" stop-color="#2a93ed"/><stop offset="0.57" stop-color="#249fe5"/><stop offset="0.64" stop-color="#17aedb"/><stop offset="0.71" stop-color="#04b6cd"/><stop offset="0.79" stop-color="#07b5d0"/><stop offset="0.86" stop-color="#15afd9"/><stop offset="0.93" stop-color="#19acdc"/><stop offset="1" stop-color="#19acdc"/></linearGradient>
<linearGradient id="h3_174" x1="0" y1="0" x2="0" y2="1"><stop offset="0" stop-color="#412cb9"/><stop offset="0.07" stop-color="#412dbb"/><stop offset="0.14" stop-color="#463adb"/><stop offset="0.21" stop-color="#4852f4"/><stop offset="0.29" stop-color="#4367fd"/><stop offset="0.36" stop-color="#317efb"/><stop offset="0.43" stop-color="#2b90ef"/><stop offset="0.5" stop-color="#239fe5"/><stop offset="0.57" stop-color="#19addc"/><stop offset="0.64" stop-color="#02bac4"/><stop offset="0.71" stop-color="#20c1b1"/><stop offset="0.79" stop-color="#1bc0b4"/><stop offset="0.86" stop-color="#09bcbe"/><stop offset="0.93" stop-color="#02bbc3"/><stop offset="1" stop-color="#02bbc3"/></linearGradient>
<linearGradient id="h3_175" x1="0" y1="0" x2="0" y2="1"><stop offset="0" stop-color="#422ebf"/><stop offset="0.07" stop-color="#422fc0"/><stop offset="0.14" stop-color="#463de0"/><stop offset="0.21" stop-color="#4758f8"/><stop offset="0.29" stop-color="#3e6fff"/><stop offset="0.36" stop-color="#2d88f6"/><stop offset="0.43" stop-color="#259ce7"/><stop offset="0.5" stop-color="#1aabdd"/><stop offset="0.57" stop-color="#01b8ca"/><stop offset="0.64" stop-color="#28c3aa"/><stop offset="0.71" stop-color="#3dca90"/><stop offset="0.79" stop-color="#3ac994"/><stop offset="0.86" stop-color="#31c6a0"/><stop offset="0.93" stop-color="#2dc4a6"/><stop offset="1" stop-color="#2dc4a6"/></linearGradient>
<linearGradient id="h3_176" x1="0" y1="0" x2="0" y2="1"><stop offset="0" stop-color="#422fc2"/><stop offset="0.07" stop-color="#4230c3"/><stop offset="0.14" stop-color="#473fe2"/><stop offset="0.21" stop-color="#475af9"/><stop offset="0.29" stop-color="#3a74fe"/><stop offset="0.36" stop-color="#2d8df2"/><stop offset="0.43" stop-color="#22a1e4"/><stop offset="0.5" stop-color="#12b1d7"/><stop offset="0.57" stop-color="#07bcbf"/><stop offset="0.64" stop-color="#34c79c"/><stop offset="0.71" stop-color="#56cc7b"/><stop offset="0.79" stop-color="#50cc7f"/><stop offset="0.86" stop-color="#3fca8e"/><stop offset="0.93" stop-color="#39c895"/><stop offset="1" stop-color="#39c895"/></linearGradient>
<linearGradient id="h3_177" x1="0" y1="0" x2="0" y2="1"><stop offset="0" stop-color="#4332ca"/><stop offset="0.07" stop-color="#4433cc"/><stop offset="0.14" stop-color="#4743e7"/><stop offset="0.21" stop-color="#465ffb"/><stop offset="0.29" stop-color="#327bfc"/><stop offset="0.36" stop-color="#2797eb"/><stop offset="0.43" stop-color="#1aacdd"/><stop offset="0.5" stop-color="#01b9c7"/><stop offset="0.57" stop-color="#28c2ab"/><stop offset="0.64" stop-color="#5acc77"/><stop offset="0.71" stop-color="#96ca48"/><stop offset="0.79" stop-color="#92ca4c"/><stop offset="0.86" stop-color="#7fcc5a"/><stop offset="0.93" stop-color="#75cc61"/><stop offset="1" stop-color="#75cc61"/></linearGradient>
<linearGradient id="h3_178" x1="0" y1="0" x2="0" y2="1"><stop offset="0" stop-color="#4537d5"/><stop offset="0.07" stop-color="#4537d6"/><stop offset="0.14" stop-color="#4848ec"/><stop offset="0.21" stop-color="#4563fc"/><stop offset="0.29" stop-color="#2f81fa"/><stop offset="0.36" stop-color="#23a0e5"/><stop offset="0.43" stop-color="#0ab4d1"/><stop offset="0.5" stop-color="#16bfb7"/><stop offset="0.57" stop-color="#38c896"/><stop offset="0.64" stop-color="#87cb54"/><stop offset="0.71" stop-color="#c7c12a"/><stop offset="0.79" stop-color="#c8c129"/><stop offset="0.86" stop-color="#c2c22c"/><stop offset="0.93" stop-color="#bfc32d"/><stop offset="1" stop-color="#bfc32d"/></linearGradient>
<linearGradient id="h3_179" x1="0" y1="0" x2="0" y2="1"><stop offset="0" stop-color="#463adc"/><stop offset="0.07" stop-color="#463bdd"/><stop offset="0.14" stop-color="#484bef"/><stop offset="0.21" stop-color="#4466fd"/><stop offset="0.29" stop-color="#2e87f7"/><stop offset="0.36" stop-color="#1da8e0"/><stop offset="0.43" stop-color="#02bbc3"/><stop offset="0.5" stop-color="#2dc4a5"/><stop offset="0.57" stop-color="#53cc7d"/><stop offset="0.64" stop-color="#aec637"/><stop offset="0.71" stop-color="#e5bb2d"/><stop offset="0.79" stop-color="#e7bb2e"/><stop offset="0.86" stop-color="#e7bb2e"/><stop offset="0.93" stop-color="#e7bb2e"/><stop offset="1" stop-color="#e7bb2e"/></linearGradient>
<linearGradient id="h3_180" x1="0" y1="0" x2="0" y2="1"><stop offset="0" stop-color="#463cde"/><stop offset="0.07" stop-color="#463cdf"/><stop offset="0.14" stop-color="#484df0"/><stop offset="0.21" stop-color="#4368fe"/><stop offset="0.29" stop-color="#2d8af4"/><stop offset="0.36" stop-color="#1aacdd"/><stop offset="0.43" stop-color="#0dbdbc"/><stop offset="0.5" stop-color="#35c79b"/><stop offset="0.57" stop-color="#65cd6e"/><stop offset="0.64" stop-color="#bcc42f"/><stop offset="0.71" stop-color="#edba33"/><stop offset="0.79" stop-color="#f0ba36"/><stop offset="0.86" stop-color="#f0ba36"/><stop offset="0.93" stop-color="#f0ba36"/><stop offset="1" stop-color="#f0ba36"/></linearGradient>
<linearGradient id="h3_181" x1="0" y1="0" x2="0" y2="1"><stop offset="0" stop-color="#463ee1"/><stop offset="0.07" stop-color="#473ee1"/><stop offset="0.14" stop-color="#484ff2"/><stop offset="0.21" stop-color="#416cfe"/><stop offset="0.29" stop-color="#2c8ff0"/><stop offset="0.36" stop-color="#0fb2d4"/><stop offset="0.43" stop-color="#27c2ac"/><stop offset="0.5" stop-color="#4ecc81"/><stop offset="0.57" stop-color="#8ecb4e"/><stop offset="0.64" stop-color="#d3bf27"/><stop offset="0.71" stop-color="#f6ba3b"/><stop offset="0.79" stop-color="#f9bb3d"/><stop offset="0.86" stop-color="#fabb3d"/><stop offset="0.93" stop-color="#fbbc3d"/><stop offset="1" stop-color="#fbbc3d"/></linearGradient>
<linearGradient id="h3_182" x1="0" y1="0" x2="0" y2="1"><stop offset="0" stop-color="#473fe3"/><stop offset="0.07" stop-color="#4740e4"/><stop offset="0.14" stop-color="#4852f4"/><stop offset="0.21" stop-color="#3d70ff"/><stop offset="0.29" stop-color="#2995ec"/><stop offset="0.36" stop-color="#02b7cb"/><stop offset="0.43" stop-color="#34c79c"/><stop offset="0.5" stop-color="#72cd63"/><stop offset="0.57" stop-color="#b4c534"/><stop offset="0.64" stop-color="#e4bb2c"/><stop offset="0.71" stop-color="#fcbc3d"/><stop offset="0.79" stop-color="#febf3b"/><stop offset="0.86" stop-color="#fec13a"/><stop offset="0.93" stop-color="#fec239"/><stop offset="1" stop-color="#fec239"/></linearGradient>
<linearGradient id="h3_183" x1="0" y1="0" x2="0" y2="1"><stop offset="0" stop-color="#4741e5"/><stop offset="0.07" stop-color="#4742e6"/><stop offset="0.14" stop-color="#4855f6"/><stop offset="0.21" stop-color="#3975fe"/><stop offset="0.29" stop-color="#269ae8"/><stop offset="0.36" stop-color="#05bbc1"/><stop offset="0.43" stop-color="#42ca8b"/><stop offset="0.5" stop-color="#95ca49"/><stop offset="0.57" stop-color="#d1bf27"/><stop offset="0.64" stop-color="#f4ba39"/><stop offset="0.71" stop-color="#fec339"/><stop offset="0.79" stop-color="#fec934"/><stop offset="0.86" stop-color="#fdce31"/><stop offset="0.93" stop-color="#fcd030"/><stop offset="1" stop-color="#fcd030"/></linearGradient>
<linearGradient id="h3_184" x1="0" y1="0" x2="0" y2="1"><stop offset="0" stop-color="#4742e6"/><stop offset="0.07" stop-color="#4742e6"/><stop offset="0.14" stop-color="#4756f7"/><stop offset="0.21" stop-color="#3678fd"/><stop offset="0.29" stop-color="#249de6"/><stop offset="0.36" stop-color="#0cbdbc"/><stop offset="0.43" stop-color="#4ccb83"/><stop offset="0.5" stop-color="#a3c83f"/><stop offset="0.57" stop-color="#debd29"/><stop offset="0.64" stop-color="#fdbd3d"/><stop offset="0.71" stop-color="#fdcc32"/><stop offset="0.79" stop-color="#fbd22f"/><stop offset="0.86" stop-color="#f9d72d"/><stop offset="0.93" stop-color="#f9d82c"/><stop offset="1" stop-color="#f9d82c"/></linearGradient>
<linearGradient id="h3_185" x1="0" y1="0" x2="0" y2="1"><stop offset="0" stop-color="#4743e7"/><stop offset="0.07" stop-color="#4744e8"/><stop offset="0.14" stop-color="#475af9"/><stop offset="0.21" stop-color="#307ffb"/><stop offset="0.29" stop-color="#20a4e3"/><stop offset="0.36" stop-color="#1fc0b2"/><stop offset="0.43" stop-color="#60cd72"/><stop offset="0.5" stop-color="#b9c431"/><stop offset="0.57" stop-color="#efba35"/><stop offset="0.64" stop-color="#fdcb33"/><stop offset="0.71" stop-color="#f6de29"/><stop offset="0.79" stop-color="#f5e327"/><stop offset="0.86" stop-color="#f5e626"/><stop offset="0.93" stop-color="#f5e725"/><stop offset="1" stop-color="#f5e725"/></linearGradient>
<linearGradient id="h3_186" x1="0" y1="0" x2="0" y2="1"><stop offset="0" stop-color="#4745e9"/><stop offset="0.07" stop-color="#4746ea"/><stop offset="0.14" stop-color="#465ffb"/><stop offset="0.21" stop-color="#2e87f7"/><stop offset="0.29" stop-color="#1babde"/><stop offset="0.36" stop-color="#2cc4a7"/><stop offset="0.43" stop-color="#73cd63"/><stop offset="0.5" stop-color="#c7c12a"/><stop offset="0.57" stop-color="#f9bb3d"/><stop offset="0.64" stop-color="#fad52e"/><stop offset="0.71" stop-color="#f5e924"/><stop offset="0.79" stop-color="#f5ec22"/><stop offset="0.86" stop-color="#f5ee21"/><stop offset="0.93" stop-color="#f6ef20"/><stop offset="1" stop-color="#f6ef20"/></linearGradient>
<linearGradient id="h3_187" x1="0" y1="0" x2="0" y2="1"><stop offset="0" stop-color="#4848ec"/><stop offset="0.07" stop-color="#4849ed"/><stop offset="0.14" stop-color="#4564fd"/><stop offset="0.21" stop-color="#2c8ef1"/><stop offset="0.29" stop-color="#12b1d6"/><stop offset="0.36" stop-color="#33c79c"/><stop offset="0.43" stop-color="#84cc56"/><stop offset="0.5" stop-color="#d1bf27"/><stop offset="0.57" stop-color="#febd3c"/><stop offset="0.64" stop-color="#f7dc2a"/><stop offset="0.71" stop-color="#f6f11f"/><stop offset="0.79" stop-color="#f7f31c"/><stop offset="0.86" stop-color="#f7f51c"/><stop offset="0.93" stop-color="#f7f51b"/><stop offset="1" stop-color="#f7f51b"/></linearGradient>
<linearGradient id="h3_188" x1="0" y1="0" x2="0" y2="1"><stop offset="0" stop-color="#484aee"/><stop offset="0.07" stop-color="#484bef"/><stop offset="0.14" stop-color="#4367fd"/><stop offset="0.21" stop-color="#2b91ef"/><stop offset="0.29" stop-color="#0bb3d2"/><stop offset="0.36" stop-color="#38c896"/><stop offset="0.43" stop-color="#8dcb50"/><stop offset="0.5" stop-color="#d5be28"/><stop offset="0.57" stop-color="#febf3b"/><stop offset="0.64" stop-color="#f6df29"/><stop offset="0.71" stop-color="#f7f41c"/><stop offset="0.79" stop-color="#f7f61a"/><stop offset="0.86" stop-color="#f8f61a"/><stop offset="0.93" stop-color="#f8f719"/><stop offset="1" stop-color="#f8f719"/></linearGradient>
<linearGradient id="h3_189" x1="0" y1="0" x2="0" y2="1"><stop offset="0" stop-color="#484ff2"/><stop offset="0.07" stop-color="#4850f3"/><stop offset="0.14" stop-color="#406cfe"/><stop offset="0.21" stop-color="#2797eb"/><stop offset="0.29" stop-color="#02b7cb"/><stop offset="0.36" stop-color="#44cb89"/><stop offset="0.43" stop-color="#9dc943"/><stop offset="0.5" stop-color="#ddbd29"/><stop offset="0.57" stop-color="#fec139"/><stop offset="0.64" stop-color="#f5e128"/><stop offset="0.71" stop-color="#f8f61a"/><stop offset="0.79" stop-color="#f8f719"/><stop offset="0.86" stop-color="#f8f719"/><stop offset="0.93" stop-color="#f8f719"/><stop offset="1" stop-color="#f8f719"/></linearGradient>
<linearGradient id="h3_190" x1="0" y1="0" x2="0" y2="1"><stop offset="0" stop-color="#4853f5"/><stop offset="0.07" stop-color="#4854f6"/><stop offset="0.14" stop-color="#3d71ff"/><stop offset="0.21" stop-color="#269ae8"/><stop offset="0.29" stop-color="#02bac5"/><stop offset="0.36" stop-color="#53cc7d"/><stop offset="0.43" stop-color="#acc738"/><stop offset="0.5" stop-color="#e4bb2c"/><stop offset="0.57" stop-color="#fec338"/><stop offset="0.64" stop-color="#f5e227"/><stop offset="0.71" stop-color="#f8f61a"/><stop offset="0.79" stop-color="#f8f719"/><stop offset="0.86" stop-color="#f8f719"/><stop offset="0.93" stop-color="#f8f719"/><stop offset="1" stop-color="#f8f719"/></linearGradient>
<linearGradient id="h3_191" x1="0" y1="0" x2="0" y2="1"><stop offset="0" stop-color="#4756f7"/><stop offset="0.07" stop-color="#4757f7"/><stop offset="0.14" stop-color="#3a74fe"/><stop offset="0.21" stop-color="#249de7"/><stop offset="0.29" stop-color="#07bcc0"/><stop offset="0.36" stop-color="#5ecd74"/><stop offset="0.43" stop-color="#b6c533"/><stop offset="0.5" stop-color="#e8bb2e"/><stop offset="0.57" stop-color="#fec438"/><stop offset="0.64" stop-color="#f5e227"/><stop offset="0.71" stop-color="#f8f61a"/><stop offset="0.79" stop-color="#f8f719"/><stop offset="0.86" stop-color="#f8f719"/><stop offset="0.93" stop-color="#f8f719"/><stop offset="1" stop-color="#f8f719"/></linearGradient>
<linearGradient id="h3_192" x1="0" y1="0" x2="0" y2="1"><stop offset="0" stop-color="#4758f8"/><stop offset="0.07" stop-color="#4759f9"/><stop offset="0.14" stop-color="#3777fe"/><stop offset="0.21" stop-color="#23a0e5"/><stop offset="0.29" stop-color="#0cbdbc"/><stop offset="0.36" stop-color="#64cd6f"/><stop offset="0.43" stop-color="#b9c431"/><stop offset="0.5" stop-color="#e7bb2e"/><stop offset="0.57" stop-color="#fec338"/><stop offset="0.64" stop-color="#f5e228"/><stop offset="0.71" stop-color="#f8f61a"/><stop offset="0.79" stop-color="#f8f719"/><stop offset="0.86" stop-color="#f8f719"/><stop offset="0.93" stop-color="#f8f719"/><stop offset="1" stop-color="#f8f719"/></linearGradient>
<linearGradient id="h3_193" x1="0" y1="0" x2="0" y2="1"><stop offset="0" stop-color="#4759f8"/><stop offset="0.07" stop-color="#475af9"/><stop offset="0.14" stop-color="#3578fd"/><stop offset="0.21" stop-color="#23a1e4"/><stop offset="0.29" stop-color="#0ebebb"/><stop offset="0.36" stop-color="#64cd6f"/><stop offset="0.43" stop-color="#b7c531"/><stop offset="0.5" stop-color="#e6bb2d"/><stop offset="0.57" stop-color="#fec239"/><stop offset="0.64" stop-color="#f5e128"/><stop offset="0.71" stop-color="#f8f61a"/><stop offset="0.79" stop-color="#f8f719"/><stop offset="0.86" stop-color="#f8f719"/><stop offset="0.93" stop-color="#f8f719"/><stop offset="1" stop-color="#f8f719"/></linearGradient>
<linearGradient id="h3_194" x1="0" y1="0" x2="0" y2="1"><stop offset="0" stop-color="#475bfa"/><stop offset="0.07" stop-color="#475dfa"/><stop offset="0.14" stop-color="#327cfc"/><stop offset="0.21" stop-color="#20a4e3"/><stop offset="0.29" stop-color="#13beb9"/><stop offset="0.36" stop-color="#61cd71"/><stop offset="0.43" stop-color="#b2c635"/><stop offset="0.5" stop-color="#e1bc2b"/><stop offset="0.57" stop-color="#fec03b"/><stop offset="0.64" stop-color="#f6e028"/><stop offset="0.71" stop-color="#f7f61a"/><stop offset="0.79" stop-color="#f8f719"/><stop offset="0.86" stop-color="#f8f719"/><stop offset="0.93" stop-color="#f8f719"/><stop offset="1" stop-color="#f8f719"/></linearGradient>
<linearGradient id="h3_195" x1="0" y1="0" x2="0" y2="1"><stop offset="0" stop-color="#465dfb"/><stop offset="0.07" stop-color="#465ffb"/><stop offset="0.14" stop-color="#307ffb"/><stop offset="0.21" stop-color="#1ea7e1"/><stop offset="0.29" stop-color="#17bfb6"/><stop offset="0.36" stop-color="#5bcc77"/><stop offset="0.43" stop-color="#a9c73b"/><stop offset="0.5" stop-color="#dcbd29"/><stop offset="0.57" stop-color="#fdbd3d"/><stop offset="0.64" stop-color="#f8da2b"/><stop offset="0.71" stop-color="#f6f020"/><stop offset="0.79" stop-color="#f7f41c"/><stop offset="0.86" stop-color="#f7f61a"/><stop offset="0.93" stop-color="#f8f61a"/><stop offset="1" stop-color="#f8f61a"/></linearGradient>
<linearGradient id="h3_196" x1="0" y1="0" x2="0" y2="1"><stop offset="0" stop-color="#465ffb"/><stop offset="0.07" stop-color="#4661fc"/><stop offset="0.14" stop-color="#2e83f9"/><stop offset="0.21" stop-color="#1aacdd"/><stop offset="0.29" stop-color="#1cc0b4"/><stop offset="0.36" stop-color="#54cc7d"/><stop offset="0.43" stop-color="#9dc943"/><stop offset="0.5" stop-color="#d5be28"/><stop offset="0.57" stop-color="#fabb3d"/><stop offset="0.64" stop-color="#fbd22f"/><stop offset="0.71" stop-color="#f5e626"/><stop offset="0.79" stop-color="#f5ec22"/><stop offset="0.86" stop-color="#f6f020"/><stop offset="0.93" stop-color="#f6f11f"/><stop offset="1" stop-color="#f6f11f"/></linearGradient>
<linearGradient id="h3_197" x1="0" y1="0" x2="0" y2="1"><stop offset="0" stop-color="#4660fc"/><stop offset="0.07" stop-color="#4562fc"/><stop offset="0.14" stop-color="#2e85f8"/><stop offset="0.21" stop-color="#17aeda"/><stop offset="0.29" stop-color="#1ec0b2"/><stop offset="0.36" stop-color="#50cc80"/><stop offset="0.43" stop-color="#97ca48"/><stop offset="0.5" stop-color="#d1bf27"/><stop offset="0.57" stop-color="#f7ba3c"/><stop offset="0.64" stop-color="#fdcd31"/><stop offset="0.71" stop-color="#f6e029"/><stop offset="0.79" stop-color="#f5e725"/><stop offset="0.86" stop-color="#f5eb23"/><stop offset="0.93" stop-color="#f5ed22"/><stop offset="1" stop-color="#f5ed22"/></linearGradient>
<linearGradient id="h3_198" x1="0" y1="0" x2="0" y2="1"><stop offset="0" stop-color="#4562fc"/><stop offset="0.07" stop-color="#4563fd"/><stop offset="0.14" stop-color="#2d8af5"/><stop offset="0.21" stop-color="#0fb2d4"/><stop offset="0.29" stop-color="#24c1af"/><stop offset="0.36" stop-color="#49cb85"/><stop offset="0.43" stop-color="#8bcb51"/><stop offset="0.5" stop-color="#cac129"/><stop offset="0.57" stop-color="#edba33"/><stop offset="0.64" stop-color="#fcbc3d"/><stop offset="0.71" stop-color="#fec537"/><stop offset="0.79" stop-color="#fcd030"/><stop offset="0.86" stop-color="#f7dd2a"/><stop offset="0.93" stop-color="#f5e228"/><stop offset="1" stop-color="#f5e228"/></linearGradient>
<linearGradient id="h3_199" x1="0" y1="0" x2="0" y2="1"><stop offset="0" stop-color="#4563fd"/><stop offset="0.07" stop-color="#4465fd"/><stop offset="0.14" stop-color="#2c8ef1"/><stop offset="0.21" stop-color="#05b6ce"/><stop offset="0.29" stop-color="#26c2ac"/><stop offset="0.36" stop-color="#43ca8b"/><stop offset="0.43" stop-color="#7bcc5d"/><stop offset="0.5" stop-color="#bdc32f"/><stop offset="0.57" stop-color="#e0bc2a"/><stop offset="0.64" stop-color="#edba33"/><stop offset="0.71" stop-color="#f6ba3b"/><stop offset="0.79" stop-color="#fdbd3d"/><stop offset="0.86" stop-color="#fec438"/><stop offset="0.93" stop-color="#fec735"/><stop offset="1" stop-color="#fec735"/></linearGradient>
<linearGradient id="h3_200" x1="0" y1="0" x2="0" y2="1"><stop offset="0" stop-color="#4464fd"/><stop offset="0.07" stop-color="#4466fd"/><stop offset="0.14" stop-color="#2b91ef"/><stop offset="0.21" stop-color="#01b8c9"/><stop offset="0.29" stop-color="#27c2ac"/><stop offset="0.36" stop-color="#3cc992"/><stop offset="0.43" stop-color="#68cd6b"/><stop offset="0.5" stop-color="#a7c73c"/><stop offset="0.57" stop-color="#cbc029"/><stop offset="0.64" stop-color="#d9be28"/><stop offset="0.71" stop-color="#e2bc2b"/><stop offset="0.79" stop-color="#ecba32"/><stop offset="0.86" stop-color="#f5ba3a"/><stop offset="0.93" stop-color="#f8ba3d"/><stop offset="1" stop-color="#f8ba3d"/></linearGradient>
<linearGradient id="h3_201" x1="0" y1="0" x2="0" y2="1"><stop offset="0" stop-color="#4465fd"/><stop offset="0.07" stop-color="#4367fd"/><stop offset="0.14" stop-color="#2a93ee"/><stop offset="0.21" stop-color="#01b9c7"/><stop offset="0.29" stop-color="#27c2ac"/><stop offset="0.36" stop-color="#39c895"/><stop offset="0.43" stop-color="#5fcd73"/><stop offset="0.5" stop-color="#9bc945"/><stop offset="0.57" stop-color="#bec32e"/><stop offset="0.64" stop-color="#cbc129"/><stop offset="0.71" stop-color="#d4bf28"/><stop offset="0.79" stop-color="#e0bc2a"/><stop offset="0.86" stop-color="#ebba32"/><stop offset="0.93" stop-color="#f0ba36"/><stop offset="1" stop-color="#f0ba36"/></linearGradient>
<linearGradient id="h3_202" x1="0" y1="0" x2="0" y2="1"><stop offset="0" stop-color="#4466fd"/><stop offset="0.07" stop-color="#4368fe"/><stop offset="0.14" stop-color="#2895ec"/><stop offset="0.21" stop-color="#02bac3"/><stop offset="0.29" stop-color="#27c2ac"/><stop offset="0.36" stop-color="#35c79a"/><stop offset="0.43" stop-color="#4fcc80"/><stop offset="0.5" stop-color="#7ccc5c"/><stop offset="0.57" stop-color="#9ac945"/><stop offset="0.64" stop-color="#a5c83d"/><stop offset="0.71" stop-color="#adc638"/><stop offset="0.79" stop-color="#bac430"/><stop offset="0.86" stop-color="#c9c129"/><stop offset="0.93" stop-color="#cfc028"/><stop offset="1" stop-color="#cfc028"/></linearGradient>
<linearGradient id="h3_203" x1="0" y1="0" x2="0" y2="1"><stop offset="0" stop-color="#4366fd"/><stop offset="0.07" stop-color="#4369fe"/><stop offset="0.14" stop-color="#2797ea"/><stop offset="0.21" stop-color="#06bcc0"/><stop offset="0.29" stop-color="#27c2ac"/><stop offset="0.36" stop-color="#33c69d"/><stop offset="0.43" stop-color="#41ca8d"/><stop offset="0.5" stop-color="#59cc78"/><stop offset="0.57" stop-color="#68cd6c"/><stop offset="0.64" stop-color="#6dcd68"/><stop offset="0.71" stop-color="#71cd64"/><stop offset="0.79" stop-color="#7ccc5c"/><stop offset="0.86" stop-color="#8dcb50"/><stop offset="0.93" stop-color="#94ca4a"/><stop offset="1" stop-color="#94ca4a"/></linearGradient>
<linearGradient id="h3_204" x1="0" y1="0" x2="0" y2="1"><stop offset="0" stop-color="#4367fd"/><stop offset="0.07" stop-color="#4269fe"/><stop offset="0.14" stop-color="#2699e9"/><stop offset="0.21" stop-color="#09bdbe"/><stop offset="0.29" stop-color="#28c2ab"/><stop offset="0.36" stop-color="#32c69f"/><stop offset="0.43" stop-color="#36c898"/><stop offset="0.5" stop-color="#3ac993"/><stop offset="0.57" stop-color="#3cc992"/><stop offset="0.64" stop-color="#37c897"/><stop offset="0.71" stop-color="#33c69d"/><stop offset="0.79" stop-color="#35c79a"/><stop offset="0.86" stop-color="#3dca90"/><stop offset="0.93" stop-color="#43ca8a"/><stop offset="1" stop-color="#43ca8a"/></linearGradient>
<linearGradient id="h3_205" x1="0" y1="0" x2="0" y2="1"><stop offset="0" stop-color="#4367fd"/><stop offset="0.07" stop-color="#4269fe"/><stop offset="0.14" stop-color="#269ae9"/><stop offset="0.21" stop-color="#0bbdbd"/><stop offset="0.29" stop-color="#28c3aa"/><stop offset="0.36" stop-color="#32c69f"/><stop offset="0.43" stop-color="#33c69d"/><stop offset="0.5" stop-color="#31c69f"/><stop offset="0.57" stop-color="#2fc5a3"/><stop offset="0.64" stop-color="#24c1ae"/><stop offset="0.71" stop-color="#13beb9"/><stop offset="0.79" stop-color="#16bfb7"/><stop offset="0.86" stop-color="#20c1b1"/><stop offset="0.93" stop-color="#24c2ae"/><stop offset="1" stop-color="#24c2ae"/></linearGradient>
</defs>
<g>
<rect x="313" y="261.5" width="1" height="191.2" fill="url(#h3_0)" fill-opacity="0.5"/>
<rect x="314" y="261.5" width="1" height="191.2" fill="url(#h3_1)"/>
<rect x="315" y="261.5" width="1" height="191.2" fill="url(#h3_2)"/>
<rect x="316" y="261.5" width="1" height="191.2" fill="url(#h3_3)"/>
<rect x="317" y="261.5" width="1" height="191.2" fill="url(#h3_4)"/>
<rect x="318" y="261.5" width="1" height="191.2" fill="url(#h3_5)"/>
<rect x="319" y="261.5" width="1" height="191.2" fill="url(#h3_6)"/>
<rect x="320" y="261.5" width="1" height="191.2" fill="url(#h3_7)"/>
<rect x="321" y="261.5" width="1" height="191.2" fill="url(#h3_8)"/>
<rect x="322" y="261.5" width="1" height="191.2" fill="url(#h3_9)"/>
<rect x="323" y="261.5" width="1" height="191.2" fill="url(#h3_10)"/>
<rect x="324" y="261.5" width="1" height="191.2" fill="url(#h3_11)"/>
<rect x="325" y="261.5" width="1" height="191.2" fill="url(#h3_12)"/>
<rect x="326" y="261.5" width="1" height="191.2" fill="url(#h3_13)"/>
<rect x="327" y="261.5" width="1" height="191.2" fill="url(#h3_14)"/>
<rect x="328" y="261.5" width="1" height="191.2" fill="url(#h3_15)"/>
<rect x="329" y="261.5" width="1" height="191.2" fill="url(#h3_16)"/>
<rect x="330" y="261.5" width="1" height="191.2" fill="url(#h3_17)"/>
<rect x="331" y="261.5" width="1" height="191.2" fill="url(#h3_18)"/>
<rect x="332" y="261.5" width="1" height="191.2" fill="url(#h3_19)"/>
<rect x="333" y="261.5" width="1" height="191.2" fill="url(#h3_20)"/>
<rect x="334" y="261.5" width="1" height="191.2" fill="url(#h3_21)"/>
<rect x="335" y="261.5" width="1" height="191.2" fill="url(#h3_22)"/>
<rect x="336" y="261.5" width="1" height="191.2" fill="url(#h3_23)"/>
<rect x="337" y="261.5" width="1" height="191.2" fill="url(#h3_24)"/>
<rect x="338" y="261.5" width="1" height="191.2" fill="url(#h3_25)"/>
<rect x="339" y="261.5" width="1" height="191.2" fill="url(#h3_26)"/>
<rect x="340" y="261.5" width="1" height="191.2" fill="url(#h3_27)"/>
<rect x="341" y="261.5" width="1" height="191.2" fill="url(#h3_28)"/>
<rect x="342" y="261.5" width="1" height="191.2" fill="url(#h3_29)"/>
<rect x="343" y="261.5" width="1" height="191.2" fill="url(#h3_30)"/>
<rect x="344" y="261.5" width="1" height="191.2" fill="url(#h3_31)"/>
<rect x="345" y="261.5" width="1" height="191.2" fill="url(#h3_32)"/>
<rect x="346" y="261.5" width="1" height="191.2" fill="url(#h3_33)"/>
<rect x="347" y="261.5" width="1" height="191.2" fill="url(#h3_34)"/>
<rect x="348" y="261.5" width="1" height="191.2" fill="url(#h3_35)"/>
<rect x="349" y="261.5" width="1" height="191.2" fill="url(#h3_36)"/>
<rect x="350" y="261.5" width="1" height="191.2" fill="url(#h3_37)"/>
<rect x="351" y="261.5" width="1" height="191.2" fill="url(#h3_38)"/>
<rect x="352" y="261.5" width="1" height="191.2" fill="url(#h3_39)"/>
<rect x="353" y="261.5" width="1" height="191.2" fill="url(#h3_40)"/>
<rect x="354" y="261.5" width="1" height="191.2" fill="url(#h3_41)"/>
<rect x="355" y="261.5" width="1" height="191.2" fill="url(#h3_42)"/>
<rect x="356" y="261.5" width="1" height="191.2" fill="url(#h3_43)"/>
<rect x="357" y="261.5" width="1" height="191.2" fill="url(#h3_44)"/>
<rect x="358" y="261.5" width="1" height="191.2" fill="url(#h3_45)"/>
<rect x="359" y="261.5" width="1" height="191.2" fill="url(#h3_46)"/>
<rect x="360" y="261.5" width="1" height="191.2" fill="url(#h3_47)"/>
<rect x="361" y="261.5" width="1" height="191.2" fill="url(#h3_48)"/>
<rect x="362" y="261.5" width="1" height="191.2" fill="url(#h3_49)"/>
<rect x="363" y="261.5" width="1" height="191.2" fill="url(#h3_50)"/>
<rect x="364" y="261.5" width="1" height="191.2" fill="url(#h3_51)"/>
<rect x="365" y="261.5" width="1" height="191.2" fill="url(#h3_52)"/>
<rect x="366" y="261.5" width="1" height="191.2" fill="url(#h3_53)"/>
<rect x="367" y="261.5" width="1" height="191.2" fill="url(#h3_54)"/>
<rect x="368" y="261.5" width="1" height="191.2" fill="url(#h3_55)"/>
<rect x="369" y="261.5" width="1" height="191.2" fill="url(#h3_56)"/>
<rect x="370" y="261.5" width="1" height="191.2" fill="url(#h3_57)"/>
<rect x="371" y="261.5" width="1" height="191.2" fill="url(#h3_58)"/>
<rect x="372" y="261.5" width="1" height="191.2" fill="url(#h3_59)"/>
<rect x="373" y="261.5" width="1" height="191.2" fill="url(#h3_60)"/>
<rect x="374" y="261.5" width="1" height="191.2" fill="url(#h3_61)"/>
<rect x="375" y="261.5" width="1" height="191.2" fill="url(#h3_62)"/>
<rect x="376" y="261.5" width="1" height="191.2" fill="url(#h3_63)"/>
<rect x="377" y="261.5" width="1" height="191.2" fill="url(#h3_64)"/>
<rect x="378" y="261.5" width="1" height="191.2" fill="url(#h3_65)"/>
<rect x="379" y="261.5" width="1" height="191.2" fill="url(#h3_66)"/>
<rect x="380" y="261.5" width="1" height="191.2" fill="url(#h3_67)"/>
<rect x="381" y="261.5" width="1" height="191.2" fill="url(#h3_68)"/>
<rect x="382" y="261.5" width="1" height="191.2" fill="url(#h3_69)"/>
<rect x="383" y="261.5" width="1" height="191.2" fill="url(#h3_70)"/>
<rect x="384" y="261.5" width="1" height="191.2" fill="url(#h3_71)"/>
<rect x="385" y="261.5" width="1" height="191.2" fill="url(#h3_72)"/>
<rect x="386" y="261.5" width="1" height="191.2" fill="url(#h3_73)"/>
<rect x="387" y="261.5" width="1" height="191.2" fill="url(#h3_74)"/>
<rect x="388" y="261.5" width="1" height="191.2" fill="url(#h3_75)"/>
<rect x="389" y="261.5" width="1" height="191.2" fill="url(#h3_76)"/>
<rect x="390" y="261.5" width="1" height="191.2" fill="url(#h3_77)"/>
<rect x="391" y="261.5" width="1" height="191.2" fill="url(#h3_78)"/>
<rect x="392" y="261.5" width="1" height="191.2" fill="url(#h3_79)"/>
<rect x="393" y="261.5" width="1" height="191.2" fill="url(#h3_80)"/>
<rect x="394" y="261.5" width="1" height="191.2" fill="url(#h3_81)"/>
<rect x="395" y="261.5" width="1" height="191.2" fill="url(#h3_82)"/>
<rect x="396" y="261.5" width="1" height="191.2" fill="url(#h3_83)"/>
<rect x="397" y="261.5" width="1" height="191.2" fill="url(#h3_84)"/>
<rect x="398" y="261.5" width="1" height="191.2" fill="url(#h3_85)"/>
<rect x="399" y="261.5" width="1" height="191.2" fill="url(#h3_86)"/>
<rect x="400" y="261.5" width="1" height="191.2" fill="url(#h3_87)"/>
<rect x="401" y="261.5" width="1" height="191.2" fill="url(#h3_88)"/>
<rect x="402" y="261.5" width="1" height="191.2" fill="url(#h3_89)"/>
<rect x="403" y="261.5" width="1" height="191.2" fill="url(#h3_90)"/>
<rect x="404" y="261.5" width="1" height="191.2" fill="url(#h3_91)"/>
<rect x="405" y="261.5" width="1" height="191.2" fill="url(#h3_92)"/>
<rect x="406" y="261.5" width="1" height="191.2" fill="url(#h3_93)"/>
<rect x="407" y="261.5" width="1" height="191.2" fill="url(#h3_94)"/>
<rect x="408" y="261.5" width="1" height="191.2" fill="url(#h3_95)"/>
<rect x="409" y="261.5" width="1" height="191.2" fill="url(#h3_96)"/>
<rect x="410" y="261.5" width="1" height="191.2" fill="url(#h3_97)"/>
<rect x="411" y="261.5" width="1" height="191.2" fill="url(#h3_98)"/>
<rect x="412" y="261.5" width="1" height="191.2" fill="url(#h3_99)"/>
<rect x="413" y="261.5" width="1" height="191.2" fill="url(#h3_100)"/>
<rect x="414" y="261.5" width="1" height="191.2" fill="url(#h3_101)"/>
<rect x="415" y="261.5" width="1" height="191.2" fill="url(#h3_102)"/>
<rect x="416" y="261.5" width="1" height="191.2" fill="url(#h3_103)"/>
<rect x="417" y="261.5" width="1" height="191.2" fill="url(#h3_104)"/>
<rect x="418" y="261.5" width="1" height="191.2" fill="url(#h3_105)"/>
<rect x="419" y="261.5" width="1" height="191.2" fill="url(#h3_106)"/>
<rect x="420" y="261.5" width="1" height="191.2" fill="url(#h3_107)"/>
<rect x="421" y="261.5" width="1" height="191.2" fill="url(#h3_108)"/>
<rect x="422" y="261.5" width="1" height="191.2" fill="url(#h3_109)"/>
<rect x="423" y="261.5" width="1" height="191.2" fill="url(#h3_110)"/>
<rect x="424" y="261.5" width="1" height="191.2" fill="url(#h3_111)"/>
<rect x="425" y="261.5" width="1" height="191.2" fill="url(#h3_112)"/>
<rect x="426" y="261.5" width="1" height="191.2" fill="url(#h3_113)"/>
<rect x="427" y="261.5" width="1" height="191.2" fill="url(#h3_114)"/>
<rect x="428" y="261.5" width="1" height="191.2" fill="url(#h3_115)"/>
<rect x="429" y="261.5" width="1" height="191.2" fill="url(#h3_116)"/>
<rect x="430" y="261.5" width="1" height="191.2" fill="url(#h3_117)"/>
<rect x="431" y="261.5" width="1" height="191.2" fill="url(#h3_118)"/>
<rect x="432" y="261.5" width="1" height="191.2" fill="url(#h3_119)"/>
<rect x="433" y="261.5" width="1" height="191.2" fill="url(#h3_120)"/>
<rect x="434" y="261.5" width="1" height="191.2" fill="url(#h3_121)"/>
<rect x="435" y="261.5" width="1" height="191.2" fill="url(#h3_122)"/>
<rect x="436" y="261.5" width="1" height="191.2" fill="url(#h3_123)"/>
<rect x="437" y="261.5" width="1" height="191.2" fill="url(#h3_124)"/>
<rect x="438" y="261.5" width="1" height="191.2" fill="url(#h3_125)"/>
<rect x="439" y="261.5" width="1" height="191.2" fill="url(#h3_126)"/>
<rect x="440" y="261.5" width="1" height="191.2" fill="url(#h3_127)"/>
<rect x="441" y="261.5" width="1" height="191.2" fill="url(#h3_128)"/>
<rect x="442" y="261.5" width="1" height="191.2" fill="url(#h3_129)"/>
<rect x="443" y="261.5" width="1" height="191.2" fill="url(#h3_130)"/>
<rect x="444" y="261.5" width="1" height="191.2" fill="url(#h3_131)"/>
<rect x="445" y="261.5" width="1" height="191.2" fill="url(#h3_132)"/>
<rect x="446" y="261.5" width="1" height="191.2" fill="url(#h3_133)"/>
<rect x="447" y="261.5" width="1" height="191.2" fill="url(#h3_134)"/>
<rect x="448" y="261.5" width="1" height="191.2" fill="url(#h3_135)"/>
<rect x="449" y="261.5" width="1" height="191.2" fill="url(#h3_136)"/>
<rect x="450" y="261.5" width="1" height="191.2" fill="url(#h3_137)"/>
<rect x="451" y="261.5" width="1" height="191.2" fill="url(#h3_138)"/>
<rect x="452" y="261.5" width="1" height="191.2" fill="url(#h3_139)"/>
<rect x="453" y="261.5" width="1" height="191.2" fill="url(#h3_140)"/>
<rect x="454" y="261.5" width="1" height="191.2" fill="url(#h3_141)"/>
<rect x="455" y="261.5" width="1" height="191.2" fill="url(#h3_142)"/>
<rect x="456" y="261.5" width="1" height="191.2" fill="url(#h3_143)"/>
<rect x="457" y="261.5" width="1" height="191.2" fill="url(#h3_144)"/>
<rect x="458" y="261.5" width="1" height="191.2" fill="url(#h3_145)"/>
<rect x="459" y="261.5" width="1" height="191.2" fill="url(#h3_146)"/>
<rect x="460" y="261.5" width="1" height="191.2" fill="url(#h3_147)"/>
<rect x="461" y="261.5" width="1" height="191.2" fill="url(#h3_148)"/>
<rect x="462" y="261.5" width="1" height="191.2" fill="url(#h3_149)"/>
<rect x="463" y="261.5" width="1" height="191.2" fill="url(#h3_150)"/>
<rect x="464" y="261.5" width="1" height="191.2" fill="url(#h3_151)"/>
<rect x="465" y="261.5" width="1" height="191.2" fill="url(#h3_152)"/>
<rect x="466" y="261.5" width="1" height="191.2" fill="url(#h3_153)"/>
<rect x="467" y="261.5" width="1" height="191.2" fill="url(#h3_154)"/>
<rect x="468" y="261.5" width="1" height="191.2" fill="url(#h3_155)"/>
<rect x="469" y="261.5" width="1" height="191.2" fill="url(#h3_156)"/>
<rect x="470" y="261.5" width="1" height="191.2" fill="url(#h3_157)"/>
<rect x="471" y="261.5" width="1" height="191.2" fill="url(#h3_158)"/>
<rect x="472" y="261.5" width="1" height="191.2" fill="url(#h3_159)"/>
<rect x="473" y="261.5" width="1" height="191.2" fill="url(#h3_160)"/>
<rect x="474" y="261.5" width="1" height="191.2" fill="url(#h3_161)"/>
<rect x="475" y="261.5" width="1" height="191.2" fill="url(#h3_162)"/>
<rect x="476" y="261.5" width="1" height="191.2" fill="url(#h3_163)"/>
<rect x="477" y="261.5" width="1" height="191.2" fill="url(#h3_164)"/>
<rect x="478" y="261.5" width="1" height="191.2" fill="url(#h3_165)"/>
<rect x="479" y="261.5" width="1" height="191.2" fill="url(#h3_166)"/>
<rect x="480" y="261.5" width="1" height="191.2" fill="url(#h3_167)"/>
<rect x="481" y="261.5" width="1" height="191.2" fill="url(#h3_168)"/>
<rect x="482" y="261.5" width="1" height="191.2" fill="url(#h3_169)"/>
<rect x="483" y="261.5" width="1" height="191.2" fill="url(#h3_170)"/>
<rect x="484" y="261.5" width="1" height="191.2" fill="url(#h3_171)"/>
<rect x="485" y="261.5" width="1" height="191.2" fill="url(#h3_172)"/>
<rect x="486" y="261.5" width="1" height="191.2" fill="url(#h3_173)"/>
<rect x="487" y="261.5" width="1" height="191.2" fill="url(#h3_174)"/>
<rect x="488" y="261.5" width="1" height="191.2" fill="url(#h3_175)"/>
<rect x="489" y="261.5" width="1" height="191.2" fill="url(#h3_176)"/>
<rect x="490" y="261.5" width="1" height="191.2" fill="url(#h3_177)"/>
<rect x="491" y="261.5" width="1" height="191.2" fill="url(#h3_178)"/>
<rect x="492" y="261.5" width="1" height="191.2" fill="url(#h3_179)"/>
<rect x="493" y="261.5" width="1" height="191.2" fill="url(#h3_180)"/>
<rect x="494" y="261.5" width="1" height="191.2" fill="url(#h3_181)"/>
<rect x="495" y="261.5" width="1" height="191.2" fill="url(#h3_182)"/>
<rect x="496" y="261.5" width="1" height="191.2" fill="url(#h3_183)"/>
<rect x="497" y="261.5" width="1" height="191.2" fill="url(#h3_184)"/>
<rect x="498" y="261.5" width="1" height="191.2" fill="url(#h3_185)"/>
<rect x="499" y="261.5" width="1" height="191.2" fill="url(#h3_186)"/>
<rect x="500" y="261.5" width="1" height="191.2" fill="url(#h3_187)"/>
<rect x="501" y="261.5" width="1" height="191.2" fill="url(#h3_188)"/>
<rect x="502" y="261.5" width="1" height="191.2" fill="url(#h3_189)"/>
<rect x="503" y="261.5" width="1" height="191.2" fill="url(#h3_190)"/>
<rect x="504" y="261.5" width="1" height="191.2" fill="url(#h3_191)"/>
<rect x="505" y="261.5" width="1" height="191.2" fill="url(#h3_192)"/>
<rect x="506" y="261.5" width="1" height="191.2" fill="url(#h3_193)"/>
<rect x="507" y="261.5" width="1" height="191.2" fill="url(#h3_194)"/>
<rect x="508" y="261.5" width="1" height="191.2" fill="url(#h3_195)"/>
<rect x="509" y="261.5" width="1" height="191.2" fill="url(#h3_196)"/>
<rect x="510" y="261.5" width="1" height="191.2" fill="url(#h3_197)"/>
<rect x="511" y="261.5" width="1" height="191.2" fill="url(#h3_198)"/>
<rect x="512" y="261.5" width="1" height="191.2" fill="url(#h3_199)"/>
<rect x="513" y="261.5" width="1" height="191.2" fill="url(#h3_200)"/>
<rect x="514" y="261.5" width="1" height="191.2" fill="url(#h3_201)"/>
<rect x="515" y="261.5" width="1" height="191.2" fill="url(#h3_202)"/>
<rect x="516" y="261.5" width="1" height="191.2" fill="url(#h3_203)"/>
<rect x="517" y="261.5" width="1" height="191.2" fill="url(#h3_204)"/>
<rect x="518" y="261.5" width="1" height="191.2" fill="url(#h3_205)" fill-opacity="0.3"/>
</g>
<circle cx="398.83" cy="368.92" r="1.6" fill="none" stroke="#f01818" stroke-width="1.3"/>
<text x="330.57" y="461.3" font-size="6.7" text-anchor="middle" fill="#333333">30</text>
<text x="347.63" y="461.3" font-size="6.7" text-anchor="middle" fill="#333333">60</text>
<text x="364.7" y="461.3" font-size="6.7" text-anchor="middle" fill="#333333">90</text>
<text x="381.77" y="461.3" font-size="6.7" text-anchor="middle" fill="#333333">120</text>
<text x="398.83" y="461.3" font-size="6.7" text-anchor="middle" fill="#333333">150</text>
<text x="415.9" y="461.3" font-size="6.7" text-anchor="middle" fill="#333333">180</text>
<text x="432.97" y="461.3" font-size="6.7" text-anchor="middle" fill="#333333">210</text>
<text x="450.03" y="461.3" font-size="6.7" text-anchor="middle" fill="#333333">240</text>
<text x="467.1" y="461.3" font-size="6.7" text-anchor="middle" fill="#333333">270</text>
<text x="484.17" y="461.3" font-size="6.7" text-anchor="middle" fill="#333333">300</text>
<text x="501.23" y="461.3" font-size="6.7" text-anchor="middle" fill="#333333">330</text>
<text x="518.3" y="461.3" font-size="6.7" text-anchor="middle" fill="#333333">360</text>
<text x="311.5" y="435.08" font-size="6.7" text-anchor="end" fill="#333333">10</text>
<text x="311.5" y="413.59" font-size="6.7" text-anchor="end" fill="#333333">20</text>
<text x="311.5" y="392.11" font-size="6.7" text-anchor="end" fill="#333333">30</text>
<text x="311.5" y="370.63" font-size="6.7" text-anchor="end" fill="#333333">40</text>
<text x="311.5" y="349.14" font-size="6.7" text-anchor="end" fill="#333333">50</text>
<text x="311.5" y="327.66" font-size="6.7" text-anchor="end" fill="#333333">60</text>
<text x="311.5" y="306.18" font-size="6.7" text-anchor="end" fill="#333333">70</text>
<text x="311.5" y="284.69" font-size="6.7" text-anchor="end" fill="#333333">80</text>
<text x="311.5" y="263.21" font-size="6.7" text-anchor="end" fill="#333333">90</text>
<text x="381.9" y="470.1" font-size="7.8" textLength="68.5" lengthAdjust="spacingAndGlyphs" fill="#333333">Azimuth Angle [deg.]</text>
<text transform="translate(300.9 392.3) rotate(-90)" font-size="7.8" textLength="70.5" lengthAdjust="spacingAndGlyphs" fill="#333333">Elevation Angle [deg.]</text>
<linearGradient id="cb3" x1="0" y1="0" x2="0" y2="1"><stop offset="0" stop-color="#f9fb15"/><stop offset="0.03" stop-color="#f6ef20"/><stop offset="0.06" stop-color="#f5e327"/><stop offset="0.09" stop-color="#f9d62d"/><stop offset="0.12" stop-color="#feca33"/><stop offset="0.16" stop-color="#febe3c"/><stop offset="0.19" stop-color="#f1ba37"/><stop offset="0.22" stop-color="#debc2a"/><stop offset="0.25" stop-color="#c8c129"/><stop offset="0.28" stop-color="#afc637"/><stop offset="0.31" stop-color="#94ca4a"/><stop offset="0.34" stop-color="#77cc60"/><stop offset="0.38" stop-color="#5ccc76"/><stop offset="0.41" stop-color="#44ca8a"/><stop offset="0.44" stop-color="#34c79c"/><stop offset="0.47" stop-color="#28c2ab"/><stop offset="0.5" stop-color="#12beb9"/><stop offset="0.53" stop-color="#01b9c6"/><stop offset="0.56" stop-color="#0cb3d3"/><stop offset="0.59" stop-color="#1aacdd"/><stop offset="0.62" stop-color="#21a3e3"/><stop offset="0.66" stop-color="#269ae9"/><stop offset="0.69" stop-color="#2c90f0"/><stop offset="0.72" stop-color="#2e85f8"/><stop offset="0.75" stop-color="#347afd"/><stop offset="0.78" stop-color="#3f6efe"/><stop offset="0.81" stop-color="#4562fc"/><stop offset="0.84" stop-color="#4757f7"/><stop offset="0.88" stop-color="#484cef"/><stop offset="0.91" stop-color="#4741e5"/><stop offset="0.94" stop-color="#4536d5"/><stop offset="0.97" stop-color="#422ebf"/><stop offset="1" stop-color="#3e26a8"/></linearGradient>
<rect x="526.8" y="261.5" width="6.9" height="191.2" fill="url(#cb3)"/>
<rect x="526.8" y="261.5" width="6.9" height="191.2" fill="none" stroke="#262626" stroke-width="0.4" stroke-opacity="0.55"/>
<text x="535.5" y="263.61" font-size="6.7" fill="#333333">1</text>
<path d="M533.7 280.62h-1.2M526.8 280.62h1.2" stroke="#262626" stroke-width="0.4" stroke-opacity="0.7"/>
<text x="535.5" y="282.73" font-size="6.7" fill="#333333">0.8</text>
<path d="M533.7 299.74h-1.2M526.8 299.74h1.2" stroke="#262626" stroke-width="0.4" stroke-opacity="0.7"/>
<text x="535.5" y="301.85" font-size="6.7" fill="#333333">0.6</text>
<path d="M533.7 318.86h-1.2M526.8 318.86h1.2" stroke="#262626" stroke-width="0.4" stroke-opacity="0.7"/>
<text x="535.5" y="320.97" font-size="6.7" fill="#333333">0.4</text>
<path d="M533.7 337.98h-1.2M526.8 337.98h1.2" stroke="#262626" stroke-width="0.4" stroke-opacity="0.7"/>
<text x="535.5" y="340.09" font-size="6.7" fill="#333333">0.2</text>
<path d="M533.7 357.1h-1.2M526.8 357.1h1.2" stroke="#262626" stroke-width="0.4" stroke-opacity="0.7"/>
<text x="535.5" y="359.21" font-size="6.7" fill="#333333">0</text>
<path d="M533.7 376.22h-1.2M526.8 376.22h1.2" stroke="#262626" stroke-width="0.4" stroke-opacity="0.7"/>
<text x="535.5" y="378.33" font-size="6.7" fill="#333333">-0.2</text>
<path d="M533.7 395.34h-1.2M526.8 395.34h1.2" stroke="#262626" stroke-width="0.4" stroke-opacity="0.7"/>
<text x="535.5" y="397.45" font-size="6.7" fill="#333333">-0.4</text>
<path d="M533.7 414.46h-1.2M526.8 414.46h1.2" stroke="#262626" stroke-width="0.4" stroke-opacity="0.7"/>
<text x="535.5" y="416.57" font-size="6.7" fill="#333333">-0.6</text>
<path d="M533.7 433.58h-1.2M526.8 433.58h1.2" stroke="#262626" stroke-width="0.4" stroke-opacity="0.7"/>
<text x="535.5" y="435.69" font-size="6.7" fill="#333333">-0.8</text>
<text x="535.5" y="454.81" font-size="6.7" fill="#333333">-1</text>
<text class="cap" x="127.6" y="236" text-anchor="middle"><tspan class="par">(</tspan>a<tspan class="par">)</tspan></text>
<text class="cap" x="417.3" y="236" text-anchor="middle"><tspan class="par">(</tspan>b<tspan class="par">)</tspan></text>
<text class="cap" x="127.6" y="493" text-anchor="middle"><tspan class="par">(</tspan>c<tspan class="par">)</tspan></text>
<text class="cap" x="417.3" y="493" text-anchor="middle"><tspan class="par">(</tspan>d<tspan class="par">)</tspan></text>
</svg></body></html>
